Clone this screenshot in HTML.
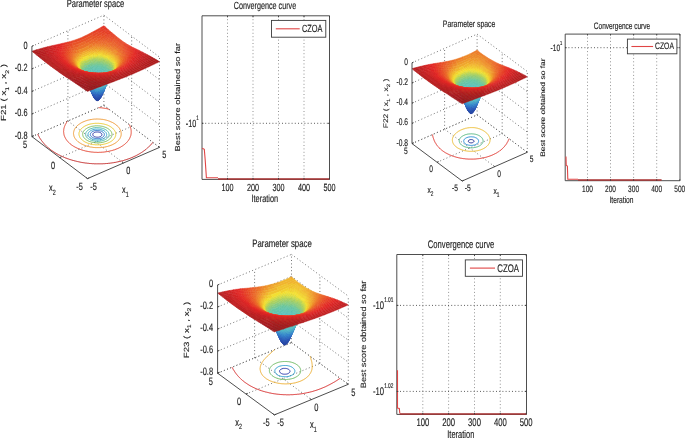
<!DOCTYPE html>
<html><head><meta charset="utf-8"><style>
html,body{margin:0;padding:0;background:#fff;width:685px;height:438px;overflow:hidden}
svg{display:block;filter:blur(0.35px)}
text{font-family:'Liberation Sans', Arial, Helvetica, sans-serif;fill:#222;stroke:#222;stroke-width:0.15px;text-rendering:geometricPrecision}
.g{stroke:#777;stroke-width:0.8;stroke-dasharray:1 2.4;fill:none}
.grid .g{stroke:#5a5a5a;stroke-width:0.85}
.g2{stroke:#333;stroke-width:0.8;stroke-dasharray:1 2.2;fill:none}
.a{stroke:#3a3a3a;stroke-width:0.9;fill:none}
rect.a{fill:#fff}
.cont path{fill:none;stroke-width:10}
.surf path{stroke-width:5;stroke-linejoin:round;fill:currentColor;stroke:currentColor}
.c0{color:#28429d}.c1{color:#2945a0}.c2{color:#2a47a3}.c3{color:#2a4aa6}.c4{color:#2b4ca9}.c5{color:#2b4fac}.c6{color:#2c51af}.c7{color:#2d54b2}.c8{color:#2e58b6}.c9{color:#2f5eb9}.c10{color:#3065bc}.c11{color:#316bbf}.c12{color:#3371c2}.c13{color:#3477c5}.c14{color:#357ec8}.c15{color:#3684cb}.c16{color:#398bcd}.c17{color:#3e92cc}.c18{color:#4299cb}.c19{color:#46a0ca}.c20{color:#4ba7c9}.c21{color:#4faec8}.c22{color:#53b5c7}.c23{color:#58bcc6}.c24{color:#5bc0c4}.c25{color:#5dc1bf}.c26{color:#5fc2ba}.c27{color:#61c3b5}.c28{color:#62c3b1}.c29{color:#64c4ac}.c30{color:#66c5a7}.c31{color:#68c6a2}.c32{color:#6fc79a}.c33{color:#7cc98d}.c34{color:#89cb80}.c35{color:#95cd74}.c36{color:#a2cf67}.c37{color:#b3d259}.c38{color:#c9d84b}.c39{color:#e0dd3c}.c40{color:#f2df30}.c41{color:#f1d12f}.c42{color:#f0c32e}.c43{color:#f0b52e}.c44{color:#efa72d}.c45{color:#ee992c}.c46{color:#ed8b2b}.c47{color:#ec7d2a}.c48{color:#eb712a}.c49{color:#ea6729}.c50{color:#e95d29}.c51{color:#e85328}.c52{color:#e64928}.c53{color:#e53f27}.c54{color:#e43527}.c55{color:#e32b26}.c56{color:#dd2525}.c57{color:#d42424}.c58{color:#ca2223}.c59{color:#c12022}.c60{color:#b71f20}.c61{color:#ae1d1f}.c62{color:#a41b1e}.c63{color:#9b1a1d}
.cv{stroke:#e04545;stroke-width:1.1;fill:none}
.cvb{stroke:#a83030;stroke-width:1.5;fill:none}
</style></head><body>
<svg width="685" height="438" viewBox="0 0 685 438">
<defs><filter id="bl" x="-5%" y="-5%" width="110%" height="110%"><feGaussianBlur stdDeviation="0.45"/></filter></defs>
<rect width="685" height="438" fill="#fff"/>
<g class="grid"><path class="g" d="M31.9 46.3L103.9 15.1"/>
<path class="g" d="M31.9 68.9L103.9 37.7"/>
<path class="g" d="M31.9 91.4L103.9 60.2"/>
<path class="g" d="M31.9 114L103.9 82.8"/>
<path class="g" d="M31.9 136.6L103.9 105.4"/>
<path class="g" d="M67.9 121L67.9 30.7"/>
<path class="g" d="M103.9 105.4L103.9 15.1"/>
<path class="g" d="M103.9 15.1L159.5 57.1"/>
<path class="g" d="M103.9 37.7L159.5 79.7"/>
<path class="g" d="M103.9 60.2L159.5 102.2"/>
<path class="g" d="M103.9 82.8L159.5 124.8"/>
<path class="g" d="M103.9 105.4L159.5 147.4"/>
<path class="g" d="M131.7 126.4L131.7 36.1"/>
<path class="g" d="M159.5 147.4L159.5 57.1"/>
<path class="g" d="M67.9 121L123.5 163"/>
<path class="g" d="M103.9 105.4L159.5 147.4"/>
<path class="g" d="M59.7 157.6L131.7 126.4"/>
<path class="g" d="M31.9 136.6L103.9 105.4"/></g>
<g class="cont" transform="scale(.1)"><path stroke="#c22525" d="M377 1341l1 3 2 4 2 4 2 3 2 5 2 3 3 5 1 3 3 5 2 2 3 6 2 2 3 5 2 3 4 5 3 4 2 4 4 5 2 2 4 5 3 5 3 2 4 5 4 5 2 2 4 5 5 5 3 3 4 4 4 4 5 5 5 4 3 3 4 4 6 4 5 5 5 4 5 4 6 5 5 4 6 4 6 4 6 4 6 4 6 4 3 2 6 4 7 4 6 4 7 3 3 2 7 4 6 4 4 1 7 4 7 3 4 2 7 4 7 3 4 2 8 3 3 2 8 3 4 2 8 3 4 1 8 3 4 2 9 3 4 1 7 3 6 2 4 1 9 3 5 1 5 2 8 2 5 1 5 2 8 2 6 1 5 2 6 1 8 2 5 1 6 1 5 2 8 1 7 2 6 1 5 1 5 1 7 1 7 1 7 1 7 1 6 1 6 1 6 0 6 1 6 1 6 0 6 1 7 1 6 0 6 1 7 0 7 1 6 0 7 0 7 1 7 0 7 0 6 0 5 0 6 0 6 0 7 0 7 0 8 0 6 0 5 0 6 0 8 0 8-1 5 0 5 0 8-1 8-1 5 0 6 0 9-1 5-1 6 0 9-2 5 0 7-1 7-1 5-1 9-1 5-1 9-2 5 0 9-2 5-1 8-2 5-1 9-2 4-1 9-2 7-1 5-2 9-2 5-1 7-2 8-3 8-2 5-2 8-2 7-3 8-2 5-2 7-3 7-2 8-3 7-3 7-3 8-3 7-4 7-3 7-3 7-3 7-4 4-2 6-3 6-4 7-3 6-4 3-2 7-4 6-3 5-4 4-2 6-4 5-3 4-3 6-5 3-2 6-4 3-3 5-3 5-4 3-3 5-4 3-3 5-4 3-3 4-3 4-4 2-2 5-5 3-2 4-5 3-3 2-2 5-5 2-3 3-3 4-5 2-2 2-3 4-5 0 0"/>
<path stroke="#e4412e" d="M675 1212l-2 2-2 3-3 4-3 4-1 3-2 3-2 4-3 4-2 4-2 3-1 3-2 4-1 3-2 4-1 4-2 4-1 4-1 4-1 3-1 4-1 4 0 3-1 4-1 3 0 4 0 3 0 4-1 3 0 4 0 4 1 5 0 3 0 4 1 3 0 4 1 5 1 3 1 3 1 4 1 5 1 2 2 5 2 4 1 3 3 5 1 3 3 5 2 3 3 5 2 3 3 5 2 2 4 5 4 5 2 2 4 5 5 5 5 4 2 2 5 5 5 4 6 5 5 4 6 4 6 4 6 4 3 2 7 4 7 3 6 4 4 2 7 3 5 3 6 2 8 3 4 2 7 3 5 2 6 2 7 2 4 2 9 2 5 2 4 1 9 2 6 2 4 1 6 1 8 2 7 1 5 1 6 1 5 1 7 1 7 1 6 1 7 0 7 1 6 1 6 0 7 1 6 0 6 0 6 0 6 1 7 0 8 0 7-1 6 0 5 0 6 0 9-1 6 0 5-1 8 0 7-1 5-1 9-1 5-1 8-1 6-1 7-1 7-2 8-1 5-2 8-2 4-1 9-2 8-3 8-2 4-1 7-3 8-3 7-3 8-3 7-3 7-3 7-4 6-3 4-2 6-4 6-4 7-4 3-2 5-4 4-2 5-4 5-4 3-3 5-4 3-3 3-3 4-4 3-2 4-5 3-3 2-3 4-4 2-4 2-2 2-4 3-4 2-4 2-3 2-3 2-4 2-4 1-4 2-4 1-3 1-4 2-3 1-4 0-3 1-4 1-4 1-3 0-4 1-4 0-4 0-3 0-4 0-3 0-3 0-4 0-5-1-4 0-3-1-3 0-4-1-5-1-4-1-2-1-5-2-4-1-3-1-5-2-4-1-2-2-6-2-3-2-4"/>
<path stroke="#e4412e" d="M1091 1093l-8-2-4-1-6-2-8-2-6-1-5-1-5-1-7-1-7-1-7-1-7-1-7-1-6 0-6-1-7 0-6 0-2-1"/>
<path stroke="#f09932" d="M1147 1238l-6-4-6-3-7-4-5-3-6-2-7-4-4-1-8-4-4-1-8-3-4-2-7-2-7-2-4-1-7-2-8-2-5-1-6-1-5-1-6-1-7-1-7 0-7-1-6-1-6 0-6 0-6-1-6 0-7 0-8 0-7 1-6 0-5 0-9 1-6 1-5 0-9 2-5 1-9 1-4 1-9 2-5 1-8 2-8 3-8 2-4 2-7 3-8 3-7 3-7 3-7 3-3 2-7 4-6 4-6 4-3 2-6 4-2 2-6 4-2 3-6 4-2 3-4 4-3 3-2 3-4 5-2 3-2 3-2 3-3 4-2 5-2 3-1 3-1 4-1 3-1 4-1 3-1 4-1 4 0 4-1 4 0 4 0 4 1 3 0 3 1 4 1 5 0 3 1 3 2 5 1 4 2 2 2 6 2 3 3 5 1 2 4 5 2 3 4 5 4 4 4 4 3 3 5 5 6 4 5 4 6 4 6 4 5 3 5 3 7 4 7 3 3 2 8 3 4 2 8 3 4 2 8 3 5 1 5 2 9 2 4 1 5 1 8 2 8 2 5 1 6 0 5 1 6 1 6 1 7 1 6 0 6 1 7 0 6 0 8 0 7 0 7 0 6 0 5 0 7 0 9-1 5-1 5 0 9-1 5-1 9-1 5-1 9-2 4-1 9-2 5-1 7-3 8-2 8-3 8-3 3-1 8-3 4-2 6-3 7-4 6-3 7-4 3-2 6-4 5-4 3-3 6-4 2-2 4-4 3-4 3-2 4-5 2-3 2-3 3-4 3-4 2-3 1-3 2-4 1-3 2-4 1-4 1-4 1-3 1-4 1-4 0-3 0-4 0-3 0-4 0-5-1-4 0-3-1-3-1-5-1-4-1-3-2-4-1-4-2-3-3-5-1-3-3-5-2-3-4-5-4-4-2-3-4-5-5-4-5-5-2-2-6-4-5-4-6-5-3-2"/>
<path stroke="#ebca2d" d="M1109 1269l-4-2-7-4-7-4-4-2-7-3-6-3-6-2-5-2-7-2-5-1-7-2-7-2-5-1-6-1-5-1-8-1-6-1-7-1-6 0-7-1-6 0-5 0-7 0-7 0-9 0-5 1-5 0-9 1-6 1-6 1-7 1-6 1-8 2-8 2-4 1-8 3-8 3-7 3-7 3-7 3-7 4-5 3-4 3-6 4-3 2-5 4-3 3-5 4-2 3-4 4-3 4-2 2-2 4-3 4-2 4-1 4-1 3-2 3-1 4 0 4-1 4 0 4 0 3 0 4 0 3 1 3 1 5 1 4 1 3 2 5 1 3 2 4 3 4 3 4 3 4 4 4 4 5 3 2 5 5 5 4 6 4 6 4 3 2 7 4 7 3 4 2 7 3 6 3 6 2 5 1 9 3 4 1 5 2 8 2 7 1 6 1 5 1 6 1 6 0 6 1 6 1 7 0 7 0 7 0 8 0 6 0 5 0 6 0 9-1 5-1 7-1 8-1 4-1 9-2 6-1 7-2 8-2 8-3 4-1 7-3 7-3 6-3 5-2 6-4 6-4 4-2 5-4 5-4 3-3 4-3 3-4 3-3 3-4 3-4 2-3 1-3 2-3 2-5 2-4 1-3 1-4 1-4 0-3 0-4 0-3 0-3 0-4-1-5 0-4-1-3-2-4-1-4-2-3-3-5-1-3-4-5-2-3-4-4-4-5-5-5-2-2-6-4-5-4-5-4"/>
<path stroke="#7dbd5a" d="M1078 1285l-3-2-7-4-7-3-4-2-8-3-4-1-7-2-7-2-5-2-5-1-7-1-7-1-7-1-7-1-6 0-6-1-6 0-6 0-5 0-8 0-8 1-5 1-7 1-7 1-6 1-8 1-8 3-4 1-8 3-7 2-8 4-6 3-7 4-3 2-6 4-4 3-4 3-3 3-4 5-2 2-3 4-3 4-2 4-1 3-2 3-1 4-1 3-1 4 0 4 0 4 0 4 1 3 0 3 2 5 1 4 1 3 3 5 2 3 4 5 3 3 3 4 5 5 5 4 6 4 6 4 7 4 3 1 7 4 5 2 7 3 5 1 8 3 5 1 5 1 7 2 7 1 8 1 6 1 6 1 6 0 7 0 6 0 5 0 6 0 7 0 9-1 5 0 6-1 8-1 5-1 8-2 8-2 4-2 8-2 8-3 7-3 7-4 5-3 4-3 6-4 3-2 5-4 3-3 4-5 2-2 2-3 3-4 2-5 2-3 1-4 1-3 1-4 1-4 0-4 0-3 0-3-1-4-1-4-1-4-1-3-2-5-2-3-3-5-2-3-5-5-4-4-3-3-5-4-6-4-6-4"/>
<path stroke="#48b9a9" d="M1050 1294l-3-2-8-3-4-2-9-3-4-1-5-1-7-2-8-1-6-1-7-1-6 0-7-1-5 0-6 0-5 1-9 0-6 1-6 1-8 1-6 2-7 2-8 2-7 3-7 3-7 4-6 4-3 2-5 4-3 3-4 4-3 4-2 2-2 4-2 4-1 4-1 4-1 3 0 4 0 3 0 3 1 5 1 4 1 3 3 5 2 3 3 5 2 2 5 5 5 4 6 4 6 4 4 2 7 4 7 3 4 2 6 1 8 3 5 1 5 1 7 1 7 1 7 1 6 0 6 1 6 0 6 0 8-1 7 0 5-1 9-2 5 0 8-2 6-2 6-2 8-3 7-3 6-4 4-2 6-4 4-3 4-4 2-2 5-5 1-3 2-3 2-3 2-4 1-4 1-4 0-3 0-4 0-4-1-4-1-4-1-3-3-5-1-3-4-5-2-2-4-5-5-5-6-4-6-4-7-3"/>
<path stroke="#33a5cf" d="M1027 1302l-6-2-5-2-8-2-5-2-6-1-5 0-6-1-7-1-7 0-8 1-7 0-5 0-9 2-4 1-9 2-8 3-3 1-5 2-6 3-6 4-5 4-3 3-4 3-3 4-2 3-1 3-2 4-1 3-1 4 0 4 1 5 1 3 1 3 2 5 2 3 4 5 3 3 4 4 6 4 3 2 7 4 7 3 4 2 8 2 6 2 5 1 5 1 7 1 7 1 6 0 6 0 8 0 8-1 4 0 9-2 5-1 9-2 6-2 5-2 7-3 3-2 7-4 5-4 3-3 3-3 3-5 2-2 2-4 1-3 1-3 1-4 0-5-1-4-1-3-1-3-3-6-1-2-4-5-5-5-5-4-6-4-7-4-6-2"/>
<path stroke="#2a73ca" d="M1013 1312l-8-2-4-1-6-2-8-1-6-1-6 0-6 0-7 0-8 1-5 1-8 2-8 3-7 3-6 4-5 4-3 3-3 2-3 5-1 4-1 4-1 3 0 3 1 3 2 6 1 3 4 5 3 2 5 4 6 4 3 2 8 4 4 1 8 2 7 2 6 0 6 1 7 0 6 0 5 0 7-1 7-1 9-3 4-1 7-3 4-2 6-4 5-4 2-3 3-2 2-5 2-4 1-4 0-3-1-3 0-4-2-5-2-2-4-5-5-5-6-4-6-4-5-2"/>
<path stroke="#2b38a7" d="M1001 1325l-4-2-6-1-8-2-6 0-6-1-5 1-10 1-4 1-7 3-7 4-3 2-4 4-2 4-1 3 0 4 0 4 1 3 4 5 5 4 6 4 8 3 5 1 5 1 6 1 8 0 8 0 4-1 9-2 7-3 6-4 4-3 3-5 2-3 0-4 0-3-1-3-2-5-3-3-5-4-7-4"/></g>
<g filter="url(#bl)"><g class="surf" transform="scale(.1)"><path class="c54" d="M999 280l20-12 20-11 16 14-21 12-20 12zM629 432l10-2 9-2 9-2 10-2 15 18-9 2-9 2-10 2-9 2z"/>
<path class="c53" d="M919 323l10-5 9-5 20-11 21-11 20-11 15 15-20 11-20 12-20 11-10 6-9 5zM667 424l9-3 9-2 10-3 9-2 10-3 15 20-9 2-10 3-9 2-9 2-10 2z"/>
<path class="c52" d="M714 411l9-3 9-3 10-3 9-3 9-3 10-4 9-3 9-4 10-3 9-4 10-4 9-5 9-4 10-4 9-5 9-4 10-5 9-4 9-5 10-5 9-5 9-5 16 17-9 5-10 5-9 5-9 5-10 5-9 5-9 5-10 5-9 4-10 5-9 4-9 4-10 4-9 4-9 4-10 3-9 4-9 3-10 3-9 3-10 3-9 3z"/>
<path class="c55" d="M592 441l9-2 10-3 9-2 9-2 16 18-9 2-10 2-9 1-10 2z"/>
<path class="c56" d="M542 452l22-5 9-2 10-2 9-2 15 16-9 2-9 2-10 2-22 4z"/>
<path class="c57" d="M519 457l23-5 15 15-22 5z"/>
<path class="c58" d="M475 468l22-6 22-5 16 15-22 4-23 6z"/>
<path class="c59" d="M430 479l23-6 22-5 15 14-22 5-22 6z"/>
<path class="c60" d="M364 498l22-6 22-7 22-6 16 14-22 6-23 6-22 6z"/>
<path class="c61" d="M319 512l22-7 23-7 15 13-22 7-22 7z"/>
<path class="c54" d="M1034 283l21-12 15 14-20 12zM617 455l9-1 10-2 9-2 15 19-9 1-9 2-10 1z"/>
<path class="c53" d="M974 318l20-12 20-11 20-12 16 14-20 12-20 12-21 13zM645 450l9-2 10-2 9-2 9-2 16 20-9 2-10 2-9 1-10 2z"/>
<path class="c52" d="M916 350l10-5 9-5 9-5 10-6 20-11 15 16-20 12-9 5-9 6-10 5-9 6zM682 442l10-2 9-2 9-2 10-3 15 21-9 3-9 2-10 2-9 1z"/>
<path class="c51" d="M720 433l9-2 9-3 10-3 9-3 10-3 9-3 9-4 10-3 9-4 9-4 10-4 9-4 9-4 10-5 9-4 10-5 9-5 9-5 10-5 9-5 9-5 16 18-9 5-10 6-9 5-10 5-9 5-9 5-10 5-9 5-9 4-10 5-9 4-9 4-10 4-9 4-10 3-9 4-9 3-10 3-9 2-9 3-10 2z"/>
<path class="c55" d="M589 461l9-2 9-2 10-2 15 18-9 1-9 2-10 1z"/>
<path class="c56" d="M557 467l22-4 10-2 15 16-9 2-22 4z"/>
<path class="c57" d="M513 476l22-4 22-5 16 16-23 4-22 4z"/>
<path class="c58" d="M468 487l22-5 23-6 15 15-22 5-22 5z"/>
<path class="c59" d="M424 499l22-6 22-6 16 14-23 5-22 6z"/>
<path class="c60" d="M379 511l22-6 23-6 15 13-22 6-22 6z"/>
<path class="c61" d="M335 525l22-7 22-7 16 13-23 6-22 7z"/>
<path class="c54" d="M1050 297l20-12 16 14-20 12zM614 476l9-2 9-1 10-1 15 18-9 1-9 1-10 1z"/>
<path class="c53" d="M1010 321l20-12 20-12 16 14-21 13-20 13zM642 472l9-2 9-1 10-2 15 20-9 1-9 1-10 1z"/>
<path class="c52" d="M960 351l9-5 20-12 21-13 15 16-20 12-20 13-9 6zM670 467l9-1 10-2 9-2 15 22-9 1-9 1-10 1z"/>
<path class="c51" d="M913 379l10-6 9-5 9-6 10-5 9-6 16 17-10 6-9 6-10 6-9 6-9 6zM698 462l9-1 10-2 9-2 16 22-10 2-9 1-10 2z"/>
<path class="c50" d="M848 413l9-4 9-5 10-5 9-5 9-5 10-5 9-5 16 19-10 5-9 6-9 6-10 5-9 5-9 6-10 5zM726 457l9-3 10-2 9-3 9-2 10-3 9-3 16 23-10 3-9 3-9 3-10 2-9 2-9 2z"/>
<path class="c49" d="M782 441l9-4 10-3 9-4 10-4 9-4 9-4 10-5 15 23-9 4-9 5-10 4-9 4-10 4-9 4-9 3z"/>
<path class="c55" d="M573 483l22-4 9-2 10-1 15 17-9 2-9 1-23 3z"/>
<path class="c56" d="M550 487l23-4 15 16-22 3z"/>
<path class="c57" d="M528 491l22-4 16 15-22 4z"/>
<path class="c58" d="M484 501l22-5 22-5 16 15-23 4-22 5z"/>
<path class="c59" d="M439 512l22-6 23-5 15 14-22 5-22 5z"/>
<path class="c60" d="M395 524l22-6 22-6 16 13-23 6-22 6z"/>
<path class="c61" d="M350 537l22-7 23-6 15 13-22 6-22 7z"/>
<path class="c53" d="M1045 324l21-13 20-12 15 13-20 13-20 13zM629 493l10-1 9-1 9-1 16 20-9 1-10 0-9 1z"/>
<path class="c52" d="M1005 349l20-12 20-13 16 14-20 14-20 13zM657 490l10-1 9-1 9-1 16 22-9 0-10 1-9 0z"/>
<path class="c51" d="M966 374l10-6 9-6 20-13 16 16-21 14-9 7-9 6zM685 487l10-1 9-1 16 23-10 0-9 1z"/>
<path class="c50" d="M929 398l9-6 9-6 10-6 9-6 16 18-10 6-9 7-9 6-10 7zM704 485l9-1 10-2 9-1 16 24-10 1-9 1-9 1z"/>
<path class="c49" d="M882 425l9-5 10-5 9-6 9-6 10-5 15 20-9 6-9 6-10 6-9 6-9 6zM732 481l10-2 9-2 9-2 10-2 15 26-9 2-10 1-9 2-9 1z"/>
<path class="c48" d="M770 473l9-3 9-3 10-3 9-3 9-4 10-4 9-4 10-4 9-5 9-4 10-5 9-6 16 23-10 6-9 6-10 5-9 5-9 5-10 4-9 4-9 4-10 3-9 3-9 3-10 3z"/>
<path class="c54" d="M611 496l9-1 9-2 16 19-10 0-9 1z"/>
<path class="c55" d="M588 499l23-3 15 17-22 2z"/>
<path class="c56" d="M566 502l22-3 16 16-22 3z"/>
<path class="c57" d="M521 510l23-4 22-4 16 16-23 3-22 3z"/>
<path class="c58" d="M477 520l22-5 22-5 16 14-22 4-22 5z"/>
<path class="c59" d="M455 525l22-5 16 13-23 5z"/>
<path class="c60" d="M388 543l22-6 22-6 23-6 15 13-22 6-22 5-22 7z"/>
<path class="c61" d="M366 550l22-7 16 13-23 6z"/>
<path class="c53" d="M1061 338l20-13 20-13 16 14-20 13-20 14zM635 512l10 0 9-1 16 19-10 0-9 0z"/>
<path class="c52" d="M1041 352l20-14 16 15-21 14zM654 511l10 0 9-1 15 21-9 0-9-1z"/>
<path class="c51" d="M1000 379l21-14 20-13 15 15-20 15-20 14zM673 510l9 0 10-1 15 22-9 0-10 0z"/>
<path class="c50" d="M972 398l10-6 9-6 9-7 16 17-9 7-10 7-9 7zM692 509l9 0 9-1 16 24-9 0-10-1z"/>
<path class="c49" d="M944 418l10-7 9-6 9-7 16 19-9 7-10 8-9 7zM710 508l10 0 9-1 16 25-10 0-9 0z"/>
<path class="c48" d="M916 436l10-6 9-6 9-6 16 21-9 7-10 7-9 7zM729 507l9-1 10-1 9-1 16 27-10 1-9 0-9 0z"/>
<path class="c47" d="M879 460l9-6 10-6 9-6 9-6 16 24-10 7-9 6-9 7-10 6zM757 504l9-2 10-1 9-2 16 28-10 2-9 1-9 1z"/>
<path class="c46" d="M785 499l10-3 9-3 9-3 10-3 9-4 9-4 10-4 9-5 9-5 10-5 15 26-9 6-9 6-10 5-9 5-9 4-10 4-9 4-10 3-9 2-9 2z"/>
<path class="c54" d="M604 515l22-2 9-1 16 18-9 1-23 1z"/>
<path class="c55" d="M582 518l22-3 15 17-22 1z"/>
<path class="c56" d="M559 521l23-3 15 15-22 3z"/>
<path class="c57" d="M537 524l22-3 16 15-22 3z"/>
<path class="c58" d="M493 533l22-5 22-4 16 15-23 3-22 5z"/>
<path class="c59" d="M448 544l22-6 23-5 15 14-22 4-22 6z"/>
<path class="c60" d="M404 556l22-7 22-5 16 13-23 5-22 6z"/>
<path class="c61" d="M381 562l23-6 15 12-22 7z"/>
<path class="c53" d="M1097 339l20-13 7 6-20 14zM642 531l9-1 7 9-9 0z"/>
<path class="c52" d="M1056 367l21-14 20-14 7 7-20 14-20 14zM651 530l9 0 10 0 7 10-9-1-10 0z"/>
<path class="c51" d="M1036 382l20-15 8 7-21 15zM670 530l9 1 9 0 8 10-10-1-9 0z"/>
<path class="c50" d="M1007 403l9-7 20-14 7 7-20 15-9 8zM688 531l10 0 9 0 7 11-9 0-9-1z"/>
<path class="c49" d="M979 424l9-7 9-7 10-7 7 9-9 7-10 7-9 8zM707 531l10 1 9 0 7 12-9-1-10-1z"/>
<path class="c48" d="M960 439l9-7 10-8 7 10-10 7-9 8zM726 532l9 0 10 0 7 13-10-1-9 0z"/>
<path class="c47" d="M932 460l9-7 10-7 9-7 7 10-9 7-10 8-9 7zM745 532l9 0 9 0 8 13-10 0-9 0z"/>
<path class="c46" d="M904 480l9-7 9-6 10-7 7 11-9 8-10 7-9 7zM763 532l10-1 9-1 7 15-9 0-9 0z"/>
<path class="c45" d="M866 503l10-5 9-6 9-6 10-6 7 13-9 7-10 6-9 6-9 6zM782 530l9-1 10-2 9-2 9-2 8 15-10 2-9 2-9 2-10 1z"/>
<path class="c44" d="M819 523l10-3 9-4 10-4 9-4 9-5 8 15-10 5-9 4-10 4-9 4-9 3z"/>
<path class="c54" d="M619 532l23-1 7 8-22 0z"/>
<path class="c55" d="M597 533l22-1 8 7-23 2z"/>
<path class="c56" d="M575 536l22-3 7 8-22 2z"/>
<path class="c57" d="M530 542l23-3 22-3 7 7-22 2-22 4z"/>
<path class="c58" d="M508 547l22-5 8 7-23 4z"/>
<path class="c59" d="M464 557l22-6 22-4 7 6-22 4-22 5z"/>
<path class="c60" d="M419 568l22-6 23-5 7 5-22 6-23 6z"/>
<path class="c61" d="M397 575l22-7 7 6-22 6z"/>
<path class="c53" d="M1104 346l20-14 7 6-20 14zM627 539l22 0 9 0 7 9-9 0-22-1z"/>
<path class="c52" d="M1064 374l20-14 20-14 7 6-20 15-20 14zM658 539l10 0 9 1 7 9-9 0-10-1z"/>
<path class="c51" d="M1043 389l21-15 7 7-20 16zM677 540l9 0 8 10-10-1z"/>
<path class="c50" d="M1023 404l20-15 8 8-21 16zM686 540l10 1 9 1 7 10-9-1-9-1z"/>
<path class="c49" d="M995 426l10-7 9-7 9-8 7 9-9 7-9 8-10 8zM705 542l9 0 10 1 7 12-9-2-10-1z"/>
<path class="c48" d="M976 441l10-7 9-8 7 10-9 8-9 7zM724 543l9 1 7 12-9-1z"/>
<path class="c47" d="M958 456l9-7 9-8 8 10-10 8-9 8zM733 544l9 0 10 1 7 13-9-1-10-1z"/>
<path class="c46" d="M939 471l9-7 10-8 7 11-9 8-10 8zM752 545l9 0 10 0 7 14-10 0-9-1z"/>
<path class="c45" d="M911 493l9-7 10-7 9-8 7 12-9 8-9 8-10 7zM771 545l9 0 9 0 7 15-9 0-9-1z"/>
<path class="c44" d="M883 512l9-6 10-6 9-7 7 13-9 8-10 7-9 6zM789 545l10-1 9-2 9-2 8 16-10 2-9 1-10 1z"/>
<path class="c43" d="M817 540l10-2 9-3 9-4 10-4 9-4 10-5 9-6 7 15-9 6-10 5-9 5-9 5-10 3-9 3-9 2z"/>
<path class="c55" d="M604 541l23-2 7 8-22 1z"/>
<path class="c56" d="M560 545l22-2 22-2 8 7-23 1-22 3z"/>
<path class="c57" d="M538 549l22-4 7 7-22 3z"/>
<path class="c58" d="M515 553l23-4 7 6-22 4z"/>
<path class="c59" d="M471 562l22-5 22-4 8 6-23 4-22 5z"/>
<path class="c60" d="M426 574l23-6 22-6 7 6-22 6-22 6z"/>
<path class="c61" d="M404 580l22-6 8 6-23 6z"/>
<path class="c53" d="M1111 352l20-14 8 6-21 14zM634 547l22 1 7 8-22-1z"/>
<path class="c52" d="M1091 367l20-15 7 6-20 15zM656 548l9 0 10 1 7 9-9-1-10-1z"/>
<path class="c51" d="M1051 397l20-16 20-14 7 6-20 16-20 15zM675 549l9 0 7 10-9-1z"/>
<path class="c50" d="M1030 413l21-16 7 7-20 17zM684 549l10 1 9 1 7 11-9-2-10-1z"/>
<path class="c49" d="M1012 428l9-8 9-7 8 8-10 8-9 8zM703 551l9 1 10 1 7 12-10-2-9-1z"/>
<path class="c48" d="M993 444l9-8 10-8 7 9-9 8-10 8zM722 553l9 2 7 12-9-2z"/>
<path class="c47" d="M974 459l10-8 9-7 7 9-9 9-9 8zM731 555l9 1 10 1 7 13-9-1-10-2z"/>
<path class="c46" d="M956 475l9-8 9-8 8 11-10 9-9 8zM750 557l9 1 7 14-9-2z"/>
<path class="c45" d="M937 491l9-8 10-8 7 12-10 9-9 8zM759 558l9 1 10 0 7 16-9-2-10-1z"/>
<path class="c44" d="M918 506l10-7 9-8 7 13-9 9-10 8zM778 559l9 1 7 15-9 0z"/>
<path class="c43" d="M899 521l10-7 9-8 7 15-9 8-9 7zM787 560l9 0 10-1 9-1 7 17-9 1-9 0-10-1z"/>
<path class="c42" d="M815 558l10-2 9-2 9-3 10-3 9-5 9-5 10-5 9-6 9-6 8 15-10 7-9 6-9 6-10 5-9 5-9 3-10 3-9 2-10 2z"/>
<path class="c54" d="M612 548l22-1 7 8-22 0z"/>
<path class="c55" d="M589 549l23-1 7 7-22 1z"/>
<path class="c56" d="M567 552l22-3 8 7-23 3z"/>
<path class="c57" d="M545 555l22-3 7 7-22 3z"/>
<path class="c58" d="M523 559l22-4 7 7-22 3z"/>
<path class="c59" d="M478 568l22-5 23-4 7 6-22 5-23 4z"/>
<path class="c60" d="M434 580l22-6 22-6 7 6-22 6-22 6z"/>
<path class="c61" d="M411 586l23-6 7 6-22 6z"/>
<path class="c53" d="M1118 358l21-14 7 6-20 15zM641 555l22 1 8 9-23-2z"/>
<path class="c52" d="M1098 373l20-15 8 7-21 15zM663 556l10 1 7 9-9-1z"/>
<path class="c51" d="M1078 389l20-16 7 7-20 16zM673 557l9 1 9 1 8 10-10-2-9-1z"/>
<path class="c50" d="M1058 404l20-15 7 7-20 16zM691 559l10 1 7 10-9-1z"/>
<path class="c49" d="M1028 429l10-8 20-17 7 8-20 17-9 8zM701 560l9 2 9 1 8 12-10-3-9-2z"/>
<path class="c48" d="M1010 445l9-8 9-8 8 8-10 9-9 8zM719 563l10 2 7 12-9-2z"/>
<path class="c47" d="M991 462l9-9 10-8 7 9-9 9-10 9zM729 565l9 2 7 12-9-2z"/>
<path class="c46" d="M982 470l9-8 7 10-9 9zM738 567l10 2 9 1 7 14-9-2-10-3z"/>
<path class="c45" d="M963 487l9-8 10-9 7 11-10 9-9 10zM757 570l9 2 8 14-10-2z"/>
<path class="c44" d="M944 504l9-8 10-9 7 13-9 9-10 9zM766 572l10 1 7 16-9-3z"/>
<path class="c43" d="M925 521l10-8 9-9 7 14-9 9-9 9zM776 573l9 2 9 0 8 17-10-2-9-1z"/>
<path class="c42" d="M907 536l9-7 9-8 8 15-10 8-9 8zM794 575l10 1 9 0 7 17-9 0-9-1z"/>
<path class="c41" d="M879 555l9-6 9-6 10-7 7 16-9 8-10 7-9 6zM813 576l9-1 10-2 7 19-9 1-10 0z"/>
<path class="c40" d="M832 573l9-2 10-3 9-3 9-5 10-5 7 18-10 6-9 4-9 4-10 3-9 2z"/>
<path class="c54" d="M619 555l22 0 7 8-22 0z"/>
<path class="c55" d="M597 556l22-1 7 8-22 0z"/>
<path class="c56" d="M574 559l23-3 7 7-22 2z"/>
<path class="c57" d="M552 562l22-3 8 6-23 3z"/>
<path class="c58" d="M508 570l22-5 22-3 7 6-22 3-22 5z"/>
<path class="c59" d="M485 574l23-4 7 6-22 4z"/>
<path class="c60" d="M441 586l22-6 22-6 8 6-23 6-22 5z"/>
<path class="c61" d="M419 592l22-6 7 5-22 6z"/>
<path class="c53" d="M1126 365l20-15 7 6-20 15z"/>
<path class="c52" d="M1105 380l21-15 7 6-20 16zM648 563l23 2 7 8-22-2z"/>
<path class="c51" d="M1085 396l20-16 8 7-21 16zM671 565l9 1 9 1 7 10-9-2-9-2z"/>
<path class="c50" d="M1065 412l20-16 7 7-20 17zM689 567l10 2 7 10-10-2z"/>
<path class="c49" d="M1045 429l20-17 7 8-20 18zM699 569l9 1 9 2 8 11-10-2-9-2z"/>
<path class="c48" d="M1026 446l10-9 9-8 7 9-9 8-10 9zM717 572l10 3 7 11-9-3z"/>
<path class="c47" d="M1008 463l9-9 9-8 7 9-9 9-9 9zM727 575l9 2 7 12-9-3z"/>
<path class="c46" d="M998 472l10-9 7 10-10 10zM736 577l9 2 8 13-10-3z"/>
<path class="c45" d="M979 490l10-9 9-9 7 11-9 10-9 9zM745 579l10 3 9 2 7 15-9-4-9-3z"/>
<path class="c44" d="M970 500l9-10 8 12-10 10zM764 584l10 2 7 16-10-3z"/>
<path class="c43" d="M951 518l10-9 9-9 7 12-9 10-9 10zM774 586l9 3 7 16-9-3z"/>
<path class="c42" d="M942 527l9-9 8 14-10 10zM783 589l9 1 7 17-9-2z"/>
<path class="c41" d="M923 544l10-8 9-9 7 15-9 10-10 9zM792 590l10 2 9 1 7 18-9-2-10-2z"/>
<path class="c40" d="M905 560l9-8 9-8 7 17-9 9-9 8zM811 593l9 0 10 0 7 19-9 0-10-1z"/>
<path class="c39" d="M830 593l9-1 9-2 10-3 9-4 9-4 10-6 9-6 10-7 7 18-10 8-9 7-9 5-10 5-9 4-9 3-10 2-9 0z"/>
<path class="c54" d="M626 563l22 0 8 8-23-1z"/>
<path class="c55" d="M604 563l22 0 7 7-22 0z"/>
<path class="c56" d="M582 565l22-2 7 7-22 2z"/>
<path class="c57" d="M559 568l23-3 7 7-22 2z"/>
<path class="c58" d="M515 576l22-5 22-3 8 6-23 4-22 4z"/>
<path class="c59" d="M493 580l22-4 7 6-22 4z"/>
<path class="c60" d="M448 591l22-5 23-6 7 6-23 5-22 6z"/>
<path class="c61" d="M426 597l22-6 7 6-22 6z"/>
<path class="c52" d="M1113 387l20-16 20-15 7 6-20 15-20 16zM656 571l22 2 7 9-22-3z"/>
<path class="c51" d="M1092 403l21-16 7 6-20 17zM678 573l9 2 7 9-9-2z"/>
<path class="c50" d="M1072 420l20-17 8 7-20 17zM687 575l9 2 10 2 7 10-9-3-10-2z"/>
<path class="c49" d="M1052 438l20-18 8 7-21 19zM706 579l9 2 7 10-9-2z"/>
<path class="c48" d="M1043 446l9-8 7 8-9 9zM715 581l10 2 7 12-10-4z"/>
<path class="c47" d="M1024 464l9-9 10-9 7 9-9 9-10 10zM725 583l9 3 7 12-9-3z"/>
<path class="c46" d="M1015 473l9-9 7 10-9 10zM734 586l9 3 8 13-10-4z"/>
<path class="c45" d="M996 493l9-10 10-10 7 11-9 10-10 10zM743 589l10 3 7 14-9-4z"/>
<path class="c44" d="M987 502l9-9 7 11-9 11zM753 592l9 3 7 15-9-4z"/>
<path class="c43" d="M977 512l10-10 7 13-9 10zM762 595l9 4 10 3 7 16-9-4-10-4z"/>
<path class="c42" d="M959 532l9-10 9-10 8 13-10 11-9 11zM781 602l9 3 7 17-9-4z"/>
<path class="c41" d="M949 542l10-10 7 15-10 11zM790 605l9 2 8 18-10-3z"/>
<path class="c40" d="M940 552l9-10 7 16-9 10zM799 607l10 2 7 19-9-3z"/>
<path class="c39" d="M921 570l9-9 10-9 7 16-9 11-10 9zM809 609l9 2 7 20-9-3z"/>
<path class="c38" d="M902 586l10-8 9-8 7 18-9 10-9 8zM818 611l10 1 9 0 7 21-9-1-10-1z"/>
<path class="c37" d="M837 612l9 0 10-2 9-3 9-4 10-5 9-5 9-7 8 20-10 7-9 7-9 5-10 4-9 3-10 1-9 0z"/>
<path class="c54" d="M633 570l23 1 7 8-23-2z"/>
<path class="c55" d="M611 570l22 0 7 7-22 0z"/>
<path class="c56" d="M589 572l22-2 7 7-22 1z"/>
<path class="c57" d="M567 574l22-2 7 6-22 3z"/>
<path class="c58" d="M522 582l22-4 23-4 7 7-23 3-22 4z"/>
<path class="c59" d="M500 586l22-4 7 6-22 4z"/>
<path class="c60" d="M455 597l22-6 23-5 7 6-22 5-23 6z"/>
<path class="c61" d="M433 603l22-6 7 6-22 6z"/>
<path class="c52" d="M1120 393l20-16 20-15 7 6-20 16-20 16zM663 579l22 3 7 9-22-4z"/>
<path class="c51" d="M1100 410l20-17 7 7-20 17zM685 582l9 2 8 9-10-2z"/>
<path class="c50" d="M1080 427l20-17 7 7-20 18zM694 584l10 2 7 10-9-3z"/>
<path class="c48" d="M1050 455l9-9 21-19 7 8-20 19-10 10zM713 589l9 2 8 11-10-3z"/>
<path class="c47" d="M1041 464l9-9 7 9-9 9zM722 591l10 4 7 11-9-4z"/>
<path class="c46" d="M1031 474l10-10 7 9-9 11zM732 595l9 3 7 12-9-4z"/>
<path class="c45" d="M1013 494l9-10 9-10 8 10-10 10-9 11zM741 598l10 4 7 13-10-5z"/>
<path class="c44" d="M1003 504l10-10 7 11-10 11zM751 602l9 4 7 13-9-4z"/>
<path class="c43" d="M994 515l9-11 7 12-9 11zM760 606l9 4 7 14-9-5z"/>
<path class="c42" d="M985 525l9-10 7 12-9 12zM769 610l10 4 7 15-10-5z"/>
<path class="c41" d="M966 547l9-11 10-11 7 14-10 12-9 12zM779 614l9 4 7 16-9-5z"/>
<path class="c40" d="M956 558l10-11 7 16-9 11zM788 618l9 4 8 17-10-5z"/>
<path class="c39" d="M947 568l9-10 8 16-10 12zM797 622l10 3 7 19-9-5z"/>
<path class="c38" d="M938 579l9-11 7 18-9 11zM807 625l9 3 7 20-9-4z"/>
<path class="c37" d="M928 588l10-9 7 18-9 11zM816 628l9 3 10 1 7 22-9-2-10-4z"/>
<path class="c36" d="M910 606l9-8 9-10 8 20-10 10-9 10zM835 632l9 1 7 23-9-2z"/>
<path class="c35" d="M844 633l9 0 10-1 9-3 10-4 9-5 9-7 10-7 7 22-9 8-10 7-9 5-10 4-9 3-9 1-10 0z"/>
<path class="c49" d="M704 586l9 3 7 10-9-3z"/>
<path class="c53" d="M640 577l23 2 7 8-22-2z"/>
<path class="c55" d="M618 577l22 0 8 8-23-1z"/>
<path class="c56" d="M596 578l22-1 7 7-22 1z"/>
<path class="c57" d="M574 581l22-3 7 7-22 2z"/>
<path class="c58" d="M529 588l22-4 23-3 7 6-22 3-23 3z"/>
<path class="c59" d="M507 592l22-4 7 5-22 5z"/>
<path class="c60" d="M462 603l23-6 22-5 7 6-22 5-22 5z"/>
<path class="c61" d="M440 609l22-6 8 5-23 6z"/>
<path class="c52" d="M1147 384l20-16 8 6-20 16z"/>
<path class="c51" d="M1107 417l20-17 20-16 8 6-21 16-20 18zM670 587l22 4 7 9-22-5z"/>
<path class="c49" d="M1087 435l20-18 7 7-20 18zM702 593l9 3 7 9-9-3z"/>
<path class="c48" d="M1067 454l20-19 7 7-20 20zM711 596l9 3 10 3 7 11-9-4-10-4z"/>
<path class="c47" d="M1057 464l10-10 7 8-9 10zM730 602l9 4 7 11-9-4z"/>
<path class="c46" d="M1039 484l9-11 9-9 8 8-10 11-9 10zM739 606l9 4 8 12-10-5z"/>
<path class="c45" d="M1029 494l10-10 7 9-10 11zM748 610l10 5 7 13-9-6z"/>
<path class="c44" d="M1020 505l9-11 7 10-9 12z"/>
<path class="c43" d="M1010 516l10-11 7 11-9 12zM758 615l9 4 7 14-9-5z"/>
<path class="c42" d="M1001 527l9-11 8 12-10 12zM767 619l9 5 8 15-10-6z"/>
<path class="c41" d="M992 539l9-12 7 13-9 13zM776 624l10 5 7 17-9-7z"/>
<path class="c40" d="M982 551l10-12 7 14-9 12zM786 629l9 5 7 18-9-6z"/>
<path class="c39" d="M973 563l9-12 8 14-10 13zM795 634l10 5 7 19-10-6z"/>
<path class="c38" d="M964 574l9-11 7 15-9 14zM805 639l9 5 7 20-9-6z"/>
<path class="c37" d="M954 586l10-12 7 18-9 12zM814 644l9 4 8 21-10-5z"/>
<path class="c36" d="M945 597l9-11 8 18-10 13zM823 648l10 4 7 22-9-5z"/>
<path class="c35" d="M926 618l10-10 9-11 7 20-9 12-10 11zM833 652l9 2 7 23-9-3z"/>
<path class="c34" d="M917 628l9-10 7 22-9 11zM842 654l9 2 8 24-10-3z"/>
<path class="c33" d="M898 643l10-7 9-8 7 23-9 9-10 7zM851 656l10 0 9-1 7 25-9 1-9-1z"/>
<path class="c32" d="M870 655l9-3 10-4 9-5 7 24-9 6-9 5-10 2z"/>
<path class="c50" d="M692 591l10 2 7 9-10-2z"/>
<path class="c53" d="M648 585l22 2 7 8-22-3z"/>
<path class="c54" d="M625 584l23 1 7 7-22-1z"/>
<path class="c56" d="M603 585l22-1 8 7-23 0z"/>
<path class="c57" d="M559 590l22-3 22-2 7 6-22 2-22 3z"/>
<path class="c58" d="M536 593l23-3 7 6-22 3z"/>
<path class="c59" d="M492 603l22-5 22-5 8 6-23 5-22 5z"/>
<path class="c60" d="M447 614l23-6 22-5 7 6-22 5-22 6z"/>
<path class="c52" d="M1155 390l20-16 7 6-20 16z"/>
<path class="c51" d="M1134 406l21-16 7 6-20 16zM677 595l22 5 8 8-23-5z"/>
<path class="c50" d="M1114 424l20-18 8 6-21 18zM699 600l10 2 7 9-9-3z"/>
<path class="c49" d="M1094 442l20-18 7 6-20 20zM709 602l9 3 7 10-9-4z"/>
<path class="c48" d="M1074 462l20-20 7 8-20 21zM718 605l10 4 7 10-10-4z"/>
<path class="c47" d="M1065 472l9-10 7 9-9 10zM728 609l9 4 7 11-9-5z"/>
<path class="c46" d="M1055 483l10-11 7 9-10 11zM737 613l9 4 7 12-9-5z"/>
<path class="c45" d="M1046 493l9-10 7 9-9 11zM746 617l10 5 7 13-10-6z"/>
<path class="c44" d="M1036 504l10-11 7 10-9 12zM756 622l9 6 7 13-9-6z"/>
<path class="c43" d="M1027 516l9-12 8 11-10 12z"/>
<path class="c42" d="M1018 528l9-12 7 11-9 13zM765 628l9 5 8 15-10-7z"/>
<path class="c41" d="M1008 540l10-12 7 12-9 13zM774 633l10 6 7 16-9-7z"/>
<path class="c40" d="M999 553l9-13 8 13-10 14zM784 639l9 7 7 16-9-7z"/>
<path class="c39" d="M990 565l9-12 7 14-9 14zM793 646l9 6 8 18-10-8z"/>
<path class="c38" d="M980 578l10-13 7 16-10 14z"/>
<path class="c37" d="M971 592l9-14 7 17-9 14zM802 652l10 6 7 19-9-7z"/>
<path class="c36" d="M962 604l9-12 7 17-9 15zM812 658l9 6 7 21-9-8z"/>
<path class="c35" d="M952 617l10-13 7 20-10 14zM821 664l10 5 7 22-10-6z"/>
<path class="c34" d="M943 629l9-12 7 21-9 13zM831 669l9 5 7 23-9-6z"/>
<path class="c33" d="M933 640l10-11 7 22-9 13z"/>
<path class="c32" d="M924 651l9-11 8 24-10 11zM840 674l9 3 10 3 7 26-10-4-9-5z"/>
<path class="c31" d="M915 660l9-9 7 24-9 11zM859 680l9 1 7 26-9-1z"/>
<path class="c30" d="M868 681l9-1 10-2 9-5 9-6 10-7 7 26-9 8-10 6-9 5-9 2-10 0z"/>
<path class="c53" d="M655 592l22 3 7 8-22-4z"/>
<path class="c54" d="M633 591l22 1 7 7-22-1z"/>
<path class="c55" d="M610 591l23 0 7 7-22 0z"/>
<path class="c56" d="M588 593l22-2 8 7-23 1z"/>
<path class="c57" d="M566 596l22-3 7 6-22 3z"/>
<path class="c58" d="M544 599l22-3 7 6-22 3z"/>
<path class="c59" d="M499 609l22-5 23-5 7 6-22 4-23 5z"/>
<path class="c60" d="M455 620l22-6 22-5 7 5-22 6-22 6z"/>
<path class="c52" d="M1162 396l20-16 7 5-20 17z"/>
<path class="c51" d="M1142 412l20-16 7 6-20 17zM684 603l23 5 7 9-22-7z"/>
<path class="c50" d="M1121 430l21-18 7 7-20 18z"/>
<path class="c49" d="M1101 450l20-20 8 7-21 20zM707 608l9 3 7 9-9-3z"/>
<path class="c48" d="M1081 471l20-21 7 7-20 22zM716 611l9 4 8 9-10-4z"/>
<path class="c46" d="M1062 492l10-11 9-10 7 8-9 11-9 11zM735 619l9 5 7 11-9-6z"/>
<path class="c45" d="M1053 503l9-11 8 9-10 12zM744 624l9 5 8 12-10-6z"/>
<path class="c44" d="M1044 515l9-12 7 10-9 12zM753 629l10 6 7 12-9-6z"/>
<path class="c43" d="M1034 527l10-12 7 10-9 13zM763 635l9 6 7 13-9-7z"/>
<path class="c42" d="M1025 540l9-13 8 11-10 14z"/>
<path class="c41" d="M1016 553l9-13 7 12-9 14zM772 641l10 7 7 14-10-8z"/>
<path class="c39" d="M1006 567l10-14 7 13-10 15zM791 655l9 7 8 17-10-8z"/>
<path class="c38" d="M997 581l9-14 7 14-9 15z"/>
<path class="c37" d="M987 595l10-14 7 15-9 16zM800 662l10 8 7 18-9-9z"/>
<path class="c36" d="M978 609l9-14 8 17-10 16zM810 670l9 7 7 20-9-9z"/>
<path class="c34" d="M969 624l9-15 7 19-9 16zM819 677l9 8 8 21-10-9z"/>
<path class="c33" d="M959 638l10-14 7 20-9 15zM828 685l10 6 7 24-9-9z"/>
<path class="c32" d="M950 651l9-13 8 21-10 15z"/>
<path class="c30" d="M941 664l9-13 7 23-9 15zM847 697l9 5 8 26-10-6z"/>
<path class="c29" d="M931 675l10-11 7 25-9 13zM856 702l10 4 7 27-9-5z"/>
<path class="c28" d="M913 694l9-8 9-11 8 27-10 11-9 9zM866 706l9 1 10 0 7 29-10 0-9-3z"/>
<path class="c27" d="M885 707l9-2 9-5 10-6 7 28-10 7-9 5-9 2z"/>
<path class="c31" d="M838 691l9 6 7 25-9-7z"/>
<path class="c40" d="M782 648l9 7 7 16-9-9z"/>
<path class="c47" d="M725 615l10 4 7 10-9-5z"/>
<path class="c53" d="M662 599l22 4 8 7-23-4z"/>
<path class="c54" d="M640 598l22 1 7 7-22-2z"/>
<path class="c55" d="M618 598l22 0 7 6-22 0z"/>
<path class="c56" d="M595 599l23-1 7 6-22 1z"/>
<path class="c57" d="M573 602l22-3 8 6-23 3z"/>
<path class="c58" d="M551 605l22-3 7 6-22 3z"/>
<path class="c59" d="M506 614l23-5 22-4 7 6-22 4-22 5z"/>
<path class="c60" d="M462 626l22-6 22-6 8 6-23 5-22 6z"/>
<path class="c52" d="M1169 402l20-17 7 6-20 16zM669 606l23 4 7 8-22-5z"/>
<path class="c51" d="M1149 419l20-17 7 5-20 18z"/>
<path class="c50" d="M1129 437l20-18 7 6-20 19zM692 610l22 7 7 8-22-7z"/>
<path class="c49" d="M1108 457l21-20 7 7-20 20zM714 617l9 3 8 9-10-4z"/>
<path class="c47" d="M1088 479l20-22 8 7-20 23zM733 624l9 5 7 10-9-5z"/>
<path class="c46" d="M1079 490l9-11 8 8-10 11zM742 629l9 6 8 10-10-6z"/>
<path class="c45" d="M1070 501l9-11 7 8-9 12zM751 635l10 6 7 11-9-7z"/>
<path class="c44" d="M1060 513l10-12 7 9-10 12z"/>
<path class="c43" d="M1051 525l9-12 7 9-9 14zM761 641l9 6 7 13-9-8z"/>
<path class="c42" d="M1042 538l9-13 7 11-9 13zM770 647l9 7 8 14-10-8z"/>
<path class="c41" d="M1032 552l10-14 7 11-10 15z"/>
<path class="c40" d="M1023 566l9-14 7 12-9 15zM779 654l10 8 7 15-9-9z"/>
<path class="c38" d="M1013 581l10-15 7 13-9 16z"/>
<path class="c37" d="M1004 596l9-15 8 14-10 17zM798 671l10 8 7 18-10-10z"/>
<path class="c36" d="M995 612l9-16 7 16-9 17zM808 679l9 9 7 19-9-10z"/>
<path class="c34" d="M985 628l10-16 7 17-9 17zM817 688l9 9 7 21-9-11z"/>
<path class="c33" d="M976 644l9-16 8 18-10 18z"/>
<path class="c31" d="M967 659l9-15 7 20-9 17zM836 706l9 9 7 24-9-10z"/>
<path class="c30" d="M957 674l10-15 7 22-9 17z"/>
<path class="c28" d="M948 689l9-15 8 24-10 16zM854 722l10 6 7 28-9-8z"/>
<path class="c27" d="M939 702l9-13 7 25-9 15z"/>
<path class="c26" d="M929 713l10-11 7 27-10 13zM864 728l9 5 7 29-9-6z"/>
<path class="c25" d="M920 722l9-9 7 29-9 10zM873 733l9 3 10 0 7 31-9-1-10-4z"/>
<path class="c24" d="M892 736l9-2 9-5 10-7 7 30-9 8-10 5-9 2z"/>
<path class="c29" d="M845 715l9 7 8 26-10-9z"/>
<path class="c32" d="M826 697l10 9 7 23-10-11z"/>
<path class="c39" d="M789 662l9 9 7 16-9-10z"/>
<path class="c48" d="M723 620l10 4 7 10-9-5z"/>
<path class="c54" d="M647 604l22 2 8 7-23-2z"/>
<path class="c55" d="M625 604l22 0 7 7-22-1z"/>
<path class="c56" d="M603 605l22-1 7 6-22 1z"/>
<path class="c57" d="M580 608l23-3 7 6-22 3z"/>
<path class="c58" d="M558 611l22-3 8 6-23 3z"/>
<path class="c59" d="M514 620l22-5 22-4 7 6-22 4-22 5z"/>
<path class="c60" d="M469 631l22-6 23-5 7 6-22 5-23 6z"/>
<path class="c52" d="M1176 407l20-16 8 6-21 16zM677 613l22 5 7 7-22-5z"/>
<path class="c51" d="M1156 425l20-18 7 6-20 18z"/>
<path class="c50" d="M1136 444l20-19 7 6-20 19zM699 618l22 7 7 8-22-8z"/>
<path class="c49" d="M1116 464l20-20 7 6-20 21zM721 625l10 4 7 9-10-5z"/>
<path class="c47" d="M1096 487l20-23 7 7-20 23z"/>
<path class="c46" d="M1086 498l10-11 7 7-10 12zM740 634l9 5 7 10-9-6z"/>
<path class="c45" d="M1077 510l9-12 7 8-9 13zM749 639l10 6 7 11-10-7z"/>
<path class="c44" d="M1067 522l10-12 7 9-9 13zM759 645l9 7 7 11-9-7z"/>
<path class="c43" d="M1058 536l9-14 8 10-10 14z"/>
<path class="c42" d="M1049 549l9-13 7 10-9 14zM768 652l9 8 8 12-10-9z"/>
<path class="c40" d="M1039 564l10-15 7 11-9 16z"/>
<path class="c39" d="M1030 579l9-15 8 12-10 16zM787 668l9 9 7 14-9-10z"/>
<path class="c37" d="M1021 595l9-16 7 13-9 17z"/>
<path class="c36" d="M1011 612l10-17 7 14-9 18zM805 687l10 10 7 17-9-12z"/>
<path class="c34" d="M1002 629l9-17 8 15-10 19zM815 697l9 10 7 19-9-12z"/>
<path class="c33" d="M993 646l9-17 7 17-9 19z"/>
<path class="c31" d="M983 664l10-18 7 19-10 20z"/>
<path class="c29" d="M974 681l9-17 7 21-9 19z"/>
<path class="c27" d="M965 698l9-17 7 23-9 19zM852 739l10 9 7 27-10-11z"/>
<path class="c26" d="M955 714l10-16 7 25-10 18z"/>
<path class="c24" d="M946 729l9-15 7 27-9 17zM871 756l9 6 7 30-9-7z"/>
<path class="c23" d="M936 742l10-13 7 29-9 14z"/>
<path class="c22" d="M927 752l9-10 8 30-10 12zM880 762l10 4 9 1 7 32-9-2-10-5z"/>
<path class="c21" d="M899 767l9-2 10-5 9-8 7 32-9 8-9 5-10 2z"/>
<path class="c25" d="M862 748l9 8 7 29-9-10z"/>
<path class="c28" d="M843 729l9 10 7 25-9-12z"/>
<path class="c30" d="M833 718l10 11 7 23-9-13z"/>
<path class="c32" d="M824 707l9 11 8 21-10-13z"/>
<path class="c38" d="M796 677l9 10 8 15-10-11z"/>
<path class="c41" d="M777 660l10 8 7 13-9-9z"/>
<path class="c48" d="M731 629l9 5 7 9-9-5z"/>
<path class="c54" d="M654 611l23 2 7 7-22-3z"/>
<path class="c55" d="M632 610l22 1 8 6-23 0z"/>
<path class="c56" d="M610 611l22-1 7 7-22 0z"/>
<path class="c57" d="M588 614l22-3 7 6-22 2z"/>
<path class="c58" d="M565 617l23-3 7 5-22 4z"/>
<path class="c59" d="M521 626l22-5 22-4 8 6-23 4-22 4z"/>
<path class="c60" d="M476 637l23-6 22-5 7 5-22 5-22 6z"/>
<path class="c52" d="M1183 413l21-16 7 5-20 17zM684 620l22 5 7 8-22-6z"/>
<path class="c51" d="M1163 431l20-18 8 6-21 18z"/>
<path class="c50" d="M1143 450l20-19 7 6-20 19zM706 625l22 8 8 8-23-8z"/>
<path class="c49" d="M1123 471l20-21 7 6-20 22z"/>
<path class="c47" d="M1103 494l20-23 7 7-20 24zM738 638l9 5 7 9-9-6z"/>
<path class="c45" d="M1084 519l9-13 10-12 7 8-9 12-10 13zM756 649l10 7 7 10-9-7z"/>
<path class="c43" d="M1075 532l9-13 7 8-9 14zM766 656l9 7 7 11-9-8z"/>
<path class="c42" d="M1065 546l10-14 7 9-9 14zM775 663l10 9 7 12-10-10z"/>
<path class="c41" d="M1056 560l9-14 8 9-10 16z"/>
<path class="c40" d="M1047 576l9-16 7 11-9 16zM785 672l9 9 7 13-9-10z"/>
<path class="c38" d="M1037 592l10-16 7 11-10 18zM794 681l9 10 7 15-9-12z"/>
<path class="c36" d="M1028 609l9-17 7 13-9 18z"/>
<path class="c35" d="M1019 627l9-18 7 14-9 20zM813 702l9 12 7 17-9-13z"/>
<path class="c33" d="M1009 646l10-19 7 16-10 20zM822 714l9 12 8 19-10-14z"/>
<path class="c31" d="M1000 665l9-19 7 17-9 21z"/>
<path class="c29" d="M990 685l10-20 7 19-9 21z"/>
<path class="c27" d="M981 704l9-19 8 20-10 22z"/>
<path class="c25" d="M972 723l9-19 7 23-9 21z"/>
<path class="c23" d="M962 741l10-18 7 25-9 20z"/>
<path class="c21" d="M953 758l9-17 8 27-10 19zM878 785l9 7 8 31-10-9z"/>
<path class="c20" d="M944 772l9-14 7 29-9 16z"/>
<path class="c19" d="M934 784l10-12 7 31-9 13zM887 792l10 5 7 33-9-7z"/>
<path class="c18" d="M897 797l9 2 10-2 9-5 9-8 8 32-10 10-9 5-10 1-9-2z"/>
<path class="c22" d="M869 775l9 10 7 29-9-12z"/>
<path class="c24" d="M859 764l10 11 7 27-9-13z"/>
<path class="c26" d="M850 752l9 12 8 25-10-14z"/>
<path class="c28" d="M841 739l9 13 7 23-9-15z"/>
<path class="c30" d="M831 726l10 13 7 21-9-15z"/>
<path class="c37" d="M803 691l10 11 7 16-10-12z"/>
<path class="c46" d="M747 643l9 6 8 10-10-7z"/>
<path class="c48" d="M728 633l10 5 7 8-9-5z"/>
<path class="c54" d="M662 617l22 3 7 7-22-3z"/>
<path class="c55" d="M639 617l23 0 7 7-22-1z"/>
<path class="c56" d="M617 617l22 0 8 6-23 0z"/>
<path class="c57" d="M595 619l22-2 7 6-22 2z"/>
<path class="c58" d="M573 623l22-4 7 6-22 3z"/>
<path class="c59" d="M528 631l22-4 23-4 7 5-22 4-23 5z"/>
<path class="c60" d="M484 642l22-6 22-5 7 6-22 5-22 6z"/>
<path class="c52" d="M1191 419l20-17 7 5-20 17zM691 627l22 6 8 7-23-7z"/>
<path class="c51" d="M1170 437l21-18 7 5-20 18z"/>
<path class="c50" d="M1150 456l20-19 8 5-20 20zM713 633l23 8 7 8-22-9z"/>
<path class="c48" d="M1130 478l20-22 8 6-21 22zM736 641l9 5 7 8-9-5z"/>
<path class="c47" d="M1110 502l20-24 7 6-20 25zM745 646l9 6 8 9-10-7z"/>
<path class="c45" d="M1101 514l9-12 7 7-9 13z"/>
<path class="c44" d="M1091 527l10-13 7 8-9 13zM764 659l9 7 7 10-9-8z"/>
<path class="c43" d="M1082 541l9-14 8 8-10 14zM773 666l9 8 8 11-10-9z"/>
<path class="c42" d="M1073 555l9-14 7 8-9 16z"/>
<path class="c40" d="M1063 571l10-16 7 10-10 16z"/>
<path class="c39" d="M1054 587l9-16 7 10-9 17zM792 684l9 10 7 13-9-12z"/>
<path class="c37" d="M1044 605l10-18 7 11-9 19zM801 694l9 12 8 13-10-12z"/>
<path class="c36" d="M1035 623l9-18 8 12-10 20z"/>
<path class="c34" d="M1026 643l9-20 7 14-9 20z"/>
<path class="c32" d="M1016 663l10-20 7 14-9 22z"/>
<path class="c30" d="M1007 684l9-21 8 16-10 23z"/>
<path class="c27" d="M998 705l9-21 7 18-9 24z"/>
<path class="c25" d="M988 727l10-22 7 21-9 23z"/>
<path class="c23" d="M979 748l9-21 8 22-10 24z"/>
<path class="c21" d="M970 768l9-20 7 25-9 22z"/>
<path class="c19" d="M960 787l10-19 7 27-10 21zM876 802l9 12 8 29-10-13z"/>
<path class="c17" d="M951 803l9-16 7 29-9 18z"/>
<path class="c16" d="M942 816l9-13 7 31-9 15zM895 823l9 7 7 32-9-7z"/>
<path class="c15" d="M932 826l10-10 7 33-10 10zM904 830l9 2 8 34-10-4z"/>
<path class="c14" d="M913 832l10-1 9-5 7 33-9 6-9 1z"/>
<path class="c18" d="M885 814l10 9 7 32-9-12z"/>
<path class="c22" d="M867 789l9 13 7 28-9-16z"/>
<path class="c24" d="M857 775l10 14 7 25-9-17z"/>
<path class="c26" d="M848 760l9 15 8 22-10-17z"/>
<path class="c29" d="M839 745l9 15 7 20-9-16z"/>
<path class="c31" d="M829 731l10 14 7 19-10-16z"/>
<path class="c33" d="M820 718l9 13 7 17-9-15z"/>
<path class="c35" d="M810 706l10 12 7 15-9-14z"/>
<path class="c41" d="M782 674l10 10 7 11-9-10z"/>
<path class="c46" d="M754 652l10 7 7 9-9-7z"/>
<path class="c53" d="M669 624l22 3 7 6-22-3z"/>
<path class="c55" d="M647 623l22 1 7 6-22-1z"/>
<path class="c56" d="M624 623l23 0 7 6-22 0z"/>
<path class="c57" d="M602 625l22-2 8 6-23 2z"/>
<path class="c58" d="M580 628l22-3 7 6-22 3z"/>
<path class="c59" d="M535 637l23-5 22-4 7 6-22 4-22 4z"/>
<path class="c60" d="M491 648l22-6 22-5 8 5-23 5-22 6z"/>
<path class="c52" d="M1198 424l20-17 7 6-20 17zM698 633l23 7 7 6-22-6z"/>
<path class="c51" d="M1178 442l20-18 7 6-20 18z"/>
<path class="c50" d="M1158 462l20-20 7 6-20 20z"/>
<path class="c48" d="M1137 484l21-22 7 6-20 23zM743 649l9 5 7 8-9-5z"/>
<path class="c47" d="M1117 509l20-25 8 7-21 25z"/>
<path class="c45" d="M1108 522l9-13 7 7-9 13zM762 661l9 7 7 8-9-7z"/>
<path class="c44" d="M1099 535l9-13 7 7-9 14zM771 668l9 8 8 9-10-9z"/>
<path class="c43" d="M1089 549l10-14 7 8-10 15z"/>
<path class="c41" d="M1080 565l9-16 7 9-9 16z"/>
<path class="c40" d="M1070 581l10-16 7 9-9 16zM790 685l9 10 7 11-9-11z"/>
<path class="c38" d="M1061 598l9-17 8 9-10 19z"/>
<path class="c37" d="M1052 617l9-19 7 11-9 19zM808 707l10 12 7 13-9-14z"/>
<path class="c35" d="M1042 637l10-20 7 11-9 21z"/>
<path class="c33" d="M1033 657l9-20 8 12-10 22z"/>
<path class="c31" d="M1024 679l9-22 7 14-9 24z"/>
<path class="c28" d="M1014 702l10-23 7 16-9 24z"/>
<path class="c26" d="M1005 726l9-24 8 17-10 26z"/>
<path class="c23" d="M996 749l9-23 7 19-9 26z"/>
<path class="c21" d="M986 773l10-24 7 22-10 26z"/>
<path class="c18" d="M977 795l9-22 7 24-9 24z"/>
<path class="c16" d="M967 816l10-21 7 26-9 23z"/>
<path class="c14" d="M958 834l9-18 8 28-10 20z"/>
<path class="c12" d="M949 849l9-15 7 30-9 17zM911 862l10 4 7 33-9-5z"/>
<path class="c11" d="M921 866l9-1 9-6 10-10 7 32-9 11-10 6-9 1z"/>
<path class="c13" d="M902 855l9 7 8 32-10-9z"/>
<path class="c15" d="M893 843l9 12 7 30-9-13z"/>
<path class="c17" d="M883 830l10 13 7 29-10-16z"/>
<path class="c19" d="M874 814l9 16 7 26-9-18z"/>
<path class="c22" d="M865 797l9 17 7 24-9-19z"/>
<path class="c24" d="M855 780l10 17 7 22-10-19z"/>
<path class="c27" d="M846 764l9 16 7 20-9-19z"/>
<path class="c30" d="M836 748l10 16 7 17-9-17z"/>
<path class="c32" d="M827 733l9 15 8 16-10-17z"/>
<path class="c34" d="M818 719l9 14 7 14-9-15z"/>
<path class="c39" d="M799 695l9 12 8 11-10-12z"/>
<path class="c42" d="M780 676l10 9 7 10-9-10z"/>
<path class="c46" d="M752 654l10 7 7 8-10-7z"/>
<path class="c49" d="M721 640l22 9 7 8-22-11z"/>
<path class="c53" d="M676 630l22 3 8 7-23-4z"/>
<path class="c55" d="M654 629l22 1 7 6-22-1z"/>
<path class="c56" d="M632 629l22 0 7 6-22 0z"/>
<path class="c57" d="M609 631l23-2 7 6-22 2z"/>
<path class="c58" d="M587 634l22-3 8 6-23 2z"/>
<path class="c59" d="M543 642l22-4 22-4 7 5-22 4-22 5z"/>
<path class="c60" d="M498 653l22-6 23-5 7 6-22 5-23 6z"/>
<path class="c52" d="M1205 430l20-17 7 5-20 17z"/>
<path class="c51" d="M1185 448l20-18 7 5-20 18zM706 640l22 6 7 7-22-7z"/>
<path class="c50" d="M1165 468l20-20 7 5-20 21z"/>
<path class="c48" d="M1145 491l20-23 7 6-20 23z"/>
<path class="c46" d="M1124 516l21-25 7 6-20 26zM759 662l10 7 7 8-9-7z"/>
<path class="c45" d="M1115 529l9-13 8 7-10 13zM769 669l9 7 7 9-9-8z"/>
<path class="c44" d="M1106 543l9-14 7 7-9 14z"/>
<path class="c42" d="M1096 558l10-15 7 7-9 15zM788 685l9 10 7 9-9-10z"/>
<path class="c41" d="M1087 574l9-16 8 7-10 17z"/>
<path class="c40" d="M1078 590l9-16 7 8-9 17zM797 695l9 11 7 10-9-12z"/>
<path class="c38" d="M1068 609l10-19 7 9-9 19zM806 706l10 12 7 11-10-13z"/>
<path class="c36" d="M1059 628l9-19 8 9-10 21zM816 718l9 14 7 12-9-15z"/>
<path class="c34" d="M1050 649l9-21 7 11-9 22z"/>
<path class="c32" d="M1040 671l10-22 7 12-10 23z"/>
<path class="c29" d="M1031 695l9-24 7 13-9 25z"/>
<path class="c27" d="M1022 719l9-24 7 14-9 26z"/>
<path class="c24" d="M1012 745l10-26 7 16-10 28z"/>
<path class="c22" d="M1003 771l9-26 7 18-9 28z"/>
<path class="c19" d="M993 797l10-26 7 20-9 28z"/>
<path class="c16" d="M984 821l9-24 8 22-10 27z"/>
<path class="c14" d="M975 844l9-23 7 25-9 25zM890 856l10 16 7 26-9-18z"/>
<path class="c11" d="M965 864l10-20 7 27-9 22z"/>
<path class="c9" d="M956 881l9-17 8 29-10 18z"/>
<path class="c8" d="M919 894l9 5 9-1 10-6 9-11 7 30-9 12-10 7-9 0-9-6z"/>
<path class="c10" d="M909 885l10 9 7 30-10-10z"/>
<path class="c12" d="M900 872l9 13 7 29-9-16z"/>
<path class="c17" d="M881 838l9 18 8 24-10-20z"/>
<path class="c20" d="M872 819l9 19 7 22-9-21z"/>
<path class="c23" d="M862 800l10 19 7 20-9-21z"/>
<path class="c26" d="M853 781l9 19 8 18-10-20z"/>
<path class="c28" d="M844 764l9 17 7 17-9-20z"/>
<path class="c31" d="M834 747l10 17 7 14-9-18z"/>
<path class="c33" d="M825 732l9 15 8 13-10-16z"/>
<path class="c43" d="M778 676l10 9 7 9-10-9z"/>
<path class="c47" d="M750 657l9 5 8 8-10-6z"/>
<path class="c49" d="M728 646l22 11 7 7-22-11z"/>
<path class="c53" d="M683 636l23 4 7 6-22-4z"/>
<path class="c55" d="M661 635l22 1 8 6-23-2z"/>
<path class="c56" d="M639 635l22 0 7 5-22 1z"/>
<path class="c57" d="M617 637l22-2 7 6-22 1z"/>
<path class="c58" d="M594 639l23-2 7 5-22 3z"/>
<path class="c59" d="M550 648l22-5 22-4 8 6-23 4-22 4z"/>
<path class="c60" d="M505 659l23-6 22-5 7 5-22 5-23 6z"/>
<path class="c52" d="M1212 435l20-17 8 5-20 17z"/>
<path class="c51" d="M1192 453l20-18 8 5-21 19zM713 646l22 7 7 6-22-7z"/>
<path class="c50" d="M1172 474l20-21 7 6-20 20z"/>
<path class="c48" d="M1152 497l20-23 7 5-20 24z"/>
<path class="c46" d="M1132 523l20-26 7 6-20 26zM767 670l9 7 7 7-9-7z"/>
<path class="c45" d="M1122 536l10-13 7 6-9 13zM776 677l9 8 8 7-10-8z"/>
<path class="c44" d="M1113 550l9-14 8 6-10 15z"/>
<path class="c42" d="M1104 565l9-15 7 7-9 15z"/>
<path class="c41" d="M1094 582l10-17 7 7-10 17zM795 694l9 10 7 9-9-11z"/>
<path class="c39" d="M1085 599l9-17 7 7-9 18zM804 704l9 12 8 9-10-12z"/>
<path class="c37" d="M1076 618l9-19 7 8-9 20zM813 716l10 13 7 10-9-14z"/>
<path class="c36" d="M1066 639l10-21 7 9-10 21z"/>
<path class="c33" d="M1057 661l9-22 7 9-9 23zM832 744l10 16 7 12-10-17z"/>
<path class="c31" d="M1047 684l10-23 7 10-9 24z"/>
<path class="c29" d="M1038 709l9-25 8 11-10 27z"/>
<path class="c26" d="M1029 735l9-26 7 13-9 27z"/>
<path class="c23" d="M1019 763l10-28 7 14-9 29z"/>
<path class="c20" d="M1010 791l9-28 8 15-10 30z"/>
<path class="c17" d="M1001 819l9-28 7 17-9 30z"/>
<path class="c14" d="M991 846l10-27 7 19-9 29z"/>
<path class="c11" d="M982 871l9-25 8 21-10 27z"/>
<path class="c9" d="M973 893l9-22 7 23-9 24zM907 898l9 16 8 25-10-17z"/>
<path class="c7" d="M963 911l10-18 7 25-10 19zM916 914l10 10 7 27-9-12z"/>
<path class="c5" d="M935 930l9 0 10-7 9-12 7 26-9 14-9 7-10 0z"/>
<path class="c6" d="M926 924l9 6 7 28-9-7z"/>
<path class="c12" d="M898 880l9 18 7 24-9-20z"/>
<path class="c15" d="M888 860l10 20 7 22-9-22z"/>
<path class="c18" d="M879 839l9 21 8 20-10-23z"/>
<path class="c21" d="M870 818l9 21 7 18-9-23z"/>
<path class="c24" d="M860 798l10 20 7 16-10-22z"/>
<path class="c27" d="M851 778l9 20 7 14-9-21z"/>
<path class="c30" d="M842 760l9 18 7 13-9-19z"/>
<path class="c35" d="M823 729l9 15 7 11-9-16z"/>
<path class="c43" d="M785 685l10 9 7 8-9-10z"/>
<path class="c47" d="M757 664l10 6 7 7-9-7z"/>
<path class="c49" d="M735 653l22 11 8 6-23-11z"/>
<path class="c53" d="M691 642l22 4 7 6-22-4z"/>
<path class="c55" d="M668 640l23 2 7 6-23-2z"/>
<path class="c56" d="M646 641l22-1 7 6-22 0z"/>
<path class="c57" d="M624 642l22-1 7 5-22 2z"/>
<path class="c58" d="M602 645l22-3 7 6-22 2z"/>
<path class="c59" d="M557 653l22-4 23-4 7 5-23 4-22 5z"/>
<path class="c60" d="M512 664l23-6 22-5 7 6-22 5-22 5z"/>
<path class="c52" d="M1220 440l20-17 7 4-20 18z"/>
<path class="c51" d="M1199 459l21-19 7 5-20 19zM720 652l22 7 7 6-22-7z"/>
<path class="c50" d="M1179 479l20-20 8 5-21 21z"/>
<path class="c48" d="M1159 503l20-24 7 6-20 23z"/>
<path class="c46" d="M1139 529l20-26 7 5-20 27zM774 677l9 7 7 6-9-7z"/>
<path class="c45" d="M1130 542l9-13 7 6-9 13z"/>
<path class="c43" d="M1120 557l10-15 7 6-10 15zM793 692l9 10 7 7-9-10z"/>
<path class="c42" d="M1111 572l9-15 7 6-9 16z"/>
<path class="c41" d="M1101 589l10-17 7 7-9 17zM802 702l9 11 8 7-10-11z"/>
<path class="c39" d="M1092 607l9-18 8 7-10 19zM811 713l10 12 7 8-9-13z"/>
<path class="c37" d="M1083 627l9-20 7 8-9 20zM821 725l9 14 7 9-9-15z"/>
<path class="c35" d="M1073 648l10-21 7 8-9 21zM830 739l9 16 8 9-10-16z"/>
<path class="c33" d="M1064 671l9-23 8 8-10 24z"/>
<path class="c31" d="M1055 695l9-24 7 9-9 25z"/>
<path class="c28" d="M1045 722l10-27 7 10-9 27z"/>
<path class="c25" d="M1036 749l9-27 8 10-10 29z"/>
<path class="c22" d="M1027 778l9-29 7 12-9 30z"/>
<path class="c19" d="M1017 808l10-30 7 13-10 31z"/>
<path class="c16" d="M1008 838l9-30 7 14-9 32z"/>
<path class="c12" d="M999 867l9-29 7 16-9 31z"/>
<path class="c9" d="M989 894l10-27 7 18-10 28z"/>
<path class="c7" d="M980 918l9-24 7 19-9 25zM914 922l10 17 7 20-9-18z"/>
<path class="c5" d="M970 937l10-19 7 20-9 21zM924 939l9 12 7 22-9-14z"/>
<path class="c3" d="M961 951l9-14 8 22-10 14zM933 951l9 7 8 22-10-7z"/>
<path class="c2" d="M942 958l10 0 9-7 7 22-9 7-9 0z"/>
<path class="c10" d="M905 902l9 20 8 19-10-22z"/>
<path class="c13" d="M896 880l9 22 7 17-9-23z"/>
<path class="c17" d="M886 857l10 23 7 16-10-25z"/>
<path class="c20" d="M877 834l9 23 7 14-9-24z"/>
<path class="c23" d="M867 812l10 22 7 13-9-23z"/>
<path class="c26" d="M858 791l9 21 8 12-10-22z"/>
<path class="c29" d="M849 772l9 19 7 11-9-20z"/>
<path class="c32" d="M839 755l10 17 7 10-9-18z"/>
<path class="c44" d="M783 684l10 8 7 7-10-9z"/>
<path class="c47" d="M765 670l9 7 7 6-9-6z"/>
<path class="c49" d="M742 659l23 11 7 7-23-12z"/>
<path class="c53" d="M698 648l22 4 7 6-22-5z"/>
<path class="c55" d="M675 646l23 2 7 5-22-1z"/>
<path class="c56" d="M653 646l22 0 8 6-23 0z"/>
<path class="c57" d="M631 648l22-2 7 6-22 1z"/>
<path class="c58" d="M609 650l22-2 7 5-22 3z"/>
<path class="c59" d="M564 659l22-5 23-4 7 6-22 4-23 4z"/>
<path class="c60" d="M520 669l22-5 22-5 7 5-22 5-22 6z"/>
<path class="c52" d="M1227 445l20-18 7 5-20 18z"/>
<path class="c51" d="M1207 464l20-19 7 5-20 19zM727 658l22 7 8 6-23-8z"/>
<path class="c50" d="M1186 485l21-21 7 5-20 20z"/>
<path class="c48" d="M1166 508l20-23 8 4-20 24z"/>
<path class="c46" d="M1146 535l20-27 8 5-21 27zM781 683l9 7 8 6-10-7z"/>
<path class="c45" d="M1137 548l9-13 7 5-9 14z"/>
<path class="c43" d="M1127 563l10-15 7 6-9 15zM800 699l9 10 7 6-9-10z"/>
<path class="c42" d="M1118 579l9-16 8 6-10 16z"/>
<path class="c41" d="M1109 596l9-17 7 6-9 17zM809 709l10 11 7 7-10-12z"/>
<path class="c39" d="M1099 615l10-19 7 6-9 19zM819 720l9 13 7 7-9-13z"/>
<path class="c37" d="M1090 635l9-20 8 6-10 20zM828 733l9 15 7 7-9-15z"/>
<path class="c35" d="M1081 656l9-21 7 6-9 22z"/>
<path class="c33" d="M1071 680l10-24 7 7-10 24z"/>
<path class="c30" d="M1062 705l9-25 7 7-9 26z"/>
<path class="c27" d="M1053 732l9-27 7 8-9 28z"/>
<path class="c25" d="M1043 761l10-29 7 9-10 29z"/>
<path class="c21" d="M1034 791l9-30 7 9-9 31z"/>
<path class="c18" d="M1024 822l10-31 7 10-9 32z"/>
<path class="c15" d="M1015 854l9-32 8 11-10 33z"/>
<path class="c11" d="M1006 885l9-31 7 12-9 31z"/>
<path class="c8" d="M996 913l10-28 7 12-9 30z"/>
<path class="c5" d="M987 938l9-25 8 14-10 26z"/>
<path class="c3" d="M978 959l9-21 7 15-9 21zM931 959l9 14 7 15-9-14z"/>
<path class="c1" d="M950 980l9 0 9-7 10-14 7 15-9 15-10 7-9 0z"/>
<path class="c2" d="M940 973l10 7 7 16-10-8z"/>
<path class="c6" d="M922 941l9 18 7 15-9-19z"/>
<path class="c9" d="M912 919l10 22 7 14-10-23z"/>
<path class="c12" d="M903 896l9 23 7 13-9-24z"/>
<path class="c16" d="M893 871l10 25 7 12-9-26z"/>
<path class="c19" d="M884 847l9 24 8 11-10-25z"/>
<path class="c23" d="M875 824l9 23 7 10-9-24z"/>
<path class="c26" d="M865 802l10 22 7 9-9-22z"/>
<path class="c29" d="M856 782l9 20 8 9-10-21z"/>
<path class="c32" d="M847 764l9 18 7 8-9-18z"/>
<path class="c34" d="M837 748l10 16 7 8-10-17z"/>
<path class="c44" d="M790 690l10 9 7 6-9-9z"/>
<path class="c47" d="M772 677l9 6 7 6-9-7z"/>
<path class="c49" d="M749 665l23 12 7 5-22-11z"/>
<path class="c53" d="M705 653l22 5 7 5-22-4z"/>
<path class="c55" d="M683 652l22 1 7 6-22-2z"/>
<path class="c56" d="M660 652l23 0 7 5-22 0z"/>
<path class="c57" d="M638 653l22-1 8 5-23 1z"/>
<path class="c58" d="M616 656l22-3 7 5-22 3z"/>
<path class="c59" d="M571 664l23-4 22-4 7 5-22 4-22 4z"/>
<path class="c60" d="M527 675l22-6 22-5 8 5-23 5-22 6z"/>
<path class="c52" d="M1234 450l20-18 7 5-20 17z"/>
<path class="c51" d="M1214 469l20-19 7 4-20 19zM734 663l23 8 7 5-22-8z"/>
<path class="c50" d="M1194 489l20-20 7 4-20 21z"/>
<path class="c48" d="M1174 513l20-24 7 5-20 24z"/>
<path class="c46" d="M1153 540l21-27 7 5-20 27zM788 689l10 7 7 6-9-8z"/>
<path class="c45" d="M1144 554l9-14 8 5-10 14z"/>
<path class="c43" d="M1135 569l9-15 7 5-9 14zM807 705l9 10 8 6-10-10z"/>
<path class="c42" d="M1125 585l10-16 7 4-9 17z"/>
<path class="c41" d="M1116 602l9-17 8 5-10 17zM816 715l10 12 7 5-9-11z"/>
<path class="c39" d="M1107 621l9-19 7 5-9 19zM826 727l9 13 7 6-9-14z"/>
<path class="c37" d="M1097 641l10-20 7 5-10 20zM835 740l9 15 8 6-10-15z"/>
<path class="c35" d="M1088 663l9-22 7 5-9 23z"/>
<path class="c33" d="M1078 687l10-24 7 6-9 24z"/>
<path class="c30" d="M1069 713l9-26 8 6-10 26z"/>
<path class="c27" d="M1060 741l9-28 7 6-9 28z"/>
<path class="c24" d="M1050 770l10-29 7 6-9 29z"/>
<path class="c21" d="M1041 801l9-31 8 6-10 32z"/>
<path class="c18" d="M1032 833l9-32 7 7-9 32z"/>
<path class="c14" d="M1022 866l10-33 7 7-9 33z"/>
<path class="c11" d="M1013 897l9-31 8 7-10 32z"/>
<path class="c8" d="M1004 927l9-30 7 8-9 30zM919 932l10 23 7 8-9-23z"/>
<path class="c5" d="M994 953l10-26 7 8-10 26zM929 955l9 19 7 8-9-19z"/>
<path class="c2" d="M985 974l9-21 7 8-9 22z"/>
<path class="c1" d="M976 989l9-15 7 9-9 15zM947 988l10 8 7 9-9-8z"/>
<path class="c0" d="M957 996l9 0 10-7 7 9-10 7-9 0z"/>
<path class="c3" d="M938 974l9 14 8 9-10-15z"/>
<path class="c12" d="M910 908l9 24 8 8-10-25z"/>
<path class="c15" d="M901 882l9 26 7 7-9-26z"/>
<path class="c19" d="M891 857l10 25 7 7-9-25z"/>
<path class="c22" d="M882 833l9 24 8 7-10-24z"/>
<path class="c26" d="M873 811l9 22 7 7-9-23z"/>
<path class="c29" d="M863 790l10 21 7 6-10-21z"/>
<path class="c32" d="M854 772l9 18 7 6-9-19z"/>
<path class="c34" d="M844 755l10 17 7 5-9-16z"/>
<path class="c44" d="M798 696l9 9 7 6-9-9z"/>
<path class="c47" d="M779 682l9 7 8 5-10-6z"/>
<path class="c49" d="M757 671l22 11 7 6-22-12z"/>
<path class="c53" d="M712 659l22 4 8 5-23-4z"/>
<path class="c55" d="M690 657l22 2 7 5-22-2z"/>
<path class="c56" d="M668 657l22 0 7 5-22 0z"/>
<path class="c57" d="M645 658l23-1 7 5-22 2z"/>
<path class="c58" d="M623 661l22-3 8 6-23 2z"/>
<path class="c59" d="M579 669l22-4 22-4 7 5-22 4-22 5z"/>
<path class="c60" d="M534 680l22-6 23-5 7 6-22 5-23 5z"/>
<path class="c53" d="M1241 454l20-17 8 4-21 18zM719 664l23 4 7 5-22-4z"/>
<path class="c51" d="M1221 473l20-19 7 5-20 19zM742 668l22 8 7 5-22-8z"/>
<path class="c50" d="M1201 494l20-21 7 5-20 21z"/>
<path class="c49" d="M1181 518l20-24 7 5-20 23zM764 676l22 12 7 5-22-12z"/>
<path class="c47" d="M1161 545l20-27 7 4-20 27zM786 688l10 6 7 5-10-6z"/>
<path class="c45" d="M1151 559l10-14 7 4-10 14z"/>
<path class="c44" d="M1142 573l9-14 7 4-9 15zM805 702l9 9 8 4-10-9z"/>
<path class="c42" d="M1133 590l9-17 7 5-9 16z"/>
<path class="c41" d="M1123 607l10-17 7 4-10 17zM824 721l9 11 7 5-9-12z"/>
<path class="c39" d="M1114 626l9-19 7 4-9 19zM833 732l9 14 8 4-10-13z"/>
<path class="c37" d="M1104 646l10-20 7 4-9 20zM842 746l10 15 7 4-9-15z"/>
<path class="c35" d="M1095 669l9-23 8 4-10 22z"/>
<path class="c33" d="M1086 693l9-24 7 3-9 24z"/>
<path class="c30" d="M1076 719l10-26 7 3-9 26z"/>
<path class="c27" d="M1067 747l9-28 8 3-10 28z"/>
<path class="c24" d="M1058 776l9-29 7 3-9 29z"/>
<path class="c21" d="M1048 808l10-32 7 3-9 31z"/>
<path class="c18" d="M1039 840l9-32 8 2-10 33z"/>
<path class="c14" d="M1030 873l9-33 7 3-9 32z"/>
<path class="c11" d="M1020 905l10-32 7 2-10 32z"/>
<path class="c8" d="M1011 935l9-30 7 2-9 29zM927 940l9 23 7 2-9-23z"/>
<path class="c5" d="M1001 961l10-26 7 1-9 27zM936 963l9 19 8 2-10-19z"/>
<path class="c2" d="M992 983l9-22 8 2-10 21z"/>
<path class="c1" d="M983 998l9-15 7 1-9 15zM955 997l9 8 7 1-9-8z"/>
<path class="c0" d="M964 1005l9 0 10-7 7 1-9 7-10 0z"/>
<path class="c3" d="M945 982l10 15 7 1-9-14z"/>
<path class="c12" d="M917 915l10 25 7 2-10-25z"/>
<path class="c15" d="M908 889l9 26 7 2-9-25z"/>
<path class="c19" d="M899 864l9 25 7 3-9-25z"/>
<path class="c22" d="M889 840l10 24 7 3-10-24z"/>
<path class="c26" d="M880 817l9 23 7 3-9-22z"/>
<path class="c29" d="M870 796l10 21 7 4-9-21z"/>
<path class="c32" d="M861 777l9 19 8 4-10-19z"/>
<path class="c34" d="M852 761l9 16 7 4-9-16z"/>
<path class="c43" d="M814 711l10 10 7 4-9-10z"/>
<path class="c46" d="M796 694l9 8 7 4-9-7z"/>
<path class="c55" d="M697 662l22 2 8 5-23-2z"/>
<path class="c56" d="M675 662l22 0 7 5-22 0z"/>
<path class="c57" d="M653 664l22-2 7 5-22 2z"/>
<path class="c58" d="M630 666l23-2 7 5-22 3z"/>
<path class="c59" d="M586 675l22-5 22-4 8 6-23 3-22 5z"/>
<path class="c60" d="M541 685l23-5 22-5 7 5-22 5-22 6z"/>
<path class="c53" d="M1248 459l21-18 7 5-20 17zM727 669l22 4 7 5-22-4z"/>
<path class="c52" d="M1228 478l20-19 8 4-20 19z"/>
<path class="c50" d="M1208 499l20-21 8 4-21 21z"/>
<path class="c49" d="M1188 522l20-23 7 4-20 23zM771 681l22 12 8 4-23-12z"/>
<path class="c47" d="M1168 549l20-27 7 4-20 27zM793 693l10 6 7 4-9-6z"/>
<path class="c45" d="M1158 563l10-14 7 4-9 14z"/>
<path class="c44" d="M1149 578l9-15 8 4-10 14zM812 706l10 9 7 4-10-8z"/>
<path class="c42" d="M1140 594l9-16 7 3-9 16z"/>
<path class="c41" d="M1130 611l10-17 7 3-9 17zM831 725l9 12 7 3-9-11z"/>
<path class="c39" d="M1121 630l9-19 8 3-10 19zM840 737l10 13 7 3-10-13z"/>
<path class="c37" d="M1112 650l9-20 7 3-9 20zM850 750l9 15 7 3-9-15z"/>
<path class="c35" d="M1102 672l10-22 7 3-9 22z"/>
<path class="c33" d="M1093 696l9-24 8 3-10 23z"/>
<path class="c30" d="M1084 722l9-26 7 2-9 26z"/>
<path class="c28" d="M1074 750l10-28 7 2-10 27z"/>
<path class="c25" d="M1065 779l9-29 7 1-9 29z"/>
<path class="c22" d="M1056 810l9-31 7 1-9 30z"/>
<path class="c18" d="M1046 843l10-33 7 0-10 31z"/>
<path class="c15" d="M1037 875l9-32 7-2-9 32z"/>
<path class="c12" d="M1027 907l10-32 7-2-9 30zM924 917l10 25 7-3-9-24z"/>
<path class="c8" d="M1018 936l9-29 8-4-10 29z"/>
<path class="c6" d="M1009 963l9-27 7-4-9 25zM943 965l10 19 7-5-10-19z"/>
<path class="c3" d="M999 984l10-21 7-6-9 21z"/>
<path class="c2" d="M990 999l9-15 8-6-10 14zM962 998l9 8 7-7-9-7z"/>
<path class="c1" d="M971 1006l10 0 9-7 7-7-9 7-10 0z"/>
<path class="c4" d="M953 984l9 14 7-6-9-13z"/>
<path class="c9" d="M934 942l9 23 7-5-9-21z"/>
<path class="c16" d="M915 892l9 25 8-2-10-24z"/>
<path class="c19" d="M906 867l9 25 7-1-9-24z"/>
<path class="c23" d="M896 843l10 24 7 0-9-23z"/>
<path class="c26" d="M887 821l9 22 8 1-10-22z"/>
<path class="c29" d="M878 800l9 21 7 1-9-20z"/>
<path class="c32" d="M868 781l10 19 7 2-9-18z"/>
<path class="c34" d="M859 765l9 16 8 3-10-16z"/>
<path class="c43" d="M822 715l9 10 7 4-9-10z"/>
<path class="c46" d="M803 699l9 7 7 5-9-8z"/>
<path class="c51" d="M749 673l22 8 7 4-22-7z"/>
<path class="c55" d="M704 667l23 2 7 5-22-2z"/>
<path class="c56" d="M682 667l22 0 8 5-23 0z"/>
<path class="c57" d="M660 669l22-2 7 5-22 2z"/>
<path class="c58" d="M638 672l22-3 7 5-22 3z"/>
<path class="c59" d="M593 680l22-5 23-3 7 5-22 3-23 5z"/>
<path class="c60" d="M571 685l22-5 7 5-22 5z"/>
<path class="c61" d="M549 691l22-6 7 5-22 6z"/>
<path class="c53" d="M1256 463l20-17 7 4-20 17zM734 674l22 4 7 5-22-4z"/>
<path class="c52" d="M1236 482l20-19 7 4-20 19zM756 678l22 7 8 5-23-7z"/>
<path class="c50" d="M1215 503l21-21 7 4-20 21z"/>
<path class="c49" d="M1195 526l20-23 8 4-21 23zM778 685l23 12 7 4-22-11z"/>
<path class="c47" d="M1175 553l20-27 7 4-20 26zM801 697l9 6 7 4-9-6z"/>
<path class="c45" d="M1166 567l9-14 7 3-9 14zM819 711l10 8 7 3-9-8z"/>
<path class="c44" d="M1156 581l10-14 7 3-9 14z"/>
<path class="c43" d="M1147 597l9-16 8 3-10 16zM829 719l9 10 7 3-9-10z"/>
<path class="c41" d="M1138 614l9-17 7 3-9 17zM838 729l9 11 8 3-10-11z"/>
<path class="c39" d="M1128 633l10-19 7 3-10 18zM847 740l10 13 7 2-9-12z"/>
<path class="c38" d="M1119 653l9-20 7 2-9 20z"/>
<path class="c36" d="M1110 675l9-22 7 2-9 21z"/>
<path class="c33" d="M1100 698l10-23 7 1-10 23z"/>
<path class="c31" d="M1091 724l9-26 7 1-9 24z"/>
<path class="c28" d="M1081 751l10-27 7-1-9 27z"/>
<path class="c26" d="M1072 780l9-29 8-1-10 27z"/>
<path class="c23" d="M1063 810l9-30 7-3-9 29z"/>
<path class="c19" d="M1053 841l10-31 7-4-9 30z"/>
<path class="c16" d="M1044 873l9-32 8-5-10 30z"/>
<path class="c13" d="M1035 903l9-30 7-7-9 29z"/>
<path class="c10" d="M1025 932l10-29 7-8-9 27zM941 939l9 21 8-9-10-20z"/>
<path class="c7" d="M1016 957l9-25 8-10-10 24z"/>
<path class="c5" d="M1007 978l9-21 7-11-9 20zM960 979l9 13 7-12-9-12z"/>
<path class="c3" d="M978 999l10 0 9-7 10-14 7-12-10 13-9 7-9 0z"/>
<path class="c4" d="M969 992l9 7 8-13-10-6z"/>
<path class="c8" d="M950 960l10 19 7-11-9-17z"/>
<path class="c14" d="M932 915l9 24 7-8-9-22z"/>
<path class="c17" d="M922 891l10 24 7-6-9-23z"/>
<path class="c20" d="M913 867l9 24 8-5-10-23z"/>
<path class="c24" d="M904 844l9 23 7-4-9-22z"/>
<path class="c27" d="M894 822l10 22 7-3-10-20z"/>
<path class="c30" d="M885 802l9 20 7-1-9-19z"/>
<path class="c32" d="M876 784l9 18 7 0-9-17z"/>
<path class="c35" d="M866 768l10 16 7 1-10-16z"/>
<path class="c37" d="M857 753l9 15 7 1-9-14z"/>
<path class="c46" d="M810 703l9 8 8 3-10-7z"/>
<path class="c55" d="M712 672l22 2 7 5-22-2z"/>
<path class="c56" d="M689 672l23 0 7 5-22 0z"/>
<path class="c57" d="M667 674l22-2 8 5-23 2z"/>
<path class="c58" d="M645 677l22-3 7 5-22 3z"/>
<path class="c59" d="M600 685l23-5 22-3 7 5-22 4-22 4z"/>
<path class="c60" d="M578 690l22-5 8 5-23 5z"/>
<path class="c61" d="M556 696l22-6 7 5-22 6z"/>
<path class="c53" d="M1263 467l20-17 7 4-20 17zM741 679l22 4 8 4-23-4z"/>
<path class="c52" d="M1243 486l20-19 7 4-20 19zM763 683l23 7 7 4-22-7z"/>
<path class="c51" d="M1223 507l20-21 7 4-20 20z"/>
<path class="c49" d="M1202 530l21-23 7 3-20 23zM786 690l22 11 7 3-22-10z"/>
<path class="c47" d="M1182 556l20-26 8 3-20 26z"/>
<path class="c45" d="M1173 570l9-14 8 3-10 13zM827 714l9 8 7 3-9-8z"/>
<path class="c44" d="M1164 584l9-14 7 2-9 15z"/>
<path class="c43" d="M1154 600l10-16 7 3-10 15zM836 722l9 10 8 2-10-9z"/>
<path class="c42" d="M1145 617l9-17 7 2-9 16zM845 732l10 11 7 1-9-10z"/>
<path class="c40" d="M1135 635l10-18 7 1-9 18zM855 743l9 12 7 1-9-12z"/>
<path class="c38" d="M1126 655l9-20 8 1-10 19zM864 755l9 14 8 0-10-13z"/>
<path class="c36" d="M1117 676l9-21 7 0-9 21zM873 769l10 16 7-1-9-15z"/>
<path class="c34" d="M1107 699l10-23 7 0-9 22z"/>
<path class="c32" d="M1098 723l9-24 8-1-10 23z"/>
<path class="c29" d="M1089 750l9-27 7-2-9 25z"/>
<path class="c27" d="M1079 777l10-27 7-4-9 27z"/>
<path class="c24" d="M1070 806l9-29 8-4-10 27z"/>
<path class="c21" d="M1061 836l9-30 7-6-9 28z"/>
<path class="c18" d="M1051 866l10-30 7-8-10 28zM930 886l9 23 7-10-9-21z"/>
<path class="c15" d="M1042 895l9-29 7-10-9 27zM939 909l9 22 8-12-10-20z"/>
<path class="c12" d="M1033 922l9-27 7-12-9 26zM948 931l10 20 7-14-9-18z"/>
<path class="c9" d="M1023 946l10-24 7-13-10 22z"/>
<path class="c7" d="M1014 966l9-20 7-15-9 18z"/>
<path class="c6" d="M1004 979l10-13 7-17-9 12zM976 980l10 6 7-17-9-6z"/>
<path class="c5" d="M986 986l9 0 9-7 8-18-10 7-9 1z"/>
<path class="c8" d="M967 968l9 12 8-17-10-11z"/>
<path class="c10" d="M958 951l9 17 7-16-9-15z"/>
<path class="c22" d="M920 863l10 23 7-8-10-21z"/>
<path class="c25" d="M911 841l9 22 7-6-9-20z"/>
<path class="c28" d="M901 821l10 20 7-4-9-19z"/>
<path class="c30" d="M892 802l9 19 8-3-10-18z"/>
<path class="c33" d="M883 785l9 17 7-2-9-16z"/>
<path class="c46" d="M817 707l10 7 7 3-10-7z"/>
<path class="c48" d="M808 701l9 6 7 3-9-6z"/>
<path class="c55" d="M719 677l22 2 7 4-22-1z"/>
<path class="c56" d="M697 677l22 0 7 5-22 0z"/>
<path class="c57" d="M674 679l23-2 7 5-22 2z"/>
<path class="c58" d="M652 682l22-3 8 5-23 3z"/>
<path class="c59" d="M630 686l22-4 7 5-22 4z"/>
<path class="c60" d="M585 695l23-5 22-4 7 5-22 4-22 5z"/>
<path class="c61" d="M563 701l22-6 8 5-23 6z"/>
<path class="c53" d="M1270 471l20-17 8 4-21 17z"/>
<path class="c52" d="M1250 490l20-19 7 4-20 19zM771 687l22 7 7 3-22-6z"/>
<path class="c51" d="M1230 510l20-20 7 4-20 20z"/>
<path class="c49" d="M1210 533l20-23 7 4-20 22z"/>
<path class="c47" d="M1190 559l20-26 7 3-20 26zM824 710l10 7 7 2-9-6z"/>
<path class="c46" d="M1180 572l10-13 7 3-10 13z"/>
<path class="c45" d="M1171 587l9-15 7 3-9 14zM834 717l9 8 7 2-9-8z"/>
<path class="c43" d="M1161 602l10-15 7 2-9 14z"/>
<path class="c42" d="M1152 618l9-16 8 1-10 16zM853 734l9 10 7 1-9-10z"/>
<path class="c40" d="M1143 636l9-18 7 1-9 17zM862 744l9 12 7 0-9-11z"/>
<path class="c39" d="M1133 655l10-19 7 0-9 19z"/>
<path class="c37" d="M1124 676l9-21 8 0-10 19z"/>
<path class="c35" d="M1115 698l9-22 7-2-9 21z"/>
<path class="c33" d="M1105 721l10-23 7-3-10 23z"/>
<path class="c30" d="M1096 746l9-25 7-3-9 23z"/>
<path class="c28" d="M1087 773l9-27 7-5-9 25z"/>
<path class="c25" d="M1077 800l10-27 7-7-10 26z"/>
<path class="c22" d="M1068 828l9-28 7-8-9 26z"/>
<path class="c20" d="M1058 856l10-28 7-10-9 26zM937 878l9 21 7-12-9-19z"/>
<path class="c17" d="M1049 883l9-27 8-12-10 25z"/>
<path class="c14" d="M1040 909l9-26 7-14-9 23z"/>
<path class="c12" d="M1030 931l10-22 7-17-9 20zM965 937l9 15 7-19-9-13z"/>
<path class="c10" d="M1021 949l9-18 8-19-10 16zM974 952l10 11 7-20-10-10z"/>
<path class="c9" d="M1012 961l9-12 7-21-9 12zM984 963l9 6 7-22-9-4z"/>
<path class="c8" d="M993 969l9-1 10-7 7-21-9 6-10 1z"/>
<path class="c15" d="M956 919l9 18 7-17-9-16z"/>
<path class="c18" d="M946 899l10 20 7-15-10-17z"/>
<path class="c23" d="M927 857l10 21 7-10-9-19z"/>
<path class="c26" d="M918 837l9 20 8-8-10-18z"/>
<path class="c29" d="M909 818l9 19 7-6-9-18z"/>
<path class="c32" d="M899 800l10 18 7-5-9-16z"/>
<path class="c34" d="M890 784l9 16 8-3-10-15z"/>
<path class="c36" d="M881 769l9 15 7-2-9-14z"/>
<path class="c38" d="M871 756l10 13 7-1-10-12z"/>
<path class="c44" d="M843 725l10 9 7 1-10-8z"/>
<path class="c48" d="M815 704l9 6 8 3-10-6z"/>
<path class="c50" d="M793 694l22 10 7 3-22-10z"/>
<path class="c54" d="M748 683l23 4 7 4-22-3z"/>
<path class="c55" d="M726 682l22 1 8 5-23-2z"/>
<path class="c56" d="M704 682l22 0 7 4-22 1z"/>
<path class="c57" d="M682 684l22-2 7 5-22 2z"/>
<path class="c58" d="M659 687l23-3 7 5-22 3z"/>
<path class="c59" d="M637 691l22-4 8 5-23 4z"/>
<path class="c60" d="M593 700l22-5 22-4 7 5-22 4-22 6z"/>
<path class="c61" d="M570 706l23-6 7 6-22 5z"/>
<path class="c53" d="M1277 475l21-17 7 4-20 17z"/>
<path class="c52" d="M1257 494l20-19 8 4-21 18zM778 691l22 6 7 4-22-6z"/>
<path class="c51" d="M1237 514l20-20 7 3-20 20z"/>
<path class="c50" d="M1217 536l20-22 7 3-20 22zM800 697l22 10 8 3-23-9z"/>
<path class="c48" d="M1197 562l20-26 7 3-20 25zM822 707l10 6 7 2-9-5z"/>
<path class="c46" d="M1187 575l10-13 7 2-9 13zM841 719l9 8 8 1-10-7z"/>
<path class="c45" d="M1178 589l9-14 8 2-10 13z"/>
<path class="c44" d="M1169 603l9-14 7 1-9 14zM850 727l10 8 7 1-9-8z"/>
<path class="c43" d="M1159 619l10-16 7 1-9 16zM860 735l9 10 7 0-9-9z"/>
<path class="c41" d="M1150 636l9-17 8 1-10 16zM869 745l9 11 8-1-10-10z"/>
<path class="c39" d="M1141 655l9-19 7 0-9 18zM878 756l10 12 7-2-9-11z"/>
<path class="c38" d="M1131 674l10-19 7-1-10 18z"/>
<path class="c36" d="M1122 695l9-21 7-2-9 20z"/>
<path class="c34" d="M1112 718l10-23 7-3-9 21z"/>
<path class="c32" d="M1103 741l9-23 8-5-10 22z"/>
<path class="c29" d="M1094 766l9-25 7-6-9 23z"/>
<path class="c27" d="M1084 792l10-26 7-8-9 24z"/>
<path class="c24" d="M1075 818l9-26 8-10-10 24z"/>
<path class="c22" d="M1066 844l9-26 7-12-9 23zM944 868l9 19 8-14-10-17z"/>
<path class="c19" d="M1056 869l10-25 7-15-9 23z"/>
<path class="c17" d="M1047 892l9-23 8-17-10 21z"/>
<path class="c15" d="M1038 912l9-20 7-19-9 18zM972 920l9 13 8-20-10-11z"/>
<path class="c13" d="M1028 928l10-16 7-21-10 15z"/>
<path class="c12" d="M991 943l9 4 10-1 9-6 9-12 7-22-9 11-9 6-10 1-9-4z"/>
<path class="c14" d="M981 933l10 10 7-23-9-7z"/>
<path class="c18" d="M963 904l9 16 7-18-9-14z"/>
<path class="c20" d="M953 887l10 17 7-16-9-15z"/>
<path class="c25" d="M935 849l9 19 7-12-9-17z"/>
<path class="c28" d="M925 831l10 18 7-10-9-16z"/>
<path class="c30" d="M916 813l9 18 8-8-10-16z"/>
<path class="c33" d="M907 797l9 16 7-6-9-14z"/>
<path class="c35" d="M897 782l10 15 7-4-10-14z"/>
<path class="c37" d="M888 768l9 14 7-3-9-13z"/>
<path class="c47" d="M832 713l9 6 7 2-9-6z"/>
<path class="c54" d="M756 688l22 3 7 4-22-3z"/>
<path class="c55" d="M733 686l23 2 7 4-22-1z"/>
<path class="c56" d="M711 687l22-1 8 5-23 0z"/>
<path class="c57" d="M689 689l22-2 7 4-22 2z"/>
<path class="c58" d="M667 692l22-3 7 4-22 4z"/>
<path class="c59" d="M644 696l23-4 7 5-22 4z"/>
<path class="c60" d="M600 706l22-6 22-4 8 5-23 4-22 6z"/>
<path class="c61" d="M578 711l22-5 7 5-22 6z"/>
<path class="c54" d="M1285 479l20-17 7 4-20 17zM763 692l22 3 7 4-22-3z"/>
<path class="c53" d="M1264 497l21-18 7 4-20 18z"/>
<path class="c51" d="M1244 517l20-20 8 4-20 19z"/>
<path class="c50" d="M1224 539l20-22 8 3-21 22zM807 701l23 9 7 2-22-8z"/>
<path class="c48" d="M1204 564l20-25 7 3-20 24z"/>
<path class="c47" d="M1195 577l9-13 7 2-9 12zM839 715l9 6 8 2-10-6z"/>
<path class="c46" d="M1185 590l10-13 7 1-10 13zM848 721l10 7 7 1-9-6z"/>
<path class="c44" d="M1176 604l9-14 7 1-9 14z"/>
<path class="c43" d="M1167 620l9-16 7 1-9 15zM867 736l9 9 8 0-10-9z"/>
<path class="c42" d="M1157 636l10-16 7 0-10 15zM876 745l10 10 7-1-9-9z"/>
<path class="c40" d="M1148 654l9-18 7-1-9 17zM886 755l9 11 7-2-9-10z"/>
<path class="c39" d="M1138 672l10-18 7-2-9 17z"/>
<path class="c37" d="M1129 692l9-20 8-3-10 19z"/>
<path class="c35" d="M1120 713l9-21 7-4-9 20z"/>
<path class="c33" d="M1110 735l10-22 7-5-9 20z"/>
<path class="c31" d="M1101 758l9-23 8-7-10 21z"/>
<path class="c29" d="M1092 782l9-24 7-9-9 22z"/>
<path class="c26" d="M1082 806l10-24 7-11-9 22z"/>
<path class="c24" d="M1073 829l9-23 8-13-10 21z"/>
<path class="c22" d="M1064 852l9-23 7-15-9 20z"/>
<path class="c20" d="M1054 873l10-21 7-18-10 19zM970 888l9 14 8-20-10-11z"/>
<path class="c18" d="M1045 891l9-18 7-20-9 17z"/>
<path class="c17" d="M1035 906l10-15 7-21-9 13zM989 913l9 7 7-23-9-6z"/>
<path class="c16" d="M1026 917l9-11 8-23-10 10zM998 920l9 4 8-24-10-3z"/>
<path class="c15" d="M1007 924l10-1 9-6 7-24-9 5-9 2z"/>
<path class="c19" d="M979 902l10 11 7-22-9-9z"/>
<path class="c23" d="M961 873l9 15 7-17-9-14z"/>
<path class="c25" d="M951 856l10 17 7-16-10-14z"/>
<path class="c27" d="M942 839l9 17 7-13-9-14z"/>
<path class="c30" d="M933 823l9 16 7-10-9-14z"/>
<path class="c32" d="M923 807l10 16 7-8-10-14z"/>
<path class="c34" d="M914 793l9 14 7-6-9-14z"/>
<path class="c36" d="M904 779l10 14 7-6-9-12z"/>
<path class="c38" d="M895 766l9 13 8-4-10-11z"/>
<path class="c45" d="M858 728l9 8 7 0-9-7z"/>
<path class="c49" d="M830 710l9 5 7 2-9-5z"/>
<path class="c52" d="M785 695l22 6 8 3-23-5z"/>
<path class="c55" d="M741 691l22 1 7 4-22-1z"/>
<path class="c56" d="M718 691l23 0 7 4-22 1z"/>
<path class="c57" d="M696 693l22-2 8 5-23 2z"/>
<path class="c58" d="M674 697l22-4 7 5-22 3z"/>
<path class="c59" d="M652 701l22-4 7 4-22 5z"/>
<path class="c60" d="M607 711l22-6 23-4 7 5-22 4-23 6z"/>
<path class="c61" d="M585 717l22-6 7 5-22 6z"/>
<path class="c54" d="M1292 483l20-17 7 4-20 16zM770 696l22 3 8 3-23-2z"/>
<path class="c53" d="M1272 501l20-18 7 3-20 18zM792 699l23 5 7 3-22-5z"/>
<path class="c52" d="M1252 520l20-19 7 3-20 19z"/>
<path class="c50" d="M1231 542l21-22 7 3-20 21z"/>
<path class="c49" d="M1211 566l20-24 8 2-21 24zM837 712l9 5 7 2-9-4z"/>
<path class="c47" d="M1202 578l9-12 7 2-9 11zM856 723l9 6 7 1-9-6z"/>
<path class="c46" d="M1192 591l10-13 7 1-9 13z"/>
<path class="c45" d="M1183 605l9-14 8 1-10 13zM865 729l9 7 7 0-9-6z"/>
<path class="c44" d="M1174 620l9-15 7 0-9 14zM874 736l10 9 7-1-10-8z"/>
<path class="c43" d="M1164 635l10-15 7-1-9 15zM884 745l9 9 7-2-9-8z"/>
<path class="c41" d="M1155 652l9-17 8-1-10 16zM893 754l9 10 8-3-10-9z"/>
<path class="c40" d="M1146 669l9-17 7-2-9 16z"/>
<path class="c38" d="M1136 688l10-19 7-3-9 18z"/>
<path class="c36" d="M1127 708l9-20 8-4-10 18z"/>
<path class="c34" d="M1118 728l9-20 7-6-9 19z"/>
<path class="c32" d="M1108 749l10-21 7-7-10 19z"/>
<path class="c30" d="M1099 771l9-22 7-9-9 20z"/>
<path class="c28" d="M1090 793l9-22 7-11-9 19z"/>
<path class="c26" d="M1080 814l10-21 7-14-10 20z"/>
<path class="c25" d="M1071 834l9-20 7-15-9 18zM968 857l9 14 7-18-9-11z"/>
<path class="c23" d="M1061 853l10-19 7-17-9 17zM977 871l10 11 7-19-10-10z"/>
<path class="c21" d="M1052 870l9-17 8-19-10 14z"/>
<path class="c20" d="M1043 883l9-13 7-22-9 12zM996 891l9 6 8-22-10-5z"/>
<path class="c19" d="M1005 897l10 3 9-2 9-5 10-10 7-23-9 9-10 5-9 2-9-1z"/>
<path class="c22" d="M987 882l9 9 7-21-9-7z"/>
<path class="c27" d="M958 843l10 14 7-15-9-12z"/>
<path class="c29" d="M949 829l9 14 8-13-10-12z"/>
<path class="c31" d="M940 815l9 14 7-11-9-13z"/>
<path class="c33" d="M930 801l10 14 7-10-9-12z"/>
<path class="c35" d="M921 787l9 14 8-8-10-11z"/>
<path class="c37" d="M912 775l9 12 7-5-9-11z"/>
<path class="c39" d="M902 764l10 11 7-4-9-10z"/>
<path class="c48" d="M846 717l10 6 7 1-10-5z"/>
<path class="c51" d="M815 704l22 8 7 3-22-8z"/>
<path class="c55" d="M748 695l22 1 7 4-22-1z"/>
<path class="c57" d="M726 696l22-1 7 4-22 1z"/>
<path class="c58" d="M681 701l22-3 23-2 7 4-23 3-22 3z"/>
<path class="c59" d="M659 706l22-5 7 5-22 4z"/>
<path class="c60" d="M614 716l23-6 22-4 7 4-22 5-23 6z"/>
<path class="c61" d="M592 722l22-6 7 5-22 6z"/>
<path class="c54" d="M1299 486l20-16 7 4-20 16zM777 700l23 2 7 4-23-2z"/>
<path class="c53" d="M1279 504l20-18 7 4-20 17zM800 702l22 5 7 3-22-4z"/>
<path class="c52" d="M1259 523l20-19 7 3-20 19z"/>
<path class="c51" d="M1239 544l20-21 7 3-20 20zM822 707l22 8 7 2-22-7z"/>
<path class="c49" d="M1218 568l21-24 7 2-20 23zM844 715l9 4 8 1-10-3z"/>
<path class="c48" d="M1209 579l9-11 8 1-10 11zM853 719l10 5 7 1-9-5z"/>
<path class="c47" d="M1200 592l9-13 7 1-9 12zM863 724l9 6 7 0-9-5z"/>
<path class="c46" d="M1190 605l10-13 7 0-9 13zM872 730l9 6 8 0-10-6z"/>
<path class="c45" d="M1181 619l9-14 8 0-10 13zM881 736l10 8 7-2-9-6z"/>
<path class="c43" d="M1172 634l9-15 7-1-9 14zM891 744l9 8 7-2-9-8z"/>
<path class="c42" d="M1162 650l10-16 7-2-10 15zM900 752l10 9 7-3-10-8z"/>
<path class="c41" d="M1153 666l9-16 7-3-9 16z"/>
<path class="c39" d="M1144 684l9-18 7-3-9 16zM919 771l9 11 7-6-9-10z"/>
<path class="c38" d="M1134 702l10-18 7-5-10 17z"/>
<path class="c36" d="M1125 721l9-19 7-6-9 17z"/>
<path class="c34" d="M1115 740l10-19 7-8-9 18z"/>
<path class="c32" d="M1106 760l9-20 8-9-10 17z"/>
<path class="c31" d="M1097 779l9-19 7-12-9 18zM956 818l10 12 7-13-9-10z"/>
<path class="c29" d="M1087 799l10-20 7-13-9 17z"/>
<path class="c27" d="M1078 817l9-18 8-16-10 17z"/>
<path class="c26" d="M1069 834l9-17 7-17-9 14zM984 853l10 10 7-19-9-8z"/>
<path class="c24" d="M1059 848l10-14 7-20-9 14zM1003 870l10 5 7-22-10-4z"/>
<path class="c23" d="M1041 869l9-9 9-12 8-20-10 10-9 8zM1013 875l9 1 7-22-9-1z"/>
<path class="c22" d="M1022 876l9-2 10-5 7-23-10 5-9 3z"/>
<path class="c25" d="M994 863l9 7 7-21-9-5z"/>
<path class="c28" d="M975 842l9 11 8-17-10-9z"/>
<path class="c30" d="M966 830l9 12 7-15-9-10z"/>
<path class="c33" d="M947 805l9 13 8-11-10-11z"/>
<path class="c35" d="M938 793l9 12 7-9-9-10z"/>
<path class="c37" d="M928 782l10 11 7-7-10-10z"/>
<path class="c40" d="M910 761l9 10 7-5-9-8z"/>
<path class="c56" d="M755 699l22 1 7 4-22 0z"/>
<path class="c57" d="M733 700l22-1 7 5-22 1z"/>
<path class="c58" d="M688 706l22-3 23-3 7 5-22 2-23 4z"/>
<path class="c59" d="M666 710l22-4 7 5-22 4z"/>
<path class="c60" d="M621 721l23-6 22-5 7 5-22 5-22 6z"/>
<path class="c61" d="M599 727l22-6 8 5-23 6z"/>
<path class="c54" d="M1306 490l20-16 8 3-20 16z"/>
<path class="c53" d="M1286 507l20-17 8 3-21 17zM807 706l22 4 7 2-22-3z"/>
<path class="c52" d="M1266 526l20-19 7 3-20 19z"/>
<path class="c51" d="M1246 546l20-20 7 3-20 19zM829 710l22 7 7 1-22-6z"/>
<path class="c49" d="M1226 569l20-23 7 2-20 22zM861 720l9 5 7 1-9-4z"/>
<path class="c48" d="M1216 580l10-11 7 1-9 11zM870 725l9 5 8 0-10-4z"/>
<path class="c47" d="M1207 592l9-12 8 1-10 12zM879 730l10 6 7-1-9-5z"/>
<path class="c46" d="M1198 605l9-13 7 1-9 12zM889 736l9 6 7-1-9-6z"/>
<path class="c45" d="M1188 618l10-13 7 0-10 12z"/>
<path class="c44" d="M1179 632l9-14 7-1-9 14zM898 742l9 8 8-3-10-6z"/>
<path class="c43" d="M1169 647l10-15 7-1-9 13zM907 750l10 8 7-4-9-7z"/>
<path class="c42" d="M1160 663l9-16 8-3-10 15z"/>
<path class="c40" d="M1151 679l9-16 7-4-9 15zM926 766l9 10 8-6-10-8z"/>
<path class="c39" d="M1141 696l10-17 7-5-9 15z"/>
<path class="c37" d="M1132 713l9-17 8-7-10 16zM945 786l9 10 7-9-9-9z"/>
<path class="c36" d="M1123 731l9-18 7-8-9 16z"/>
<path class="c34" d="M1113 748l10-17 7-10-9 16z"/>
<path class="c33" d="M1104 766l9-18 8-11-10 16zM964 807l9 10 7-12-9-9z"/>
<path class="c31" d="M1095 783l9-17 7-13-9 16z"/>
<path class="c30" d="M1085 800l10-17 7-14-10 14zM982 827l10 9 7-16-9-7z"/>
<path class="c29" d="M1076 814l9-14 7-17-9 14zM992 836l9 8 7-18-9-6z"/>
<path class="c27" d="M1057 838l10-10 9-14 7-17-9 11-10 10zM1010 849l10 4 7-21-9-2z"/>
<path class="c26" d="M1020 853l9 1 9-3 10-5 9-8 7-20-9 7-9 5-10 2-9 0z"/>
<path class="c28" d="M1001 844l9 5 8-19-10-4z"/>
<path class="c32" d="M973 817l9 10 8-14-10-8z"/>
<path class="c35" d="M954 796l10 11 7-11-10-9z"/>
<path class="c38" d="M935 776l10 10 7-8-9-8z"/>
<path class="c41" d="M917 758l9 8 7-4-9-8z"/>
<path class="c50" d="M851 717l10 3 7 2-10-4z"/>
<path class="c55" d="M784 704l23 2 7 3-22-2z"/>
<path class="c56" d="M762 704l22 0 8 3-23 1z"/>
<path class="c57" d="M740 705l22-1 7 4-22 1z"/>
<path class="c58" d="M718 707l22-2 7 4-22 3z"/>
<path class="c59" d="M673 715l22-4 23-4 7 5-22 4-23 4z"/>
<path class="c60" d="M629 726l22-6 22-5 7 5-22 5-22 6z"/>
<path class="c61" d="M606 732l23-6 7 5-22 6z"/>
<path class="c54" d="M1293 510l21-17 20-16 7 4-20 16-20 16z"/>
<path class="c52" d="M1273 529l20-19 8 3-21 18zM836 712l22 6 8 2-23-5z"/>
<path class="c51" d="M1253 548l20-19 7 2-20 19z"/>
<path class="c50" d="M1233 570l20-22 7 2-20 22zM858 718l10 4 7 1-9-3z"/>
<path class="c49" d="M1224 581l9-11 7 2-9 10zM868 722l9 4 7 0-9-3z"/>
<path class="c48" d="M1214 593l10-12 7 1-10 11zM877 726l10 4 7 0-10-4z"/>
<path class="c47" d="M1205 605l9-12 7 0-9 11zM887 730l9 5 7 0-9-5z"/>
<path class="c46" d="M1195 617l10-12 7-1-9 12zM896 735l9 6 8-1-10-5z"/>
<path class="c45" d="M1186 631l9-14 8-1-10 13zM905 741l10 6 7-2-9-5z"/>
<path class="c44" d="M1177 644l9-13 7-2-9 13zM915 747l9 7 7-3-9-6z"/>
<path class="c43" d="M1167 659l10-15 7-2-9 13zM924 754l9 8 8-5-10-6z"/>
<path class="c41" d="M1158 674l9-15 8-4-10 14zM933 762l10 8 7-6-9-7z"/>
<path class="c40" d="M1149 689l9-15 7-5-9 14zM943 770l9 8 7-7-9-7z"/>
<path class="c39" d="M1139 705l10-16 7-6-9 15z"/>
<path class="c38" d="M1130 721l9-16 8-7-10 14zM952 778l9 9 8-8-10-8z"/>
<path class="c36" d="M1121 737l9-16 7-9-9 15z"/>
<path class="c35" d="M1111 753l10-16 7-10-10 14zM971 796l9 9 7-12-9-7z"/>
<path class="c33" d="M1102 769l9-16 7-12-9 14zM990 813l9 7 7-15-9-6z"/>
<path class="c32" d="M1092 783l10-14 7-14-9 13zM999 820l9 6 7-17-9-4z"/>
<path class="c31" d="M1083 797l9-14 8-15-10 12zM1008 826l10 4 7-18-10-3z"/>
<path class="c30" d="M1074 808l9-11 7-17-9 10zM1018 830l9 2 7-18-9-2z"/>
<path class="c29" d="M1027 832l9 0 10-2 9-5 9-7 10-10 7-18-9 9-10 7-9 5-9 2-10 1z"/>
<path class="c34" d="M980 805l10 8 7-14-10-6z"/>
<path class="c37" d="M961 787l10 9 7-10-9-7z"/>
<path class="c53" d="M814 709l22 3 7 3-22-3z"/>
<path class="c55" d="M792 707l22 2 7 3-22-1z"/>
<path class="c56" d="M769 708l23-1 7 4-22 1z"/>
<path class="c57" d="M747 709l22-1 8 4-23 2z"/>
<path class="c58" d="M725 712l22-3 7 5-22 2z"/>
<path class="c59" d="M680 720l23-4 22-4 7 4-22 4-22 5z"/>
<path class="c60" d="M636 731l22-6 22-5 8 5-23 5-22 6z"/>
<path class="c61" d="M614 737l22-6 7 5-22 6z"/>
<path class="c55" d="M1321 497l20-16 7 4-20 15zM799 711l22 1 7 3-22 0z"/>
<path class="c54" d="M1301 513l20-16 7 3-20 16zM821 712l22 3 8 2-23-2z"/>
<path class="c53" d="M1280 531l21-18 7 3-20 18z"/>
<path class="c52" d="M1260 550l20-19 8 3-21 18zM843 715l23 5 7 2-22-5z"/>
<path class="c50" d="M1240 572l20-22 7 2-20 21zM875 723l9 3 8 1-10-3z"/>
<path class="c49" d="M1231 582l9-10 7 1-9 10zM884 726l10 4 7 0-9-3z"/>
<path class="c48" d="M1212 604l9-11 10-11 7 1-9 10-10 11zM894 730l9 5 7-1-9-4z"/>
<path class="c47" d="M1203 616l9-12 7 0-9 11zM903 735l10 5 7-2-10-4z"/>
<path class="c46" d="M1193 629l10-13 7-1-9 12zM913 740l9 5 7-2-9-5z"/>
<path class="c45" d="M1184 642l9-13 8-2-10 12zM922 745l9 6 7-3-9-5z"/>
<path class="c44" d="M1175 655l9-13 7-3-9 13zM931 751l10 6 7-4-10-5z"/>
<path class="c43" d="M1165 669l10-14 7-3-10 12zM941 757l9 7 7-5-9-6z"/>
<path class="c41" d="M1156 683l9-14 7-5-9 14zM950 764l9 7 8-6-10-6z"/>
<path class="c40" d="M1147 698l9-15 7-5-9 13zM959 771l10 8 7-9-9-5z"/>
<path class="c39" d="M1137 712l10-14 7-7-10 13zM969 779l9 7 7-10-9-6z"/>
<path class="c38" d="M1128 727l9-15 7-8-9 13z"/>
<path class="c37" d="M1118 741l10-14 7-10-9 13zM978 786l9 7 8-11-10-6z"/>
<path class="c36" d="M1109 755l9-14 8-11-10 13zM987 793l10 6 7-12-9-5z"/>
<path class="c35" d="M1100 768l9-13 7-12-9 11zM997 799l9 6 7-14-9-4z"/>
<path class="c34" d="M1090 780l10-12 7-14-9 11zM1006 805l9 4 8-15-10-3z"/>
<path class="c33" d="M1081 790l9-10 8-15-10 9zM1015 809l10 3 7-16-9-2z"/>
<path class="c32" d="M1025 812l9 2 10-1 9-2 9-5 10-7 9-9 7-16-9 8-10 7-9 4-9 3-10 1-9-1z"/>
<path class="c51" d="M866 720l9 3 7 1-9-2z"/>
<path class="c56" d="M777 712l22-1 7 4-22 1z"/>
<path class="c57" d="M754 714l23-2 7 4-22 2z"/>
<path class="c58" d="M732 716l22-2 8 4-23 3z"/>
<path class="c59" d="M688 725l22-5 22-4 7 5-22 4-22 5z"/>
<path class="c60" d="M665 730l23-5 7 5-22 5z"/>
<path class="c61" d="M621 742l22-6 22-6 8 5-23 6-22 6z"/>
<path class="c55" d="M1328 500l20-15 7 3-20 15zM806 715l22 0 8 3-23 0z"/>
<path class="c54" d="M1308 516l20-16 7 3-20 16zM828 715l23 2 7 3-22-2z"/>
<path class="c53" d="M1288 534l20-18 7 3-20 17zM851 717l22 5 7 1-22-3z"/>
<path class="c52" d="M1267 552l21-18 7 2-20 18z"/>
<path class="c51" d="M1247 573l20-21 8 2-20 20zM873 722l9 2 10 3 7 0-9-2-10-2z"/>
<path class="c50" d="M1238 583l9-10 8 1-10 9zM892 727l9 3 7 0-9-3z"/>
<path class="c49" d="M1229 593l9-10 7 0-9 10zM901 730l9 4 8-1-10-3z"/>
<path class="c48" d="M1219 604l10-11 7 0-10 11zM910 734l10 4 7-1-9-4z"/>
<path class="c47" d="M1201 627l9-12 9-11 7 0-9 10-9 11zM920 738l9 5 7-3-9-3z"/>
<path class="c46" d="M1191 639l10-12 7-2-10 12zM929 743l9 5 8-3-10-5z"/>
<path class="c45" d="M1182 652l9-13 7-2-9 11zM938 748l10 5 7-4-9-4z"/>
<path class="c44" d="M1172 664l10-12 7-4-9 12zM948 753l9 6 7-5-9-5z"/>
<path class="c43" d="M1163 678l9-14 8-4-10 12zM957 759l10 6 7-7-10-4z"/>
<path class="c42" d="M1154 691l9-13 7-6-9 12zM967 765l9 5 7-7-9-5z"/>
<path class="c41" d="M1144 704l10-13 7-7-9 12z"/>
<path class="c40" d="M1135 717l9-13 8-8-10 12zM976 770l9 6 7-8-9-5z"/>
<path class="c39" d="M1126 730l9-13 7-9-9 12zM985 776l10 6 7-10-10-4z"/>
<path class="c38" d="M1116 743l10-13 7-10-9 11zM995 782l9 5 7-11-9-4z"/>
<path class="c37" d="M1107 754l9-11 8-12-10 11zM1004 787l9 4 8-12-10-3z"/>
<path class="c36" d="M1098 765l9-11 7-12-9 9zM1013 791l10 3 9 2 7-14-9-1-9-2z"/>
<path class="c35" d="M1079 782l9-8 10-9 7-14-10 9-9 7zM1032 796l9 1 10-1 7-15-9 1-10 0z"/>
<path class="c34" d="M1051 796l9-3 9-4 10-7 7-15-9 6-10 5-9 3z"/>
<path class="c56" d="M784 716l22-1 7 3-22 1z"/>
<path class="c57" d="M762 718l22-2 7 3-22 3z"/>
<path class="c58" d="M739 721l23-3 7 4-22 3z"/>
<path class="c59" d="M717 725l22-4 8 4-23 4z"/>
<path class="c60" d="M673 735l22-5 22-5 7 4-22 5-22 6z"/>
<path class="c61" d="M628 747l22-6 23-6 7 5-22 6-23 6z"/>
<path class="c55" d="M1335 503l20-15 8 4-21 15z"/>
<path class="c54" d="M1315 519l20-16 7 4-20 15zM836 718l22 2 7 2-22-1z"/>
<path class="c53" d="M1295 536l20-17 7 3-20 17zM858 720l22 3 7 2-22-3z"/>
<path class="c52" d="M1275 554l20-18 7 3-20 17zM880 723l10 2 7 1-10-1z"/>
<path class="c51" d="M1255 574l20-20 7 2-20 19zM890 725l9 2 7 1-9-2z"/>
<path class="c50" d="M1236 593l9-10 10-9 7 1-10 9-9 10zM899 727l9 3 10 3 7 0-10-3-9-2z"/>
<path class="c49" d="M1226 604l10-11 7 1-9 9zM918 733l9 4 7-2-9-2z"/>
<path class="c48" d="M1217 614l9-10 8-1-10 10zM927 737l9 3 8-1-10-4z"/>
<path class="c47" d="M1198 637l10-12 9-11 7-1-9 11-9 10zM936 740l10 5 7-3-9-3z"/>
<path class="c46" d="M1189 648l9-11 8-3-10 11zM946 745l9 4 7-4-9-3z"/>
<path class="c45" d="M1180 660l9-12 7-3-9 11zM955 749l9 5 8-5-10-4z"/>
<path class="c44" d="M1170 672l10-12 7-4-9 11zM964 754l10 4 7-5-9-4z"/>
<path class="c43" d="M1161 684l9-12 8-5-10 11zM974 758l9 5 7-7-9-3z"/>
<path class="c42" d="M1152 696l9-12 7-6-9 12zM983 763l9 5 8-8-10-4z"/>
<path class="c41" d="M1142 708l10-12 7-6-10 10zM992 768l10 4 7-9-9-3z"/>
<path class="c40" d="M1124 731l9-11 9-12 7-8-9 11-9 10zM1002 772l9 4 7-10-9-3z"/>
<path class="c39" d="M1114 742l10-11 7-10-10 10zM1011 776l10 3 7-11-10-2z"/>
<path class="c38" d="M1095 760l10-9 9-9 7-11-9 9-9 7zM1021 779l9 2 9 1 8-12-10-1-9-1z"/>
<path class="c37" d="M1039 782l10 0 9-1 9-3 10-5 9-6 9-7 8-13-10 7-9 6-9 4-10 3-9 2-9 1z"/>
<path class="c56" d="M813 718l23 0 7 3-22 1z"/>
<path class="c57" d="M791 719l22-1 8 4-23 1z"/>
<path class="c58" d="M747 725l22-3 22-3 7 4-22 3-22 4z"/>
<path class="c59" d="M724 729l23-4 7 5-22 4z"/>
<path class="c60" d="M680 740l22-6 22-5 8 5-23 5-22 5z"/>
<path class="c61" d="M635 752l23-6 22-6 7 4-22 6-22 7z"/>
<path class="c55" d="M1322 522l20-15 21-15 7 3-20 15-20 15zM843 721l22 1 7 2-22 0z"/>
<path class="c54" d="M1302 539l20-17 8 3-21 16z"/>
<path class="c53" d="M1282 556l20-17 7 2-20 17zM865 722l22 3 8 1-23-2z"/>
<path class="c52" d="M1262 575l20-19 7 2-20 18zM887 725l10 1 9 2 7 1-9-2-9-1z"/>
<path class="c51" d="M1252 584l10-9 7 1-9 9zM906 728l9 2 8 0-10-1z"/>
<path class="c50" d="M1234 603l9-9 9-10 8 1-10 9-9 9zM915 730l10 3 7-1-9-2z"/>
<path class="c49" d="M1224 613l10-10 7 0-9 10zM925 733l9 2 10 4 7-2-10-3-9-2z"/>
<path class="c48" d="M1215 624l9-11 8 0-10 9zM944 739l9 3 7-3-9-2z"/>
<path class="c47" d="M1196 645l10-11 9-10 7-2-9 10-9 10zM953 742l9 3 7-3-9-3z"/>
<path class="c46" d="M1187 656l9-11 8-3-10 11zM962 745l10 4 7-4-10-3z"/>
<path class="c45" d="M1178 667l9-11 7-3-9 10zM972 749l9 4 7-5-9-3z"/>
<path class="c44" d="M1159 690l9-12 10-11 7-4-10 10-9 10zM981 753l9 3 8-6-10-2z"/>
<path class="c43" d="M1149 700l10-10 7-7-9 10zM990 756l10 4 9 3 7-8-9-2-9-3z"/>
<path class="c42" d="M1140 711l9-11 8-7-10 10zM1009 763l9 3 8-9-10-2z"/>
<path class="c41" d="M1121 731l10-10 9-10 7-8-9 9-9 9zM1018 766l10 2 7-10-9-1z"/>
<path class="c40" d="M1103 747l9-7 9-9 8-10-10 8-9 7zM1028 768l9 1 10 1 7-11-10 0-9-1z"/>
<path class="c39" d="M1047 770l9-1 9-2 10-3 9-4 9-6 10-7 7-11-9 7-10 5-9 4-10 3-9 2-9 2z"/>
<path class="c56" d="M821 722l22-1 7 3-22 1z"/>
<path class="c57" d="M798 723l23-1 7 3-22 2z"/>
<path class="c58" d="M754 730l22-4 22-3 8 4-23 3-22 4z"/>
<path class="c59" d="M732 734l22-4 7 4-22 5z"/>
<path class="c60" d="M687 744l22-5 23-5 7 5-22 5-23 5z"/>
<path class="c61" d="M643 757l22-7 22-6 7 5-22 6-22 7z"/>
<path class="c56" d="M1350 510l20-15 7 4-20 14zM828 725l22-1 7 3-22 2z"/>
<path class="c55" d="M1330 525l20-15 7 3-20 15zM850 724l22 0 8 3-23 0z"/>
<path class="c54" d="M1309 541l21-16 7 3-20 15zM872 724l23 2 7 2-22-1z"/>
<path class="c53" d="M1289 558l20-17 8 2-21 17zM895 726l9 1 7 1-9 0z"/>
<path class="c52" d="M1269 576l20-18 7 2-20 17zM904 727l9 2 10 1 7 1-9-2-10-1z"/>
<path class="c51" d="M1250 594l10-9 9-9 7 1-9 9-9 8zM923 730l9 2 7 0-9-1z"/>
<path class="c50" d="M1232 613l9-10 9-9 8 0-10 9-9 9zM932 732l9 2 8 0-10-2z"/>
<path class="c49" d="M1222 622l10-9 7-1-10 9zM941 734l10 3 9 2 7-2-9-2-9-1z"/>
<path class="c48" d="M1204 642l9-10 9-10 7-1-9 10-9 9zM960 739l9 3 8-3-10-2z"/>
<path class="c47" d="M1194 653l10-11 7-2-10 9zM969 742l10 3 7-4-9-2z"/>
<path class="c46" d="M1175 673l10-10 9-10 7-4-9 10-9 10zM979 745l9 3 10 2 7-5-10-2-9-2z"/>
<path class="c45" d="M1166 683l9-10 8-4-10 9zM998 750l9 3 7-6-9-2z"/>
<path class="c44" d="M1147 703l10-10 9-10 7-5-9 9-9 9zM1007 753l9 2 8-7-10-1z"/>
<path class="c43" d="M1138 712l9-9 8-7-10 9zM1016 755l10 2 9 1 7-8-9-1-9-1z"/>
<path class="c42" d="M1119 729l10-8 9-9 7-7-9 8-10 7zM1035 758l9 1 10 0 7-10-9 1-10 0z"/>
<path class="c41" d="M1054 759l9-2 9-2 10-3 9-4 10-5 9-7 9-7 7-9-9 7-9 6-10 5-9 4-9 3-10 2-9 2z"/>
<path class="c57" d="M806 727l22-2 7 4-22 2z"/>
<path class="c58" d="M783 730l23-3 7 4-22 3z"/>
<path class="c59" d="M739 739l22-5 22-4 8 4-23 4-22 5z"/>
<path class="c60" d="M694 749l23-5 22-5 7 4-22 5-22 6z"/>
<path class="c61" d="M650 762l22-7 22-6 8 5-23 6-22 7z"/>
<path class="c56" d="M1357 513l20-14 7 3-20 14zM835 729l22-2 8 3-23 2z"/>
<path class="c55" d="M1337 528l20-15 7 3-20 15zM857 727l23 0 7 2-22 1z"/>
<path class="c54" d="M1296 560l21-17 20-15 7 3-20 15-20 16zM880 727l22 1 7 1-22 0z"/>
<path class="c53" d="M1276 577l20-17 8 2-21 17zM902 728l9 0 10 1 7 1-10 0-9-1z"/>
<path class="c52" d="M1267 586l9-9 7 2-9 8zM921 729l9 2 9 1 8 0-10-1-9-1z"/>
<path class="c51" d="M1248 603l10-9 9-8 7 1-9 8-10 8zM939 732l10 2 7-1-9-1z"/>
<path class="c50" d="M1229 621l10-9 9-9 7 0-9 9-9 8zM949 734l9 1 9 2 8-2-10-1-9-1z"/>
<path class="c49" d="M1211 640l9-9 9-10 8-1-10 9-9 9zM967 737l10 2 7-2-9-2z"/>
<path class="c48" d="M1201 649l10-9 7-2-9 9zM977 739l9 2 7-3-9-1z"/>
<path class="c47" d="M1183 669l9-10 9-10 8-2-10 9-9 9zM986 741l9 2 10 2 7-4-9-2-10-1z"/>
<path class="c46" d="M1173 678l10-9 7-4-9 8zM1005 745l9 2 7-5-9-1z"/>
<path class="c45" d="M1155 696l9-9 9-9 8-5-10 9-9 8zM1014 747l10 1 9 1 7-6-9-1-10 0z"/>
<path class="c44" d="M1126 720l10-7 9-8 10-9 7-6-10 8-9 7-9 7zM1033 749l9 1 10 0 7-8-10 1-9 0z"/>
<path class="c43" d="M1052 750l9-1 9-2 10-2 9-3 9-4 10-5 9-6 9-7 8-8-10 6-9 6-9 5-10 4-9 3-9 3-10 2-9 1z"/>
<path class="c57" d="M813 731l22-2 7 3-22 3z"/>
<path class="c58" d="M791 734l22-3 7 4-22 3z"/>
<path class="c59" d="M746 743l22-5 23-4 7 4-22 5-23 5z"/>
<path class="c60" d="M702 754l22-6 22-5 7 5-22 5-22 6z"/>
<path class="c61" d="M657 767l22-7 23-6 7 5-22 6-23 7z"/>
<path class="c56" d="M1344 531l20-15 20-14 8 4-21 13-20 15zM865 730l22-1 7 3-22 1z"/>
<path class="c55" d="M1324 546l20-15 7 3-20 14zM887 729l22 0 7 2-22 1z"/>
<path class="c54" d="M1304 562l20-16 7 2-20 16zM909 729l9 1 8 1-10 0z"/>
<path class="c53" d="M1283 579l21-17 7 2-20 16zM918 730l10 0 9 1 7 1-9-1-9 0z"/>
<path class="c52" d="M1265 595l9-8 9-8 8 1-10 8-9 7zM937 731l10 1 9 1 7 0-9-1-10 0z"/>
<path class="c51" d="M1246 612l9-9 10-8 7 0-9 8-10 9zM956 733l9 1 7-1-9 0z"/>
<path class="c50" d="M1227 629l10-9 9-8 7 0-9 8-9 8zM965 734l10 1 9 2 7-2-9-1-10-1z"/>
<path class="c49" d="M1209 647l9-9 9-9 8-1-10 8-9 9zM984 737l9 1 10 1 7-3-9 0-10-1z"/>
<path class="c48" d="M1190 665l9-9 10-9 7-2-10 8-9 8zM1003 739l9 2 7-4-9-1z"/>
<path class="c47" d="M1171 682l10-9 9-8 7-4-9 8-10 8zM1012 741l9 1 10 0 7-5-9 0-10 0z"/>
<path class="c46" d="M1152 698l10-8 9-8 7-5-9 8-9 7zM1031 742l9 1 9 0 8-6-10 0-9 0z"/>
<path class="c45" d="M1115 724l9-6 10-6 9-7 9-7 8-6-10 7-9 7-9 6-10 5zM1049 743l10-1 9-1 10-2 9-3 7-7-9 3-10 2-9 2-9 1z"/>
<path class="c44" d="M1087 736l9-3 10-4 9-5 7-7-9 5-9 4-10 3z"/>
<path class="c57" d="M842 732l23-2 7 3-22 2z"/>
<path class="c58" d="M798 738l22-3 22-3 8 3-23 4-22 3z"/>
<path class="c59" d="M776 743l22-5 7 4-22 5z"/>
<path class="c60" d="M731 753l22-5 23-5 7 4-22 5-23 6z"/>
<path class="c61" d="M664 772l23-7 22-6 22-6 7 5-22 5-22 7-22 6z"/>
<path class="c56" d="M1351 534l20-15 21-13 7 3-20 14-21 13zM872 733l22-1 7 2-22 2z"/>
<path class="c55" d="M1331 548l20-14 7 2-20 15zM894 732l22-1 8 2-23 1z"/>
<path class="c54" d="M1291 580l20-16 20-16 7 3-20 15-20 15zM916 731l10 0 9 0 7 1-9 1-9 0z"/>
<path class="c53" d="M1272 595l9-7 10-8 7 1-9 8-10 7zM935 731l9 1 10 0 7 0-9 0-10 0z"/>
<path class="c52" d="M1253 612l10-9 9-8 7 1-9 8-10 8zM954 732l9 1 9 0 8 0-10 0-9-1z"/>
<path class="c51" d="M1235 628l9-8 9-8 7 0-9 7-9 8zM972 733l10 1 9 1 7-2-9 0-9 0z"/>
<path class="c50" d="M1216 645l9-9 10-8 7-1-10 8-9 8zM991 735l10 1 7-2-10-1z"/>
<path class="c49" d="M1197 661l9-8 10-8 7-2-9 8-10 7zM1001 736l9 0 9 1 7-3-9 0-9 0z"/>
<path class="c48" d="M1178 677l10-8 9-8 7-3-9 8-9 7zM1019 737l10 0 9 0 7-4-9 1-10 0z"/>
<path class="c47" d="M1150 699l10-7 9-7 9-8 8-4-10 8-9 6-9 7zM1038 737l9 0 10 0 9-1 7-6-9 2-9 1-10 0z"/>
<path class="c46" d="M1066 736l9-2 10-2 9-3 10-3 9-4 9-5 10-5 9-6 9-7 8-5-10 6-9 6-10 5-9 4-9 4-10 4-9 3-9 2-10 2z"/>
<path class="c57" d="M850 735l22-2 7 3-22 3z"/>
<path class="c58" d="M805 742l22-3 23-4 7 4-22 3-23 4z"/>
<path class="c59" d="M783 747l22-5 7 4-22 5z"/>
<path class="c60" d="M738 758l23-6 22-5 7 4-22 5-23 6z"/>
<path class="c61" d="M672 776l22-6 22-7 22-5 7 4-22 6-22 7-22 6z"/>
<path class="c57" d="M1379 523l20-14 7 4-20 13zM857 739l22-3 7 3-22 3z"/>
<path class="c56" d="M1358 536l21-13 7 3-20 13zM879 736l22-2 8 3-23 2z"/>
<path class="c55" d="M1318 566l20-15 20-15 8 3-21 14-20 15zM901 734l23-1 9 0 7 1-9 1-22 2z"/>
<path class="c54" d="M1298 581l20-15 7 2-20 15zM933 733l9-1 10 0 7 1-10 1-9 0z"/>
<path class="c53" d="M1270 604l9-8 10-7 9-8 7 2-9 7-10 7-9 8zM952 732l9 0 9 1 8 0-10 0-9 0z"/>
<path class="c52" d="M1251 619l9-7 10-8 7 1-9 7-10 7zM970 733l10 0 9 0 7-1-9 1-9 0z"/>
<path class="c51" d="M1223 643l9-8 10-8 9-8 7 0-9 8-9 7-10 8zM989 733l9 0 10 1 7-2-9 0-10 0z"/>
<path class="c50" d="M1204 658l10-7 9-8 7-1-9 7-9 7zM1008 734l9 0 9 0 8-3-10 1-9 0z"/>
<path class="c49" d="M1176 681l10-8 9-7 9-8 8-2-10 7-9 7-10 7zM1026 734l10 0 9-1 10 0 7-4-10 1-9 1-9 0z"/>
<path class="c48" d="M1148 700l10-6 9-7 9-6 7-4-9 7-9 6-10 5zM1055 733l9-1 9-2 10-2 7-5-9 3-10 1-9 2z"/>
<path class="c47" d="M1083 728l9-2 9-3 10-4 9-4 9-4 10-5 9-6 7-5-9 6-9 5-10 4-9 4-9 4-10 3-9 2z"/>
<path class="c58" d="M835 742l22-3 7 3-22 4z"/>
<path class="c59" d="M790 751l22-5 23-4 7 4-23 5-22 4z"/>
<path class="c60" d="M745 762l23-6 22-5 7 4-22 6-22 6z"/>
<path class="c61" d="M701 775l22-7 22-6 8 5-23 6-22 6z"/>
<path class="c62" d="M679 781l22-6 7 4-22 7z"/>
<path class="c57" d="M1366 539l20-13 20-13 17 8-20 13-20 13zM886 739l23-2 17 6-23 4z"/>
<path class="c56" d="M1345 553l21-14 17 8-20 13zM909 737l22-2 17 5-22 3z"/>
<path class="c55" d="M1305 583l20-15 20-15 18 7-20 13-21 14zM931 735l9-1 9 0 10-1 17 3-9 2-10 1-9 1z"/>
<path class="c54" d="M1277 605l9-8 10-7 9-7 17 4-9 7-9 6-10 7zM959 733l9 0 10 0 17 1-10 1-9 1z"/>
<path class="c53" d="M1258 619l10-7 9-7 17 2-9 7-9 6zM978 733l9 0 9-1 10 0 17-1-10 1-9 1-9 1z"/>
<path class="c52" d="M1230 642l10-8 9-7 9-8 18 1-10 7-9 7-10 6zM1006 732l9 0 9 0 18-3-10 1-9 1z"/>
<path class="c51" d="M1202 663l10-7 9-7 9-7 17-2-9 7-9 6-10 6zM1024 732l10-1 9 0 9-1 18-5-10 1-9 2-9 1z"/>
<path class="c50" d="M1165 690l9-6 9-7 10-7 9-7 17-4-9 7-9 5-10 6-9 6zM1052 730l10-1 9-2 10-1 9-3 17-7-9 2-10 3-9 2-9 2z"/>
<path class="c49" d="M1090 723l9-2 10-3 9-4 9-4 10-4 9-5 9-6 10-5 17-7-9 5-10 5-9 5-9 4-10 4-9 3-10 4-9 3z"/>
<path class="c58" d="M842 746l22-4 22-3 17 8-22 4-22 4z"/>
<path class="c59" d="M819 751l23-5 17 9-22 5z"/>
<path class="c60" d="M753 767l22-6 22-6 22-4 18 9-23 6-22 5-22 7z"/>
<path class="c61" d="M708 779l22-6 23-6 17 11-22 6-23 7z"/>
<path class="c62" d="M686 786l22-7 17 12-22 7z"/>
<path class="c58" d="M1403 534l20-13 17 9-20 12zM881 751l22-4 23-4 17 7-22 4-23 5z"/>
<path class="c57" d="M1363 560l20-13 20-13 17 8-20 12-20 13zM926 743l22-3 17 6-22 4z"/>
<path class="c56" d="M1322 587l21-14 20-13 17 7-20 12-20 13zM948 740l9-1 10-1 9-2 17 5-9 1-10 2-9 2z"/>
<path class="c55" d="M1294 607l10-7 9-6 9-7 18 5-10 6-9 6-10 6zM976 736l9-1 10-1 9-1 17 3-9 1-9 2-10 2z"/>
<path class="c54" d="M1257 634l9-7 10-7 9-6 9-7 17 3-9 7-9 6-10 6-9 6zM1004 733l9-1 10-1 9-1 17 1-9 1-9 2-10 2z"/>
<path class="c53" d="M1219 659l10-6 9-6 9-7 10-6 17 1-9 6-10 6-9 5-9 6zM1032 730l10-1 9-1 9-2 10-1 17-2-10 2-9 2-9 2-10 2z"/>
<path class="c52" d="M1154 698l9-5 10-5 9-5 9-6 10-6 9-5 9-7 18-1-10 6-9 5-10 5-9 5-9 5-10 5-9 4zM1070 725l9-2 9-2 10-3 9-2 9-3 10-4 9-3 17-4-9 3-9 4-10 3-9 3-9 3-10 2-9 3z"/>
<path class="c51" d="M1135 706l10-4 9-4 17-5-9 5-10 4z"/>
<path class="c59" d="M837 760l22-5 22-4 17 8-22 5-22 6z"/>
<path class="c60" d="M792 771l22-5 23-6 17 10-22 6-23 6z"/>
<path class="c61" d="M725 791l23-7 22-6 22-7 17 11-22 7-22 6-22 7z"/>
<path class="c62" d="M703 798l22-7 18 11-23 7z"/>
<path class="c58" d="M1400 554l20-12 20-12 18 9-21 11-20 12zM921 754l22-4 22-4 17 6-22 5-22 5z"/>
<path class="c57" d="M1340 592l20-13 20-12 20-13 17 8-20 12-20 12-20 12zM965 746l9-2 10-2 9-1 17 5-9 2-9 2-10 2z"/>
<path class="c56" d="M1302 617l9-7 10-6 9-6 10-6 17 6-10 6-9 5-9 6-10 6zM993 741l10-2 9-2 9-1 10-2 17 3-10 2-9 3-9 2-10 2z"/>
<path class="c55" d="M1255 647l10-6 9-6 9-6 10-6 9-6 17 4-9 5-9 6-10 6-9 5-10 5zM1031 734l9-2 9-1 10-2 9-2 17 1-9 3-9 2-10 2-9 2z"/>
<path class="c54" d="M1199 679l9-5 10-5 9-5 10-6 9-6 9-5 17 1-9 6-9 5-10 5-9 5-9 5-10 5zM1068 727l9-2 10-2 9-3 10-2 9-3 9-3 10-3 17-1-10 3-9 3-9 3-10 3-9 3-9 3-10 2z"/>
<path class="c53" d="M1134 709l9-4 9-3 10-4 9-5 9-4 10-5 9-5 17 0-9 5-9 4-10 4-9 5-9 3-10 4-9 4z"/>
<path class="c59" d="M876 764l22-5 23-5 17 8-22 6-23 6z"/>
<path class="c60" d="M832 776l22-6 22-6 17 10-22 6-22 6z"/>
<path class="c61" d="M765 795l22-6 22-7 23-6 17 10-22 7-23 6-22 7z"/>
<path class="c62" d="M720 809l23-7 22-7 17 11-22 8-22 7z"/>
<path class="c59" d="M1437 550l21-11 17 9-20 11zM916 768l22-6 22-5 17 8-22 6-22 6z"/>
<path class="c58" d="M1377 586l20-12 20-12 20-12 18 9-21 11-20 11-20 12zM960 757l22-5 10-2 9-2 9-2 18 6-10 2-9 3-9 2-23 6z"/>
<path class="c57" d="M1319 621l10-6 9-6 9-5 10-6 20-12 17 7-20 12-9 5-10 5-9 6-10 5zM1010 746l10-2 9-2 9-3 10-2 9-2 17 4-9 3-9 2-10 3-9 2-9 3z"/>
<path class="c56" d="M1263 654l9-6 10-5 9-5 10-6 9-6 9-5 17 5-9 5-9 5-10 6-9 5-9 5-10 5zM1057 735l10-2 9-2 9-3 10-2 9-3 17 3-9 2-10 3-9 3-9 3-10 2z"/>
<path class="c55" d="M1104 723l9-3 10-3 9-3 9-3 10-3 9-4 10-4 9-3 9-5 10-4 9-4 9-5 10-5 9-5 9-5 10-5 9-5 17 3-9 5-9 5-10 5-9 4-9 5-10 4-9 5-10 4-9 4-9 4-10 4-9 3-9 4-10 3-9 3-9 4-10 3z"/>
<path class="c60" d="M871 780l22-6 23-6 17 9-23 6-22 7z"/>
<path class="c61" d="M804 799l23-6 22-7 22-6 17 10-22 6-22 7-23 7z"/>
<path class="c62" d="M738 821l22-7 22-8 22-7 17 11-22 8-22 7-22 8z"/>
<path class="c59" d="M1414 581l20-11 21-11 20-11 17 9-20 11-20 11-21 11zM955 771l22-6 23-6 9-2 9-3 17 7-9 3-9 3-23 6-22 7z"/>
<path class="c58" d="M1346 621l9-6 10-5 9-5 20-12 20-12 17 9-20 11-20 11-9 5-10 5-9 5zM1018 754l10-2 9-3 9-2 10-3 9-2 17 6-9 2-10 3-9 3-9 3-10 2z"/>
<path class="c57" d="M1271 662l9-5 10-5 9-5 9-5 10-6 9-5 9-5 10-5 17 6-9 5-10 5-9 5-9 5-10 5-9 5-10 5-9 4zM1065 742l9-3 10-2 9-3 9-3 10-3 9-2 10-3 9-4 17 4-9 4-10 3-9 3-9 3-10 3-9 3-9 3-10 3z"/>
<path class="c56" d="M1140 719l9-3 10-3 9-4 9-3 10-4 9-4 9-4 10-4 9-5 10-4 9-5 9-4 10-5 9-5 17 4-9 5-10 5-9 4-9 5-10 4-9 4-9 4-10 4-9 4-9 4-10 4-9 3-10 4-9 3z"/>
<path class="c60" d="M910 783l23-6 22-6 17 9-22 6-22 7z"/>
<path class="c61" d="M844 803l22-7 22-6 22-7 18 10-23 7-22 7-22 7z"/>
<path class="c62" d="M755 833l22-8 22-7 22-8 23-7 17 11-22 7-23 8-22 7-22 8z"/>
<path class="c60" d="M1472 568l20-11 17 9-20 11zM950 786l22-6 22-7 23-6 17 8-22 7-23 7-22 7z"/>
<path class="c59" d="M1382 617l9-5 20-11 20-11 21-11 20-11 17 9-20 10-20 11-21 11-20 10-9 5zM1017 767l9-3 9-3 10-2 9-3 9-3 10-3 17 7-9 3-10 3-9 3-9 3-10 3-9 3z"/>
<path class="c58" d="M1288 666l9-4 10-5 9-5 10-5 9-5 9-5 10-5 9-5 9-5 10-5 17 7-9 5-10 5-9 5-10 5-9 5-9 4-10 5-9 5-9 4-10 5zM1073 750l9-2 10-3 9-3 9-3 10-3 9-3 9-3 10-3 9-4 17 5-9 4-9 3-10 4-9 3-10 3-9 3-9 3-10 3-9 3z"/>
<path class="c57" d="M1157 723l9-3 10-4 9-3 10-4 9-4 9-4 10-4 9-4 9-4 10-4 9-5 9-4 10-5 9-5 17 6-9 4-9 5-10 4-9 5-9 4-10 4-9 4-10 4-9 4-9 4-10 4-9 3-9 4-10 3z"/>
<path class="c61" d="M883 807l22-7 23-7 22-7 17 10-22 7-22 7-23 7z"/>
<path class="c62" d="M794 836l22-7 23-8 22-7 22-7 17 10-22 8-22 7-22 8-23 8z"/>
<path class="c63" d="M772 844l22-8 17 12-22 8z"/>
<path class="c60" d="M1449 598l20-11 20-10 20-11 17 10-20 10-20 11-20 10zM989 789l23-7 22-7 9-3 10-3 9-3 17 8-9 4-10 3-9 3-22 7-22 7z"/>
<path class="c59" d="M1333 658l10-5 9-4 9-5 10-5 9-5 10-5 9-5 9-5 20-10 21-11 17 9-20 10-21 11-9 4-9 5-10 5-9 4-9 5-10 5-9 4-9 5zM1062 766l9-3 10-3 9-3 9-3 10-3 9-3 9-3 10-3 9-3 10-4 17 7-10 3-9 4-9 3-10 3-9 4-9 3-10 3-9 3-10 3-9 3z"/>
<path class="c58" d="M1156 735l9-3 9-4 10-3 9-4 9-3 10-4 9-4 9-4 10-4 9-4 10-4 9-4 9-5 10-4 9-5 9-4 10-5 9-4 9-5 18 7-10 5-9 4-10 5-9 4-9 4-10 5-9 4-9 4-10 4-9 4-9 4-10 4-9 4-9 4-10 4-9 3-10 4-9 3-9 4z"/>
<path class="c61" d="M923 810l22-7 22-7 22-7 18 9-23 8-22 7-22 8z"/>
<path class="c62" d="M834 840l22-8 22-7 22-8 23-7 17 11-22 7-23 8-22 8-22 7z"/>
<path class="c63" d="M789 856l22-8 23-8 17 11-22 8-23 8z"/>
<path class="c61" d="M1506 586l20-10 17 10-20 10zM962 813l22-7 23-8 22-7 22-7 17 9-22 7-22 8-23 8-22 7z"/>
<path class="c60" d="M1397 642l10-5 9-5 9-4 21-11 20-10 20-10 20-11 17 10-20 10-20 10-20 10-20 10-10 5-9 4-9 5zM1051 784l9-3 10-3 9-4 9-3 10-3 9-3 10-3 9-3 9-4 17 8-9 4-9 3-10 3-9 4-9 3-10 3-9 3-9 4-10 3z"/>
<path class="c59" d="M1135 755l10-3 9-3 9-4 10-3 9-4 9-3 10-4 9-3 10-4 9-4 9-4 10-4 9-4 9-4 10-4 9-4 9-4 10-5 9-4 9-4 10-5 9-4 10-5 9-5 9-4 10-5 9-5 9-4 18 8-10 5-9 4-10 5-9 4-9 5-10 4-9 5-9 4-10 4-9 5-9 4-10 4-9 4-9 4-10 4-9 4-10 4-9 4-9 4-10 4-9 3-9 4-10 4-9 3-9 4-10 3-9 4-10 3z"/>
<path class="c62" d="M851 851l22-7 22-8 23-8 22-7 22-8 17 10-22 8-22 8-23 8-22 8-22 8z"/>
<path class="c63" d="M806 867l23-8 22-8 17 12-22 8-23 8z"/>
<path class="c61" d="M1483 616l20-10 20-10 20-10 18 10-21 10-20 10-20 10zM1001 816l23-8 22-8 22-7 10-3 9-4 9-3 10-3 17 9-9 3-10 4-9 3-10 3-22 8-22 8-22 8z"/>
<path class="c60" d="M1106 780l9-3 9-4 10-3 9-3 9-4 10-3 9-4 10-3 9-4 9-3 10-4 9-4 9-3 10-4 9-4 9-4 10-4 9-4 10-4 9-4 9-4 10-4 9-4 9-5 10-4 9-4 9-5 10-4 9-5 9-4 10-5 9-4 10-5 9-5 9-4 10-5 20-10 20-10 17 10-20 9-20 10-10 5-9 4-9 5-10 4-9 5-9 4-10 5-9 4-9 4-10 5-9 4-9 4-10 5-9 4-10 4-9 4-9 4-10 4-9 4-9 4-10 4-9 4-9 4-10 3-9 4-10 4-9 3-9 4-10 4-9 3-9 4-10 3-9 4-9 3-10 3-9 4z"/>
<path class="c62" d="M890 855l22-8 23-8 22-8 22-8 22-7 18 10-23 8-22 8-22 8-22 8-23 8z"/>
<path class="c63" d="M823 879l23-8 22-8 22-8 17 11-22 8-22 8-22 9z"/>
<path class="c61" d="M1432 659l9-5 9-4 10-5 20-10 20-9 20-10 20-10 21-10 17 10-20 10-21 10-20 9-20 10-20 10-9 4-10 5-9 4zM1063 810l22-8 10-3 9-3 10-4 9-3 9-4 10-3 9-3 9-4 10-3 9-4 9-3 18 8-10 4-9 4-10 3-9 4-9 3-10 4-9 3-9 4-10 3-9 4-9 3-23 8z"/>
<path class="c60" d="M1188 765l10-4 9-4 9-3 10-4 9-4 10-3 9-4 9-4 10-4 9-4 9-4 10-4 9-4 9-4 10-4 9-4 10-5 9-4 9-4 10-5 9-4 9-4 10-5 9-4 9-5 10-4 17 9-9 5-10 4-9 4-10 5-9 4-9 4-10 4-9 5-9 4-10 4-9 4-9 4-10 4-9 5-9 4-10 4-9 3-10 4-9 4-9 4-10 4-9 4-9 3-10 4-9 4-9 3z"/>
<path class="c62" d="M952 850l22-8 22-8 23-8 22-8 22-8 17 10-22 8-22 9-22 8-23 8-22 8z"/>
<path class="c63" d="M841 891l22-9 22-8 22-8 23-8 22-8 17 11-22 8-22 8-23 9-22 8-22 8z"/>
<path class="c62" d="M1558 616l20-10 17 11-20 9zM991 853l23-8 22-8 22-9 22-8 23-8 9-3 9-4 18 10-10 4-9 3-22 9-23 8-22 8-22 9-22 8z"/>
<path class="c61" d="M1121 805l10-3 9-4 9-3 10-4 9-3 9-4 10-3 9-4 10-4 9-3 9-4 10-4 9-3 9-4 10-4 9-4 9-4 10-4 9-3 10-4 9-4 9-5 10-4 9-4 9-4 10-4 9-4 9-5 10-4 9-4 9-4 10-5 9-4 10-4 9-5 9-4 10-5 9-4 20-10 20-10 20-9 21-10 17 10-20 10-20 10-21 9-20 10-9 4-10 4-9 5-9 4-10 4-9 5-9 4-10 4-9 4-9 5-10 4-9 4-9 4-10 4-9 4-10 5-9 4-9 4-10 4-9 3-9 4-10 4-9 4-9 4-10 4-9 4-10 3-9 4-9 4-10 3-9 4-9 4-10 3-9 4-9 4-10 3-9 4-9 3z"/>
<path class="c63" d="M858 902l22-8 22-8 23-9 22-8 22-8 22-8 18 11-23 8-22 9-22 8-22 8-23 9-22 8z"/></g></g>
<g class="axes"><path class="a" d="M31.9 136.6L31.9 46.3"/>
<path class="a" d="M31.9 136.6L87.5 178.6"/>
<path class="a" d="M87.5 178.6L159.5 147.4"/>
<path class="a" d="M31.9 46.3L33.7 45.5"/>
<path class="a" d="M31.9 68.9L33.7 68.1"/>
<path class="a" d="M31.9 91.4L33.7 90.7"/>
<path class="a" d="M31.9 114L33.7 113.2"/>
<path class="a" d="M31.9 136.6L33.7 135.8"/>
<path class="a" d="M31.9 136.6L33.7 135.8"/>
<path class="a" d="M59.7 157.6L61.5 156.8"/>
<path class="a" d="M87.5 178.6L89.3 177.8"/>
<path class="a" d="M87.5 178.6L86.1 177.5"/>
<path class="a" d="M123.5 163L122.1 161.9"/>
<path class="a" d="M159.5 147.4L158.1 146.3"/></g>
<text font-size="10.5" text-anchor="end" transform="matrix(0.7 0 0 1 27.5 48.5)">0</text>
<text font-size="10.5" text-anchor="end" transform="matrix(0.7 0 0 1 27.5 71.1)">-0.2</text>
<text font-size="10.5" text-anchor="end" transform="matrix(0.7 0 0 1 27.5 93.6)">-0.4</text>
<text font-size="10.5" text-anchor="end" transform="matrix(0.7 0 0 1 27.5 116.2)">-0.6</text>
<text font-size="10.5" text-anchor="end" transform="matrix(0.7 0 0 1 27.5 138.8)">-0.8</text>
<text font-size="10.5" text-anchor="end" transform="matrix(0.7 0 0 1 27.2 147.7)">5</text>
<text font-size="10.5" text-anchor="end" transform="matrix(0.7 0 0 1 55 168.7)">0</text>
<text font-size="10.5" text-anchor="end" transform="matrix(0.7 0 0 1 82.8 189.7)">-5</text>
<text font-size="10.5" transform="matrix(0.7 0 0 1 90.3 189.6)">-5</text>
<text font-size="10.5" transform="matrix(0.7 0 0 1 126.3 174)">0</text>
<text font-size="10.5" transform="matrix(0.7 0 0 1 162.3 158.4)">5</text>
<text font-size="10.5" text-anchor="middle" transform="matrix(0.7 0 0 1 52.4 191.4)">x<tspan font-size="7.6" dy="3.4">2</tspan></text>
<text font-size="10.5" text-anchor="middle" transform="matrix(0.7 0 0 1 125.4 193.4)">x<tspan font-size="7.6" dy="3.4">1</tspan></text>
<text font-size="10.5" text-anchor="middle" textLength="57" lengthAdjust="spacingAndGlyphs" transform="matrix(0 -1 0.7 0 6.2 92.5)">F21 ( x<tspan font-size="7.6" dy="3.4">1</tspan><tspan dy="-3.4"> , </tspan>x<tspan font-size="7.6" dy="3.4">2</tspan><tspan dy="-3.4"> )</tspan></text>
<text x="95.5" y="7.2" font-size="10.5" text-anchor="middle" textLength="57.5" lengthAdjust="spacingAndGlyphs">Parameter space</text>
<g class="grid"><path class="g" d="M412 62.8L477.1 34.1"/>
<path class="g" d="M412 83L477.1 54.3"/>
<path class="g" d="M412 103.2L477.1 74.5"/>
<path class="g" d="M412 123.4L477.1 94.7"/>
<path class="g" d="M412 143.6L477.1 114.9"/>
<path class="g" d="M444.6 129.2L444.6 48.5"/>
<path class="g" d="M477.1 114.9L477.1 34.1"/>
<path class="g" d="M477.1 34.1L527.3 71.5"/>
<path class="g" d="M477.1 54.3L527.3 91.7"/>
<path class="g" d="M477.1 74.5L527.3 111.9"/>
<path class="g" d="M477.1 94.7L527.3 132.1"/>
<path class="g" d="M477.1 114.9L527.3 152.3"/>
<path class="g" d="M502.2 133.6L502.2 52.8"/>
<path class="g" d="M527.3 152.3L527.3 71.5"/>
<path class="g" d="M444.6 129.2L494.8 166.7"/>
<path class="g" d="M477.1 114.9L527.3 152.3"/>
<path class="g" d="M437.1 162.3L502.2 133.6"/>
<path class="g" d="M412 143.6L477.1 114.9"/></g>
<g class="cont" transform="scale(.1)"><path stroke="#e2342d" d="M4325 1346l1 4 0 4 1 3 1 2 1 5 0 3 1 3 1 3 1 5 1 3 1 2 2 5 1 3 1 3 2 5 1 2 1 4 2 4 1 2 2 5 2 3 2 4 1 3 2 3 3 4 2 3 2 4 2 4 3 3 3 4 1 3 4 4 2 3 3 4 4 4 3 3 3 3 4 4 4 5 3 2 4 4 4 4 5 4 4 3 5 4 5 4 5 4 6 3 5 4 5 3 6 4 3 2 6 3 6 3 6 3 3 2 7 3 5 3 4 2 7 3 4 1 7 3 3 1 8 3 3 2 8 2 4 1 6 2 5 2 5 1 7 2 5 2 4 1 7 1 6 2 5 1 4 1 7 1 7 2 5 1 5 0 5 1 5 1 6 1 6 1 7 0 6 1 6 1 5 0 6 1 6 0 6 0 5 1 6 0 5 0 5 0 6 0 6 0 7 0 7 0 5 0 5 0 5 0 7-1 7 0 5-1 5 0 8-1 5-1 5 0 9-1 4-1 6-1 7-1 4-1 8-1 4-1 8-2 5-1 7-1 8-2 4-1 8-2 6-2 5-2 7-2 7-2 7-3 4-1 7-3 6-2 7-3 7-3 6-3 6-3 6-3 7-3 3-2 6-3 5-3 6-4 3-2 5-3 6-4 3-2 5-3 4-4 4-2 5-4 2-2 5-4 2-3 5-3 2-3 3-3 4-3 2-3 4-4 2-3 3-2 4-5 2-2 2-3 3-4 2-3 2-2 3-4 2-4 2-2 2-3 2-4 2-4 2-3 2-3 1-2 2-3 2-4 2-4 1-3 1-3 2-3 1-3 1-3 1-3 1-3"/>
<path stroke="#edbc2f" d="M4828 1303l-4-2-6-3-6-2-4-2-7-3-4-2-6-2-6-1-4-2-7-2-5-1-5-1-5-1-6-1-7-1-6 0-6-1-5 0-6 0-5 0-5 0-7 0-7 0-5 1-5 0-8 2-5 0-8 2-4 1-8 1-4 1-7 3-7 2-8 2-3 2-7 2-6 3-7 3-6 3-3 2-6 3-6 3-5 4-3 2-5 4-5 3-3 2-4 4-3 3-3 3-4 3-2 3-4 4-2 3-2 2-2 4-3 4-2 3-1 2-2 3-1 3-2 4-1 4-1 3-1 3 0 4-1 3 0 3 0 3 0 3 0 4 0 4 1 3 0 3 1 3 1 5 1 3 1 2 2 5 2 3 2 4 2 3 3 4 2 2 4 5 3 4 4 3 3 3 5 4 5 4 5 3 5 4 3 2 6 3 6 3 5 2 5 3 7 2 4 2 6 2 5 2 4 1 8 2 5 2 4 1 6 1 7 1 6 1 5 1 5 1 6 0 5 1 6 0 6 1 6 0 6 0 7 0 6 0 4 0 5-1 8 0 6-1 5 0 7-1 6-1 4-1 8-1 5-1 7-2 8-2 4-1 7-2 7-3 7-3 6-2 7-3 6-4 6-3 6-3 2-2 6-4 3-3 4-3 4-3 3-3 3-3 4-4 2-2 2-3 3-5 2-2 2-3 1-3 2-4 2-3 1-4 1-3 1-3 1-4 1-3 0-3 0-4 1-3 0-3-1-2 0-4-1-4 0-4-1-2-1-4-1-4-1-3-2-4-2-3-1-3-3-4-1-3-3-4-3-4-2-3-4-4-3-4-3-3-4-4-5-4-5-3-5-4-5-4-5-3-6-4-5-3"/>
<path stroke="#58b983" d="M4788 1355l-5-3-7-3-4-1-6-2-6-2-4-1-5-1-7-1-7-1-6-1-6 0-5 0-6-1-5 0-5 1-6 0-8 1-4 0-6 1-7 1-6 2-6 1-7 2-7 3-7 3-6 3-6 3-6 3-3 3-5 3-3 3-3 4-3 2-3 4-2 3-2 3-1 3-2 3-1 4-1 3 0 3-1 3 0 4 1 4 0 4 1 2 1 3 2 5 1 3 3 4 2 2 4 5 4 4 4 4 5 4 6 3 6 3 6 4 4 1 7 3 3 1 8 2 5 2 4 1 6 1 6 1 7 1 6 1 6 0 5 0 5 0 6 0 5 0 7 0 7-1 4-1 8-1 5-1 8-2 3-1 8-2 7-2 6-3 7-3 6-3 5-4 3-2 5-4 2-2 5-4 2-3 2-3 3-4 2-3 1-3 1-3 1-3 1-3 1-4 0-3 0-4-1-3 0-3-1-3-2-5-1-2-2-5-2-3-3-4-2-2-4-4-5-4-5-4-5-4-6-3-4-2"/>
<path stroke="#298fd6" d="M4754 1376l-6-3-4-1-7-2-7-1-5 0-6-1-6 0-6 0-4 0-5 1-9 1-4 1-7 2-8 2-6 3-6 3-6 4-2 2-5 4-2 3-2 3-2 3-1 4-1 3 0 3 0 3 1 3 1 5 2 3 3 4 1 3 4 4 5 4 6 3 5 3 5 2 6 2 5 1 5 1 5 1 7 1 5 1 6 0 5 0 7 0 7-1 5-1 8-1 4-1 7-3 6-2 6-4 4-2 5-3 3-3 3-4 2-2 2-3 1-4 1-3 1-4 0-3 0-3-2-5-1-2-2-4-2-3-4-5-5-3-5-4-6-3-5-2"/>
<path stroke="#273196" d="M4727 1398l-5-1-5-1-5-1-8 1-4 1-7 3-6 3-2 2-1 3-1 3 1 5 1 3 5 4 6 3 4 1 5 1 6 1 8-1 5-1 7-3 5-4 2-2 2-3 0-3-1-5-2-2-4-4-6-3"/></g>
<g filter="url(#bl)"><g class="surf" transform="scale(.1)"><path class="c47" d="M4698 539l18-9 19-10 18-9 18-11 14 12-18 11-18 10-19 10-18 9zM4544 597l9-3 8-3 9-2 8-3 9-3 8-3 9-3 8-3 9-3 8-3 14 15-8 4-9 3-8 3-9 4-8 3-9 3-8 3-9 3-8 2-8 3z"/>
<path class="c46" d="M4629 568l9-3 8-4 8-3 9-4 8-3 9-4 18-8 14 13-18 9-9 4-8 4-8 3-9 4-8 4-9 3z"/>
<path class="c48" d="M4502 607l9-2 8-2 9-2 8-2 8-2 15 17-9 2-8 3-9 2-8 2-9 2z"/>
<path class="c49" d="M4468 615l9-2 8-2 9-2 8-2 14 18-8 2-9 2-8 1-9 2z"/>
<path class="c50" d="M4443 619l8-1 9-2 8-1 14 17-8 1-9 2-8 1z"/>
<path class="c51" d="M4409 625l9-1 8-2 8-1 9-2 14 17-9 1-8 2-8 1-9 1z"/>
<path class="c52" d="M4384 629l8-1 9-2 8-1 14 16-8 1-9 1-8 1z"/>
<path class="c53" d="M4358 633l9-1 8-2 9-1 14 15-9 1-8 1-9 2z"/>
<path class="c54" d="M4341 636l9-2 8-1 14 15-8 1-9 1z"/>
<path class="c55" d="M4301 643l20-4 20-3 14 14-20 3-20 3z"/>
<path class="c56" d="M4281 647l20-4 14 13-20 4z"/>
<path class="c57" d="M4241 656l20-5 20-4 14 13-20 3-20 5z"/>
<path class="c58" d="M4200 665l21-5 20-4 14 12-20 4-20 5z"/>
<path class="c59" d="M4160 676l20-6 20-5 15 12-21 5-20 5z"/>
<path class="c60" d="M4120 687l20-6 20-5 14 11-20 6-20 5z"/>
<path class="c47" d="M4749 533l18-10 18-11 14 12-18 11-18 10zM4516 625l9-2 8-2 9-2 8-3 9-2 14 18-9 3-8 2-9 3-8 2-9 2z"/>
<path class="c46" d="M4559 614l8-3 8-2 9-3 8-3 9-3 8-3 9-4 8-3 9-3 8-4 9-3 8-4 9-4 8-3 8-4 9-4 18-9 18-9 19-10 14 12-19 10-18 10-18 9-8 5-9 4-8 4-9 4-8 4-9 4-8 4-9 3-8 4-9 4-8 3-9 3-8 3-9 4-8 2-8 3z"/>
<path class="c48" d="M4482 632l9-2 8-1 9-2 8-2 14 19-8 2-9 1-8 2-9 1z"/>
<path class="c49" d="M4457 636l8-1 9-2 8-1 14 18-8 2-9 1-8 1z"/>
<path class="c50" d="M4432 640l8-1 8-2 9-1 14 18-8 1-9 1-8 1z"/>
<path class="c51" d="M4406 643l9-1 8-1 9-1 14 17-9 1-8 0-9 1z"/>
<path class="c52" d="M4389 645l9-1 8-1 14 16-8 1-9 1z"/>
<path class="c53" d="M4364 649l8-1 9-2 8-1 14 16-8 1-9 0-8 1z"/>
<path class="c54" d="M4335 653l20-3 9-1 14 14-9 1-20 3z"/>
<path class="c55" d="M4315 656l20-3 14 14-20 2z"/>
<path class="c56" d="M4275 663l20-3 20-4 14 13-20 3-20 4z"/>
<path class="c57" d="M4255 668l20-5 14 13-20 4z"/>
<path class="c58" d="M4215 677l20-5 20-4 14 12-20 4-20 4z"/>
<path class="c59" d="M4174 687l20-5 21-5 14 11-21 5-20 5z"/>
<path class="c60" d="M4134 698l20-5 20-6 14 11-20 6-20 5z"/>
<path class="c47" d="M4763 545l18-10 18-11 14 11-18 11-18 11zM4496 650l9-1 8-2 9-1 14 20-9 2-8 1-9 1z"/>
<path class="c46" d="M4700 579l8-5 18-9 18-10 19-10 14 12-19 11-18 10-18 10-8 5zM4522 646l8-2 9-2 8-2 9-3 8-2 14 20-8 3-9 2-8 2-9 2-8 2z"/>
<path class="c45" d="M4564 635l9-3 8-3 8-2 9-4 8-3 9-3 8-3 9-4 8-4 9-3 8-4 9-4 8-4 9-4 8-4 9-4 14 14-9 4-8 5-9 4-8 5-9 4-8 4-9 4-8 4-9 4-8 4-9 4-8 3-8 4-9 3-8 3-9 3z"/>
<path class="c48" d="M4471 654l8-1 9-1 8-2 14 20-8 1-8 1-9 1z"/>
<path class="c49" d="M4446 657l8-1 9-1 8-1 14 19-8 1-9 0-8 1z"/>
<path class="c50" d="M4429 658l8 0 9-1 14 18-9 0-8 0z"/>
<path class="c51" d="M4403 661l9-1 8-1 9-1 14 17-9 1-8 0-9 1z"/>
<path class="c52" d="M4386 662l9 0 8-1 14 16-8 0-9 1z"/>
<path class="c53" d="M4369 664l9-1 8-1 14 16-8 0-8 1z"/>
<path class="c54" d="M4349 667l20-3 15 15-21 2z"/>
<path class="c55" d="M4309 672l20-3 20-2 14 14-20 2-20 2z"/>
<path class="c56" d="M4289 676l20-4 14 13-20 3z"/>
<path class="c57" d="M4249 684l20-4 20-4 14 12-20 4-20 4z"/>
<path class="c58" d="M4229 688l20-4 14 12-20 4z"/>
<path class="c59" d="M4188 698l20-5 21-5 14 12-20 5-21 5z"/>
<path class="c60" d="M4148 709l20-5 20-6 14 12-20 5-20 5z"/>
<path class="c47" d="M4795 546l18-11 14 10-18 12zM4477 674l8-1 9-1 8-1 14 22-8 0-9 1-8 0z"/>
<path class="c46" d="M4740 578l18-10 19-11 18-11 14 11-18 11-18 12-19 11zM4502 671l8-1 9-1 8-1 14 22-8 1-8 1-9 1z"/>
<path class="c45" d="M4680 611l8-5 9-4 8-5 9-4 8-5 18-10 14 13-18 11-8 5-9 5-8 5-9 5-8 5zM4527 668l9-2 8-2 9-2 8-2 14 23-8 2-9 2-8 2-9 1z"/>
<path class="c44" d="M4561 660l9-2 8-3 9-3 8-3 9-3 8-4 8-3 9-4 8-4 9-4 8-4 9-4 8-4 9-4 14 16-9 5-8 4-9 5-8 5-9 4-8 5-8 4-9 4-8 4-9 4-8 3-9 3-8 3-9 3z"/>
<path class="c48" d="M4460 675l8-1 9 0 14 20-9 0-8 0z"/>
<path class="c49" d="M4443 675l8 0 9 0 14 19-9 0-8 0z"/>
<path class="c50" d="M4426 676l8 0 9-1 14 19-9 0-8 0z"/>
<path class="c51" d="M4409 677l8 0 9-1 14 18-9-1-8 0z"/>
<path class="c52" d="M4384 679l8-1 8 0 9-1 14 16-9 1-8 0-8 0z"/>
<path class="c53" d="M4363 681l21-2 14 15-21 1z"/>
<path class="c54" d="M4343 683l20-2 14 14-20 1z"/>
<path class="c55" d="M4323 685l20-2 14 13-20 2z"/>
<path class="c56" d="M4303 688l20-3 14 13-20 3z"/>
<path class="c57" d="M4263 696l20-4 20-4 14 13-20 3-20 4z"/>
<path class="c58" d="M4223 705l20-5 20-4 14 12-20 4-20 4z"/>
<path class="c59" d="M4202 710l21-5 14 11-21 5z"/>
<path class="c60" d="M4162 720l20-5 20-5 14 11-20 5-20 5z"/>
<path class="c47" d="M4809 557l18-12 14 10-18 12zM4474 694l8 0 9 0 14 22-9-1-8 0z"/>
<path class="c46" d="M4773 580l18-12 18-11 14 10-18 12-18 12zM4491 694l8 0 9-1 14 24-9-1-8 0z"/>
<path class="c45" d="M4728 607l8-5 18-11 19-11 14 11-19 12-18 12-8 6zM4508 693l8 0 9-1 14 25-9 0-8 0z"/>
<path class="c44" d="M4685 632l9-5 8-5 9-5 8-5 9-5 14 14-9 6-8 5-9 6-8 5-9 6zM4525 692l8-1 8-1 9-1 14 25-9 1-8 1-8 1z"/>
<path class="c43" d="M4626 663l9-4 8-4 8-5 9-4 8-5 9-5 8-4 14 17-8 6-9 5-8 6-8 5-9 5-8 5-9 5zM4550 689l8-2 9-2 8-2 9-3 8-3 14 25-8 3-9 3-8 3-9 2-8 1z"/>
<path class="c42" d="M4592 677l9-3 8-3 9-4 8-4 14 23-8 4-9 5-8 4-9 3z"/>
<path class="c48" d="M4457 694l8 0 9 0 14 21-9-1-8-1z"/>
<path class="c49" d="M4440 694l8 0 9 0 14 19-9-1-8 0z"/>
<path class="c50" d="M4423 693l8 0 9 1 14 18-9-1-8-1z"/>
<path class="c51" d="M4406 694l8 0 9-1 14 17-8 0-9 0z"/>
<path class="c52" d="M4398 694l8 0 14 16-8-1z"/>
<path class="c53" d="M4377 695l21-1 14 15-21 0z"/>
<path class="c54" d="M4357 696l20-1 14 14-20 1z"/>
<path class="c55" d="M4337 698l20-2 14 14-20 1z"/>
<path class="c56" d="M4297 704l20-3 20-3 14 13-20 2-20 3z"/>
<path class="c57" d="M4277 708l20-4 14 12-20 3z"/>
<path class="c58" d="M4237 716l20-4 20-4 14 11-20 4-20 4z"/>
<path class="c59" d="M4196 726l20-5 21-5 14 11-20 5-21 5z"/>
<path class="c60" d="M4176 731l20-5 14 11-20 5z"/>
<path class="c47" d="M4823 567l18-12 7 5-18 12zM4471 713l8 1 9 1 6 10-8-1-9-2z"/>
<path class="c46" d="M4787 591l18-12 18-12 7 5-19 12-18 13zM4488 715l8 0 7 11-9-1z"/>
<path class="c45" d="M4750 615l18-12 19-12 6 6-18 12-18 13zM4496 715l9 1 8 0 7 12-9-1-8-1z"/>
<path class="c44" d="M4716 638l9-6 8-5 9-6 8-6 7 7-9 6-8 6-9 6-8 5zM4513 716l9 1 8 0 7 12-9-1-8 0z"/>
<path class="c43" d="M4691 655l8-6 9-6 8-5 7 7-9 6-8 6-9 6zM4530 717l9 0 8-1 7 13-9 0-8 0z"/>
<path class="c42" d="M4649 681l8-5 9-5 8-5 8-6 9-5 6 8-8 6-9 6-8 6-8 6-9 5zM4547 716l8-1 9-1 8-1 7 13-9 1-8 1-8 1z"/>
<path class="c41" d="M4572 713l9-2 8-3 9-3 8-3 9-3 8-4 9-5 8-4 9-5 6 11-8 5-9 5-8 5-9 4-8 4-9 3-8 3-9 3-8 2z"/>
<path class="c48" d="M4454 712l8 0 9 1 6 9-8-1-9-1z"/>
<path class="c49" d="M4445 711l9 1 6 8-8-1z"/>
<path class="c50" d="M4429 710l8 0 8 1 7 8-8 0-9-1z"/>
<path class="c51" d="M4412 709l8 1 9 0 6 8-8-1-9 0z"/>
<path class="c52" d="M4391 709l21 0 6 8-20-1z"/>
<path class="c53" d="M4371 710l20-1 7 7-20 0z"/>
<path class="c54" d="M4351 711l20-1 7 6-20 1z"/>
<path class="c55" d="M4331 713l20-2 7 6-20 2z"/>
<path class="c56" d="M4311 716l20-3 7 6-20 3z"/>
<path class="c57" d="M4291 719l20-3 7 6-21 3z"/>
<path class="c58" d="M4251 727l20-4 20-4 6 6-20 3-20 4z"/>
<path class="c59" d="M4210 737l21-5 20-5 6 5-20 5-20 5z"/>
<path class="c60" d="M4190 742l20-5 7 5-20 5z"/>
<path class="c47" d="M4830 572l18-12 6 4-18 13zM4469 721l8 1 9 2 6 10-8-2-9-1z"/>
<path class="c46" d="M4793 597l18-13 19-12 6 5-18 12-18 13zM4486 724l8 1 7 10-9-1z"/>
<path class="c45" d="M4757 622l18-13 18-12 7 5-19 13-18 13zM4494 725l9 1 8 1 7 11-9-1-8-2z"/>
<path class="c44" d="M4740 634l8-6 9-6 6 6-8 6-9 7zM4511 727l9 1 6 12-8-2z"/>
<path class="c43" d="M4706 657l8-6 9-6 8-5 9-6 6 7-8 6-9 6-8 7-9 6zM4520 728l8 0 9 1 6 13-8-1-9-1z"/>
<path class="c42" d="M4680 675l9-6 8-6 9-6 6 9-8 6-9 7-8 6zM4537 729l8 0 9 0 6 13-8 0-9 0z"/>
<path class="c41" d="M4655 692l9-5 8-6 8-6 7 10-8 6-9 7-8 6zM4554 729l8-1 8-1 9-1 6 14-8 1-8 1-9 0z"/>
<path class="c40" d="M4579 726l8-2 9-3 8-3 9-3 8-4 9-4 8-5 9-5 8-5 7 12-9 5-8 6-9 5-8 4-9 4-8 4-9 3-8 3-9 2z"/>
<path class="c48" d="M4460 720l9 1 6 10-8-2z"/>
<path class="c49" d="M4444 719l8 0 8 1 7 9-8-1-9-1z"/>
<path class="c50" d="M4427 717l8 1 9 1 6 8-8-1-9-1z"/>
<path class="c51" d="M4418 717l9 0 6 8-8-1z"/>
<path class="c52" d="M4398 716l20 1 7 7-20-1z"/>
<path class="c53" d="M4378 716l20 0 7 7-21 0z"/>
<path class="c54" d="M4358 717l20-1 6 7-20 0z"/>
<path class="c55" d="M4338 719l20-2 6 6-20 2z"/>
<path class="c56" d="M4318 722l20-3 6 6-20 2z"/>
<path class="c57" d="M4297 725l21-3 6 5-20 3z"/>
<path class="c58" d="M4257 732l20-4 20-3 7 5-20 4-20 4z"/>
<path class="c59" d="M4217 742l20-5 20-5 7 6-20 4-21 5z"/>
<path class="c60" d="M4197 747l20-5 6 5-20 5z"/>
<path class="c47" d="M4836 577l18-13 7 4-18 13zM4467 729l8 2 9 1 6 10-8-2-8-2z"/>
<path class="c46" d="M4800 602l18-13 18-12 7 4-19 13-18 14zM4484 732l8 2 7 10-9-2z"/>
<path class="c45" d="M4781 615l19-13 6 6-18 13zM4492 734l9 1 6 11-8-2z"/>
<path class="c44" d="M4746 641l9-7 8-6 18-13 7 6-18 14-9 6-8 7zM4501 735l8 2 9 1 6 12-8-2-9-2z"/>
<path class="c43" d="M4729 653l9-6 8-6 7 7-9 6-8 7zM4518 738l8 2 7 12-9-2z"/>
<path class="c42" d="M4704 672l8-6 9-6 8-7 7 8-9 7-8 7-9 7zM4526 740l9 1 8 1 7 13-9-1-8-2z"/>
<path class="c41" d="M4679 691l8-6 8-6 9-7 6 10-8 7-8 7-9 7zM4543 742l9 0 8 0 7 15-9-1-8-1z"/>
<path class="c40" d="M4653 709l9-5 8-6 9-7 6 12-8 6-9 7-8 6zM4560 742l9 0 8-1 7 15-9 0-8 1z"/>
<path class="c39" d="M4577 741l8-1 9-2 8-3 9-3 8-4 9-4 8-4 9-5 8-6 7 13-9 6-8 5-9 5-8 5-9 4-8 3-9 3-8 2-8 1z"/>
<path class="c48" d="M4459 728l8 1 7 9-9-1z"/>
<path class="c49" d="M4442 726l8 1 9 1 6 9-8-2-9-1z"/>
<path class="c50" d="M4433 725l9 1 6 8-8-1z"/>
<path class="c51" d="M4425 724l8 1 7 8-9-2z"/>
<path class="c52" d="M4405 723l20 1 6 7-20-1z"/>
<path class="c53" d="M4384 723l21 0 6 7-20-1z"/>
<path class="c54" d="M4364 723l20 0 7 6-20 1z"/>
<path class="c55" d="M4344 725l20-2 7 7-20 1z"/>
<path class="c56" d="M4324 727l20-2 7 6-20 2z"/>
<path class="c57" d="M4304 730l20-3 7 6-21 3z"/>
<path class="c58" d="M4264 738l20-4 20-4 6 6-20 3-20 4z"/>
<path class="c59" d="M4223 747l21-5 20-4 6 5-20 4-20 5z"/>
<path class="c60" d="M4203 752l20-5 7 5-20 5z"/>
<path class="c47" d="M4843 581l18-13 6 5-18 13zM4465 737l9 1 8 2 7 10-9-2-8-2z"/>
<path class="c46" d="M4806 608l18-14 19-13 6 5-18 13-18 14zM4482 740l8 2 7 11-8-3z"/>
<path class="c45" d="M4788 621l18-13 7 5-19 14zM4490 742l9 2 6 11-8-2z"/>
<path class="c44" d="M4761 641l9-6 18-14 6 6-18 14-8 7zM4499 744l8 2 9 2 6 13-8-3-9-3z"/>
<path class="c43" d="M4744 654l9-6 8-7 7 7-9 7-8 7zM4516 748l8 2 7 13-9-2z"/>
<path class="c42" d="M4719 675l8-7 9-7 8-7 7 8-9 7-8 8-9 7zM4524 750l9 2 6 14-8-3z"/>
<path class="c41" d="M4702 689l8-7 9-7 6 9-8 7-8 8zM4533 752l8 2 9 1 6 15-8-2-9-2z"/>
<path class="c40" d="M4685 703l9-7 8-7 7 10-9 8-8 7zM4550 755l8 1 7 15-9-1z"/>
<path class="c39" d="M4660 722l8-6 9-7 8-6 7 11-9 7-8 8-9 6zM4558 756l9 1 8-1 7 16-9 0-8-1z"/>
<path class="c38" d="M4634 738l9-5 8-5 9-6 6 13-8 7-9 6-8 6zM4575 756l9 0 8-1 8-2 9-3 6 16-8 3-8 2-9 1-8 0z"/>
<path class="c37" d="M4609 750l8-3 9-4 8-5 7 16-9 4-8 5-9 3z"/>
<path class="c48" d="M4457 735l8 2 7 9-9-2z"/>
<path class="c49" d="M4448 734l9 1 6 9-8-2z"/>
<path class="c50" d="M4431 731l9 2 8 1 7 8-9-2-8-1z"/>
<path class="c51" d="M4411 730l20 1 7 8-20-2z"/>
<path class="c53" d="M4391 729l20 1 7 7-21-1z"/>
<path class="c54" d="M4371 730l20-1 6 7-20 0z"/>
<path class="c55" d="M4351 731l20-1 6 6-20 1z"/>
<path class="c56" d="M4331 733l20-2 6 6-20 1z"/>
<path class="c57" d="M4290 739l20-3 21-3 6 5-20 3-20 3z"/>
<path class="c58" d="M4270 743l20-4 7 5-20 4z"/>
<path class="c59" d="M4230 752l20-5 20-4 7 5-20 4-20 5z"/>
<path class="c60" d="M4210 757l20-5 7 5-21 5z"/>
<path class="c47" d="M4849 586l18-13 7 4-18 13zM4472 746l8 2 7 9-9-2z"/>
<path class="c46" d="M4813 613l18-14 18-13 7 4-19 14-18 14zM4480 748l9 2 6 10-8-3z"/>
<path class="c45" d="M4794 627l19-14 6 5-18 14zM4489 750l8 3 6 10-8-3z"/>
<path class="c44" d="M4776 641l18-14 7 5-18 15zM4497 753l8 2 9 3 6 12-8-3-9-4z"/>
<path class="c43" d="M4751 662l8-7 9-7 8-7 7 6-9 8-8 7-9 8zM4514 758l8 3 7 12-9-3z"/>
<path class="c42" d="M4734 677l8-8 9-7 6 8-8 7-9 8zM4522 761l9 2 6 13-8-3z"/>
<path class="c41" d="M4717 691l8-7 9-7 6 8-8 8-8 8zM4531 763l8 3 7 14-9-4z"/>
<path class="c40" d="M4709 699l8-8 7 10-9 9zM4539 766l9 2 6 14-8-2z"/>
<path class="c39" d="M4692 714l8-7 9-8 6 11-8 8-9 8zM4548 768l8 2 9 1 6 16-8-2-9-3z"/>
<path class="c38" d="M4675 729l8-8 9-7 6 12-8 8-9 8zM4565 771l8 1 7 16-9-1z"/>
<path class="c37" d="M4649 748l9-6 8-7 9-6 6 13-8 8-9 7-8 7zM4573 772l9 0 8 0 7 17-9 0-8-1z"/>
<path class="c36" d="M4590 772l9-1 8-2 8-3 9-3 8-5 9-4 8-6 7 16-9 6-8 5-9 5-8 4-8 2-9 2-8 1z"/>
<path class="c48" d="M4455 742l8 2 9 2 6 9-8-3-9-2z"/>
<path class="c49" d="M4446 740l9 2 6 8-8-2z"/>
<path class="c50" d="M4438 739l8 1 7 8-9-1z"/>
<path class="c51" d="M4418 737l20 2 6 8-20-3z"/>
<path class="c52" d="M4397 736l21 1 6 7-20-2z"/>
<path class="c54" d="M4377 736l20 0 7 6-20 0z"/>
<path class="c55" d="M4357 737l20-1 7 6-20 0z"/>
<path class="c56" d="M4337 738l20-1 7 5-20 2z"/>
<path class="c57" d="M4297 744l20-3 20-3 7 6-20 2-21 3z"/>
<path class="c58" d="M4277 748l20-4 6 5-20 4z"/>
<path class="c59" d="M4237 757l20-5 20-4 6 5-20 4-20 5z"/>
<path class="c60" d="M4216 762l21-5 6 5-20 5z"/>
<path class="c47" d="M4856 590l18-13 6 4-18 14zM4470 752l8 3 7 9-9-3z"/>
<path class="c46" d="M4819 618l18-14 19-14 6 5-18 14-18 14zM4478 755l9 2 6 10-8-3z"/>
<path class="c45" d="M4801 632l18-14 7 5-18 15zM4487 757l8 3 8 3 7 11-8-3-9-4z"/>
<path class="c44" d="M4783 647l18-15 7 6-19 16zM4503 763l9 4 6 11-8-4z"/>
<path class="c43" d="M4766 662l8-7 9-8 6 7-8 7-9 8zM4512 767l8 3 7 12-9-4z"/>
<path class="c42" d="M4749 677l8-7 9-8 6 7-8 8-9 9zM4520 770l9 3 6 13-8-4z"/>
<path class="c41" d="M4732 693l8-8 9-8 6 9-8 8-8 9zM4529 773l8 3 7 14-9-4z"/>
<path class="c40" d="M4724 701l8-8 7 10-9 9zM4537 776l9 4 6 14-8-4z"/>
<path class="c39" d="M4707 718l8-8 9-9 6 11-8 8-9 10zM4546 780l8 2 7 16-9-4z"/>
<path class="c38" d="M4698 726l9-8 6 12-8 9zM4554 782l9 3 6 16-8-3z"/>
<path class="c37" d="M4681 742l9-8 8-8 7 13-9 9-8 8zM4563 785l8 2 7 17-9-3z"/>
<path class="c36" d="M4664 757l9-7 8-8 7 14-9 9-8 8zM4571 787l9 1 8 1 7 18-9-1-8-2z"/>
<path class="c35" d="M4647 770l9-6 8-7 7 16-9 7-8 7zM4588 789l9 0 8-1 7 19-9 1-8-1z"/>
<path class="c34" d="M4605 788l9-2 8-2 8-4 9-5 8-5 7 17-9 6-8 5-9 4-8 3-8 2z"/>
<path class="c48" d="M4461 750l9 2 6 9-8-3z"/>
<path class="c49" d="M4453 748l8 2 7 8-9-2z"/>
<path class="c50" d="M4444 747l9 1 6 8-8-2z"/>
<path class="c51" d="M4424 744l20 3 7 7-20-4z"/>
<path class="c52" d="M4404 742l20 2 7 6-20-2z"/>
<path class="c53" d="M4384 742l20 0 7 6-21 0z"/>
<path class="c55" d="M4364 742l20 0 6 6-20 0z"/>
<path class="c56" d="M4344 744l20-2 6 6-20 1z"/>
<path class="c57" d="M4303 749l21-3 20-2 6 5-20 3-20 3z"/>
<path class="c58" d="M4283 753l20-4 7 6-20 3z"/>
<path class="c59" d="M4243 762l20-5 20-4 7 5-20 4-20 5z"/>
<path class="c60" d="M4223 767l20-5 7 5-21 5z"/>
<path class="c47" d="M4862 595l18-14 7 4-18 14zM4476 761l9 3 6 9-8-3z"/>
<path class="c46" d="M4826 623l18-14 18-14 7 4-18 14-19 15zM4485 764l8 3 7 10-9-4z"/>
<path class="c45" d="M4808 638l18-15 6 5-18 16zM4493 767l9 4 6 10-8-4z"/>
<path class="c44" d="M4789 654l19-16 6 6-18 16zM4502 771l8 3 7 11-9-4z"/>
<path class="c43" d="M4781 661l8-7 7 6-9 8zM4510 774l8 4 7 12-8-5z"/>
<path class="c42" d="M4764 677l8-8 9-8 6 7-8 9-9 8zM4518 778l9 4 6 13-8-5z"/>
<path class="c41" d="M4747 694l8-8 9-9 6 8-8 9-8 9zM4527 782l8 4 7 14-9-5z"/>
<path class="c40" d="M4739 703l8-9 7 9-9 9zM4535 786l9 4 6 15-8-5z"/>
<path class="c39" d="M4722 720l8-8 9-9 6 9-8 10-9 10zM4544 790l8 4 7 16-9-5z"/>
<path class="c38" d="M4713 730l9-10 6 12-8 10z"/>
<path class="c37" d="M4705 739l8-9 7 12-9 10zM4552 794l9 4 6 16-8-4z"/>
<path class="c36" d="M4688 756l8-8 9-9 6 13-8 10-9 9zM4561 798l8 3 9 3 6 18-8-3-9-5z"/>
<path class="c35" d="M4679 765l9-9 6 15-8 10zM4578 804l8 2 7 19-9-3z"/>
<path class="c34" d="M4662 780l9-7 8-8 7 16-9 9-8 8zM4586 806l9 1 6 20-8-2z"/>
<path class="c33" d="M4645 793l9-6 8-7 7 18-9 8-8 7zM4595 807l8 1 9-1 6 20-8 1-9-1z"/>
<path class="c32" d="M4612 807l8-2 8-3 9-4 8-5 7 20-9 5-8 5-8 3-9 1z"/>
<path class="c48" d="M4459 756l9 2 8 3 7 9-9-3-8-3z"/>
<path class="c49" d="M4451 754l8 2 7 8-9-2z"/>
<path class="c50" d="M4431 750l20 4 6 8-20-5z"/>
<path class="c52" d="M4411 748l20 2 6 7-20-2z"/>
<path class="c53" d="M4390 748l21 0 6 7-20-1z"/>
<path class="c54" d="M4370 748l20 0 7 6-20 0z"/>
<path class="c56" d="M4330 752l20-3 20-1 7 6-20 1-20 2z"/>
<path class="c57" d="M4310 755l20-3 7 5-21 3z"/>
<path class="c58" d="M4290 758l20-3 6 5-20 3z"/>
<path class="c59" d="M4250 767l20-5 20-4 6 5-20 4-20 5z"/>
<path class="c60" d="M4229 772l21-5 6 5-20 5z"/>
<path class="c47" d="M4851 613l18-14 18-14 6 4-18 14-18 15zM4474 767l9 3 6 9-8-4z"/>
<path class="c46" d="M4832 628l19-15 6 5-18 15zM4483 770l8 3 7 10-9-4z"/>
<path class="c45" d="M4814 644l18-16 7 5-18 16zM4491 773l9 4 6 10-8-4z"/>
<path class="c44" d="M4796 660l18-16 7 5-19 18zM4500 777l8 4 7 11-9-5z"/>
<path class="c43" d="M4787 668l9-8 6 7-8 8zM4508 781l9 4 6 12-8-5z"/>
<path class="c42" d="M4770 685l9-8 8-9 7 7-9 9-8 9zM4517 785l8 5 7 12-9-5z"/>
<path class="c41" d="M4762 694l8-9 7 8-9 9zM4525 790l8 5 7 13-8-6z"/>
<path class="c40" d="M4754 703l8-9 6 8-8 10zM4533 795l9 5 6 14-8-6z"/>
<path class="c39" d="M4737 722l8-10 9-9 6 9-8 10-9 11z"/>
<path class="c38" d="M4728 732l9-10 6 11-8 10zM4542 800l8 5 7 15-9-6z"/>
<path class="c37" d="M4720 742l8-10 7 11-9 11zM4550 805l9 5 6 16-8-6z"/>
<path class="c36" d="M4711 752l9-10 6 12-8 11zM4559 810l8 4 7 18-9-6z"/>
<path class="c35" d="M4703 762l8-10 7 13-9 11zM4567 814l9 5 6 18-8-5z"/>
<path class="c34" d="M4694 771l9-9 6 14-8 11zM4576 819l8 3 7 20-9-5z"/>
<path class="c33" d="M4677 790l9-9 8-10 7 16-9 11-8 10zM4584 822l9 3 6 21-8-4z"/>
<path class="c32" d="M4669 798l8-8 7 18-9 10zM4593 825l8 2 7 21-9-2z"/>
<path class="c31" d="M4652 813l8-7 9-8 6 20-8 8-9 8zM4601 827l9 1 8-1 7 22-9 1-8-2z"/>
<path class="c30" d="M4618 827l9-1 8-3 8-5 9-5 6 21-8 6-8 5-9 3-8 1z"/>
<path class="c48" d="M4466 764l8 3 7 8-9-3z"/>
<path class="c49" d="M4457 762l9 2 6 8-8-3z"/>
<path class="c50" d="M4437 757l20 5 7 7-20-5z"/>
<path class="c52" d="M4417 755l20 2 7 7-20-3z"/>
<path class="c53" d="M4397 754l20 1 7 6-21-2z"/>
<path class="c54" d="M4377 754l20 0 6 5-20 0z"/>
<path class="c55" d="M4357 755l20-1 6 5-20 1z"/>
<path class="c56" d="M4337 757l20-2 6 5-20 2z"/>
<path class="c57" d="M4316 760l21-3 6 5-20 3z"/>
<path class="c58" d="M4296 763l20-3 7 5-20 3z"/>
<path class="c59" d="M4256 772l20-5 20-4 7 5-20 4-20 5z"/>
<path class="c60" d="M4236 777l20-5 7 5-21 5z"/>
<path class="c47" d="M4857 618l18-15 18-14 7 4-18 15-18 14zM4481 775l8 4 7 8-9-4z"/>
<path class="c46" d="M4839 633l18-15 7 4-19 16zM4489 779l9 4 6 9-8-5z"/>
<path class="c45" d="M4821 649l18-16 6 5-18 17z"/>
<path class="c43" d="M4794 675l8-8 19-18 6 6-18 18-9 9zM4506 787l9 5 6 11-8-6z"/>
<path class="c42" d="M4785 684l9-9 6 7-8 9zM4515 792l8 5 7 12-9-6z"/>
<path class="c41" d="M4777 693l8-9 7 7-9 10zM4523 797l9 5 6 13-8-6z"/>
<path class="c40" d="M4760 712l8-10 9-9 6 8-8 10-8 10zM4532 802l8 6 7 14-9-7z"/>
<path class="c39" d="M4752 722l8-10 7 9-9 11z"/>
<path class="c38" d="M4743 733l9-11 6 10-8 11zM4540 808l8 6 7 15-8-7z"/>
<path class="c37" d="M4735 743l8-10 7 10-9 12zM4548 814l9 6 6 16-8-7z"/>
<path class="c36" d="M4726 754l9-11 6 12-8 12zM4557 820l8 6 7 17-9-7z"/>
<path class="c35" d="M4718 765l8-11 7 13-9 12z"/>
<path class="c34" d="M4709 776l9-11 6 14-8 12zM4565 826l9 6 6 18-8-7z"/>
<path class="c33" d="M4701 787l8-11 7 15-9 13zM4574 832l8 5 7 20-9-7z"/>
<path class="c32" d="M4692 798l9-11 6 17-8 12zM4582 837l9 5 6 20-8-5z"/>
<path class="c31" d="M4684 808l8-10 7 18-9 11zM4591 842l8 4 7 21-9-5z"/>
<path class="c30" d="M4675 818l9-10 6 19-8 11zM4599 846l9 2 6 23-8-4z"/>
<path class="c29" d="M4658 834l9-8 8-8 7 20-9 10-8 8zM4608 848l8 2 7 23-9-2z"/>
<path class="c28" d="M4616 850l9-1 8-1 9-3 8-5 8-6 7 22-8 7-9 5-8 4-9 1-8 0z"/>
<path class="c44" d="M4498 783l8 4 7 10-9-5z"/>
<path class="c48" d="M4464 769l8 3 9 3 6 8-8-3-9-3z"/>
<path class="c50" d="M4444 764l20 5 6 8-20-6z"/>
<path class="c52" d="M4424 761l20 3 6 7-20-4z"/>
<path class="c53" d="M4403 759l21 2 6 6-20-2z"/>
<path class="c54" d="M4383 759l20 0 7 6-20 0z"/>
<path class="c55" d="M4363 760l20-1 7 6-20 1z"/>
<path class="c56" d="M4343 762l20-2 7 6-20 1z"/>
<path class="c57" d="M4323 765l20-3 7 5-20 3z"/>
<path class="c58" d="M4303 768l20-3 7 5-21 3z"/>
<path class="c59" d="M4263 777l20-5 20-4 6 5-20 4-20 5z"/>
<path class="c60" d="M4242 782l21-5 6 5-20 5z"/>
<path class="c48" d="M4882 608l18-15 7 4-19 15zM4470 777l9 3 6 8-8-4z"/>
<path class="c47" d="M4864 622l18-14 6 4-18 15zM4479 780l8 3 7 9-9-4z"/>
<path class="c46" d="M4845 638l19-16 6 5-18 16zM4487 783l9 4 6 9-8-4z"/>
<path class="c45" d="M4827 655l18-17 7 5-18 17zM4496 787l8 5 7 9-9-5z"/>
<path class="c43" d="M4809 673l18-18 7 5-19 19zM4513 797l8 6 7 10-9-6z"/>
<path class="c42" d="M4792 691l8-9 9-9 6 6-8 9-9 10z"/>
<path class="c41" d="M4783 701l9-10 6 7-8 10zM4521 803l9 6 6 11-8-7z"/>
<path class="c40" d="M4775 711l8-10 7 7-8 11zM4530 809l8 6 7 13-9-8z"/>
<path class="c39" d="M4767 721l8-10 7 8-9 11zM4538 815l9 7 6 13-8-7z"/>
<path class="c38" d="M4758 732l9-11 6 9-8 12z"/>
<path class="c37" d="M4750 743l8-11 7 10-9 12zM4547 822l8 7 7 15-9-9z"/>
<path class="c36" d="M4741 755l9-12 6 11-8 13zM4555 829l8 7 7 16-8-8z"/>
<path class="c35" d="M4733 767l8-12 7 12-9 13z"/>
<path class="c34" d="M4724 779l9-12 6 13-8 13zM4563 836l9 7 6 18-8-9z"/>
<path class="c33" d="M4716 791l8-12 7 14-9 14zM4572 843l8 7 7 19-9-8z"/>
<path class="c31" d="M4707 804l9-13 6 16-8 14zM4580 850l9 7 6 20-8-8z"/>
<path class="c30" d="M4699 816l8-12 7 17-9 13zM4589 857l8 5 7 22-9-7z"/>
<path class="c29" d="M4690 827l9-11 6 18-8 13zM4597 862l9 5 6 23-8-6z"/>
<path class="c28" d="M4682 838l8-11 7 20-9 12z"/>
<path class="c27" d="M4673 848l9-10 6 21-8 11zM4606 867l8 4 9 2 6 25-8-3-9-5z"/>
<path class="c26" d="M4657 863l8-7 8-8 7 22-8 10-9 8zM4623 873l8 0 7 26-9-1z"/>
<path class="c25" d="M4631 873l9-1 8-4 9-5 6 25-8 6-9 3-8 2z"/>
<path class="c44" d="M4504 792l9 5 6 10-8-6z"/>
<path class="c49" d="M4450 771l20 6 7 7-20-6z"/>
<path class="c51" d="M4430 767l20 4 7 7-20-5z"/>
<path class="c53" d="M4410 765l20 2 7 6-20-2z"/>
<path class="c54" d="M4390 765l20 0 7 6-21-1z"/>
<path class="c55" d="M4370 766l20-1 6 5-20 1z"/>
<path class="c56" d="M4350 767l20-1 6 5-20 2z"/>
<path class="c57" d="M4330 770l20-3 6 6-20 2z"/>
<path class="c58" d="M4309 773l21-3 6 5-20 3z"/>
<path class="c59" d="M4269 782l20-5 20-4 7 5-20 4-20 5z"/>
<path class="c60" d="M4249 787l20-5 7 5-20 5z"/>
<path class="c48" d="M4888 612l19-15 6 4-18 15zM4477 784l8 4 7 7-9-4z"/>
<path class="c47" d="M4870 627l18-15 7 4-18 15zM4485 788l9 4 6 8-8-5z"/>
<path class="c46" d="M4852 643l18-16 7 4-19 17zM4494 792l8 4 7 9-9-5z"/>
<path class="c45" d="M4834 660l18-17 6 5-18 18z"/>
<path class="c43" d="M4815 679l19-19 6 6-18 19zM4511 801l8 6 7 10-9-6z"/>
<path class="c42" d="M4807 688l8-9 7 6-9 10zM4519 807l9 6 6 11-8-7z"/>
<path class="c41" d="M4790 708l8-10 9-10 6 7-8 10-8 11zM4528 813l8 7 7 12-9-8z"/>
<path class="c40" d="M4782 719l8-11 7 8-9 11z"/>
<path class="c39" d="M4773 730l9-11 6 8-8 12zM4536 820l9 8 6 12-8-8z"/>
<path class="c38" d="M4765 742l8-12 7 9-9 13zM4545 828l8 7 7 14-9-9z"/>
<path class="c36" d="M4756 754l9-12 6 10-8 13zM4553 835l9 9 6 15-8-10z"/>
<path class="c35" d="M4748 767l8-13 7 11-9 14z"/>
<path class="c34" d="M4739 780l9-13 6 12-8 14zM4562 844l8 8 6 17-8-10z"/>
<path class="c33" d="M4731 793l8-13 7 13-9 15zM4570 852l8 9 7 18-9-10z"/>
<path class="c31" d="M4722 807l9-14 6 15-8 15zM4578 861l9 8 6 20-8-10z"/>
<path class="c30" d="M4714 821l8-14 7 16-9 15z"/>
<path class="c29" d="M4705 834l9-13 6 17-8 15zM4587 869l8 8 7 21-9-9z"/>
<path class="c27" d="M4697 847l8-13 7 19-9 15z"/>
<path class="c26" d="M4688 859l9-12 6 21-8 14zM4604 884l8 6 7 25-9-8z"/>
<path class="c25" d="M4680 870l8-11 7 23-8 12zM4612 890l9 5 6 25-8-5z"/>
<path class="c24" d="M4672 880l8-10 7 24-9 11zM4621 895l8 3 7 26-9-4z"/>
<path class="c23" d="M4629 898l9 1 8-2 9-3 8-6 9-8 6 25-8 9-9 7-8 3-9 2-8-2z"/>
<path class="c28" d="M4595 877l9 7 6 23-8-9z"/>
<path class="c44" d="M4502 796l9 5 6 10-8-6z"/>
<path class="c49" d="M4457 778l20 6 6 7-20-7z"/>
<path class="c51" d="M4437 773l20 5 6 6-20-5z"/>
<path class="c53" d="M4417 771l20 2 6 6-20-2z"/>
<path class="c54" d="M4396 770l21 1 6 6-20-1z"/>
<path class="c55" d="M4376 771l20-1 7 6-20 0z"/>
<path class="c56" d="M4356 773l20-2 7 5-20 2z"/>
<path class="c57" d="M4336 775l20-2 7 5-20 2z"/>
<path class="c58" d="M4316 778l20-3 7 5-21 3z"/>
<path class="c59" d="M4276 787l20-5 20-4 6 5-20 4-20 5z"/>
<path class="c60" d="M4256 792l20-5 6 5-20 4z"/>
<path class="c48" d="M4895 616l18-15 7 4-19 15z"/>
<path class="c47" d="M4877 631l18-15 6 4-18 15zM4483 791l9 4 6 8-8-5z"/>
<path class="c46" d="M4858 648l19-17 6 4-18 17zM4492 795l8 5 7 8-9-5z"/>
<path class="c45" d="M4840 666l18-18 7 4-18 19zM4500 800l9 5 6 8-8-5z"/>
<path class="c43" d="M4822 685l18-19 7 5-19 20zM4517 811l9 6 6 10-8-7z"/>
<path class="c42" d="M4813 695l9-10 6 6-8 10z"/>
<path class="c41" d="M4805 705l8-10 7 6-8 11zM4526 817l8 7 7 11-9-8z"/>
<path class="c40" d="M4797 716l8-11 7 7-9 11zM4534 824l9 8 6 11-8-8z"/>
<path class="c39" d="M4788 727l9-11 6 7-8 12z"/>
<path class="c38" d="M4780 739l8-12 7 8-9 13zM4543 832l8 8 7 13-9-10z"/>
<path class="c37" d="M4771 752l9-13 6 9-8 13z"/>
<path class="c36" d="M4763 765l8-13 7 9-9 15zM4551 840l9 9 6 14-8-10z"/>
<path class="c34" d="M4754 779l9-14 6 11-8 15z"/>
<path class="c33" d="M4746 793l8-14 7 12-9 15zM4568 859l8 10 7 17-8-12z"/>
<path class="c31" d="M4737 808l9-15 6 13-8 16zM4576 869l9 10 6 18-8-11z"/>
<path class="c30" d="M4729 823l8-15 7 14-9 17z"/>
<path class="c28" d="M4720 838l9-15 6 16-8 17z"/>
<path class="c27" d="M4712 853l8-15 7 18-9 17zM4593 889l9 9 6 22-8-11z"/>
<path class="c25" d="M4703 868l9-15 6 20-8 16zM4602 898l8 9 7 24-9-11z"/>
<path class="c24" d="M4695 882l8-14 7 21-8 16zM4610 907l9 8 6 25-8-9z"/>
<path class="c22" d="M4687 894l8-12 7 23-9 14zM4619 915l8 5 7 27-9-7z"/>
<path class="c21" d="M4678 905l9-11 6 25-8 13zM4627 920l9 4 6 28-8-5z"/>
<path class="c20" d="M4636 924l8 2 9-2 8-3 9-7 8-9 7 27-9 10-8 7-9 4-8 1-9-2z"/>
<path class="c29" d="M4585 879l8 10 7 20-9-12z"/>
<path class="c35" d="M4560 849l8 10 7 15-9-11z"/>
<path class="c44" d="M4509 805l8 6 7 9-9-7z"/>
<path class="c49" d="M4463 784l20 7 7 7-20-7z"/>
<path class="c51" d="M4443 779l20 5 7 7-20-6z"/>
<path class="c53" d="M4423 777l20 2 7 6-20-3z"/>
<path class="c54" d="M4403 776l20 1 7 5-21-1z"/>
<path class="c55" d="M4383 776l20 0 6 5-20 0z"/>
<path class="c56" d="M4363 778l20-2 6 5-20 2z"/>
<path class="c57" d="M4343 780l20-2 6 5-20 2z"/>
<path class="c58" d="M4322 783l21-3 6 5-20 3z"/>
<path class="c59" d="M4282 792l20-5 20-4 7 5-20 4-20 4z"/>
<path class="c60" d="M4262 796l20-4 7 4-20 5z"/>
<path class="c48" d="M4901 620l19-15 6 3-18 15z"/>
<path class="c47" d="M4883 635l18-15 7 3-18 17zM4490 798l8 5 7 7-9-5z"/>
<path class="c46" d="M4865 652l18-17 7 5-19 17zM4498 803l9 5 6 7-8-5z"/>
<path class="c45" d="M4847 671l18-19 6 5-18 19zM4507 808l8 5 7 9-9-7z"/>
<path class="c43" d="M4828 691l19-20 6 5-18 21zM4515 813l9 7 6 8-8-6z"/>
<path class="c42" d="M4820 701l8-10 7 6-8 10zM4524 820l8 7 7 9-9-8z"/>
<path class="c41" d="M4812 712l8-11 7 6-9 12zM4532 827l9 8 6 10-8-9z"/>
<path class="c40" d="M4803 723l9-11 6 7-8 11z"/>
<path class="c39" d="M4795 735l8-12 7 7-9 13zM4541 835l8 8 7 12-9-10z"/>
<path class="c38" d="M4786 748l9-13 6 8-8 14z"/>
<path class="c36" d="M4778 761l8-13 7 9-9 14z"/>
<path class="c35" d="M4769 776l9-15 6 10-8 15zM4558 853l8 10 7 14-9-12z"/>
<path class="c34" d="M4761 791l8-15 7 10-9 16z"/>
<path class="c32" d="M4752 806l9-15 6 11-8 17z"/>
<path class="c30" d="M4744 822l8-16 7 13-9 18z"/>
<path class="c29" d="M4735 839l9-17 6 15-8 18zM4583 886l8 11 7 19-8-14z"/>
<path class="c27" d="M4727 856l8-17 7 16-9 19zM4591 897l9 12 6 20-8-13z"/>
<path class="c25" d="M4718 873l9-17 6 18-8 19zM4600 909l8 11 7 22-9-13z"/>
<path class="c23" d="M4710 889l8-16 7 20-9 18zM4608 920l9 11 6 24-8-13z"/>
<path class="c21" d="M4702 905l8-16 6 22-8 18zM4617 931l8 9 7 26-9-11z"/>
<path class="c20" d="M4693 919l9-14 6 24-8 16z"/>
<path class="c18" d="M4685 932l8-13 7 26-9 14zM4634 947l8 5 7 28-9-6z"/>
<path class="c17" d="M4668 949l8-7 9-10 6 27-8 11-9 8zM4642 952l9 2 8-1 7 30-9 0-8-3z"/>
<path class="c16" d="M4659 953l9-4 6 29-8 5z"/>
<path class="c19" d="M4625 940l9 7 6 27-8-8z"/>
<path class="c31" d="M4575 874l8 12 7 16-9-13z"/>
<path class="c33" d="M4566 863l9 11 6 15-8-12z"/>
<path class="c37" d="M4549 843l9 10 6 12-8-10z"/>
<path class="c49" d="M4470 791l20 7 6 7-20-8z"/>
<path class="c51" d="M4450 785l20 6 6 6-20-6z"/>
<path class="c52" d="M4430 782l20 3 6 6-20-3z"/>
<path class="c54" d="M4409 781l21 1 6 6-20-2z"/>
<path class="c55" d="M4389 781l20 0 7 5-20 0z"/>
<path class="c56" d="M4369 783l20-2 7 5-20 2z"/>
<path class="c57" d="M4349 785l20-2 7 5-20 2z"/>
<path class="c58" d="M4329 788l20-3 7 5-21 3z"/>
<path class="c59" d="M4289 796l20-4 20-4 6 5-20 4-20 4z"/>
<path class="c60" d="M4269 801l20-5 6 5-20 5z"/>
<path class="c48" d="M4908 623l18-15 7 4-19 15z"/>
<path class="c47" d="M4890 640l18-17 6 4-18 17zM4496 805l9 5 6 7-8-5z"/>
<path class="c46" d="M4871 657l19-17 6 4-18 17zM4505 810l8 5 7 8-9-6z"/>
<path class="c45" d="M4853 676l18-19 7 4-18 20z"/>
<path class="c43" d="M4835 697l18-21 7 5-18 21zM4522 822l8 6 7 9-9-8z"/>
<path class="c42" d="M4827 707l8-10 7 5-9 11zM4530 828l9 8 6 9-8-8z"/>
<path class="c41" d="M4818 719l9-12 6 6-8 12z"/>
<path class="c40" d="M4810 730l8-11 7 6-9 12zM4539 836l8 9 7 10-9-10z"/>
<path class="c39" d="M4801 743l9-13 6 7-8 14z"/>
<path class="c37" d="M4793 757l8-14 7 8-9 14z"/>
<path class="c36" d="M4784 771l9-14 6 8-8 15zM4556 855l8 10 7 12-9-12z"/>
<path class="c34" d="M4776 786l8-15 7 9-9 16zM4564 865l9 12 6 13-8-13z"/>
<path class="c33" d="M4767 802l9-16 6 10-8 17z"/>
<path class="c31" d="M4759 819l8-17 7 11-9 18z"/>
<path class="c29" d="M4750 837l9-18 6 12-8 20z"/>
<path class="c27" d="M4742 855l8-18 7 14-9 20z"/>
<path class="c25" d="M4733 874l9-19 6 16-8 20zM4598 916l8 13 7 20-8-16z"/>
<path class="c23" d="M4725 893l8-19 7 17-9 21zM4606 929l9 13 6 22-8-15z"/>
<path class="c21" d="M4716 911l9-18 6 19-8 21zM4615 942l8 13 7 23-9-14z"/>
<path class="c19" d="M4708 929l8-18 7 22-8 19zM4623 955l9 11 6 25-8-13z"/>
<path class="c17" d="M4700 945l8-16 7 23-9 18zM4632 966l8 8 7 28-9-11z"/>
<path class="c16" d="M4691 959l9-14 6 25-8 16z"/>
<path class="c14" d="M4674 978l9-8 8-11 7 27-9 13-8 9zM4649 980l8 3 7 30-9-4z"/>
<path class="c13" d="M4657 983l9 0 8-5 7 30-9 4-8 1z"/>
<path class="c15" d="M4640 974l9 6 6 29-8-7z"/>
<path class="c28" d="M4590 902l8 14 7 17-9-15z"/>
<path class="c30" d="M4581 889l9 13 6 16-8-14z"/>
<path class="c32" d="M4573 877l8 12 7 15-9-14z"/>
<path class="c38" d="M4547 845l9 10 6 10-8-10z"/>
<path class="c44" d="M4513 815l9 7 6 7-8-6z"/>
<path class="c49" d="M4476 797l20 8 7 7-20-9z"/>
<path class="c51" d="M4456 791l20 6 7 6-20-6z"/>
<path class="c52" d="M4436 788l20 3 7 6-20-4z"/>
<path class="c54" d="M4416 786l20 2 7 5-21-2z"/>
<path class="c55" d="M4396 786l20 0 6 5-20 0z"/>
<path class="c56" d="M4376 788l20-2 6 5-20 2z"/>
<path class="c57" d="M4356 790l20-2 6 5-20 2z"/>
<path class="c58" d="M4335 793l21-3 6 5-20 3z"/>
<path class="c59" d="M4295 801l20-4 20-4 7 5-20 4-20 4z"/>
<path class="c60" d="M4275 806l20-5 7 5-20 5z"/>
<path class="c48" d="M4914 627l19-15 6 3-18 16zM4483 803l20 9 7 6-21-9z"/>
<path class="c47" d="M4896 644l18-17 7 4-18 16zM4503 812l8 5 7 7-8-6z"/>
<path class="c46" d="M4878 661l18-17 7 3-19 18z"/>
<path class="c45" d="M4860 681l18-20 6 4-18 20zM4511 817l9 6 6 7-8-6z"/>
<path class="c43" d="M4842 702l18-21 6 4-18 22zM4528 829l9 8 6 8-8-8z"/>
<path class="c42" d="M4833 713l9-11 6 5-8 12z"/>
<path class="c41" d="M4825 725l8-12 7 6-9 12zM4537 837l8 8 7 9-9-9z"/>
<path class="c39" d="M4816 737l9-12 6 6-8 13zM4545 845l9 10 6 9-8-10z"/>
<path class="c38" d="M4808 751l8-14 7 7-9 14zM4554 855l8 10 7 11-9-12z"/>
<path class="c37" d="M4799 765l9-14 6 7-8 14z"/>
<path class="c35" d="M4791 780l8-15 7 7-9 16z"/>
<path class="c34" d="M4782 796l9-16 6 8-8 17z"/>
<path class="c32" d="M4774 813l8-17 7 9-9 19z"/>
<path class="c30" d="M4765 831l9-18 6 11-8 19z"/>
<path class="c28" d="M4757 851l8-20 7 12-9 21z"/>
<path class="c26" d="M4748 871l9-20 6 13-8 21zM4596 918l9 15 6 17-8-16z"/>
<path class="c24" d="M4740 891l8-20 7 14-9 23zM4605 933l8 16 7 19-9-18z"/>
<path class="c21" d="M4731 912l9-21 6 17-8 23zM4613 949l8 15 7 21-8-17z"/>
<path class="c19" d="M4723 933l8-21 7 19-8 22z"/>
<path class="c17" d="M4715 952l8-19 7 20-9 22z"/>
<path class="c15" d="M4706 970l9-18 6 23-8 20z"/>
<path class="c13" d="M4698 986l8-16 7 25-9 18z"/>
<path class="c11" d="M4689 999l9-13 6 27-8 14zM4655 1009l9 4 6 29-8-5z"/>
<path class="c10" d="M4664 1013l8-1 9-4 8-9 7 28-9 10-8 5-9 0z"/>
<path class="c12" d="M4647 1002l8 7 7 28-9-8z"/>
<path class="c14" d="M4638 991l9 11 6 27-8-13z"/>
<path class="c16" d="M4630 978l8 13 7 25-9-15z"/>
<path class="c18" d="M4621 964l9 14 6 23-8-16z"/>
<path class="c29" d="M4588 904l8 14 7 16-9-17z"/>
<path class="c31" d="M4579 890l9 14 6 13-8-15z"/>
<path class="c33" d="M4571 877l8 13 7 12-9-14z"/>
<path class="c36" d="M4562 865l9 12 6 11-8-12z"/>
<path class="c44" d="M4520 823l8 6 7 8-9-7z"/>
<path class="c51" d="M4463 797l20 6 6 6-20-7z"/>
<path class="c52" d="M4443 793l20 4 6 5-20-4z"/>
<path class="c54" d="M4422 791l21 2 6 5-20-1z"/>
<path class="c55" d="M4402 791l20 0 7 6-20-1z"/>
<path class="c56" d="M4382 793l20-2 7 5-20 2z"/>
<path class="c57" d="M4362 795l20-2 7 5-20 2z"/>
<path class="c58" d="M4342 798l20-3 7 5-20 3z"/>
<path class="c59" d="M4302 806l20-4 20-4 7 5-21 3-20 5z"/>
<path class="c60" d="M4282 811l20-5 6 5-20 5z"/>
<path class="c48" d="M4921 631l18-16 7 4-19 15zM4489 809l21 9 6 6-20-10z"/>
<path class="c47" d="M4903 647l18-16 6 3-18 17z"/>
<path class="c46" d="M4884 665l19-18 6 4-18 18zM4510 818l8 6 6 6-8-6z"/>
<path class="c45" d="M4866 685l18-20 7 4-18 21zM4518 824l8 6 7 7-9-7z"/>
<path class="c43" d="M4848 707l18-22 7 5-18 22z"/>
<path class="c42" d="M4840 719l8-12 7 5-9 12zM4535 837l8 8 7 7-9-8z"/>
<path class="c41" d="M4831 731l9-12 6 5-8 12zM4543 845l9 9 6 8-8-10z"/>
<path class="c39" d="M4823 744l8-13 7 5-9 14zM4552 854l8 10 7 9-9-11z"/>
<path class="c38" d="M4814 758l9-14 6 6-8 14z"/>
<path class="c37" d="M4806 772l8-14 7 6-9 15zM4560 864l9 12 6 9-8-12z"/>
<path class="c35" d="M4797 788l9-16 6 7-8 17zM4569 876l8 12 7 11-9-14z"/>
<path class="c33" d="M4789 805l8-17 7 8-9 18zM4577 888l9 14 6 12-8-15z"/>
<path class="c32" d="M4780 824l9-19 6 9-8 19z"/>
<path class="c29" d="M4772 843l8-19 7 9-9 21z"/>
<path class="c27" d="M4763 864l9-21 6 11-8 22zM4594 917l9 17 6 14-8-18z"/>
<path class="c25" d="M4755 885l8-21 7 12-9 23zM4603 934l8 16 7 16-9-18z"/>
<path class="c22" d="M4746 908l9-23 6 14-8 24zM4611 950l9 18 6 17-8-19z"/>
<path class="c20" d="M4738 931l8-23 7 15-8 25z"/>
<path class="c17" d="M4730 953l8-22 7 17-9 24z"/>
<path class="c15" d="M4721 975l9-22 6 19-8 24z"/>
<path class="c12" d="M4713 995l8-20 7 21-9 22z"/>
<path class="c10" d="M4704 1013l9-18 6 23-8 19z"/>
<path class="c9" d="M4696 1027l8-14 7 24-9 16zM4653 1029l9 8 6 27-8-11z"/>
<path class="c7" d="M4670 1042l9 0 8-5 9-10 6 26-8 11-9 5-8 0z"/>
<path class="c8" d="M4662 1037l8 5 7 27-9-5z"/>
<path class="c11" d="M4645 1016l8 13 7 24-9-13z"/>
<path class="c14" d="M4636 1001l9 15 6 24-8-17z"/>
<path class="c16" d="M4628 985l8 16 7 22-8-19z"/>
<path class="c19" d="M4620 968l8 17 7 19-9-19z"/>
<path class="c30" d="M4586 902l8 15 7 13-9-16z"/>
<path class="c44" d="M4526 830l9 7 6 7-8-7z"/>
<path class="c50" d="M4469 802l20 7 7 5-20-7z"/>
<path class="c52" d="M4449 798l20 4 7 5-20-4z"/>
<path class="c54" d="M4429 797l20 1 7 5-20-1z"/>
<path class="c55" d="M4409 796l20 1 7 5-21-1z"/>
<path class="c56" d="M4389 798l20-2 6 5-20 1z"/>
<path class="c57" d="M4369 800l20-2 6 4-20 2z"/>
<path class="c58" d="M4349 803l20-3 6 4-20 3z"/>
<path class="c59" d="M4308 811l20-5 21-3 6 4-20 4-20 4z"/>
<path class="c60" d="M4288 816l20-5 7 4-20 5z"/>
<path class="c49" d="M4927 634l19-15 6 3-18 16z"/>
<path class="c48" d="M4909 651l18-17 7 4-18 17zM4496 814l20 10 7 6-21-10z"/>
<path class="c46" d="M4891 669l18-18 7 4-18 18zM4516 824l8 6 7 6-8-6z"/>
<path class="c45" d="M4873 690l18-21 7 4-19 21zM4524 830l9 7 6 6-8-7z"/>
<path class="c43" d="M4855 712l18-22 6 4-18 23z"/>
<path class="c42" d="M4846 724l9-12 6 5-8 12zM4541 844l9 8 6 7-8-9z"/>
<path class="c40" d="M4838 736l8-12 7 5-9 12zM4550 852l8 10 7 7-9-10z"/>
<path class="c39" d="M4829 750l9-14 6 5-8 14z"/>
<path class="c38" d="M4821 764l8-14 7 5-9 15zM4558 862l9 11 6 8-8-12z"/>
<path class="c36" d="M4812 779l9-15 6 6-8 16zM4567 873l8 12 7 9-9-13z"/>
<path class="c35" d="M4804 796l8-17 7 7-9 17z"/>
<path class="c33" d="M4795 814l9-18 6 7-8 19z"/>
<path class="c31" d="M4787 833l8-19 7 8-9 20z"/>
<path class="c29" d="M4778 854l9-21 6 9-8 21zM4592 914l9 16 6 11-8-17z"/>
<path class="c27" d="M4770 876l8-22 7 9-9 23z"/>
<path class="c24" d="M4761 899l9-23 6 10-8 25zM4609 948l9 18 6 14-8-20z"/>
<path class="c21" d="M4753 923l8-24 7 12-8 25zM4618 966l8 19 7 16-9-21z"/>
<path class="c19" d="M4745 948l8-25 7 13-9 26z"/>
<path class="c16" d="M4736 972l9-24 6 14-8 27z"/>
<path class="c13" d="M4728 996l8-24 7 17-9 25z"/>
<path class="c10" d="M4719 1018l9-22 6 18-8 24z"/>
<path class="c8" d="M4711 1037l8-19 7 20-9 21z"/>
<path class="c6" d="M4702 1053l9-16 6 22-8 17z"/>
<path class="c5" d="M4694 1064l8-11 7 23-9 12zM4668 1064l9 5 6 24-8-6z"/>
<path class="c4" d="M4677 1069l8 0 9-5 6 24-8 5-9 0z"/>
<path class="c7" d="M4660 1053l8 11 7 23-9-11z"/>
<path class="c9" d="M4651 1040l9 13 6 23-8-16z"/>
<path class="c11" d="M4643 1023l8 17 7 20-8-18z"/>
<path class="c14" d="M4635 1004l8 19 7 19-9-20z"/>
<path class="c17" d="M4626 985l9 19 6 18-8-21z"/>
<path class="c26" d="M4601 930l8 18 7 12-9-19z"/>
<path class="c32" d="M4584 899l8 15 7 10-9-16z"/>
<path class="c34" d="M4575 885l9 14 6 9-8-14z"/>
<path class="c44" d="M4533 837l8 7 7 6-9-7z"/>
<path class="c50" d="M4476 807l20 7 6 6-20-7z"/>
<path class="c52" d="M4456 803l20 4 6 6-20-5z"/>
<path class="c54" d="M4436 802l20 1 6 5-20-2z"/>
<path class="c55" d="M4415 801l21 1 6 4-20 0z"/>
<path class="c56" d="M4395 802l20-1 7 5-20 1z"/>
<path class="c57" d="M4375 804l20-2 7 5-20 2z"/>
<path class="c58" d="M4355 807l20-3 7 5-20 3z"/>
<path class="c59" d="M4315 815l20-4 20-4 7 5-21 4-20 4z"/>
<path class="c60" d="M4295 820l20-5 6 5-20 5z"/>
<path class="c49" d="M4934 638l18-16 7 4-18 15z"/>
<path class="c48" d="M4916 655l18-17 7 3-19 17zM4502 820l21 10 6 5-20-10z"/>
<path class="c46" d="M4898 673l18-18 6 3-18 19zM4523 830l8 6 7 5-9-6z"/>
<path class="c45" d="M4879 694l19-21 6 4-18 20zM4531 836l8 7 7 5-8-7z"/>
<path class="c43" d="M4861 717l18-23 7 3-18 24zM4539 843l9 7 6 6-8-8z"/>
<path class="c42" d="M4853 729l8-12 7 4-9 12zM4548 850l8 9 7 6-9-9z"/>
<path class="c40" d="M4844 741l9-12 6 4-8 13zM4556 859l9 10 6 7-8-11z"/>
<path class="c39" d="M4836 755l8-14 7 5-9 14z"/>
<path class="c38" d="M4827 770l9-15 6 5-8 15zM4565 869l8 12 7 7-9-12z"/>
<path class="c36" d="M4819 786l8-16 7 5-9 16zM4573 881l9 13 6 7-8-13z"/>
<path class="c35" d="M4810 803l9-17 6 5-8 18z"/>
<path class="c33" d="M4802 822l8-19 7 6-9 19z"/>
<path class="c31" d="M4793 842l9-20 6 6-8 21zM4590 908l9 16 6 8-8-16z"/>
<path class="c28" d="M4785 863l8-21 7 7-9 22z"/>
<path class="c26" d="M4776 886l9-23 6 8-8 24zM4607 941l9 19 6 10-8-19z"/>
<path class="c23" d="M4768 911l8-25 7 9-8 25zM4616 960l8 20 7 11-9-21z"/>
<path class="c20" d="M4760 936l8-25 7 9-9 27z"/>
<path class="c18" d="M4751 962l9-26 6 11-8 28z"/>
<path class="c14" d="M4743 989l8-27 7 13-9 27z"/>
<path class="c11" d="M4734 1014l9-25 6 13-8 27z"/>
<path class="c9" d="M4726 1038l8-24 7 15-9 26z"/>
<path class="c6" d="M4717 1059l9-21 6 17-8 22z"/>
<path class="c4" d="M4709 1076l8-17 7 18-9 18z"/>
<path class="c3" d="M4700 1088l9-12 6 19-8 12zM4675 1087l8 6 7 20-9-7z"/>
<path class="c2" d="M4683 1093l9 0 8-5 7 19-9 6-8 0z"/>
<path class="c5" d="M4666 1076l9 11 6 19-8-13z"/>
<path class="c7" d="M4658 1060l8 16 7 17-9-16z"/>
<path class="c10" d="M4650 1042l8 18 6 17-8-20z"/>
<path class="c13" d="M4641 1022l9 20 6 15-8-22z"/>
<path class="c16" d="M4633 1001l8 21 7 13-9-22z"/>
<path class="c19" d="M4624 980l9 21 6 12-8-22z"/>
<path class="c29" d="M4599 924l8 17 7 10-9-19z"/>
<path class="c34" d="M4582 894l8 14 7 8-9-15z"/>
<path class="c50" d="M4482 813l20 7 7 5-20-8z"/>
<path class="c52" d="M4462 808l20 5 7 4-20-4z"/>
<path class="c54" d="M4442 806l20 2 7 5-20-2z"/>
<path class="c55" d="M4422 806l20 0 7 5-21 0z"/>
<path class="c56" d="M4402 807l20-1 6 5-20 1z"/>
<path class="c57" d="M4382 809l20-2 6 5-20 2z"/>
<path class="c58" d="M4362 812l20-3 6 5-20 3z"/>
<path class="c59" d="M4321 820l20-4 21-4 6 5-20 3-20 5z"/>
<path class="c60" d="M4301 825l20-5 7 5-20 5z"/>
<path class="c49" d="M4941 641l18-15 6 3-18 16z"/>
<path class="c48" d="M4922 658l19-17 6 4-18 17zM4509 825l20 10 7 5-21-11z"/>
<path class="c47" d="M4904 677l18-19 7 4-18 18z"/>
<path class="c45" d="M4886 697l18-20 7 3-19 21zM4538 841l8 7 7 5-9-7z"/>
<path class="c43" d="M4868 721l18-24 6 4-18 24zM4546 848l8 8 7 5-8-8z"/>
<path class="c42" d="M4859 733l9-12 6 4-8 12zM4554 856l9 9 6 6-8-10z"/>
<path class="c41" d="M4851 746l8-13 7 4-9 13z"/>
<path class="c39" d="M4842 760l9-14 6 4-8 14z"/>
<path class="c38" d="M4834 775l8-15 7 4-9 15zM4571 876l9 12 6 5-8-12z"/>
<path class="c36" d="M4825 791l9-16 6 4-8 17zM4580 888l8 13 7 6-9-14z"/>
<path class="c35" d="M4817 809l8-18 7 5-9 18z"/>
<path class="c33" d="M4808 828l9-19 6 5-8 19z"/>
<path class="c31" d="M4800 849l8-21 7 5-9 21zM4597 916l8 16 7 7-9-17z"/>
<path class="c28" d="M4791 871l9-22 6 5-8 23zM4605 932l9 19 6 7-8-19z"/>
<path class="c26" d="M4783 895l8-24 7 6-8 25z"/>
<path class="c23" d="M4775 920l8-25 7 7-9 26z"/>
<path class="c20" d="M4766 947l9-27 6 8-8 27z"/>
<path class="c17" d="M4758 975l8-28 7 8-9 29z"/>
<path class="c14" d="M4749 1002l9-27 6 9-8 28z"/>
<path class="c11" d="M4741 1029l8-27 7 10-9 28z"/>
<path class="c8" d="M4732 1055l9-26 6 11-8 26z"/>
<path class="c5" d="M4724 1077l8-22 7 11-9 24z"/>
<path class="c3" d="M4715 1095l9-18 6 13-8 18zM4673 1093l8 13 7 13-9-13z"/>
<path class="c1" d="M4707 1107l8-12 7 13-9 13zM4681 1106l9 7 6 13-8-7z"/>
<path class="c0" d="M4690 1113l8 0 9-6 6 14-8 6-9-1z"/>
<path class="c6" d="M4664 1077l9 16 6 13-8-17z"/>
<path class="c9" d="M4656 1057l8 20 7 12-8-21z"/>
<path class="c12" d="M4648 1035l8 22 7 11-9-22z"/>
<path class="c15" d="M4639 1013l9 22 6 11-8-23z"/>
<path class="c19" d="M4631 991l8 22 7 10-9-23z"/>
<path class="c22" d="M4622 970l9 21 6 9-8-22z"/>
<path class="c25" d="M4614 951l8 19 7 8-9-20z"/>
<path class="c34" d="M4588 901l9 15 6 6-8-15z"/>
<path class="c40" d="M4563 865l8 11 7 5-9-10z"/>
<path class="c46" d="M4529 835l9 6 6 5-8-6z"/>
<path class="c50" d="M4489 817l20 8 6 4-20-7z"/>
<path class="c52" d="M4469 813l20 4 6 5-20-4z"/>
<path class="c54" d="M4449 811l20 2 6 5-20-2z"/>
<path class="c55" d="M4428 811l21 0 6 5-20-1z"/>
<path class="c56" d="M4408 812l20-1 7 4-20 1z"/>
<path class="c57" d="M4388 814l20-2 7 4-20 2z"/>
<path class="c58" d="M4368 817l20-3 7 4-20 3z"/>
<path class="c59" d="M4328 825l20-5 20-3 7 4-20 4-21 4z"/>
<path class="c60" d="M4308 830l20-5 6 4-20 5z"/>
<path class="c49" d="M4947 645l18-16 7 3-18 16z"/>
<path class="c48" d="M4929 662l18-17 7 3-19 17zM4515 829l21 11 6 5-20-11z"/>
<path class="c47" d="M4911 680l18-18 6 3-18 18z"/>
<path class="c45" d="M4892 701l19-21 6 3-18 21zM4544 846l9 7 6 5-8-7z"/>
<path class="c44" d="M4874 725l18-24 7 3-18 24z"/>
<path class="c42" d="M4866 737l8-12 7 3-9 12zM4561 861l8 10 7 4-8-9z"/>
<path class="c41" d="M4857 750l9-13 6 3-8 14z"/>
<path class="c39" d="M4849 764l8-14 7 4-9 14z"/>
<path class="c38" d="M4840 779l9-15 6 4-8 15zM4578 881l8 12 7 5-9-12z"/>
<path class="c36" d="M4832 796l8-17 7 4-9 17zM4586 893l9 14 6 5-8-14z"/>
<path class="c35" d="M4823 814l9-18 6 4-8 18z"/>
<path class="c33" d="M4815 833l8-19 7 4-9 19zM4595 907l8 15 7 5-9-15z"/>
<path class="c31" d="M4806 854l9-21 6 4-8 22zM4603 922l9 17 6 5-8-17z"/>
<path class="c28" d="M4798 877l8-23 7 5-9 23zM4612 939l8 19 7 5-9-19z"/>
<path class="c26" d="M4790 902l8-25 6 5-8 24z"/>
<path class="c23" d="M4781 928l9-26 6 4-8 27z"/>
<path class="c20" d="M4773 955l8-27 7 5-9 27z"/>
<path class="c17" d="M4764 984l9-29 6 5-8 29z"/>
<path class="c13" d="M4756 1012l8-28 7 5-9 29z"/>
<path class="c10" d="M4747 1040l9-28 6 6-8 28z"/>
<path class="c7" d="M4739 1066l8-26 7 6-9 27z"/>
<path class="c4" d="M4730 1090l9-24 6 7-8 23z"/>
<path class="c2" d="M4722 1108l8-18 7 6-9 19z"/>
<path class="c0" d="M4696 1126l9 1 8-6 9-13 6 7-8 13-9 6-8 0z"/>
<path class="c1" d="M4688 1119l8 7 7 8-9-8z"/>
<path class="c3" d="M4679 1106l9 13 6 7-8-13z"/>
<path class="c5" d="M4671 1089l8 17 7 7-8-18z"/>
<path class="c8" d="M4663 1068l8 21 7 6-9-21z"/>
<path class="c11" d="M4654 1046l9 22 6 6-8-22z"/>
<path class="c15" d="M4646 1023l8 23 7 6-9-23z"/>
<path class="c18" d="M4637 1000l9 23 6 6-8-23z"/>
<path class="c22" d="M4629 978l8 22 7 6-9-22z"/>
<path class="c25" d="M4620 958l9 20 6 6-8-21z"/>
<path class="c40" d="M4569 871l9 10 6 5-8-11z"/>
<path class="c43" d="M4553 853l8 8 7 5-9-8z"/>
<path class="c46" d="M4536 840l8 6 7 5-9-6z"/>
<path class="c50" d="M4495 822l20 7 7 5-20-7z"/>
<path class="c52" d="M4475 818l20 4 7 5-20-5z"/>
<path class="c54" d="M4455 816l20 2 7 4-20-2z"/>
<path class="c55" d="M4435 815l20 1 7 4-20 0z"/>
<path class="c56" d="M4415 816l20-1 7 5-21 1z"/>
<path class="c57" d="M4395 818l20-2 6 5-20 2z"/>
<path class="c58" d="M4375 821l20-3 6 5-20 3z"/>
<path class="c59" d="M4334 829l21-4 20-4 6 5-20 4-20 4z"/>
<path class="c60" d="M4314 834l20-5 7 5-20 5z"/>
<path class="c49" d="M4954 648l18-16 6 3-18 16z"/>
<path class="c48" d="M4935 665l19-17 6 3-18 17zM4522 834l20 11 7 4-20-11z"/>
<path class="c47" d="M4917 683l18-18 7 3-18 18z"/>
<path class="c46" d="M4899 704l18-21 7 3-19 21zM4542 845l9 6 6 4-8-6z"/>
<path class="c44" d="M4881 728l18-24 6 3-18 24z"/>
<path class="c42" d="M4872 740l9-12 6 3-8 12zM4568 866l8 9 7 4-9-9z"/>
<path class="c41" d="M4864 754l8-14 7 3-9 13z"/>
<path class="c40" d="M4855 768l9-14 6 2-8 15zM4576 875l8 11 7 4-8-11z"/>
<path class="c38" d="M4847 783l8-15 7 3-9 15zM4584 886l9 12 6 4-8-12z"/>
<path class="c37" d="M4838 800l9-17 6 3-8 17z"/>
<path class="c35" d="M4830 818l8-18 7 3-9 18z"/>
<path class="c33" d="M4821 837l9-19 6 3-8 19z"/>
<path class="c31" d="M4813 859l8-22 7 3-9 21zM4610 927l8 17 7 3-9-17z"/>
<path class="c28" d="M4804 882l9-23 6 2-8 23zM4618 944l9 19 6 3-8-19z"/>
<path class="c26" d="M4796 906l8-24 7 2-8 25z"/>
<path class="c23" d="M4788 933l8-27 7 3-9 26z"/>
<path class="c20" d="M4779 960l9-27 6 2-8 27z"/>
<path class="c17" d="M4771 989l8-29 7 2-9 29z"/>
<path class="c13" d="M4762 1018l9-29 6 2-8 28z"/>
<path class="c10" d="M4754 1046l8-28 7 1-9 28z"/>
<path class="c7" d="M4745 1073l9-27 6 1-8 27z"/>
<path class="c4" d="M4737 1096l8-23 7 1-9 23z"/>
<path class="c2" d="M4728 1115l9-19 6 1-8 18z"/>
<path class="c1" d="M4720 1128l8-13 7 0-9 13zM4694 1126l9 8 6 0-8-7z"/>
<path class="c0" d="M4703 1134l8 0 9-6 6 0-8 7-9-1z"/>
<path class="c3" d="M4686 1113l8 13 7 1-8-13z"/>
<path class="c5" d="M4678 1095l8 18 7 1-9-18z"/>
<path class="c8" d="M4669 1074l9 21 6 1-8-20z"/>
<path class="c12" d="M4661 1052l8 22 7 2-9-22z"/>
<path class="c15" d="M4652 1029l9 23 6 2-8-23z"/>
<path class="c18" d="M4644 1006l8 23 7 2-9-23z"/>
<path class="c22" d="M4635 984l9 22 6 2-8-22z"/>
<path class="c25" d="M4627 963l8 21 7 2-9-20z"/>
<path class="c34" d="M4601 912l9 15 6 3-8-15z"/>
<path class="c36" d="M4593 898l8 14 7 3-9-13z"/>
<path class="c43" d="M4559 858l9 8 6 4-8-8z"/>
<path class="c45" d="M4551 851l8 7 7 4-9-7z"/>
<path class="c50" d="M4502 827l20 7 7 4-21-7z"/>
<path class="c52" d="M4482 822l20 5 6 4-20-4z"/>
<path class="c54" d="M4462 820l20 2 6 5-20-3z"/>
<path class="c55" d="M4442 820l20 0 6 4-20 0z"/>
<path class="c56" d="M4421 821l21-1 6 4-20 1z"/>
<path class="c57" d="M4401 823l20-2 7 4-20 2z"/>
<path class="c58" d="M4381 826l20-3 7 4-20 3z"/>
<path class="c59" d="M4341 834l20-4 20-4 7 4-20 4-21 5z"/>
<path class="c60" d="M4321 839l20-5 6 5-20 4z"/>
<path class="c50" d="M4960 651l18-16 7 3-18 16z"/>
<path class="c49" d="M4942 668l18-17 7 3-19 17z"/>
<path class="c47" d="M4924 686l18-18 6 3-18 18z"/>
<path class="c46" d="M4905 707l19-21 6 3-18 21zM4549 849l8 6 7 3-9-5z"/>
<path class="c44" d="M4887 731l18-24 7 3-18 24zM4566 862l8 8 7 3-9-8z"/>
<path class="c42" d="M4879 743l8-12 7 3-9 12zM4574 870l9 9 6 3-8-9z"/>
<path class="c41" d="M4870 756l9-13 6 3-8 13z"/>
<path class="c40" d="M4862 771l8-15 7 3-9 14zM4583 879l8 11 7 2-9-10z"/>
<path class="c39" d="M4853 786l9-15 6 2-8 15z"/>
<path class="c37" d="M4845 803l8-17 7 2-9 16z"/>
<path class="c35" d="M4836 821l9-18 6 1-8 18z"/>
<path class="c33" d="M4828 840l8-19 7 1-9 19z"/>
<path class="c31" d="M4819 861l9-21 6 1-8 21zM4616 930l9 17 6 2-8-17z"/>
<path class="c29" d="M4811 884l8-23 7 1-8 23zM4625 947l8 19 7 1-9-18z"/>
<path class="c26" d="M4803 909l8-25 7 1-9 24zM4633 966l9 20 6 0-8-19z"/>
<path class="c23" d="M4794 935l9-26 6 0-8 25z"/>
<path class="c20" d="M4786 962l8-27 7-1-9 27z"/>
<path class="c17" d="M4777 991l9-29 6-1-8 28z"/>
<path class="c14" d="M4769 1019l8-28 7-2-9 28z"/>
<path class="c11" d="M4760 1047l9-28 6-2-8 27z"/>
<path class="c8" d="M4752 1074l8-27 7-3-9 25z"/>
<path class="c5" d="M4743 1097l9-23 6-5-8 23z"/>
<path class="c3" d="M4735 1115l8-18 7-5-9 18z"/>
<path class="c2" d="M4726 1128l9-13 6-5-8 12zM4701 1127l8 7 7-6-8-7z"/>
<path class="c1" d="M4709 1134l9 1 8-7 7-6-9 6-8 0z"/>
<path class="c4" d="M4693 1114l8 13 7-6-9-12z"/>
<path class="c6" d="M4684 1096l9 18 6-5-8-17z"/>
<path class="c9" d="M4676 1076l8 20 7-4-9-19z"/>
<path class="c12" d="M4667 1054l9 22 6-3-8-22z"/>
<path class="c16" d="M4659 1031l8 23 7-3-9-22z"/>
<path class="c19" d="M4650 1008l9 23 6-2-8-22z"/>
<path class="c22" d="M4642 986l8 22 7-1-9-21z"/>
<path class="c34" d="M4608 915l8 15 7 2-9-15z"/>
<path class="c36" d="M4599 902l9 13 6 2-8-13z"/>
<path class="c38" d="M4591 890l8 12 7 2-8-12z"/>
<path class="c45" d="M4557 855l9 7 6 3-8-7z"/>
<path class="c48" d="M4529 838l20 11 6 4-20-11z"/>
<path class="c51" d="M4508 831l21 7 6 4-20-7z"/>
<path class="c52" d="M4488 827l20 4 7 4-20-4z"/>
<path class="c54" d="M4468 824l20 3 7 4-20-2z"/>
<path class="c55" d="M4448 824l20 0 7 5-20-1z"/>
<path class="c56" d="M4428 825l20-1 7 4-21 2z"/>
<path class="c57" d="M4408 827l20-2 6 5-20 2z"/>
<path class="c58" d="M4388 830l20-3 6 5-20 3z"/>
<path class="c59" d="M4347 839l21-5 20-4 6 5-20 4-20 4z"/>
<path class="c60" d="M4327 843l20-4 7 4-20 5z"/>
<path class="c50" d="M4967 654l18-16 6 3-18 15z"/>
<path class="c49" d="M4948 671l19-17 6 2-18 17z"/>
<path class="c48" d="M4930 689l18-18 7 2-18 19zM4535 842l20 11 7 3-20-11z"/>
<path class="c46" d="M4912 710l18-21 7 3-19 20z"/>
<path class="c44" d="M4894 734l18-24 6 2-18 24zM4572 865l9 8 6 3-8-8z"/>
<path class="c43" d="M4885 746l9-12 6 2-8 12z"/>
<path class="c42" d="M4877 759l8-13 7 2-9 13zM4581 873l8 9 7 2-9-8z"/>
<path class="c40" d="M4868 773l9-14 6 2-8 13z"/>
<path class="c39" d="M4860 788l8-15 7 1-9 15zM4598 892l8 12 6 2-8-12z"/>
<path class="c37" d="M4851 804l9-16 6 1-8 16zM4606 904l8 13 7 1-9-12z"/>
<path class="c36" d="M4843 822l8-18 7 1-9 18z"/>
<path class="c34" d="M4834 841l9-19 6 1-8 19zM4614 917l9 15 6 0-8-14z"/>
<path class="c32" d="M4826 862l8-21 7 1-8 20zM4623 932l8 17 7-1-9-16z"/>
<path class="c29" d="M4818 885l8-23 7 0-9 22zM4631 949l9 18 6-2-8-17z"/>
<path class="c27" d="M4809 909l9-24 6-1-8 23z"/>
<path class="c24" d="M4801 934l8-25 7-2-9 24z"/>
<path class="c21" d="M4792 961l9-27 6-3-8 26z"/>
<path class="c18" d="M4784 989l8-28 7-4-9 27z"/>
<path class="c15" d="M4775 1017l9-28 6-5-8 26z"/>
<path class="c12" d="M4767 1044l8-27 7-7-9 26z"/>
<path class="c9" d="M4758 1069l9-25 6-8-8 24z"/>
<path class="c7" d="M4750 1092l8-23 7-9-9 21z"/>
<path class="c5" d="M4741 1110l9-18 6-11-8 17zM4699 1109l9 12 6-11-8-11z"/>
<path class="c3" d="M4716 1128l8 0 9-6 8-12 7-12-9 12-8 6-8 0z"/>
<path class="c4" d="M4708 1121l8 7 7-12-9-6z"/>
<path class="c8" d="M4691 1092l8 17 7-10-9-16z"/>
<path class="c10" d="M4682 1073l9 19 6-9-8-18z"/>
<path class="c14" d="M4674 1051l8 22 7-8-9-20z"/>
<path class="c17" d="M4665 1029l9 22 6-6-8-21z"/>
<path class="c20" d="M4657 1007l8 22 7-5-9-20z"/>
<path class="c23" d="M4648 986l9 21 6-3-8-20z"/>
<path class="c26" d="M4640 967l8 19 7-2-9-19z"/>
<path class="c41" d="M4589 882l9 10 6 2-8-10z"/>
<path class="c45" d="M4564 858l8 7 7 3-9-7z"/>
<path class="c47" d="M4555 853l9 5 6 3-8-5z"/>
<path class="c51" d="M4515 835l20 7 7 3-21-6z"/>
<path class="c53" d="M4495 831l20 4 6 4-20-4z"/>
<path class="c54" d="M4475 829l20 2 6 4-20-2z"/>
<path class="c55" d="M4455 828l20 1 6 4-20 0z"/>
<path class="c56" d="M4434 830l21-2 6 5-20 1z"/>
<path class="c57" d="M4414 832l20-2 7 4-20 2z"/>
<path class="c58" d="M4394 835l20-3 7 4-20 3z"/>
<path class="c59" d="M4354 843l20-4 20-4 7 4-20 4-21 5z"/>
<path class="c60" d="M4334 848l20-5 6 5-20 4z"/>
<path class="c50" d="M4973 656l18-15 7 3-18 15z"/>
<path class="c49" d="M4955 673l18-17 7 3-19 17zM4542 845l20 11 6 3-20-10z"/>
<path class="c48" d="M4937 692l18-19 6 3-18 18z"/>
<path class="c46" d="M4918 712l19-20 6 2-18 21z"/>
<path class="c45" d="M4900 736l18-24 7 3-18 23zM4570 861l9 7 6 2-8-6z"/>
<path class="c43" d="M4892 748l8-12 7 2-9 11zM4587 876l9 8 6 2-8-8z"/>
<path class="c42" d="M4883 761l9-13 6 1-8 13z"/>
<path class="c41" d="M4875 774l8-13 7 1-9 14zM4596 884l8 10 7 1-9-9z"/>
<path class="c39" d="M4866 789l9-15 6 2-8 14zM4604 894l8 12 7 0-8-11z"/>
<path class="c38" d="M4858 805l8-16 7 1-9 16z"/>
<path class="c36" d="M4849 823l9-18 6 1-8 17z"/>
<path class="c34" d="M4841 842l8-19 7 0-8 18z"/>
<path class="c32" d="M4833 862l8-20 7-1-9 19z"/>
<path class="c30" d="M4824 884l9-22 6-2-8 21zM4638 948l8 17 7-3-9-16z"/>
<path class="c28" d="M4816 907l8-23 7-3-9 22z"/>
<path class="c25" d="M4807 931l9-24 6-4-8 24z"/>
<path class="c23" d="M4799 957l8-26 7-4-9 24z"/>
<path class="c20" d="M4790 984l9-27 6-6-8 25z"/>
<path class="c17" d="M4782 1010l8-26 7-8-9 25z"/>
<path class="c14" d="M4773 1036l9-26 6-9-8 24z"/>
<path class="c11" d="M4765 1060l8-24 7-11-9 22z"/>
<path class="c9" d="M4756 1081l9-21 6-13-8 20z"/>
<path class="c7" d="M4748 1098l8-17 7-14-9 15z"/>
<path class="c6" d="M4739 1110l9-12 6-16-8 12zM4714 1110l9 6 6-17-8-5z"/>
<path class="c5" d="M4723 1116l8 0 8-6 7-16-8 5-9 0z"/>
<path class="c8" d="M4706 1099l8 11 7-16-9-10z"/>
<path class="c10" d="M4697 1083l9 16 6-15-8-13z"/>
<path class="c12" d="M4689 1065l8 18 7-12-9-17z"/>
<path class="c15" d="M4680 1045l9 20 6-11-8-18z"/>
<path class="c18" d="M4672 1024l8 21 7-9-9-19z"/>
<path class="c21" d="M4663 1004l9 20 6-7-8-19z"/>
<path class="c24" d="M4655 984l8 20 7-6-9-18z"/>
<path class="c27" d="M4646 965l9 19 6-4-8-18z"/>
<path class="c33" d="M4629 932l9 16 6-2-8-15z"/>
<path class="c35" d="M4621 918l8 14 7-1-9-13z"/>
<path class="c37" d="M4612 906l9 12 6 0-8-12z"/>
<path class="c44" d="M4579 868l8 8 7 2-9-8z"/>
<path class="c47" d="M4562 856l8 5 7 3-9-5z"/>
<path class="c51" d="M4521 839l21 6 6 4-20-7z"/>
<path class="c53" d="M4501 835l20 4 7 3-20-3z"/>
<path class="c54" d="M4481 833l20 2 7 4-20-2z"/>
<path class="c55" d="M4461 833l20 0 7 4-20 0z"/>
<path class="c57" d="M4421 836l20-2 20-1 7 4-20 1-21 2z"/>
<path class="c58" d="M4401 839l20-3 6 4-20 4z"/>
<path class="c59" d="M4381 843l20-4 6 5-20 4z"/>
<path class="c60" d="M4340 852l20-4 21-5 6 5-20 4-20 5z"/>
<path class="c50" d="M4980 659l18-15 6 2-18 16z"/>
<path class="c49" d="M4961 676l19-17 6 3-18 16zM4548 849l20 10 7 2-20-9z"/>
<path class="c48" d="M4943 694l18-18 7 2-18 18z"/>
<path class="c47" d="M4925 715l18-21 7 2-18 20zM4568 859l9 5 6 2-8-5z"/>
<path class="c45" d="M4907 738l18-23 7 1-19 23zM4585 870l9 8 6 1-8-7z"/>
<path class="c44" d="M4898 749l9-11 6 1-8 12z"/>
<path class="c42" d="M4890 762l8-13 7 2-9 12z"/>
<path class="c41" d="M4881 776l9-14 6 1-8 13zM4602 886l9 9 6 1-8-9z"/>
<path class="c40" d="M4873 790l8-14 7 0-9 14zM4611 895l8 11 7 0-9-10z"/>
<path class="c39" d="M4864 806l9-16 6 0-8 15z"/>
<path class="c37" d="M4856 823l8-17 7-1-8 17z"/>
<path class="c35" d="M4848 841l8-18 7-1-9 17z"/>
<path class="c33" d="M4839 860l9-19 6-2-8 18zM4636 931l8 15 7-3-9-14z"/>
<path class="c31" d="M4831 881l8-21 7-3-9 20zM4644 946l9 16 6-4-8-15z"/>
<path class="c29" d="M4822 903l9-22 6-4-8 21z"/>
<path class="c27" d="M4814 927l8-24 7-5-9 22z"/>
<path class="c24" d="M4805 951l9-24 6-7-8 23z"/>
<path class="c21" d="M4797 976l8-25 7-8-9 23z"/>
<path class="c19" d="M4788 1001l9-25 6-10-8 23z"/>
<path class="c16" d="M4780 1025l8-24 7-12-9 22z"/>
<path class="c14" d="M4771 1047l9-22 6-14-8 20z"/>
<path class="c12" d="M4763 1067l8-20 7-16-9 18zM4704 1071l8 13 7-17-9-12z"/>
<path class="c10" d="M4754 1082l9-15 6-18-8 15zM4712 1084l9 10 6-18-8-9z"/>
<path class="c9" d="M4746 1094l8-12 7-18-9 10zM4721 1094l8 5 7-19-9-4z"/>
<path class="c8" d="M4729 1099l9 0 8-5 6-20-8 5-8 1z"/>
<path class="c15" d="M4695 1054l9 17 6-16-8-14z"/>
<path class="c17" d="M4687 1036l8 18 7-13-9-17z"/>
<path class="c20" d="M4678 1017l9 19 6-12-8-17z"/>
<path class="c23" d="M4670 998l8 19 7-10-9-17z"/>
<path class="c26" d="M4661 980l9 18 6-8-8-16z"/>
<path class="c28" d="M4653 962l8 18 7-6-9-16z"/>
<path class="c36" d="M4627 918l9 13 6-2-8-12z"/>
<path class="c38" d="M4619 906l8 12 7-1-8-11z"/>
<path class="c43" d="M4594 878l8 8 7 1-9-8z"/>
<path class="c46" d="M4577 864l8 6 7 2-9-6z"/>
<path class="c51" d="M4528 842l20 7 7 3-20-6z"/>
<path class="c53" d="M4508 839l20 3 7 4-21-4z"/>
<path class="c54" d="M4488 837l20 2 6 3-20-1z"/>
<path class="c56" d="M4468 837l20 0 6 4-20 0z"/>
<path class="c57" d="M4448 838l20-1 6 4-20 1z"/>
<path class="c58" d="M4407 844l20-4 21-2 6 4-20 3-20 3z"/>
<path class="c59" d="M4387 848l20-4 7 4-20 4z"/>
<path class="c60" d="M4347 857l20-5 20-4 7 4-20 4-21 5z"/>
<path class="c51" d="M4986 662l18-16 7 3-18 15zM4535 846l20 6 6 3-20-6z"/>
<path class="c50" d="M4968 678l18-16 7 2-19 17z"/>
<path class="c49" d="M4950 696l18-18 6 3-18 18zM4555 852l20 9 6 2-20-8z"/>
<path class="c47" d="M4932 716l18-20 6 3-18 19zM4575 861l8 5 7 2-9-5z"/>
<path class="c45" d="M4913 739l19-23 6 2-18 22zM4592 872l8 7 7 1-9-6z"/>
<path class="c44" d="M4905 751l8-12 7 1-9 12zM4600 879l9 8 6 0-8-7z"/>
<path class="c43" d="M4896 763l9-12 6 1-8 11z"/>
<path class="c42" d="M4888 776l8-13 7 0-9 13zM4609 887l8 9 7-1-9-8z"/>
<path class="c41" d="M4879 790l9-14 6 0-8 14z"/>
<path class="c39" d="M4871 805l8-15 7 0-8 14zM4626 906l8 11 7-2-9-10z"/>
<path class="c38" d="M4863 822l8-17 7-1-9 16z"/>
<path class="c36" d="M4854 839l9-17 6-2-8 16z"/>
<path class="c34" d="M4846 857l8-18 7-3-9 18zM4642 929l9 14 6-4-8-13z"/>
<path class="c32" d="M4837 877l9-20 6-3-8 18zM4651 943l8 15 7-6-9-13z"/>
<path class="c30" d="M4829 898l8-21 7-5-9 20zM4659 958l9 16 6-8-8-14z"/>
<path class="c28" d="M4820 920l9-22 6-6-8 20z"/>
<path class="c26" d="M4812 943l8-23 7-8-9 21z"/>
<path class="c23" d="M4803 966l9-23 6-10-8 22z"/>
<path class="c21" d="M4795 989l8-23 7-11-9 20z"/>
<path class="c19" d="M4786 1011l9-22 6-14-8 20z"/>
<path class="c16" d="M4778 1031l8-20 7-16-9 19z"/>
<path class="c15" d="M4769 1049l9-18 6-17-8 16zM4710 1055l9 12 6-19-8-10z"/>
<path class="c13" d="M4761 1064l8-15 7-19-9 13z"/>
<path class="c12" d="M4727 1076l9 4 8-1 8-5 9-10 6-21-8 9-8 6-9 0-8-3z"/>
<path class="c14" d="M4719 1067l8 9 7-21-9-7z"/>
<path class="c17" d="M4702 1041l8 14 7-17-9-13z"/>
<path class="c20" d="M4693 1024l9 17 6-16-8-14z"/>
<path class="c22" d="M4685 1007l8 17 7-13-9-14z"/>
<path class="c25" d="M4676 990l9 17 6-10-8-16z"/>
<path class="c27" d="M4668 974l8 16 7-9-9-15z"/>
<path class="c37" d="M4634 917l8 12 7-3-8-11z"/>
<path class="c40" d="M4617 896l9 10 6-1-8-10z"/>
<path class="c46" d="M4583 866l9 6 6 2-8-6z"/>
<path class="c53" d="M4514 842l21 4 6 3-20-3z"/>
<path class="c54" d="M4494 841l20 1 7 4-20-1z"/>
<path class="c56" d="M4474 841l20 0 7 4-20 0z"/>
<path class="c57" d="M4454 842l20-1 7 4-20 1z"/>
<path class="c58" d="M4414 848l20-3 20-3 7 4-21 3-20 3z"/>
<path class="c59" d="M4394 852l20-4 6 4-20 4z"/>
<path class="c60" d="M4353 861l21-5 20-4 6 4-20 5-20 5z"/>
<path class="c51" d="M4993 664l18-15 6 3-18 15z"/>
<path class="c50" d="M4974 681l19-17 6 3-18 16zM4561 855l20 8 7 2-20-8z"/>
<path class="c49" d="M4956 699l18-18 7 2-18 17z"/>
<path class="c48" d="M4938 718l18-19 7 1-18 20zM4581 863l9 5 6 2-8-5z"/>
<path class="c46" d="M4920 740l18-22 7 2-19 21z"/>
<path class="c45" d="M4911 752l9-12 6 1-8 11zM4598 874l9 6 6 0-8-5z"/>
<path class="c44" d="M4903 763l8-11 7 0-9 12zM4607 880l8 7 7 0-9-7z"/>
<path class="c42" d="M4894 776l9-13 6 1-8 12z"/>
<path class="c41" d="M4886 790l8-14 7 0-9 13zM4624 895l8 10 7-2-9-8z"/>
<path class="c40" d="M4878 804l8-14 6-1-8 14z"/>
<path class="c39" d="M4869 820l9-16 6-1-8 14zM4632 905l9 10 6-3-8-9z"/>
<path class="c37" d="M4861 836l8-16 7-3-9 16z"/>
<path class="c35" d="M4852 854l9-18 6-3-8 17z"/>
<path class="c34" d="M4844 872l8-18 7-4-9 17zM4657 939l9 13 6-6-8-12z"/>
<path class="c32" d="M4835 892l9-20 6-5-8 18z"/>
<path class="c30" d="M4827 912l8-20 7-7-9 19z"/>
<path class="c28" d="M4818 933l9-21 6-8-8 19z"/>
<path class="c25" d="M4810 955l8-22 7-10-9 19z"/>
<path class="c23" d="M4801 975l9-20 6-13-8 19z"/>
<path class="c21" d="M4793 995l8-20 7-14-9 18z"/>
<path class="c19" d="M4784 1014l9-19 6-16-8 17z"/>
<path class="c18" d="M4776 1030l8-16 7-18-9 14zM4717 1038l8 10 7-20-9-8z"/>
<path class="c16" d="M4767 1043l9-13 6-20-8 12zM4734 1055l8 3 7-22-9-2z"/>
<path class="c15" d="M4742 1058l9 0 8-6 8-9 7-21-8 8-9 5-8 1z"/>
<path class="c17" d="M4725 1048l9 7 6-21-8-6z"/>
<path class="c20" d="M4708 1025l9 13 6-18-8-11z"/>
<path class="c22" d="M4700 1011l8 14 7-16-9-12z"/>
<path class="c24" d="M4691 997l9 14 6-14-8-12z"/>
<path class="c27" d="M4683 981l8 16 7-12-9-14z"/>
<path class="c29" d="M4674 966l9 15 6-10-8-13z"/>
<path class="c31" d="M4666 952l8 14 7-8-9-12z"/>
<path class="c36" d="M4649 926l8 13 7-5-8-11z"/>
<path class="c38" d="M4641 915l8 11 7-3-9-11z"/>
<path class="c43" d="M4615 887l9 8 6 0-8-8z"/>
<path class="c47" d="M4590 868l8 6 7 1-9-5z"/>
<path class="c52" d="M4541 849l20 6 7 2-20-5z"/>
<path class="c53" d="M4521 846l20 3 7 3-21-3z"/>
<path class="c55" d="M4501 845l20 1 6 3-20-1z"/>
<path class="c56" d="M4481 845l20 0 6 3-20 1z"/>
<path class="c57" d="M4461 846l20-1 6 4-20 1z"/>
<path class="c58" d="M4420 852l20-3 21-3 6 4-20 3-20 4z"/>
<path class="c59" d="M4400 856l20-4 7 5-20 4z"/>
<path class="c60" d="M4360 866l20-5 20-5 7 5-20 4-21 5z"/>
<path class="c51" d="M4999 667l18-15 7 2-18 15z"/>
<path class="c50" d="M4981 683l18-16 7 2-18 16zM4568 857l20 8 6 2-20-8z"/>
<path class="c49" d="M4963 700l18-17 7 2-19 17z"/>
<path class="c48" d="M4945 720l18-20 6 2-18 19zM4588 865l8 5 7 1-9-4z"/>
<path class="c46" d="M4926 741l19-21 6 1-18 21zM4605 875l8 5 7 1-9-6z"/>
<path class="c45" d="M4918 752l8-11 7 1-9 11zM4613 880l9 7 6 0-8-6z"/>
<path class="c44" d="M4909 764l9-12 6 1-8 11z"/>
<path class="c43" d="M4901 776l8-12 7 0-9 11zM4622 887l8 8 7-2-9-6z"/>
<path class="c42" d="M4892 789l9-13 6-1-8 13zM4630 895l9 8 6-2-8-8z"/>
<path class="c41" d="M4884 803l8-14 7-1-8 13z"/>
<path class="c39" d="M4876 817l8-14 7-2-9 14zM4647 912l9 11 6-4-8-10z"/>
<path class="c38" d="M4867 833l9-16 6-2-8 14z"/>
<path class="c36" d="M4859 850l8-17 7-4-9 16z"/>
<path class="c35" d="M4850 867l9-17 6-5-8 16zM4664 934l8 12 7-7-8-11z"/>
<path class="c33" d="M4842 885l8-18 7-6-9 17zM4672 946l9 12 6-8-8-11z"/>
<path class="c31" d="M4833 904l9-19 6-7-8 17zM4681 958l8 13 7-10-9-11z"/>
<path class="c29" d="M4825 923l8-19 7-9-9 17zM4689 971l9 14 6-13-8-11z"/>
<path class="c28" d="M4816 942l9-19 6-11-8 18z"/>
<path class="c26" d="M4808 961l8-19 7-12-9 17z"/>
<path class="c24" d="M4799 979l9-18 6-14-8 16z"/>
<path class="c22" d="M4791 996l8-17 7-16-9 15z"/>
<path class="c21" d="M4782 1010l9-14 6-18-8 13zM4723 1020l9 8 6-19-8-7z"/>
<path class="c20" d="M4774 1022l8-12 7-19-8 10zM4732 1028l8 6 7-21-9-4z"/>
<path class="c19" d="M4740 1034l9 2 8-1 9-5 8-8 7-21-9 8-8 4-9 2-8-2z"/>
<path class="c23" d="M4715 1009l8 11 7-18-9-9z"/>
<path class="c25" d="M4706 997l9 12 6-16-8-10z"/>
<path class="c27" d="M4698 985l8 12 7-14-9-11z"/>
<path class="c37" d="M4656 923l8 11 7-6-9-9z"/>
<path class="c40" d="M4639 903l8 9 7-3-9-8z"/>
<path class="c47" d="M4596 870l9 5 6 0-8-4z"/>
<path class="c52" d="M4548 852l20 5 6 2-20-4z"/>
<path class="c53" d="M4527 849l21 3 6 3-20-3z"/>
<path class="c55" d="M4507 848l20 1 7 3-20 0z"/>
<path class="c56" d="M4487 849l20-1 7 4-20 1z"/>
<path class="c57" d="M4467 850l20-1 7 4-20 1z"/>
<path class="c58" d="M4447 853l20-3 7 4-21 3z"/>
<path class="c59" d="M4407 861l20-4 20-4 6 4-20 4-20 4z"/>
<path class="c60" d="M4366 870l21-5 20-4 6 4-20 5-20 5z"/>
<path class="c52" d="M5006 669l18-15 7 3-19 15zM4554 855l20 4 7 3-20-4z"/>
<path class="c51" d="M4988 685l18-16 6 3-18 15z"/>
<path class="c50" d="M4969 702l19-17 6 2-18 17zM4574 859l20 8 7 1-20-6z"/>
<path class="c48" d="M4951 721l18-19 7 2-18 18zM4603 871l8 4 7 1-9-4z"/>
<path class="c47" d="M4933 742l18-21 7 1-19 21zM4611 875l9 6 6 0-8-5z"/>
<path class="c46" d="M4924 753l9-11 6 1-8 10z"/>
<path class="c45" d="M4916 764l8-11 7 0-9 10zM4620 881l8 6 7-1-9-5z"/>
<path class="c44" d="M4907 775l9-11 6-1-8 12zM4628 887l9 6 6-1-8-6z"/>
<path class="c43" d="M4899 788l8-13 7 0-8 11zM4637 893l8 8 7-2-9-7z"/>
<path class="c42" d="M4891 801l8-13 7-2-9 13z"/>
<path class="c40" d="M4882 815l9-14 6-2-8 13zM4654 909l8 10 7-5-9-8z"/>
<path class="c39" d="M4874 829l8-14 7-3-9 14z"/>
<path class="c38" d="M4865 845l9-16 6-3-8 14zM4662 919l9 9 6-5-8-9z"/>
<path class="c36" d="M4857 861l8-16 7-5-9 15zM4671 928l8 11 7-7-9-9z"/>
<path class="c35" d="M4848 878l9-17 6-6-8 15zM4679 939l8 11 7-9-8-9z"/>
<path class="c33" d="M4840 895l8-17 7-8-9 16zM4687 950l9 11 6-10-8-10z"/>
<path class="c31" d="M4831 912l9-17 6-9-8 16zM4696 961l8 11 7-12-9-9z"/>
<path class="c30" d="M4823 930l8-18 7-10-9 15z"/>
<path class="c28" d="M4814 947l9-17 6-13-8 16z"/>
<path class="c26" d="M4806 963l8-16 7-14-9 14zM4721 993l9 9 6-17-8-7z"/>
<path class="c25" d="M4797 978l9-15 6-16-8 13z"/>
<path class="c24" d="M4789 991l8-13 7-18-8 12zM4730 1002l8 7 7-19-9-5z"/>
<path class="c23" d="M4781 1001l8-10 7-19-9 9zM4738 1009l9 4 8 2 7-21-9-1-8-3z"/>
<path class="c22" d="M4755 1015l9-2 8-4 9-8 6-20-8 7-9 4-8 2z"/>
<path class="c27" d="M4713 983l8 10 7-15-9-9z"/>
<path class="c29" d="M4704 972l9 11 6-14-8-9z"/>
<path class="c41" d="M4645 901l9 8 6-3-8-7z"/>
<path class="c49" d="M4594 867l9 4 6 1-8-4z"/>
<path class="c54" d="M4534 852l20 3 7 3-20-2z"/>
<path class="c55" d="M4514 852l20 0 7 4-21-1z"/>
<path class="c56" d="M4494 853l20-1 6 3-20 1z"/>
<path class="c57" d="M4474 854l20-1 6 3-20 2z"/>
<path class="c58" d="M4453 857l21-3 6 4-20 3z"/>
<path class="c59" d="M4413 865l20-4 20-4 7 4-20 4-20 4z"/>
<path class="c60" d="M4373 875l20-5 20-5 7 4-20 5-20 5z"/>
<path class="c52" d="M5012 672l19-15 6 2-18 15zM4561 858l20 4 6 2-20-4z"/>
<path class="c51" d="M4994 687l18-15 7 2-18 15zM4581 862l20 6 6 2-20-6z"/>
<path class="c50" d="M4976 704l18-17 7 2-19 17z"/>
<path class="c49" d="M4958 722l18-18 6 2-18 18zM4601 868l8 4 7 1-9-3z"/>
<path class="c47" d="M4939 743l19-21 6 2-18 19zM4618 876l8 5 7 0-9-5z"/>
<path class="c46" d="M4931 753l8-10 7 0-9 10zM4626 881l9 5 6-1-8-4z"/>
<path class="c45" d="M4922 763l9-10 6 0-8 10zM4635 886l8 6 7-1-9-6z"/>
<path class="c44" d="M4906 786l8-11 8-12 7 0-8 11-9 11zM4643 892l9 7 6-3-8-5z"/>
<path class="c42" d="M4897 799l9-13 6-1-8 12zM4652 899l8 7 7-3-9-7z"/>
<path class="c41" d="M4889 812l8-13 7-2-9 12zM4660 906l9 8 6-4-8-7z"/>
<path class="c40" d="M4880 826l9-14 6-3-8 13z"/>
<path class="c39" d="M4872 840l8-14 7-4-9 13zM4669 914l8 9 7-6-9-7z"/>
<path class="c38" d="M4863 855l9-15 6-5-8 14zM4677 923l9 9 6-7-8-8z"/>
<path class="c36" d="M4855 870l8-15 7-6-9 14zM4686 932l8 9 6-8-8-8z"/>
<path class="c35" d="M4846 886l9-16 6-7-8 14zM4694 941l8 10 7-10-9-8z"/>
<path class="c33" d="M4838 902l8-16 7-9-9 14zM4702 951l9 9 6-11-8-8z"/>
<path class="c32" d="M4829 917l9-15 6-11-8 14z"/>
<path class="c30" d="M4821 933l8-16 7-12-9 14zM4719 969l9 9 6-15-8-7z"/>
<path class="c29" d="M4812 947l9-14 6-14-8 13zM4728 978l8 7 7-17-9-5z"/>
<path class="c28" d="M4804 960l8-13 7-15-8 12z"/>
<path class="c27" d="M4796 972l8-12 7-16-9 10zM4736 985l9 5 6-18-8-4z"/>
<path class="c26" d="M4787 981l9-9 6-18-8 8zM4745 990l8 3 9 1 6-19-8 0-9-3z"/>
<path class="c25" d="M4762 994l8-2 9-4 8-7 7-19-9 7-8 4-9 2z"/>
<path class="c31" d="M4711 960l8 9 7-13-9-7z"/>
<path class="c48" d="M4609 872l9 4 6 0-8-3z"/>
<path class="c54" d="M4541 856l20 2 6 2-20-1z"/>
<path class="c55" d="M4520 855l21 1 6 3-20 0z"/>
<path class="c56" d="M4500 856l20-1 7 4-20 1z"/>
<path class="c57" d="M4480 858l20-2 7 4-20 2z"/>
<path class="c58" d="M4460 861l20-3 7 4-20 3z"/>
<path class="c59" d="M4420 869l20-4 20-4 7 4-21 4-20 4z"/>
<path class="c60" d="M4380 879l20-5 20-5 6 4-20 5-20 6z"/>
<path class="c52" d="M5019 674l18-15 7 3-19 14z"/>
<path class="c51" d="M5001 689l18-15 6 2-18 15zM4587 864l20 6 7 1-20-5z"/>
<path class="c50" d="M4982 706l19-17 6 2-18 16zM4607 870l9 3 6 0-8-2z"/>
<path class="c49" d="M4964 724l18-18 7 1-18 18zM4616 873l8 3 7 1-9-4z"/>
<path class="c48" d="M4946 743l18-19 7 1-19 18zM4624 876l9 5 6-1-8-3z"/>
<path class="c47" d="M4937 753l9-10 6 0-8 10zM4633 881l8 4 7-1-9-4z"/>
<path class="c46" d="M4929 763l8-10 7 0-8 10zM4641 885l9 6 6-2-8-5z"/>
<path class="c45" d="M4921 774l8-11 7 0-9 10zM4650 891l8 5 7-2-9-5z"/>
<path class="c44" d="M4912 785l9-11 6-1-8 10z"/>
<path class="c43" d="M4904 797l8-12 7-2-9 11zM4658 896l9 7 6-4-8-5z"/>
<path class="c42" d="M4895 809l9-12 6-3-8 12zM4667 903l8 7 7-5-9-6z"/>
<path class="c41" d="M4887 822l8-13 7-3-9 12zM4675 910l9 7 6-5-8-7z"/>
<path class="c40" d="M4878 835l9-13 6-4-8 12z"/>
<path class="c39" d="M4870 849l8-14 7-5-9 13zM4684 917l8 8 7-7-9-6z"/>
<path class="c38" d="M4861 863l9-14 6-6-8 13zM4692 925l8 8 7-8-8-7z"/>
<path class="c36" d="M4853 877l8-14 7-7-9 12zM4700 933l9 8 6-10-8-6z"/>
<path class="c35" d="M4844 891l9-14 6-9-8 13zM4709 941l8 8 7-11-9-7z"/>
<path class="c34" d="M4836 905l8-14 7-10-9 13zM4717 949l9 7 6-12-8-6z"/>
<path class="c33" d="M4827 919l9-14 6-11-8 12z"/>
<path class="c31" d="M4819 932l8-13 7-13-8 12zM4734 963l9 5 6-15-8-4z"/>
<path class="c30" d="M4802 954l9-10 8-12 7-14-9 10-8 9zM4743 968l8 4 7-16-9-3z"/>
<path class="c29" d="M4794 962l8-8 7-17-9 8zM4751 972l9 3 8 0 7-18-9 0-8-1z"/>
<path class="c28" d="M4768 975l9-2 8-4 9-7 6-17-8 6-9 4-8 2z"/>
<path class="c32" d="M4726 956l8 7 7-14-9-5z"/>
<path class="c53" d="M4567 860l20 4 7 2-20-3z"/>
<path class="c54" d="M4547 859l20 1 7 3-20-1z"/>
<path class="c55" d="M4527 859l20 0 7 3-21 0z"/>
<path class="c56" d="M4507 860l20-1 6 3-20 2z"/>
<path class="c57" d="M4487 862l20-2 6 4-20 2z"/>
<path class="c58" d="M4467 865l20-3 6 4-20 3z"/>
<path class="c59" d="M4426 873l20-4 21-4 6 4-20 4-20 5z"/>
<path class="c60" d="M4406 878l20-5 7 5-20 5z"/>
<path class="c61" d="M4386 884l20-6 7 5-20 5z"/>
<path class="c53" d="M5025 676l19-14 6 3-18 13zM4574 863l20 3 6 2-20-2z"/>
<path class="c52" d="M5007 691l18-15 7 2-18 15z"/>
<path class="c51" d="M4989 707l18-16 7 2-19 16zM4594 866l20 5 6 1-20-4z"/>
<path class="c50" d="M4971 725l18-18 6 2-18 17zM4614 871l8 2 7 1-9-2z"/>
<path class="c48" d="M4952 743l19-18 6 1-18 18zM4631 877l8 3 7 0-9-3z"/>
<path class="c47" d="M4936 763l8-10 8-10 7 1-8 9-9 9zM4639 880l9 4 6-1-8-3z"/>
<path class="c46" d="M4927 773l9-10 6-1-8 10zM4648 884l8 5 7-2-9-4z"/>
<path class="c45" d="M4919 783l8-10 7-1-9 10zM4656 889l9 5 6-2-8-5z"/>
<path class="c44" d="M4910 794l9-11 6-1-8 10zM4665 894l8 5 7-3-9-4z"/>
<path class="c43" d="M4902 806l8-12 7-2-9 11zM4673 899l9 6 6-4-8-5z"/>
<path class="c42" d="M4893 818l9-12 6-3-8 11zM4682 905l8 7 7-6-9-5z"/>
<path class="c41" d="M4885 830l8-12 7-4-9 11zM4690 912l9 6 6-6-8-6z"/>
<path class="c40" d="M4876 843l9-13 6-5-8 12z"/>
<path class="c39" d="M4868 856l8-13 7-6-9 12zM4699 918l8 7 7-8-9-5z"/>
<path class="c38" d="M4859 868l9-12 6-7-8 11zM4707 925l8 6 7-8-8-6z"/>
<path class="c37" d="M4851 881l8-13 7-8-9 12zM4715 931l9 7 6-10-8-5z"/>
<path class="c36" d="M4842 894l9-13 6-9-8 12zM4724 938l8 6 7-12-9-4z"/>
<path class="c35" d="M4834 906l8-12 7-10-9 11zM4732 944l9 5 6-13-8-4z"/>
<path class="c34" d="M4826 918l8-12 6-11-8 10zM4741 949l8 4 7-14-9-3z"/>
<path class="c33" d="M4817 928l9-10 6-13-8 9zM4749 953l9 3 6-15-8-2z"/>
<path class="c32" d="M4800 945l9-8 8-9 7-14-9 8-8 7zM4758 956l8 1 7-15-9-1z"/>
<path class="c31" d="M4766 957l9 0 8-2 9-4 8-6 7-16-9 6-8 4-9 2-8 1z"/>
<path class="c49" d="M4622 873l9 4 6 0-8-3z"/>
<path class="c54" d="M4554 862l20 1 6 3-20-1z"/>
<path class="c56" d="M4533 862l21 0 6 3-20 0z"/>
<path class="c57" d="M4513 864l20-2 7 3-20 2z"/>
<path class="c58" d="M4473 869l20-3 20-2 7 3-20 3-20 3z"/>
<path class="c59" d="M4453 873l20-4 7 4-21 4z"/>
<path class="c60" d="M4413 883l20-5 20-5 6 4-20 5-20 5z"/>
<path class="c61" d="M4393 888l20-5 6 4-20 5z"/>
<path class="c53" d="M5032 678l18-13 7 2-19 14zM4580 866l20 2 7 2-20-2z"/>
<path class="c52" d="M5014 693l18-15 6 3-18 14zM4600 868l20 4 7 1-20-3z"/>
<path class="c51" d="M4995 709l19-16 6 2-18 15zM4620 872l9 2 6 1-8-2z"/>
<path class="c50" d="M4977 726l18-17 7 1-18 17zM4629 874l8 3 7 0-9-2z"/>
<path class="c49" d="M4959 744l18-18 7 1-19 17zM4637 877l9 3 6 0-8-3z"/>
<path class="c48" d="M4951 753l8-9 6 0-8 9zM4646 880l8 3 7 0-9-3z"/>
<path class="c47" d="M4934 772l8-10 9-9 6 0-8 9-9 9zM4654 883l9 4 6-1-8-3z"/>
<path class="c46" d="M4925 782l9-10 6-1-8 9zM4663 887l8 5 7-3-9-3z"/>
<path class="c45" d="M4917 792l8-10 7-2-9 10zM4671 892l9 4 6-3-8-4z"/>
<path class="c44" d="M4908 803l9-11 6-2-8 10zM4680 896l8 5 7-4-9-4z"/>
<path class="c43" d="M4900 814l8-11 7-3-9 10zM4688 901l9 5 6-5-8-4z"/>
<path class="c42" d="M4891 825l9-11 6-4-8 11zM4697 906l8 6 7-6-9-5z"/>
<path class="c41" d="M4874 849l9-12 8-12 7-4-9 11-8 10zM4705 912l9 5 6-7-8-4z"/>
<path class="c40" d="M4866 860l8-11 7-7-9 11zM4714 917l8 6 7-9-9-4z"/>
<path class="c39" d="M4857 872l9-12 6-7-8 11zM4722 923l8 5 7-10-8-4z"/>
<path class="c38" d="M4849 884l8-12 7-8-9 10zM4730 928l9 4 6-10-8-4z"/>
<path class="c37" d="M4840 895l9-11 6-10-8 10zM4739 932l8 4 7-11-9-3z"/>
<path class="c36" d="M4832 905l8-10 7-11-8 9zM4747 936l9 3 6-12-8-2z"/>
<path class="c35" d="M4815 922l9-8 8-9 7-12-9 9-8 7zM4756 939l8 2 7-13-9-1z"/>
<path class="c34" d="M4764 941l9 1 8-1 9-2 8-4 9-6 8-7 7-13-9 7-8 5-9 4-8 2-9 1-8 0z"/>
<path class="c55" d="M4560 865l20 1 7 2-20 0z"/>
<path class="c56" d="M4540 865l20 0 7 3-21 1z"/>
<path class="c57" d="M4520 867l20-2 6 4-20 2z"/>
<path class="c58" d="M4480 873l20-3 20-3 6 4-20 3-20 3z"/>
<path class="c59" d="M4459 877l21-4 6 4-20 4z"/>
<path class="c60" d="M4419 887l20-5 20-5 7 4-20 5-20 5z"/>
<path class="c61" d="M4399 892l20-5 7 4-20 6z"/>
<path class="c53" d="M5038 681l19-14 6 2-18 14z"/>
<path class="c52" d="M5002 710l18-15 18-14 7 2-18 14-19 15zM4607 870l20 3 7 1-21-2z"/>
<path class="c51" d="M4984 727l18-17 6 2-18 16zM4627 873l8 2 7 1-8-2z"/>
<path class="c50" d="M4965 744l19-17 6 1-18 16zM4635 875l9 2 8 3 7-1-9-2-8-1z"/>
<path class="c49" d="M4957 753l8-9 7 0-8 9zM4652 880l9 3 6-1-8-3z"/>
<path class="c48" d="M4949 762l8-9 7 0-9 8zM4661 883l8 3 7-2-9-2z"/>
<path class="c47" d="M4932 780l8-9 9-9 6-1-8 9-9 9zM4669 886l9 3 6-2-8-3z"/>
<path class="c46" d="M4923 790l9-10 6-1-8 9zM4678 889l8 4 7-3-9-3z"/>
<path class="c45" d="M4915 800l8-10 7-2-9 9zM4686 893l9 4 6-3-8-4z"/>
<path class="c44" d="M4898 821l8-11 9-10 6-3-8 10-9 10zM4695 897l8 4 7-4-9-3z"/>
<path class="c43" d="M4889 832l9-11 6-4-8 10zM4703 901l9 5 6-6-8-3z"/>
<path class="c42" d="M4881 842l8-10 7-5-9 10zM4712 906l8 4 7-6-9-4z"/>
<path class="c41" d="M4872 853l9-11 6-5-8 9zM4720 910l9 4 6-7-8-3z"/>
<path class="c40" d="M4864 864l8-11 7-7-9 10zM4729 914l8 4 8 4 7-9-8-3-9-3z"/>
<path class="c39" d="M4847 884l8-10 9-10 6-8-8 9-8 9zM4745 922l9 3 6-10-8-2z"/>
<path class="c38" d="M4839 893l8-9 7-10-9 9zM4754 925l8 2 7-11-9-1z"/>
<path class="c37" d="M4822 909l8-7 9-9 6-10-8 8-9 6zM4762 927l9 1 8 0 7-12-9 0-8 0z"/>
<path class="c36" d="M4779 928l9-1 8-2 9-4 8-5 9-7 6-12-8 6-9 5-8 4-9 2-8 2z"/>
<path class="c54" d="M4587 868l20 2 6 2-20-1z"/>
<path class="c55" d="M4567 868l20 0 6 3-20 0z"/>
<path class="c56" d="M4546 869l21-1 6 3-20 1z"/>
<path class="c57" d="M4526 871l20-2 7 3-20 2z"/>
<path class="c58" d="M4506 874l20-3 7 3-20 3z"/>
<path class="c59" d="M4466 881l20-4 20-3 7 3-20 4-20 4z"/>
<path class="c60" d="M4426 891l20-5 20-5 7 4-21 5-20 5z"/>
<path class="c61" d="M4406 897l20-6 6 4-20 6z"/>
<path class="c54" d="M5045 683l18-14 7 3-19 13zM4593 871l20 1 7 1-20 0z"/>
<path class="c53" d="M5027 697l18-14 6 2-18 14zM4613 872l21 2 6 1-20-2z"/>
<path class="c52" d="M5008 712l19-15 6 2-18 14zM4634 874l8 2 6 0-8-1z"/>
<path class="c51" d="M4990 728l18-16 7 1-18 16zM4642 876l8 1 7 1-9-2z"/>
<path class="c50" d="M4972 744l18-16 7 1-18 16zM4650 877l9 2 8 3 7-1-9-2-8-1z"/>
<path class="c49" d="M4955 761l9-8 8-9 7 1-9 8-8 8zM4667 882l9 2 6-1-8-2z"/>
<path class="c48" d="M4947 770l8-9 7 0-9 8zM4676 884l8 3 7-2-9-2z"/>
<path class="c47" d="M4930 788l8-9 9-9 6-1-8 8-9 9zM4684 887l9 3 6-2-8-3z"/>
<path class="c46" d="M4921 797l9-9 6-2-8 9zM4693 890l8 4 7-4-9-2z"/>
<path class="c45" d="M4904 817l9-10 8-10 7-2-9 9-8 9zM4701 894l9 3 8 3 7-4-9-3-8-3z"/>
<path class="c44" d="M4896 827l8-10 7-4-9 9zM4718 900l9 4 6-6-8-2z"/>
<path class="c43" d="M4887 837l9-10 6-5-8 9zM4727 904l8 3 7-6-9-3z"/>
<path class="c42" d="M4870 856l9-10 8-9 7-6-9 9-8 9zM4735 907l9 3 6-7-8-2z"/>
<path class="c41" d="M4862 865l8-9 7-7-8 9zM4744 910l8 3 8 2 7-9-8-2-9-1z"/>
<path class="c40" d="M4845 883l9-9 8-9 7-7-9 8-8 8zM4760 915l9 1 6-10-8 0z"/>
<path class="c39" d="M4828 897l9-6 8-8 7-9-9 7-8 6zM4769 916l8 0 9 0 8-2 7-10-9 1-8 1-9 0z"/>
<path class="c38" d="M4794 914l9-2 8-4 9-5 8-6 7-10-9 6-8 4-9 4-8 3z"/>
<path class="c55" d="M4573 871l20 0 7 2-20 1z"/>
<path class="c56" d="M4553 872l20-1 7 3-20 1z"/>
<path class="c57" d="M4533 874l20-2 7 3-21 3z"/>
<path class="c58" d="M4513 877l20-3 6 4-20 3z"/>
<path class="c59" d="M4473 885l20-4 20-4 6 4-20 4-20 4z"/>
<path class="c60" d="M4432 895l20-5 21-5 6 4-20 5-20 5z"/>
<path class="c61" d="M4412 901l20-6 7 4-20 6z"/>
<path class="c54" d="M5051 685l19-13 6 2-18 13zM4600 873l20 0 6 2-20 0z"/>
<path class="c53" d="M5033 699l18-14 7 2-18 14zM4620 873l20 2 7 1-21-1z"/>
<path class="c52" d="M4997 729l18-16 18-14 7 2-18 14-19 15zM4640 875l8 1 9 2 6 0-8-1-8-1z"/>
<path class="c51" d="M4979 745l18-16 6 1-18 15zM4657 878l8 1 7 0-9-1z"/>
<path class="c50" d="M4970 753l9-8 6 0-8 8zM4665 879l9 2 8 2 7-1-9-1-8-2z"/>
<path class="c49" d="M4953 769l9-8 8-8 7 0-9 8-8 7zM4682 883l9 2 6-1-8-2z"/>
<path class="c48" d="M4936 786l9-9 8-8 7-1-9 8-8 9zM4691 885l8 3 7-2-9-2z"/>
<path class="c47" d="M4928 795l8-9 7-1-9 8zM4699 888l9 2 8 3 7-4-9-1-8-2z"/>
<path class="c46" d="M4911 813l8-9 9-9 6-2-8 8-9 9zM4716 893l9 3 6-5-8-2z"/>
<path class="c45" d="M4902 822l9-9 6-3-8 8zM4725 896l8 2 7-5-9-2z"/>
<path class="c44" d="M4885 840l9-9 8-9 7-4-9 9-8 8zM4733 898l9 3 8 2 7-7-9-1-8-2z"/>
<path class="c43" d="M4869 858l8-9 8-9 7-5-8 8-9 8zM4750 903l9 1 6-7-8-1z"/>
<path class="c42" d="M4860 866l9-8 6-7-8 8zM4759 904l8 2 8 0 7-8-8 0-9-1z"/>
<path class="c41" d="M4835 887l8-6 9-7 8-8 7-7-9 7-8 6-9 6zM4775 906l9 0 8-1 7-9-9 1-8 1z"/>
<path class="c40" d="M4792 905l9-1 8-3 9-4 8-4 9-6 6-9-8 5-9 5-8 3-9 3-8 2z"/>
<path class="c56" d="M4580 874l20-1 6 2-20 1z"/>
<path class="c57" d="M4539 878l21-3 20-1 6 2-20 2-20 3z"/>
<path class="c58" d="M4519 881l20-3 7 3-20 4z"/>
<path class="c59" d="M4479 889l20-4 20-4 7 4-20 4-20 4z"/>
<path class="c60" d="M4439 899l20-5 20-5 7 4-21 5-20 6z"/>
<path class="c61" d="M4419 905l20-6 6 5-20 5z"/>
<path class="c54" d="M5040 701l18-14 18-13 7 3-18 13-19 13zM4626 875l21 1 6 2-20-1z"/>
<path class="c53" d="M5022 715l18-14 6 2-18 14zM4647 876l8 1 7 1-9 0z"/>
<path class="c52" d="M5003 730l19-15 6 2-18 14zM4655 877l8 1 9 1 6 0-8 0-8-1z"/>
<path class="c51" d="M4985 745l18-15 7 1-18 15zM4672 879l8 2 7-1-9-1z"/>
<path class="c50" d="M4968 761l9-8 8-8 7 1-9 7-8 7zM4680 881l9 1 8 2 7-2-9-1-8-1z"/>
<path class="c49" d="M4951 776l9-8 8-7 7-1-9 8-8 8zM4697 884l9 2 6-2-8-2z"/>
<path class="c48" d="M4934 793l9-8 8-9 7 0-9 7-8 8zM4706 886l8 2 9 1 6-3-8-1-9-1z"/>
<path class="c47" d="M4917 810l9-9 8-8 7-2-9 8-8 8zM4723 889l8 2 7-3-9-2z"/>
<path class="c46" d="M4900 827l9-9 8-8 7-3-9 8-8 8zM4731 891l9 2 8 2 7-5-9-1-8-1z"/>
<path class="c45" d="M4892 835l8-8 7-4-8 7zM4748 895l9 1 6-5-8-1z"/>
<path class="c44" d="M4875 851l9-8 8-8 7-5-9 8-8 7zM4757 896l8 1 9 1 6-7-8 0-9 0z"/>
<path class="c43" d="M4850 872l8-6 9-7 8-8 7-6-9 7-8 7-9 6zM4774 898l8 0 8-1 7-7-9 1-8 0z"/>
<path class="c42" d="M4790 897l9-1 8-2 9-3 8-3 9-5 8-5 9-6 6-7-8 5-9 5-8 4-9 4-8 3-9 2-8 2z"/>
<path class="c55" d="M4606 875l20 0 7 2-20 1z"/>
<path class="c56" d="M4586 876l20-1 7 3-20 1z"/>
<path class="c57" d="M4566 878l20-2 7 3-20 3z"/>
<path class="c58" d="M4526 885l20-4 20-3 7 4-21 3-20 3z"/>
<path class="c59" d="M4506 889l20-4 6 3-20 5z"/>
<path class="c60" d="M4465 898l21-5 20-4 6 4-20 4-20 5z"/>
<path class="c61" d="M4425 909l20-5 20-6 7 4-20 6-20 6z"/>
<path class="c55" d="M5065 690l18-13 6 3-18 12zM4613 878l20-1 6 2-20 1z"/>
<path class="c54" d="M5046 703l19-13 6 2-18 13zM4633 877l20 1 7 1-21 0z"/>
<path class="c53" d="M5028 717l18-14 7 2-18 13zM4653 878l9 0 8 1 7 0-9 0-8 0z"/>
<path class="c52" d="M4992 746l18-15 18-14 7 1-19 14-18 15zM4670 879l8 0 9 1 6 0-8 0-8-1z"/>
<path class="c51" d="M4975 760l8-7 9-7 6 1-8 6-9 8zM4687 880l8 1 7 0-9-1z"/>
<path class="c50" d="M4958 776l8-8 9-8 6 1-8 7-9 7zM4695 881l9 1 8 2 7-2-9-1-8 0z"/>
<path class="c49" d="M4941 791l8-8 9-7 6-1-8 7-9 8zM4712 884l9 1 8 1 7-2-9-1-8-1z"/>
<path class="c48" d="M4924 807l8-8 9-8 6-1-8 7-9 7zM4729 886l9 2 6-3-8-1z"/>
<path class="c47" d="M4907 823l8-8 9-8 6-3-8 8-9 7zM4738 888l8 1 9 1 6-4-8-1-9 0z"/>
<path class="c46" d="M4890 838l9-8 8-7 6-4-8 7-8 7zM4755 890l8 1 9 0 6-5-8 0-9 0z"/>
<path class="c45" d="M4873 852l9-7 8-7 7-5-9 7-8 7zM4772 891l8 0 8 0 7-7-8 1-9 1z"/>
<path class="c44" d="M4788 891l9-1 8-2 9-2 8-3 9-4 8-4 9-5 8-5 9-6 8-7 7-5-9 6-8 5-9 6-8 4-9 4-8 4-9 3-8 2-9 2-8 1z"/>
<path class="c56" d="M4593 879l20-1 6 2-20 2z"/>
<path class="c57" d="M4573 882l20-3 6 3-20 3z"/>
<path class="c58" d="M4532 888l20-3 21-3 6 3-20 3-20 4z"/>
<path class="c59" d="M4512 893l20-5 7 4-20 4z"/>
<path class="c60" d="M4472 902l20-5 20-4 7 3-20 5-20 5z"/>
<path class="c61" d="M4432 914l20-6 20-6 7 4-21 6-20 6z"/>
<path class="c55" d="M5071 692l18-12 7 2-18 12zM4619 880l20-1 7 2-20 2z"/>
<path class="c54" d="M5035 718l18-13 18-13 7 2-19 13-18 13zM4639 879l21 0 8 0 7 1-9 0-20 1z"/>
<path class="c53" d="M5016 732l19-14 6 2-18 13zM4668 879l9 0 8 1 7 0-9 0-8 0z"/>
<path class="c52" d="M4990 753l8-6 18-15 7 1-18 14-9 7zM4685 880l8 0 9 1 6-1-8 0-8 0z"/>
<path class="c51" d="M4973 768l8-7 9-8 6 1-8 7-9 7zM4702 881l8 0 9 1 6-1-8 0-9-1z"/>
<path class="c50" d="M4956 782l8-7 9-7 6 0-8 6-9 7zM4719 882l8 1 7-2-9 0z"/>
<path class="c49" d="M4930 804l9-7 8-7 9-8 6-1-8 7-9 7-8 7zM4727 883l9 1 8 1 7-3-9 0-8-1z"/>
<path class="c48" d="M4913 819l9-7 8-8 7-2-9 7-8 7zM4744 885l9 0 8 1 7-4-9 0-8 0z"/>
<path class="c47" d="M4897 833l8-7 8-7 7-3-8 7-9 6zM4761 886l9 0 8 0 7-5-9 1-8 0z"/>
<path class="c46" d="M4863 858l8-5 9-6 8-7 9-7 6-4-8 7-9 6-8 6-9 5zM4778 886l9-1 8-1 8-1 7-5-8 1-9 1-8 1z"/>
<path class="c45" d="M4803 883l9-2 8-2 9-3 8-4 9-4 8-4 9-6 6-5-8 5-9 4-8 4-9 4-8 3-9 3-8 2z"/>
<path class="c56" d="M4599 882l20-2 7 3-20 2z"/>
<path class="c57" d="M4579 885l20-3 7 3-20 3z"/>
<path class="c58" d="M4559 888l20-3 7 3-20 4z"/>
<path class="c59" d="M4519 896l20-4 20-4 7 4-21 4-20 4z"/>
<path class="c60" d="M4479 906l20-5 20-5 6 4-20 5-20 6z"/>
<path class="c61" d="M4438 918l20-6 21-6 6 5-20 5-20 6z"/>
<path class="c55" d="M5059 707l19-13 18-12 6 3-18 12-18 12zM4646 881l20-1 7 2-20 1z"/>
<path class="c54" d="M5041 720l18-13 7 2-18 13zM4666 880l9 0 8 0 7 1-9 0-8 1z"/>
<path class="c53" d="M5005 747l18-14 18-13 7 2-19 13-18 13zM4683 880l9 0 8 0 7 0-9 1-8 0z"/>
<path class="c52" d="M4988 761l8-7 9-7 6 1-8 7-9 6zM4700 880l8 0 9 1 6-1-8 0-8 0z"/>
<path class="c51" d="M4962 781l9-7 8-6 9-7 6 0-8 7-9 6-8 7zM4717 881l8 0 9 0 6-1-8 0-9 0z"/>
<path class="c50" d="M4945 795l9-7 8-7 7 0-9 6-8 7zM4734 881l8 1 9 0 6-2-8 0-9 0z"/>
<path class="c49" d="M4920 816l8-7 9-7 8-7 7-1-9 7-8 6-8 7zM4751 882l8 0 9 0 6-3-8 0-9 1z"/>
<path class="c48" d="M4895 836l8-7 9-6 8-7 7-2-9 6-8 6-9 6zM4768 882l8 0 9-1 8-1 7-4-9 1-8 1-9 1z"/>
<path class="c47" d="M4861 858l8-5 9-5 8-6 9-6 6-4-8 6-9 5-8 5-9 5zM4793 880l9-1 8-1 8-2 9-3 6-5-8 3-8 2-9 2-8 1z"/>
<path class="c46" d="M4827 873l8-3 9-4 8-4 9-4 6-5-8 5-9 4-8 3-9 3z"/>
<path class="c56" d="M4626 883l20-2 7 2-21 2z"/>
<path class="c57" d="M4586 888l20-3 20-2 6 2-20 3-20 3z"/>
<path class="c58" d="M4566 892l20-4 6 3-20 4z"/>
<path class="c59" d="M4525 900l20-4 21-4 6 3-20 4-20 5z"/>
<path class="c60" d="M4485 911l20-6 20-5 7 4-20 5-20 6z"/>
<path class="c61" d="M4445 922l20-6 20-5 7 4-21 5-20 6z"/>
<path class="c56" d="M5084 697l18-12 16 6-18 11zM4632 885l21-2 20-1 15 4-20 2-20 3z"/>
<path class="c55" d="M5048 722l18-13 18-12 16 5-19 12-18 12zM4673 882l8-1 16 4-9 1z"/>
<path class="c54" d="M5029 735l19-13 15 4-18 12zM4681 881l9 0 8 0 9-1 15 2-8 1-9 1-8 1z"/>
<path class="c53" d="M4994 761l9-6 8-7 18-13 16 3-18 13-9 6-8 6zM4707 880l8 0 8 0 16 0-9 1-8 1z"/>
<path class="c52" d="M4969 781l8-7 9-6 8-7 16 2-9 6-8 6-9 6zM4723 880l9 0 8 0 9 0 15-2-8 1-9 0-8 1z"/>
<path class="c51" d="M4943 801l9-7 8-7 9-6 15 0-8 5-9 6-8 6zM4749 880l8 0 9-1 15-3-8 1-9 1z"/>
<path class="c50" d="M4918 820l9-6 8-7 8-6 16-3-8 6-9 6-8 5zM4766 879l8 0 9-1 8-1 16-6-9 2-8 1-9 2z"/>
<path class="c49" d="M4867 853l9-5 8-5 9-5 8-6 9-6 8-6 16-5-9 6-8 5-9 5-8 5-9 5-8 4zM4791 877l9-1 8-1 9-2 8-2 8-3 16-8-8 3-9 2-8 2-9 3-8 1z"/>
<path class="c48" d="M4833 868l9-3 8-3 9-4 8-5 16-8-9 4-8 4-9 4-8 3z"/>
<path class="c57" d="M4612 888l20-3 16 6-20 4z"/>
<path class="c58" d="M4592 891l20-3 16 7-20 4z"/>
<path class="c59" d="M4552 899l20-4 20-4 16 8-20 4-21 5z"/>
<path class="c60" d="M4512 909l20-5 20-5 15 9-20 5-20 6z"/>
<path class="c61" d="M4451 926l20-6 21-5 20-6 15 10-20 5-20 6-20 6z"/>
<path class="c56" d="M5081 714l19-12 18-11 15 7-18 11-18 11zM4668 888l20-2 9-1 8-1 16 3-9 2-8 1-20 4z"/>
<path class="c55" d="M5045 738l18-12 18-12 16 6-18 11-19 12zM4705 884l9-1 8-1 8-1 16 2-8 2-9 1-8 1z"/>
<path class="c54" d="M5001 769l9-6 8-6 9-6 18-13 15 5-18 11-8 6-9 5-8 6zM4730 881l9-1 8-1 9 0 15 0-8 1-9 2-8 1z"/>
<path class="c53" d="M4967 792l9-6 8-5 9-6 8-6 16 2-9 5-8 6-9 5-8 5zM4756 879l8-1 9-1 8-1 16-2-9 2-8 1-9 2z"/>
<path class="c52" d="M4934 815l8-5 9-6 8-6 8-6 16 0-8 6-9 5-8 5-9 5zM4781 876l9-2 8-1 9-2 8-1 16-4-9 2-8 2-9 2-8 2z"/>
<path class="c51" d="M4815 870l9-3 8-2 9-2 8-3 8-3 9-4 8-4 9-4 8-4 9-5 8-5 9-5 8-5 9-6 15-2-8 5-9 5-8 5-9 4-8 5-9 4-8 4-9 3-8 4-9 3-8 3-8 3-9 3-8 2z"/>
<path class="c57" d="M4648 891l20-3 16 6-21 4z"/>
<path class="c58" d="M4608 899l20-4 20-4 15 7-20 4-20 5z"/>
<path class="c59" d="M4588 903l20-4 15 8-20 5z"/>
<path class="c60" d="M4527 919l20-6 20-5 21-5 15 9-20 5-20 5-20 6z"/>
<path class="c61" d="M4487 930l20-6 20-5 16 9-20 6-21 6z"/>
<path class="c62" d="M4467 936l20-6 15 10-20 6z"/>
<path class="c57" d="M5097 720l18-11 18-11 16 6-18 11-19 11zM4684 894l20-4 8-1 16 5-9 1-20 5z"/>
<path class="c56" d="M5060 743l19-12 18-11 15 6-18 11-18 10zM4712 889l9-2 8-1 9-1 8-2 16 3-9 2-8 2-9 2-8 2z"/>
<path class="c55" d="M5008 776l9-5 8-6 9-5 8-6 18-11 16 4-18 11-9 6-8 5-9 5-8 5zM4746 883l8-1 9-2 8-1 9-2 15 2-8 2-9 2-8 1-8 2z"/>
<path class="c54" d="M4966 803l9-5 8-6 8-5 9-5 8-6 16 3-9 5-8 5-9 5-8 5-8 5zM4780 877l8-1 9-2 8-2 9-2 15 0-8 2-9 3-8 2-9 2z"/>
<path class="c53" d="M4814 870l8-2 9-2 8-2 9-3 8-3 8-3 9-3 8-4 9-3 8-4 9-4 8-5 9-4 8-5 9-5 8-5 9-5 8-5 16 1-9 5-8 4-9 5-8 4-9 5-8 4-9 4-8 4-9 4-8 4-9 3-8 3-8 4-9 3-8 2-9 3-8 3-9 2z"/>
<path class="c58" d="M4643 902l20-4 21-4 15 6-20 5-20 4z"/>
<path class="c59" d="M4603 912l20-5 20-5 16 7-20 6-20 5z"/>
<path class="c60" d="M4563 922l20-5 20-5 16 8-21 6-20 5z"/>
<path class="c61" d="M4502 940l21-6 20-6 20-6 15 9-20 6-20 7-20 6z"/>
<path class="c62" d="M4482 946l20-6 16 10-20 7z"/>
<path class="c58" d="M5131 715l18-11 15 7-18 11zM4679 905l20-5 20-5 9-1 15 5-8 2-20 5-21 6z"/>
<path class="c57" d="M5076 747l18-10 18-11 19-11 15 7-18 10-18 10-19 11zM4728 894l8-2 9-2 8-2 9-2 15 5-8 2-9 2-8 2-9 2z"/>
<path class="c56" d="M5024 779l8-5 9-5 8-5 9-6 18-11 15 6-18 10-8 5-9 5-8 5-9 5zM4762 886l8-2 8-1 9-2 8-2 9-2 15 2-8 3-9 2-8 2-8 2-9 3z"/>
<path class="c55" d="M4956 818l9-5 8-4 9-5 8-5 8-5 9-5 8-5 9-5 15 4-8 4-9 5-8 5-8 4-9 5-8 5-9 4-8 4zM4804 877l8-2 9-3 8-2 9-2 8-3 9-3 8-2 16 0-9 3-8 3-9 3-8 3-9 2-8 3-9 2z"/>
<path class="c54" d="M4863 860l9-3 8-4 8-3 9-3 8-4 9-4 8-4 9-4 8-4 9-5 8-4 16 1-9 5-8 4-9 4-8 4-9 4-8 4-9 3-8 4-8 3-9 3-8 3z"/>
<path class="c59" d="M4639 915l20-6 20-4 15 7-20 5-20 6z"/>
<path class="c60" d="M4598 926l21-6 20-5 15 8-20 5-20 6z"/>
<path class="c61" d="M4538 944l20-7 20-6 20-5 16 8-20 6-20 7-20 6z"/>
<path class="c62" d="M4498 957l20-7 20-6 16 9-20 7-21 7z"/>
<path class="c58" d="M5110 742l18-10 18-10 18-11 16 8-18 10-19 10-18 10zM4735 901l8-2 9-2 8-2 9-2 8-2 16 5-9 2-8 2-9 3-8 2-9 3z"/>
<path class="c57" d="M5039 783l9-5 8-5 9-5 8-5 18-10 19-11 15 7-18 10-18 10-9 4-8 5-9 5-8 4zM4777 891l9-3 8-2 8-2 9-2 8-3 9-2 15 3-8 3-9 3-8 2-9 3-8 2-8 3z"/>
<path class="c56" d="M4828 877l8-3 9-2 8-3 9-3 8-3 9-3 8-3 9-3 8-3 8-4 9-3 8-4 9-4 8-4 9-4 8-4 9-5 8-4 9-4 8-5 9-5 8-4 8-5 9-5 8-4 16 4-9 5-8 4-8 5-9 4-8 5-9 4-8 4-9 4-8 4-9 4-8 4-9 4-8 4-9 4-8 3-8 4-9 3-8 4-9 3-8 3-9 3-8 3-9 3-8 3-9 2z"/>
<path class="c59" d="M4674 917l20-5 21-6 20-5 15 7-20 5-20 6-20 6z"/>
<path class="c60" d="M4634 928l20-5 20-6 16 8-20 6-20 6z"/>
<path class="c61" d="M4574 947l20-7 20-6 20-6 16 9-20 6-21 7-20 6z"/>
<path class="c62" d="M4513 967l21-7 20-7 20-6 15 9-20 7-20 7-20 7z"/>
<path class="c59" d="M5143 739l19-10 18-10 15 7-18 10-18 10zM4730 913l20-5 9-3 8-2 9-3 15 7-8 2-9 3-8 3-20 6z"/>
<path class="c58" d="M5072 778l8-5 9-4 18-10 18-10 18-10 16 7-18 9-18 10-19 10-8 4-9 5zM4776 900l8-2 9-2 8-3 8-2 9-3 8-2 9-3 15 5-8 3-9 2-8 3-8 3-9 2-8 3-9 3z"/>
<path class="c57" d="M4835 883l8-3 9-2 8-3 9-3 8-3 9-3 8-3 9-3 8-4 9-3 8-4 8-3 9-4 8-4 9-4 8-4 9-4 8-4 9-4 8-4 9-4 8-5 9-4 8-5 8-4 9-5 8-4 9-5 15 6-8 4-9 5-8 4-8 4-9 5-8 4-9 4-8 4-9 4-8 4-9 4-8 4-9 4-8 4-9 4-8 3-9 4-8 4-8 3-9 3-8 4-9 3-8 3-9 3-8 3-9 3-8 3-9 3z"/>
<path class="c60" d="M4670 931l20-6 20-6 20-6 16 8-20 6-21 6-20 6z"/>
<path class="c61" d="M4609 950l21-7 20-6 20-6 15 8-20 7-20 6-20 7z"/>
<path class="c62" d="M4529 977l20-7 20-7 20-7 20-6 16 9-20 7-20 7-20 7-21 7z"/>
<path class="c59" d="M5104 775l19-10 18-10 18-9 18-10 18-10 16 8-18 10-19 9-18 10-18 9-18 9zM4774 912l9-3 8-2 9-3 8-3 9-2 8-3 8-3 9-2 15 5-8 3-8 3-9 3-8 3-9 3-8 3-9 2-8 3z"/>
<path class="c58" d="M4842 891l8-3 9-3 8-3 9-3 8-3 9-3 8-3 9-3 8-4 9-3 8-3 8-4 9-4 8-3 9-4 8-4 9-4 8-4 9-4 8-4 9-4 8-4 9-4 8-4 9-5 8-4 8-4 9-5 8-4 9-5 8-4 16 6-9 5-8 4-9 4-8 5-9 4-8 4-8 4-9 4-8 4-9 4-8 5-9 3-8 4-9 4-8 4-9 4-8 4-9 3-8 4-8 3-9 4-8 3-9 4-8 3-9 3-8 3-9 3-8 3-9 3-8 3-9 3z"/>
<path class="c60" d="M4705 933l21-6 20-6 20-6 8-3 16 7-9 3-20 6-20 7-20 7z"/>
<path class="c61" d="M4645 952l20-6 20-7 20-6 16 9-20 6-20 7-20 7z"/>
<path class="c62" d="M4565 980l20-7 20-7 20-7 20-7 16 10-21 7-20 6-20 7-20 8z"/>
<path class="c63" d="M4544 987l21-7 15 10-20 7z"/>
<path class="c60" d="M5174 753l19-9 18-10 15 8-18 10-18 9zM4761 928l20-6 9-3 8-3 9-2 8-3 9-3 15 7-8 3-9 3-8 3-9 3-8 3-20 6z"/>
<path class="c59" d="M5044 819l8-4 9-4 8-4 8-4 9-4 8-5 9-4 8-4 9-5 18-9 18-9 18-10 16 8-18 9-18 9-19 9-8 5-9 4-8 4-9 4-8 4-8 4-9 4-8 5-9 4zM4824 908l8-3 9-3 8-3 8-3 9-3 8-3 9-3 8-3 9-3 8-3 9-3 8-3 9-4 15 6-8 3-9 4-8 3-9 3-8 3-9 4-8 3-9 3-8 3-9 3-8 3-8 3-9 3z"/>
<path class="c58" d="M4934 868l8-3 9-4 8-3 8-4 9-3 8-4 9-4 8-4 9-4 8-4 9-3 8-5 9-4 15 7-8 4-9 3-8 4-9 4-8 4-9 4-8 4-9 3-8 4-8 3-9 4-8 4-9 3z"/>
<path class="c61" d="M4681 955l20-7 20-6 20-7 20-7 16 8-20 7-21 7-20 7-20 7z"/>
<path class="c62" d="M4600 982l20-7 20-6 21-7 20-7 15 9-20 7-20 7-20 7-20 7z"/>
<path class="c63" d="M4560 997l20-7 20-8 16 10-20 8-21 7z"/>
<path class="c60" d="M5118 797l9-4 8-5 19-9 18-9 18-9 18-9 18-10 16 9-18 9-18 9-19 9-18 9-18 9-9 4-8 4zM4805 927l9-3 8-3 9-3 8-3 9-3 8-3 8-3 9-3 8-3 9-3 8-3 16 6-9 4-8 3-9 3-8 3-8 3-9 3-8 3-9 4-8 3-9 3-8 3z"/>
<path class="c59" d="M4898 894l9-4 8-3 9-3 8-3 9-4 8-3 9-3 8-4 9-4 8-3 8-4 9-3 8-4 9-4 8-4 9-4 8-4 9-3 8-4 9-4 8-5 9-4 8-4 8-4 9-4 8-4 16 7-9 4-8 4-8 4-9 4-8 4-9 4-8 4-9 4-8 4-9 4-8 4-9 4-8 3-9 4-8 4-9 3-8 4-8 3-9 4-8 3-9 4-8 3-9 4-8 3-9 3-8 3z"/>
<path class="c61" d="M4716 957l20-7 21-7 20-7 20-6 8-3 16 8-9 3-20 7-20 7-20 7-20 7z"/>
<path class="c62" d="M4636 985l20-7 20-7 20-7 20-7 16 9-20 7-20 7-21 8-20 7z"/>
<path class="c63" d="M4575 1007l21-7 20-8 20-7 15 10-20 7-20 8-20 7z"/>
<path class="c61" d="M5206 769l18-9 18-9 15 8-18 9-18 9zM4772 952l20-7 20-7 9-3 8-3 9-3 8-3 9-4 8-3 16 8-9 3-8 4-9 3-8 3-9 3-8 3-20 7-20 8z"/>
<path class="c60" d="M4863 919l9-3 8-3 8-3 9-3 8-3 9-4 8-3 9-3 8-3 9-4 8-3 9-4 8-3 9-4 8-3 8-4 9-3 8-4 9-4 8-3 9-4 8-4 9-4 8-4 9-4 8-4 9-4 8-4 9-4 8-4 8-4 9-4 8-4 9-4 18-9 18-9 19-9 15 8-18 9-18 9-19 9-8 4-9 4-8 4-9 4-8 4-8 4-9 4-8 4-9 4-8 3-9 4-8 4-9 4-8 4-9 3-8 4-9 4-8 3-8 4-9 3-8 4-9 4-8 3-9 3-8 4-9 3-8 4-9 3-8 3-9 3-8 4-8 3-9 3-8 3z"/>
<path class="c62" d="M4671 988l21-8 20-7 20-7 20-7 20-7 16 9-21 7-20 7-20 8-20 7-20 7z"/>
<path class="c63" d="M4591 1017l20-7 20-8 20-7 20-7 16 9-20 8-20 7-20 8-21 7z"/>
<path class="c61" d="M5149 812l9-4 8-4 19-9 18-9 18-9 18-9 18-9 16 9-18 9-18 9-19 8-18 9-18 9-9 4-8 4zM4828 946l8-3 9-3 8-3 9-3 8-4 9-3 8-3 9-3 8-3 8-4 9-3 8-3 9-3 8-4 9-3 15 8-8 3-9 3-8 4-9 3-8 3-8 4-9 3-8 3-9 3-8 4-9 3-8 3-9 3-8 4-9 3z"/>
<path class="c60" d="M4955 898l8-4 9-3 8-3 9-4 8-4 9-3 8-4 8-3 9-4 8-4 9-3 8-4 9-4 8-4 9-4 8-3 9-4 8-4 9-4 8-4 8-4 9-4 8-4 16 8-9 4-8 4-8 4-9 4-8 3-9 4-8 4-9 4-8 4-9 4-8 3-9 4-8 4-9 4-8 3-8 4-9 3-8 4-9 4-8 3-9 4-8 3-9 4z"/>
<path class="c62" d="M4707 990l20-7 20-8 20-7 21-7 20-8 20-7 15 9-20 7-20 8-20 7-20 8-20 7-20 8z"/>
<path class="c63" d="M4606 1027l21-7 20-8 20-7 20-8 20-7 16 10-21 7-20 8-20 7-20 8-20 8z"/></g></g>
<g class="axes"><path class="a" d="M412 143.6L412 62.8"/>
<path class="a" d="M412 143.6L462.2 181"/>
<path class="a" d="M462.2 181L527.3 152.3"/>
<path class="a" d="M412 62.8L413.6 62.1"/>
<path class="a" d="M412 83L413.6 82.3"/>
<path class="a" d="M412 103.2L413.6 102.5"/>
<path class="a" d="M412 123.4L413.6 122.7"/>
<path class="a" d="M412 143.6L413.6 142.9"/>
<path class="a" d="M412 143.6L413.6 142.9"/>
<path class="a" d="M437.1 162.3L438.7 161.6"/>
<path class="a" d="M462.2 181L463.8 180.3"/>
<path class="a" d="M462.2 181L460.9 180.1"/>
<path class="a" d="M494.8 166.7L493.5 165.7"/>
<path class="a" d="M527.3 152.3L526 151.4"/></g>
<text font-size="9.5" text-anchor="end" transform="matrix(0.7 0 0 1 408 64.8)">0</text>
<text font-size="9.5" text-anchor="end" transform="matrix(0.7 0 0 1 408 85)">-0.2</text>
<text font-size="9.5" text-anchor="end" transform="matrix(0.7 0 0 1 408 105.2)">-0.4</text>
<text font-size="9.5" text-anchor="end" transform="matrix(0.7 0 0 1 408 125.4)">-0.6</text>
<text font-size="9.5" text-anchor="end" transform="matrix(0.7 0 0 1 408 145.6)">-0.8</text>
<text font-size="9.5" text-anchor="end" transform="matrix(0.7 0 0 1 407.8 153.6)">5</text>
<text font-size="9.5" text-anchor="end" transform="matrix(0.7 0 0 1 432.9 172.3)">0</text>
<text font-size="9.5" text-anchor="end" transform="matrix(0.7 0 0 1 458 191)">-5</text>
<text font-size="9.5" transform="matrix(0.7 0 0 1 464.7 190.9)">-5</text>
<text font-size="9.5" transform="matrix(0.7 0 0 1 497.3 176.6)">0</text>
<text font-size="9.5" transform="matrix(0.7 0 0 1 529.8 162.2)">5</text>
<text font-size="9.5" text-anchor="middle" transform="matrix(0.7 0 0 1 430.5 192.7)">x<tspan font-size="6.8" dy="3">2</tspan></text>
<text font-size="9.5" text-anchor="middle" transform="matrix(0.7 0 0 1 496.5 194)">x<tspan font-size="6.8" dy="3">1</tspan></text>
<text font-size="9.5" text-anchor="middle" textLength="49.5" lengthAdjust="spacingAndGlyphs" transform="matrix(0 -1 0.7 0 388 103.5)">F22 ( x<tspan font-size="6.8" dy="3">1</tspan><tspan dy="-3"> , </tspan>x<tspan font-size="6.8" dy="3">2</tspan><tspan dy="-3"> )</tspan></text>
<text x="469.1" y="26.9" font-size="9.5" text-anchor="middle" textLength="52.5" lengthAdjust="spacingAndGlyphs">Parameter space</text>
<g class="grid"><path class="g" d="M217.6 285L291.5 254.4"/>
<path class="g" d="M217.6 307L291.5 276.4"/>
<path class="g" d="M217.6 329.1L291.5 298.5"/>
<path class="g" d="M217.6 351.1L291.5 320.5"/>
<path class="g" d="M217.6 373.2L291.5 342.6"/>
<path class="g" d="M254.6 357.9L254.6 269.7"/>
<path class="g" d="M291.5 342.6L291.5 254.4"/>
<path class="g" d="M291.5 254.4L348.3 296.1"/>
<path class="g" d="M291.5 276.4L348.3 318.1"/>
<path class="g" d="M291.5 298.5L348.3 340.2"/>
<path class="g" d="M291.5 320.5L348.3 362.2"/>
<path class="g" d="M291.5 342.6L348.3 384.3"/>
<path class="g" d="M319.9 363.4L319.9 275.2"/>
<path class="g" d="M348.3 384.3L348.3 296.1"/>
<path class="g" d="M254.6 357.9L311.4 399.6"/>
<path class="g" d="M291.5 342.6L348.3 384.3"/>
<path class="g" d="M246 394.1L319.9 363.4"/>
<path class="g" d="M217.6 373.2L291.5 342.6"/></g>
<g class="cont" transform="scale(.1)"><path stroke="#d72a2a" d="M2321 3672l1 3 3 5 1 3 3 4 2 4 2 4 2 4 3 3 2 4 3 4 2 4 3 4 2 4 4 5 2 2 3 5 2 3 4 5 3 4 3 3 4 5 2 3 4 4 4 5 3 3 4 4 5 5 4 4 3 3 4 4 5 5 5 4 5 4 5 5 3 2 5 4 6 5 5 4 6 4 6 4 6 4 6 4 4 3 5 3 6 4 6 4 7 4 7 4 3 2 7 3 7 4 4 2 6 3 8 4 3 1 8 4 7 3 4 2 8 3 4 2 8 3 5 1 8 4 4 1 8 3 5 2 5 1 8 3 5 1 7 3 7 1 4 2 8 2 7 1 4 2 7 1 8 2 6 1 5 2 6 1 8 1 7 2 5 1 6 1 5 1 7 1 7 1 8 1 7 1 6 1 6 1 7 0 6 1 6 1 7 0 6 1 7 0 7 1 6 0 7 1 7 0 7 0 6 0 6 0 6 1 5 0 8 0 8 0 8 0 5 0 6-1 5 0 9 0 8 0 5-1 6 0 8-1 7 0 6-1 7 0 8-1 5-1 8 0 7-1 5-1 10-1 5-1 8-1 6-1 7-1 7-1 7-2 7-1 8-2 5-1 9-2 5-1 9-2 6-1 7-2 8-2 5-1 8-2 8-3 8-2 5-2 8-2 8-3 8-2 8-3 4-1 7-3 8-3 8-3 7-3 8-3 7-3 7-3 8-3 7-3 7-3 7-4 7-3 4-2 7-3 6-4 7-3 7-4 6-3 4-2 7-4 6-3 6-4 4-2 6-4 7-3 3-2 6-4 6-4 4-2 6-4 6-4 3-2 6-4 4-3 5-3 6-4"/>
<path stroke="#eeae30" d="M2745 3496l-3 3-3 3-4 4-3 2-5 5-2 2-6 5-2 2-4 4-4 3-3 3-5 4-2 3-5 5-3 2-4 4-4 3-2 3-5 4-3 3-4 4-3 3-3 3-4 4-3 3-4 4-3 3-2 3-4 4-3 4-2 2-3 4-3 4-2 3-2 3-3 4-3 4-2 3-1 3-2 3-2 4-2 4-2 4-2 4-1 3-1 4-1 3-1 4-1 3-1 4 0 4-1 4 0 4-1 3 0 3 0 4 0 3 1 4 0 4 1 4 1 3 0 3 2 6 1 3 1 3 2 5 2 3 2 4 2 4 2 4 3 4 3 5 3 2 4 5 4 4 2 3 5 5 5 4 6 4 5 4 6 5 6 4 7 3 6 4 4 2 7 4 7 3 4 2 8 3 4 1 8 4 5 1 7 2 6 2 5 2 7 1 8 2 5 1 5 1 7 2 8 1 7 1 6 1 6 1 7 1 6 0 7 1 6 0 8 0 6 1 6 0 6 0 5 0 8-1 9 0 5 0 6-1 8 0 7-1 5-1 10-1 4-1 10-2 4 0 9-2 5-1 8-3 9-2 4-1 8-3 8-2 7-3 8-3 7-3 7-4 7-3 5-3 5-2 6-4 6-4 3-2 6-4 3-3 6-4 2-2 6-5 2-2 5-5 3-3 2-2 4-5 2-3 2-3 3-4 3-4 2-3 2-3 2-3 1-4 2-4 2-4 2-4 1-3 1-4 1-3 1-4 1-3 1-4 0-4 1-4 0-3 1-4 0-3 0-3 0-4 0-3 0-4 0-5 0-4 0-3-1-3 0-3-1-5 0-5-1-3 0-3-1-3-1-5-1-4-1-3-1-4-1-4-1-3-1-3-1-6-1-3-1-3-1-5-2-4-1-2-1-5-1-4-1-1"/>
<path stroke="#6cba61" d="M2957 3639l-6-3-7-3-4-2-8-3-5-2-9-2-4-2-5-1-8-2-8-1-6-1-6-1-6 0-7-1-7 0-7 0-6 0-5 0-6 0-10 1-5 0-6 1-9 1-4 1-9 2-9 2-4 2-8 2-8 3-7 3-7 3-7 4-5 2-5 3-6 4-3 3-5 4-3 2-4 5-3 3-2 2-3 5-3 4-2 3-1 3-2 3-1 4-1 3 0 4-1 4 0 4 0 4 0 4 1 3 1 3 1 5 2 4 1 3 3 5 2 2 3 5 5 5 2 2 5 5 5 4 6 4 6 4 5 3 5 3 8 3 4 2 7 3 5 1 9 3 4 2 6 1 8 2 7 1 6 1 5 1 6 1 7 0 7 1 7 0 7 0 7 0 6 0 5 0 8-1 8-1 5 0 9-2 5-1 9-1 4-2 9-2 8-2 7-3 8-3 7-4 6-3 6-4 4-2 6-4 2-2 6-5 2-3 3-3 4-4 2-3 2-3 2-4 2-4 2-4 1-4 1-3 0-4 1-3 0-4 0-3 0-3-1-5-1-4-1-3-1-3-2-5-2-3-3-5-2-3-4-5-4-4-2-3-5-4-6-4-6-4-6-4-4-3"/>
<path stroke="#31a0d0" d="M2906 3665l-5-2-6-2-8-2-5-1-5-1-7-1-7-1-6 0-6 0-8 0-8 0-6 0-5 1-10 2-4 1-9 2-8 2-7 3-7 4-6 4-3 2-6 4-3 2-4 5-2 3-2 3-2 3-1 4-1 3-1 4 0 4 1 4 1 5 1 2 2 5 2 3 4 5 2 3 5 4 5 4 7 4 4 3 6 3 8 2 5 2 5 2 8 2 7 1 6 1 6 0 7 1 7 0 7 0 5 0 6 0 10-1 5-1 9-2 4-1 8-3 8-2 7-4 6-3 3-2 6-5 3-2 5-5 2-3 2-2 2-4 2-4 1-4 0-4 0-3 0-3 0-5-2-4-1-3-3-5-2-3-4-4-5-5-5-4-6-4-7-4-7-3"/>
<path stroke="#2c3bac" d="M2888 3694l-6-3-8-3-5-2-6-1-7-1-6 0-6 0-10 0-5 1-9 3-7 3-6 3-5 4-3 3-2 3-1 4-1 3 1 5 1 4 1 2 4 5 6 4 6 4 4 2 9 3 5 1 6 1 7 0 8 0 6-1 5 0 9-2 8-3 6-4 5-3 3-4 2-2 2-3 1-4 0-4-1-5-2-3-4-5-3-3-2-2"/></g>
<g filter="url(#bl)"><g class="surf" transform="scale(.1)"><path class="c44" d="M2894 2778l21-10 16 14-21 11zM2706 2846l9-3 10-2 10-3 9-3 10-3 10-3 9-3 10-3 9-3 16 17-9 3-10 4-10 3-9 3-10 3-9 3-10 3-10 3-9 3z"/>
<path class="c43" d="M2792 2820l10-3 10-4 20-8 21-8 21-9 20-10 16 15-20 10-21 9-21 9-21 8-9 4-10 4z"/>
<path class="c45" d="M2658 2857l9-2 10-2 10-3 9-2 10-2 16 19-10 2-9 3-10 2-10 2-9 3z"/>
<path class="c46" d="M2619 2864l10-2 10-1 9-2 10-2 16 20-10 2-9 2-10 1-10 2z"/>
<path class="c47" d="M2591 2868l9-1 10-1 9-2 16 20-9 1-10 2-10 1z"/>
<path class="c48" d="M2552 2873l10-1 9-1 10-1 10-2 15 20-9 1-10 1-9 1-10 1z"/>
<path class="c49" d="M2533 2875l10-1 9-1 16 19-10 1-9 1z"/>
<path class="c50" d="M2504 2878l10-1 9-1 10-1 16 19-10 1-9 0-10 1z"/>
<path class="c51" d="M2475 2881l10-1 10-1 9-1 16 18-10 1-9 0-10 1z"/>
<path class="c52" d="M2446 2884l10-1 10-1 9-1 16 17-9 1-10 0-10 1z"/>
<path class="c53" d="M2427 2886l10-1 9-1 16 16-9 1-10 0z"/>
<path class="c54" d="M2404 2888l23-2 16 15-23 3z"/>
<path class="c55" d="M2359 2894l23-3 22-3 16 16-23 2-22 3z"/>
<path class="c56" d="M2336 2898l23-4 16 15-23 3z"/>
<path class="c57" d="M2290 2906l23-4 23-4 16 14-23 3-23 4z"/>
<path class="c58" d="M2245 2915l22-5 23-4 16 13-23 4-23 5z"/>
<path class="c59" d="M2222 2920l23-5 15 13-22 5z"/>
<path class="c60" d="M2176 2931l23-6 23-5 16 13-23 5-23 5z"/>
<path class="c43" d="M2731 2862l10-3 10-3 9-3 10-3 9-3 10-3 10-4 9-3 10-4 9-4 21-8 21-9 21-9 20-10 21-11 16 14-21 11-21 11-20 9-21 10-21 9-9 4-10 3-9 4-10 4-10 4-9 3-10 4-10 3-9 3-10 3z"/>
<path class="c44" d="M2674 2877l9-3 10-2 10-2 9-3 10-2 9-3 16 19-9 3-10 3-10 3-9 3-10 2-9 3z"/>
<path class="c45" d="M2635 2884l10-2 10-1 9-2 10-2 16 21-10 2-10 2-9 2-10 1z"/>
<path class="c46" d="M2606 2888l10-1 10-2 9-1 16 21-9 2-10 1-10 1z"/>
<path class="c47" d="M2578 2891l9-1 10-1 9-1 16 21-9 1-10 1-9 1z"/>
<path class="c48" d="M2549 2894l9-1 10-1 10-1 16 21-10 1-10 0-9 1z"/>
<path class="c49" d="M2520 2896l10-1 9 0 10-1 16 20-10 0-9 0-10 1z"/>
<path class="c50" d="M2501 2897l9 0 10-1 16 19-10 0-9 0z"/>
<path class="c51" d="M2472 2899l10 0 9-1 10-1 16 18-10 1-10 0-9 0z"/>
<path class="c52" d="M2453 2901l9-1 10-1 16 17-10 1-9 0z"/>
<path class="c53" d="M2420 2904l23-3 10 0 16 16-10 1-23 1z"/>
<path class="c54" d="M2397 2906l23-2 16 15-23 2z"/>
<path class="c55" d="M2375 2909l22-3 16 15-22 2z"/>
<path class="c56" d="M2329 2915l23-3 23-3 16 14-23 3-23 3z"/>
<path class="c57" d="M2306 2919l23-4 16 14-23 3z"/>
<path class="c58" d="M2260 2928l23-5 23-4 16 13-23 4-23 5z"/>
<path class="c59" d="M2215 2938l23-5 22-5 16 13-23 4-22 5z"/>
<path class="c60" d="M2192 2943l23-5 16 12-23 6z"/>
<path class="c43" d="M2864 2837l21-10 20-9 21-11 21-11 16 13-21 12-21 11-20 10-21 10zM2680 2900l10-2 9-3 10-2 9-3 10-3 10-3 9-3 10-3 9-3 16 19-9 4-10 4-9 3-10 3-10 4-9 3-10 2-9 3-10 2z"/>
<path class="c42" d="M2766 2875l10-3 10-4 9-3 10-4 10-4 9-4 10-3 9-4 21-9 16 15-21 10-9 4-10 4-10 4-9 5-10 4-9 4-10 3-10 4z"/>
<path class="c44" d="M2642 2907l9-2 10-1 9-2 10-2 16 22-10 3-9 2-10 1-9 2z"/>
<path class="c45" d="M2613 2910l9-1 10-1 10-1 16 23-10 1-10 1-9 1z"/>
<path class="c46" d="M2584 2913l10-1 9-1 10-1 16 23-10 1-10 0-9 0z"/>
<path class="c47" d="M2565 2914l9-1 10 0 16 21-10 1-9 0z"/>
<path class="c48" d="M2546 2914l9 0 10 0 16 21-10 0-10 0z"/>
<path class="c49" d="M2517 2915l9 0 10 0 10-1 15 21-9-1-10 0-9 0z"/>
<path class="c50" d="M2497 2916l10 0 10-1 16 19-10 0-10 0z"/>
<path class="c51" d="M2478 2917l10-1 9 0 16 18-9 0-10 0z"/>
<path class="c52" d="M2459 2918l10-1 9 0 16 17-9 0-10 0z"/>
<path class="c53" d="M2436 2919l23-1 16 16-23 1z"/>
<path class="c54" d="M2413 2921l23-2 16 16-23 1z"/>
<path class="c55" d="M2368 2926l23-3 22-2 16 15-23 2-22 2z"/>
<path class="c56" d="M2345 2929l23-3 16 14-23 2z"/>
<path class="c57" d="M2322 2932l23-3 16 13-23 4z"/>
<path class="c58" d="M2276 2941l23-5 23-4 16 14-23 3-23 4z"/>
<path class="c59" d="M2231 2950l22-5 23-4 16 12-23 5-22 5z"/>
<path class="c60" d="M2208 2956l23-6 16 13-23 5z"/>
<path class="c43" d="M2921 2832l21-11 21-12 16 13-21 12-21 11zM2648 2931l10-1 9-2 10-1 16 25-10 2-10 1-9 1z"/>
<path class="c42" d="M2677 2927l9-2 10-3 10-2 9-3 10-2 9-3 10-4 10-3 9-3 10-4 9-4 10-4 10-3 9-4 10-4 9-5 10-4 10-4 9-4 21-10 21-10 20-10 16 13-20 11-21 11-21 10-9 5-10 5-10 5-9 4-10 5-9 5-10 4-10 5-9 4-10 4-10 4-9 4-10 4-9 3-10 4-10 3-9 2-10 3-9 2z"/>
<path class="c44" d="M2619 2934l10-1 9-1 10-1 16 25-10 1-9 1-10 0z"/>
<path class="c45" d="M2600 2934l9 0 10 0 16 24-10 0-9 0z"/>
<path class="c46" d="M2581 2935l9 0 10-1 16 24-10 0-9-1z"/>
<path class="c47" d="M2561 2935l10 0 10 0 16 22-10 0-10-1z"/>
<path class="c48" d="M2542 2934l10 0 9 1 16 21-9-1-10 0z"/>
<path class="c49" d="M2523 2934l10 0 9 0 16 21-9-1-10-1z"/>
<path class="c50" d="M2504 2934l9 0 10 0 16 19-10 0-9-1z"/>
<path class="c51" d="M2475 2934l10 0 9 0 10 0 16 18-10 0-10-1-9 0z"/>
<path class="c52" d="M2452 2935l23-1 16 17-23 0z"/>
<path class="c53" d="M2429 2936l23-1 16 16-23 0z"/>
<path class="c54" d="M2406 2938l23-2 16 15-23 1z"/>
<path class="c55" d="M2384 2940l22-2 16 14-22 2z"/>
<path class="c56" d="M2361 2942l23-2 16 14-23 2z"/>
<path class="c57" d="M2315 2949l23-3 23-4 16 14-23 3-23 3z"/>
<path class="c58" d="M2292 2953l23-4 16 13-23 4z"/>
<path class="c59" d="M2247 2963l22-5 23-5 16 13-23 4-23 5z"/>
<path class="c60" d="M2224 2968l23-5 15 12-22 5z"/>
<path class="c43" d="M2958 2834l21-12 16 12-21 12zM2625 2958l10 0 10 0 15 27-9 0-10 0z"/>
<path class="c42" d="M2875 2877l21-10 21-11 20-11 21-11 16 12-21 12-21 12-20 12-21 11zM2645 2958l9-1 10-1 9-1 16 29-9 1-10 0-10 0z"/>
<path class="c41" d="M2798 2915l10-5 10-4 9-5 10-5 9-4 10-5 10-5 9-5 16 16-10 6-9 5-10 5-9 6-10 5-10 6-9 5-10 5zM2673 2955l10-1 10-2 9-2 10-3 16 28-10 3-9 2-10 2-10 2z"/>
<path class="c40" d="M2712 2947l9-2 10-3 10-4 9-3 10-4 9-4 10-4 10-4 9-4 16 21-9 5-10 5-10 5-9 5-10 4-9 5-10 3-10 4-9 3z"/>
<path class="c44" d="M2606 2958l10 0 9 0 16 27-9-1-10-1z"/>
<path class="c45" d="M2587 2957l10 0 9 1 16 25-10-1-9-1z"/>
<path class="c46" d="M2568 2955l9 1 10 1 16 24-10-2-9-1z"/>
<path class="c47" d="M2558 2955l10 0 16 23-10-2z"/>
<path class="c48" d="M2539 2953l10 1 9 1 16 21-10-1-9-1z"/>
<path class="c49" d="M2520 2952l9 1 10 0 16 21-10-2-9-1z"/>
<path class="c50" d="M2500 2951l10 1 10 0 16 19-10-1-10-1z"/>
<path class="c51" d="M2491 2951l9 0 16 18-9-1z"/>
<path class="c52" d="M2468 2951l23 0 16 17-23-1z"/>
<path class="c53" d="M2445 2951l23 0 16 16-23-1z"/>
<path class="c54" d="M2422 2952l23-1 16 15-23 1z"/>
<path class="c55" d="M2400 2954l22-2 16 15-23 1z"/>
<path class="c56" d="M2377 2956l23-2 15 14-22 2z"/>
<path class="c57" d="M2331 2962l23-3 23-3 16 14-23 2-23 3z"/>
<path class="c58" d="M2308 2966l23-4 16 13-23 4z"/>
<path class="c59" d="M2262 2975l23-5 23-4 16 13-23 4-23 4z"/>
<path class="c60" d="M2240 2980l22-5 16 12-22 5z"/>
<path class="c43" d="M2974 2846l21-12 7 5-21 13zM2622 2983l10 1 7 13-10-1z"/>
<path class="c42" d="M2912 2882l20-12 21-12 21-12 7 6-20 12-21 12-21 12zM2632 2984l9 1 10 0 7 14-9-1-10-1z"/>
<path class="c41" d="M2862 2909l10-5 9-5 10-6 21-11 7 6-21 13-9 5-10 6-9 6zM2651 2985l9 0 10 0 7 14-9 0-10 0z"/>
<path class="c40" d="M2805 2941l9-5 10-5 9-5 10-6 10-5 9-6 8 9-10 6-10 5-9 6-10 6-9 5-10 6zM2670 2985l10 0 9-1 10-2 10-2 7 15-10 2-9 1-10 1-10 0z"/>
<path class="c39" d="M2709 2980l9-2 10-3 9-3 10-4 10-3 9-5 10-4 9-5 10-5 10-5 7 11-10 6-9 5-10 5-9 5-10 5-10 4-9 4-10 3-9 3-10 3z"/>
<path class="c44" d="M2603 2981l9 1 10 1 7 13-9-2-10-2z"/>
<path class="c45" d="M2584 2978l9 1 10 2 7 11-9-2-10-1z"/>
<path class="c46" d="M2574 2976l10 2 7 11-10-2z"/>
<path class="c47" d="M2555 2974l9 1 10 1 7 11-9-2-10-2z"/>
<path class="c48" d="M2545 2972l10 2 7 9-9-1z"/>
<path class="c49" d="M2526 2970l10 1 9 1 8 10-10-2-10-1z"/>
<path class="c50" d="M2507 2968l9 1 10 1 7 9-9-2-10-1z"/>
<path class="c51" d="M2484 2967l23 1 7 8-23-2z"/>
<path class="c52" d="M2461 2966l23 1 7 7-23 0z"/>
<path class="c54" d="M2438 2967l23-1 7 8-22 0z"/>
<path class="c55" d="M2415 2968l23-1 8 7-23 0z"/>
<path class="c56" d="M2370 2972l23-2 22-2 8 6-23 2-23 2z"/>
<path class="c57" d="M2347 2975l23-3 7 6-23 3z"/>
<path class="c58" d="M2301 2983l23-4 23-4 7 6-23 4-22 4z"/>
<path class="c59" d="M2278 2987l23-4 8 6-23 4z"/>
<path class="c60" d="M2256 2992l22-5 8 6-23 5z"/>
<path class="c43" d="M2981 2852l21-13 7 6-20 12zM2610 2992l10 2 9 2 8 13-10-2-9-2z"/>
<path class="c42" d="M2919 2888l21-12 21-12 20-12 8 5-21 13-21 13-20 12zM2629 2996l10 1 7 14-9-2z"/>
<path class="c41" d="M2879 2912l10-6 9-5 21-13 8 7-21 13-10 6-9 6zM2639 2997l10 1 9 1 8 15-10-2-10-1z"/>
<path class="c40" d="M2841 2935l9-6 10-5 10-6 9-6 8 8-10 6-10 6-9 7-10 6zM2658 2999l10 0 9 0 8 16-10-1-9 0z"/>
<path class="c39" d="M2793 2963l9-5 10-6 10-6 9-5 10-6 7 10-9 6-10 6-10 6-9 6-10 6zM2677 2999l10 0 10-1 9-1 8 15-10 2-10 0-9 1z"/>
<path class="c38" d="M2706 2997l10-2 10-3 9-3 10-3 9-4 10-4 10-5 9-5 10-5 7 12-9 6-10 5-10 6-9 4-10 5-9 3-10 4-10 2-9 2z"/>
<path class="c44" d="M2601 2990l9 2 8 13-10-3z"/>
<path class="c45" d="M2581 2987l10 2 10 1 7 12-10-2-9-2z"/>
<path class="c46" d="M2572 2985l9 2 8 11-10-3z"/>
<path class="c47" d="M2553 2982l9 1 10 2 7 10-9-2-10-2z"/>
<path class="c48" d="M2543 2980l10 2 7 9-10-2z"/>
<path class="c49" d="M2524 2977l9 2 10 1 7 9-9-1-10-2z"/>
<path class="c50" d="M2514 2976l10 1 7 9-9-1z"/>
<path class="c51" d="M2491 2974l23 2 8 9-23-3z"/>
<path class="c52" d="M2468 2974l23 0 8 8-23-1z"/>
<path class="c53" d="M2446 2974l22 0 8 7-23-1z"/>
<path class="c54" d="M2423 2974l23 0 7 6-23 1z"/>
<path class="c55" d="M2400 2976l23-2 7 7-23 1z"/>
<path class="c56" d="M2377 2978l23-2 7 6-23 2z"/>
<path class="c57" d="M2354 2981l23-3 7 6-22 3z"/>
<path class="c58" d="M2309 2989l22-4 23-4 8 6-23 4-23 3z"/>
<path class="c59" d="M2286 2993l23-4 7 5-23 5z"/>
<path class="c60" d="M2263 2998l23-5 7 6-23 5z"/>
<path class="c43" d="M2989 2857l20-12 8 5-21 13zM2608 3002l10 3 9 2 8 13-10-3-10-2z"/>
<path class="c42" d="M2947 2883l21-13 21-13 7 6-21 13-20 13zM2627 3007l10 2 7 14-9-3z"/>
<path class="c41" d="M2896 2914l10-6 21-13 20-12 8 6-21 13-21 13-9 7zM2637 3009l9 2 8 14-10-2z"/>
<path class="c40" d="M2867 2932l10-6 10-6 9-6 8 8-10 6-10 7-9 6zM2646 3011l10 1 10 2 7 15-10-2-9-2z"/>
<path class="c39" d="M2829 2957l10-6 9-6 10-6 9-7 8 9-10 7-9 7-10 6-10 7zM2666 3014l9 0 10 1 7 16-9-1-10-1z"/>
<path class="c38" d="M2791 2981l9-6 10-6 9-6 10-6 7 11-9 7-10 7-9 6-10 7zM2685 3015l9-1 10 0 7 16-9 1-10 0z"/>
<path class="c37" d="M2704 3014l10-2 9-2 10-2 10-4 9-3 10-5 9-4 10-6 10-5 7 14-10 6-9 5-10 6-9 4-10 4-10 4-9 3-10 2-10 1z"/>
<path class="c44" d="M2598 3000l10 2 7 13-9-3z"/>
<path class="c45" d="M2589 2998l9 2 8 12-10-3z"/>
<path class="c46" d="M2570 2993l9 2 10 3 7 11-9-3-10-3z"/>
<path class="c47" d="M2560 2991l10 2 7 10-10-2z"/>
<path class="c48" d="M2541 2988l9 1 10 2 7 10-9-2-10-3z"/>
<path class="c49" d="M2531 2986l10 2 7 8-9-1z"/>
<path class="c50" d="M2522 2985l9 1 8 9-10-2z"/>
<path class="c51" d="M2499 2982l23 3 7 8-23-3z"/>
<path class="c52" d="M2476 2981l23 1 7 8-23-2z"/>
<path class="c53" d="M2453 2980l23 1 7 7-23-1z"/>
<path class="c54" d="M2430 2981l23-1 7 7-22 0z"/>
<path class="c55" d="M2407 2982l23-1 8 6-23 1z"/>
<path class="c56" d="M2384 2984l23-2 8 6-23 2z"/>
<path class="c57" d="M2362 2987l22-3 8 6-23 3z"/>
<path class="c58" d="M2316 2994l23-3 23-4 7 6-23 3-23 4z"/>
<path class="c59" d="M2293 2999l23-5 7 6-22 4z"/>
<path class="c60" d="M2270 3004l23-5 8 5-23 5z"/>
<path class="c43" d="M2996 2863l21-13 7 5-21 13zM2606 3012l9 3 8 12-10-3z"/>
<path class="c42" d="M2955 2889l20-13 21-13 7 5-20 13-21 14zM2615 3015l10 2 10 3 7 14-10-3-9-4z"/>
<path class="c41" d="M2913 2915l21-13 21-13 7 6-21 13-20 15zM2635 3020l9 3 8 15-10-4z"/>
<path class="c40" d="M2884 2935l10-7 10-6 9-7 8 8-10 6-10 7-9 7zM2644 3023l10 2 7 16-9-3z"/>
<path class="c39" d="M2856 2955l9-7 10-7 9-6 8 8-10 7-9 8-10 7zM2654 3025l9 2 10 2 7 17-9-3-10-2z"/>
<path class="c38" d="M2827 2975l9-7 10-7 10-6 7 10-10 7-9 8-10 7zM2673 3029l10 1 7 17-10-1z"/>
<path class="c37" d="M2798 2995l10-7 9-6 10-7 7 12-9 8-10 7-10 7zM2683 3030l9 1 10 0 7 18-9-1-10-1z"/>
<path class="c36" d="M2702 3031l9-1 10-1 10-2 9-3 10-4 10-4 9-4 10-6 9-5 10-6 7 14-9 7-10 6-10 6-9 5-10 5-9 4-10 3-10 2-9 1-10 1z"/>
<path class="c44" d="M2596 3009l10 3 7 12-9-4z"/>
<path class="c45" d="M2587 3006l9 3 8 11-10-3z"/>
<path class="c46" d="M2567 3001l10 2 10 3 7 11-10-3-9-3z"/>
<path class="c47" d="M2558 2999l9 2 8 10-10-3z"/>
<path class="c48" d="M2548 2996l10 3 7 9-9-2z"/>
<path class="c49" d="M2529 2993l10 2 9 1 8 10-10-3-10-2z"/>
<path class="c50" d="M2506 2990l23 3 7 8-23-4z"/>
<path class="c52" d="M2483 2988l23 2 7 7-22-2z"/>
<path class="c53" d="M2460 2987l23 1 8 7-23-1z"/>
<path class="c54" d="M2438 2987l22 0 8 7-23 0z"/>
<path class="c55" d="M2415 2988l23-1 7 7-23 1z"/>
<path class="c56" d="M2392 2990l23-2 7 7-23 1z"/>
<path class="c57" d="M2369 2993l23-3 7 6-23 3z"/>
<path class="c58" d="M2323 3000l23-4 23-3 7 6-22 3-23 4z"/>
<path class="c59" d="M2301 3004l22-4 8 6-23 4z"/>
<path class="c60" d="M2278 3009l23-5 7 6-23 5z"/>
<path class="c43" d="M3003 2868l21-13 7 5-20 13zM2604 3020l9 4 8 12-10-4z"/>
<path class="c42" d="M2962 2895l21-14 20-13 8 5-21 14-21 14zM2613 3024l10 3 9 4 8 14-10-5-9-4z"/>
<path class="c41" d="M2921 2923l20-15 21-13 7 6-20 14-21 15zM2632 3031l10 3 7 15-9-4z"/>
<path class="c40" d="M2901 2936l10-7 10-6 7 7-10 7-9 7zM2642 3034l10 4 7 15-10-4z"/>
<path class="c39" d="M2873 2958l9-8 10-7 9-7 8 8-10 8-9 7-10 8zM2652 3038l9 3 8 16-10-4z"/>
<path class="c38" d="M2853 2972l10-7 10-7 7 9-10 8-9 8zM2661 3041l10 2 7 17-9-3z"/>
<path class="c37" d="M2834 2987l10-7 9-8 8 11-10 9-9 8zM2671 3043l9 3 10 1 7 18-9-2-10-3z"/>
<path class="c36" d="M2805 3009l10-7 10-7 9-8 8 13-10 8-10 8-9 8zM2690 3047l10 1 7 19-10-2z"/>
<path class="c35" d="M2776 3028l10-6 10-6 9-7 8 15-10 7-10 8-9 6zM2700 3048l9 1 10-1 9-1 8 19-10 1-9 1-10-1z"/>
<path class="c34" d="M2728 3047l10-2 10-3 9-4 10-5 9-5 8 17-10 6-9 5-10 4-10 4-9 2z"/>
<path class="c44" d="M2594 3017l10 3 7 12-10-4z"/>
<path class="c45" d="M2584 3014l10 3 7 11-9-4z"/>
<path class="c46" d="M2575 3011l9 3 8 10-10-3z"/>
<path class="c47" d="M2565 3008l10 3 7 10-9-3z"/>
<path class="c48" d="M2546 3003l10 3 9 2 8 10-10-3-10-3z"/>
<path class="c49" d="M2536 3001l10 2 7 9-9-2z"/>
<path class="c50" d="M2513 2997l23 4 8 9-23-5z"/>
<path class="c52" d="M2491 2995l22 2 8 8-23-3z"/>
<path class="c53" d="M2468 2994l23 1 7 7-23-1z"/>
<path class="c54" d="M2445 2994l23 0 7 7-23-1z"/>
<path class="c55" d="M2422 2995l23-1 7 6-23 1z"/>
<path class="c56" d="M2399 2996l23-1 7 6-22 1z"/>
<path class="c57" d="M2376 2999l23-3 8 6-23 3z"/>
<path class="c58" d="M2331 3006l23-4 22-3 8 6-23 3-23 4z"/>
<path class="c59" d="M2308 3010l23-4 7 6-23 4z"/>
<path class="c60" d="M2285 3015l23-5 7 6-23 4z"/>
<path class="c43" d="M3011 2873l20-13 8 5-21 13zM2611 3032l10 4 7 13-10-5z"/>
<path class="c42" d="M2969 2901l21-14 21-14 7 5-21 14-20 15zM2621 3036l9 4 8 14-10-5z"/>
<path class="c41" d="M2949 2915l20-14 8 6-21 15zM2630 3040l10 5 7 14-9-5z"/>
<path class="c40" d="M2918 2937l10-7 21-15 7 7-21 15-9 8zM2640 3045l9 4 8 15-10-5z"/>
<path class="c39" d="M2890 2959l9-7 10-8 9-7 8 8-10 8-9 8-10 8zM2649 3049l10 4 7 16-9-5z"/>
<path class="c38" d="M2870 2975l10-8 10-8 7 10-10 8-9 9zM2659 3053l10 4 7 17-10-5z"/>
<path class="c37" d="M2851 2992l10-9 9-8 8 11-10 9-9 9zM2669 3057l9 3 8 18-10-4z"/>
<path class="c36" d="M2832 3008l10-8 9-8 8 12-10 9-10 9zM2678 3060l10 3 7 19-9-4z"/>
<path class="c35" d="M2813 3024l9-8 10-8 7 14-9 9-10 9zM2688 3063l9 2 8 20-10-3z"/>
<path class="c34" d="M2793 3039l10-8 10-7 7 16-10 8-9 8zM2697 3065l10 2 10 1 7 20-10-1-9-2z"/>
<path class="c33" d="M2717 3068l9-1 10-1 9-2 10-4 10-4 9-5 10-6 9-6 8 17-10 8-9 6-10 6-10 5-9 3-10 3-9 1-10 0z"/>
<path class="c44" d="M2592 3024l9 4 10 4 7 12-9-4-10-5z"/>
<path class="c45" d="M2582 3021l10 3 7 11-9-4z"/>
<path class="c46" d="M2573 3018l9 3 8 10-10-4z"/>
<path class="c47" d="M2563 3015l10 3 7 9-10-3z"/>
<path class="c48" d="M2553 3012l10 3 7 9-9-3z"/>
<path class="c49" d="M2544 3010l9 2 8 9-10-3z"/>
<path class="c50" d="M2521 3005l23 5 7 8-23-5z"/>
<path class="c51" d="M2498 3002l23 3 7 8-23-4z"/>
<path class="c53" d="M2475 3001l23 1 7 7-22-2z"/>
<path class="c54" d="M2452 3000l23 1 8 6-23-1z"/>
<path class="c55" d="M2429 3001l23-1 8 6-23 1z"/>
<path class="c56" d="M2407 3002l22-1 8 6-23 1z"/>
<path class="c57" d="M2384 3005l23-3 7 6-23 3z"/>
<path class="c58" d="M2338 3012l23-4 23-3 7 6-23 3-22 3z"/>
<path class="c59" d="M2315 3016l23-4 8 5-23 4z"/>
<path class="c60" d="M2292 3020l23-4 8 5-23 5z"/>
<path class="c43" d="M3018 2878l21-13 7 4-20 14zM2609 3040l9 4 8 13-10-6z"/>
<path class="c42" d="M2977 2907l20-15 21-14 8 5-21 15-21 14zM2618 3044l10 5 7 13-9-5z"/>
<path class="c41" d="M2956 2922l21-15 7 5-21 16zM2628 3049l10 5 7 14-10-6z"/>
<path class="c40" d="M2926 2945l9-8 21-15 7 6-20 16-10 8zM2638 3054l9 5 8 15-10-6z"/>
<path class="c39" d="M2907 2961l9-8 10-8 7 7-9 9-10 8z"/>
<path class="c38" d="M2887 2977l10-8 10-8 7 8-10 9-9 9zM2647 3059l10 5 7 16-9-6z"/>
<path class="c37" d="M2878 2986l9-9 8 10-10 10zM2657 3064l9 5 8 17-10-6z"/>
<path class="c36" d="M2859 3004l9-9 10-9 7 11-10 9-9 10zM2666 3069l10 5 7 18-9-6z"/>
<path class="c35" d="M2839 3022l10-9 10-9 7 12-10 10-9 10zM2676 3074l10 4 7 19-10-5z"/>
<path class="c34" d="M2830 3031l9-9 8 14-10 10zM2686 3078l9 4 8 20-10-5z"/>
<path class="c33" d="M2810 3048l10-8 10-9 7 15-10 10-9 10zM2695 3082l10 3 9 2 8 22-10-3-9-4z"/>
<path class="c32" d="M2791 3064l10-8 9-8 8 18-10 9-9 8zM2714 3087l10 1 7 22-9-1z"/>
<path class="c31" d="M2724 3088l10 0 9-1 10-3 9-3 10-5 10-6 9-6 8 19-10 8-10 7-9 5-10 4-9 2-10 2-10-1z"/>
<path class="c44" d="M2599 3035l10 5 7 11-9-5z"/>
<path class="c45" d="M2590 3031l9 4 8 11-10-5z"/>
<path class="c46" d="M2580 3027l10 4 7 10-10-4z"/>
<path class="c47" d="M2561 3021l9 3 10 3 7 10-9-4-10-3z"/>
<path class="c48" d="M2551 3018l10 3 7 9-10-4z"/>
<path class="c50" d="M2528 3013l23 5 7 8-22-6z"/>
<path class="c51" d="M2505 3009l23 4 8 7-23-4z"/>
<path class="c53" d="M2483 3007l22 2 8 7-23-2z"/>
<path class="c54" d="M2460 3006l23 1 7 7-23-1z"/>
<path class="c55" d="M2437 3007l23-1 7 7-23 0z"/>
<path class="c56" d="M2414 3008l23-1 7 6-23 1z"/>
<path class="c57" d="M2391 3011l23-3 7 6-22 2z"/>
<path class="c58" d="M2346 3017l22-3 23-3 8 5-23 3-23 4z"/>
<path class="c59" d="M2300 3026l23-5 23-4 7 6-23 4-23 4z"/>
<path class="c43" d="M3026 2883l20-14 8 5-21 14zM2607 3046l9 5 7 12-9-6z"/>
<path class="c42" d="M2984 2912l21-14 21-15 7 5-21 15-20 15zM2616 3051l10 6 7 12-10-6z"/>
<path class="c41" d="M2963 2928l21-16 8 6-21 16zM2626 3057l9 5 8 14-10-7z"/>
<path class="c40" d="M2943 2944l20-16 8 6-21 18zM2635 3062l10 6 7 15-9-7z"/>
<path class="c39" d="M2924 2961l9-9 10-8 7 8-9 8-10 9zM2645 3068l10 6 7 16-10-7z"/>
<path class="c38" d="M2904 2978l10-9 10-8 7 8-10 9-9 9z"/>
<path class="c37" d="M2895 2987l9-9 8 9-10 10zM2655 3074l9 6 8 17-10-7z"/>
<path class="c36" d="M2875 3006l10-9 10-10 7 10-10 10-9 11zM2664 3080l10 6 7 18-9-7z"/>
<path class="c35" d="M2866 3016l9-10 8 12-10 11zM2674 3086l9 6 8 19-10-7z"/>
<path class="c34" d="M2847 3036l9-10 10-10 7 13-9 11-10 11zM2683 3092l10 5 7 21-9-7z"/>
<path class="c33" d="M2837 3046l10-10 7 15-10 11zM2693 3097l10 5 7 21-10-5z"/>
<path class="c32" d="M2827 3056l10-10 7 16-9 12zM2703 3102l9 4 8 22-10-5z"/>
<path class="c31" d="M2808 3075l10-9 9-10 8 18-10 11-9 10zM2712 3106l10 3 7 23-9-4z"/>
<path class="c30" d="M2789 3091l10-8 9-8 8 20-10 9-10 9zM2722 3109l9 1 8 24-10-2z"/>
<path class="c29" d="M2731 3110l10 1 10-2 9-2 10-4 9-5 10-7 7 22-9 8-10 6-9 4-10 3-10 1-9-1z"/>
<path class="c44" d="M2597 3041l10 5 7 11-10-5z"/>
<path class="c45" d="M2587 3037l10 4 7 11-9-5z"/>
<path class="c46" d="M2578 3033l9 4 8 10-10-5z"/>
<path class="c47" d="M2568 3030l10 3 7 9-10-4z"/>
<path class="c48" d="M2558 3026l10 4 7 8-9-3z"/>
<path class="c49" d="M2536 3020l22 6 8 9-23-7z"/>
<path class="c51" d="M2513 3016l23 4 7 8-23-5z"/>
<path class="c52" d="M2490 3014l23 2 7 7-23-3z"/>
<path class="c54" d="M2467 3013l23 1 7 6-23-1z"/>
<path class="c55" d="M2444 3013l23 0 7 6-22 0z"/>
<path class="c56" d="M2421 3014l23-1 8 6-23 1z"/>
<path class="c57" d="M2399 3016l22-2 8 6-23 2z"/>
<path class="c58" d="M2353 3023l23-4 23-3 7 6-23 3-23 3z"/>
<path class="c59" d="M2307 3031l23-4 23-4 7 5-23 4-22 5z"/>
<path class="c43" d="M3033 2888l21-14 7 5-21 14z"/>
<path class="c42" d="M2992 2918l20-15 21-15 7 5-20 15-21 16zM2614 3057l9 6 8 12-10-7z"/>
<path class="c41" d="M2971 2934l21-16 7 6-21 16zM2623 3063l10 6 7 13-9-7z"/>
<path class="c40" d="M2950 2952l21-18 7 6-20 19zM2633 3069l10 7 7 14-10-8z"/>
<path class="c39" d="M2931 2969l10-9 9-8 8 7-10 8-10 10zM2643 3076l9 7 8 15-10-8z"/>
<path class="c38" d="M2921 2978l10-9 7 8-9 10z"/>
<path class="c37" d="M2902 2997l10-10 9-9 8 9-10 10-10 10zM2652 3083l10 7 7 16-9-8z"/>
<path class="c36" d="M2892 3007l10-10 7 10-9 11zM2662 3090l10 7 7 18-10-9z"/>
<path class="c35" d="M2883 3018l9-11 8 11-10 12zM2672 3097l9 7 8 19-10-8z"/>
<path class="c34" d="M2873 3029l10-11 7 12-9 12z"/>
<path class="c33" d="M2854 3051l10-11 9-11 8 13-10 12-10 13zM2681 3104l10 7 7 20-9-8z"/>
<path class="c32" d="M2844 3062l10-11 7 16-9 12zM2691 3111l9 7 8 21-10-8z"/>
<path class="c31" d="M2835 3074l9-12 8 17-10 13zM2700 3118l10 5 7 23-9-7z"/>
<path class="c30" d="M2825 3085l10-11 7 18-9 12zM2710 3123l10 5 7 24-10-6z"/>
<path class="c29" d="M2816 3095l9-10 8 19-10 12zM2720 3128l9 4 8 25-10-5z"/>
<path class="c28" d="M2796 3113l10-9 10-9 7 21-10 11-9 10zM2729 3132l10 2 7 26-9-3z"/>
<path class="c27" d="M2739 3134l9 1 10-1 10-3 9-4 10-6 9-8 8 24-10 8-9 7-10 5-10 3-9 1-10-1z"/>
<path class="c44" d="M2604 3052l10 5 7 11-9-6z"/>
<path class="c45" d="M2595 3047l9 5 8 10-10-5z"/>
<path class="c46" d="M2585 3042l10 5 7 10-10-5z"/>
<path class="c47" d="M2575 3038l10 4 7 10-9-5z"/>
<path class="c48" d="M2566 3035l9 3 8 9-10-4z"/>
<path class="c49" d="M2543 3028l23 7 7 8-23-8z"/>
<path class="c51" d="M2520 3023l23 5 7 7-22-5z"/>
<path class="c52" d="M2497 3020l23 3 8 7-23-3z"/>
<path class="c54" d="M2474 3019l23 1 8 7-23-2z"/>
<path class="c55" d="M2452 3019l22 0 8 6-23 0z"/>
<path class="c56" d="M2429 3020l23-1 7 6-23 1z"/>
<path class="c57" d="M2406 3022l23-2 7 6-23 2z"/>
<path class="c58" d="M2360 3028l23-3 23-3 7 6-22 2-23 4z"/>
<path class="c59" d="M2315 3037l22-5 23-4 8 6-23 4-23 4z"/>
<path class="c43" d="M3020 2908l20-15 21-14 7 4-20 15-21 15zM2612 3062l9 6 8 11-10-7z"/>
<path class="c42" d="M2999 2924l21-16 7 5-21 16zM2621 3068l10 7 7 12-9-8z"/>
<path class="c41" d="M2978 2940l21-16 7 5-20 18z"/>
<path class="c40" d="M2958 2959l20-19 8 7-21 18zM2631 3075l9 7 8 13-10-8z"/>
<path class="c39" d="M2948 2967l10-8 7 6-10 10zM2640 3082l10 8 7 14-9-9z"/>
<path class="c38" d="M2929 2987l9-10 10-10 7 8-9 10-10 10zM2650 3090l10 8 7 15-10-9z"/>
<path class="c37" d="M2919 2997l10-10 7 8-10 11z"/>
<path class="c36" d="M2909 3007l10-10 7 9-9 11zM2660 3098l9 8 8 16-10-9z"/>
<path class="c35" d="M2900 3018l9-11 8 10-10 12zM2669 3106l10 9 7 17-9-10z"/>
<path class="c34" d="M2881 3042l9-12 10-12 7 11-9 13-10 13z"/>
<path class="c33" d="M2871 3054l10-12 7 13-10 14zM2679 3115l10 8 7 19-10-10z"/>
<path class="c31" d="M2861 3067l10-13 7 15-9 13z"/>
<path class="c30" d="M2852 3079l9-12 8 15-10 14zM2698 3131l10 8 7 23-9-10z"/>
<path class="c29" d="M2842 3092l10-13 7 17-9 15zM2708 3139l9 7 8 24-10-8z"/>
<path class="c28" d="M2833 3104l9-12 8 19-10 13zM2717 3146l10 6 7 25-9-7z"/>
<path class="c27" d="M2823 3116l10-12 7 20-10 14z"/>
<path class="c26" d="M2804 3137l9-10 10-11 7 22-9 12-10 12zM2727 3152l10 5 9 3 8 27-10-4-10-6z"/>
<path class="c25" d="M2794 3145l10-8 7 25-9 9zM2746 3160l10 1 7 28-9-2z"/>
<path class="c24" d="M2756 3161l9-1 10-3 10-5 9-7 8 26-10 8-10 6-9 3-10 1z"/>
<path class="c32" d="M2689 3123l9 8 8 21-10-10z"/>
<path class="c44" d="M2602 3057l10 5 7 10-10-6z"/>
<path class="c45" d="M2592 3052l10 5 7 9-9-5z"/>
<path class="c46" d="M2583 3047l9 5 8 9-10-5z"/>
<path class="c47" d="M2573 3043l10 4 7 9-9-5z"/>
<path class="c49" d="M2550 3035l23 8 8 8-23-8z"/>
<path class="c51" d="M2528 3030l22 5 8 8-23-6z"/>
<path class="c52" d="M2505 3027l23 3 7 7-23-4z"/>
<path class="c53" d="M2482 3025l23 2 7 6-23-2z"/>
<path class="c55" d="M2459 3025l23 0 7 6-23 0z"/>
<path class="c56" d="M2436 3026l23-1 7 6-22 1z"/>
<path class="c57" d="M2391 3030l22-2 23-2 8 6-23 1-23 3z"/>
<path class="c58" d="M2368 3034l23-4 7 6-23 3z"/>
<path class="c59" d="M2322 3042l23-4 23-4 7 5-23 4-23 5z"/>
<path class="c43" d="M3027 2913l21-15 20-15 8 4-21 15-21 16z"/>
<path class="c42" d="M3006 2929l21-16 7 5-20 16zM2619 3072l10 7 7 11-10-7z"/>
<path class="c41" d="M2986 2947l20-18 8 5-21 18zM2629 3079l9 8 8 12-10-9z"/>
<path class="c40" d="M2965 2965l21-18 7 5-21 20zM2638 3087l10 8 7 13-9-9z"/>
<path class="c39" d="M2955 2975l10-10 7 7-9 10z"/>
<path class="c38" d="M2946 2985l9-10 8 7-10 10zM2648 3095l9 9 8 14-10-10z"/>
<path class="c37" d="M2926 3006l10-11 10-10 7 7-10 11-9 12zM2657 3104l10 9 7 15-9-10z"/>
<path class="c36" d="M2917 3017l9-11 8 9-10 12z"/>
<path class="c35" d="M2907 3029l10-12 7 10-9 13zM2667 3113l10 9 7 17-10-11z"/>
<path class="c34" d="M2898 3042l9-13 8 11-10 14z"/>
<path class="c33" d="M2888 3055l10-13 7 12-10 14zM2677 3122l9 10 8 19-10-12z"/>
<path class="c32" d="M2878 3069l10-14 7 13-9 15zM2686 3132l10 10 7 20-9-11z"/>
<path class="c30" d="M2869 3082l9-13 8 14-10 15zM2696 3142l10 10 7 22-10-12z"/>
<path class="c29" d="M2859 3096l10-14 7 16-9 16z"/>
<path class="c28" d="M2850 3111l9-15 8 18-10 16zM2706 3152l9 10 8 23-10-11z"/>
<path class="c27" d="M2840 3124l10-13 7 19-10 16zM2715 3162l10 8 7 25-9-10z"/>
<path class="c25" d="M2830 3138l10-14 7 22-9 15zM2725 3170l9 7 8 27-10-9z"/>
<path class="c24" d="M2821 3150l9-12 8 23-10 14zM2734 3177l10 6 7 28-9-7z"/>
<path class="c23" d="M2811 3162l10-12 7 25-9 13zM2744 3183l10 4 7 29-10-5z"/>
<path class="c22" d="M2782 3185l10-6 10-8 9-9 8 26-10 11-10 9-9 6zM2754 3187l9 2 10-1 7 30-9 0-10-2z"/>
<path class="c21" d="M2773 3188l9-3 8 29-10 4z"/>
<path class="c44" d="M2609 3066l10 6 7 11-9-7z"/>
<path class="c45" d="M2600 3061l9 5 8 10-10-6z"/>
<path class="c46" d="M2590 3056l10 5 7 9-9-6z"/>
<path class="c47" d="M2581 3051l9 5 8 8-10-5z"/>
<path class="c48" d="M2558 3043l23 8 7 8-23-9z"/>
<path class="c50" d="M2535 3037l23 6 7 7-23-6z"/>
<path class="c52" d="M2512 3033l23 4 7 7-23-4z"/>
<path class="c53" d="M2489 3031l23 2 7 7-22-3z"/>
<path class="c55" d="M2466 3031l23 0 8 6-23 0z"/>
<path class="c56" d="M2444 3032l22-1 8 6-23 0z"/>
<path class="c57" d="M2398 3036l23-3 23-1 7 5-23 2-23 3z"/>
<path class="c58" d="M2375 3039l23-3 7 6-23 3z"/>
<path class="c59" d="M2329 3048l23-5 23-4 7 6-22 4-23 4z"/>
<path class="c43" d="M3034 2918l21-16 21-15 7 4-21 16-20 16zM2617 3076l9 7 8 10-10-8z"/>
<path class="c42" d="M3014 2934l20-16 8 5-21 17zM2626 3083l10 7 7 11-9-8z"/>
<path class="c41" d="M2993 2952l21-18 7 6-21 18z"/>
<path class="c40" d="M2972 2972l21-20 7 6-20 21zM2636 3090l10 9 7 11-10-9z"/>
<path class="c39" d="M2963 2982l9-10 8 7-10 10zM2646 3099l9 9 8 12-10-10z"/>
<path class="c38" d="M2953 2992l10-10 7 7-10 11z"/>
<path class="c37" d="M2943 3003l10-11 7 8-9 12zM2655 3108l10 10 7 13-9-11z"/>
<path class="c36" d="M2934 3015l9-12 8 9-10 12zM2665 3118l9 10 8 15-10-12z"/>
<path class="c35" d="M2924 3027l10-12 7 9-9 13z"/>
<path class="c34" d="M2915 3040l9-13 8 10-10 14zM2674 3128l10 11 7 17-9-13z"/>
<path class="c33" d="M2905 3054l10-14 7 11-10 15z"/>
<path class="c32" d="M2895 3068l10-14 7 12-9 15zM2684 3139l10 12 7 18-10-13z"/>
<path class="c31" d="M2886 3083l9-15 8 13-10 16z"/>
<path class="c29" d="M2876 3098l10-15 7 14-9 17z"/>
<path class="c28" d="M2867 3114l9-16 8 16-10 18zM2703 3162l10 12 7 22-9-14z"/>
<path class="c26" d="M2857 3130l10-16 7 18-10 17zM2713 3174l10 11 7 24-10-13z"/>
<path class="c25" d="M2847 3146l10-16 7 19-9 18zM2723 3185l9 10 7 26-9-12z"/>
<path class="c24" d="M2838 3161l9-15 8 21-10 17z"/>
<path class="c22" d="M2828 3175l10-14 7 23-9 17zM2742 3204l9 7 8 29-10-8z"/>
<path class="c21" d="M2819 3188l9-13 8 26-10 14z"/>
<path class="c20" d="M2809 3199l10-11 7 27-10 13zM2751 3211l10 5 7 30-9-6z"/>
<path class="c19" d="M2761 3216l10 2 9 0 10-4 9-6 10-9 7 29-9 10-10 7-9 4-10 0-10-3z"/>
<path class="c23" d="M2732 3195l10 9 7 28-10-11z"/>
<path class="c30" d="M2694 3151l9 11 8 20-10-13z"/>
<path class="c44" d="M2607 3070l10 6 7 9-9-7z"/>
<path class="c45" d="M2598 3064l9 6 8 8-10-6z"/>
<path class="c47" d="M2588 3059l10 5 7 8-10-5z"/>
<path class="c48" d="M2565 3050l23 9 7 8-22-10z"/>
<path class="c50" d="M2542 3044l23 6 8 7-23-7z"/>
<path class="c52" d="M2519 3040l23 4 8 6-23-4z"/>
<path class="c53" d="M2497 3037l22 3 8 6-23-3z"/>
<path class="c55" d="M2474 3037l23 0 7 6-23-1z"/>
<path class="c56" d="M2451 3037l23 0 7 5-23 1z"/>
<path class="c57" d="M2405 3042l23-3 23-2 7 6-23 2-22 2z"/>
<path class="c58" d="M2382 3045l23-3 8 5-23 3z"/>
<path class="c59" d="M2337 3053l23-4 22-4 8 5-23 4-23 4z"/>
<path class="c44" d="M3062 2907l21-16 8 5-21 15zM2615 3078l9 7 8 9-10-7z"/>
<path class="c43" d="M3042 2923l20-16 8 4-21 16zM2624 3085l10 8 7 9-9-8z"/>
<path class="c42" d="M3021 2940l21-17 7 4-21 18z"/>
<path class="c41" d="M3000 2958l21-18 7 5-20 19zM2634 3093l9 8 8 11-10-10z"/>
<path class="c40" d="M2980 2979l20-21 8 6-21 21zM2643 3101l10 9 7 12-9-10z"/>
<path class="c38" d="M2960 3000l10-11 10-10 7 6-10 11-9 11zM2653 3110l10 10 7 13-10-11z"/>
<path class="c37" d="M2951 3012l9-12 8 7-10 13z"/>
<path class="c36" d="M2941 3024l10-12 7 8-9 13zM2663 3120l9 11 8 14-10-12z"/>
<path class="c35" d="M2932 3037l9-13 8 9-10 13zM2672 3131l10 12 7 15-9-13z"/>
<path class="c34" d="M2922 3051l10-14 7 9-10 15z"/>
<path class="c32" d="M2912 3066l10-15 7 10-9 16z"/>
<path class="c31" d="M2903 3081l9-15 8 11-10 17zM2691 3156l10 13 7 18-9-15z"/>
<path class="c30" d="M2893 3097l10-16 7 13-9 18z"/>
<path class="c28" d="M2884 3114l9-17 8 15-10 18z"/>
<path class="c27" d="M2874 3132l10-18 7 16-10 19z"/>
<path class="c25" d="M2864 3149l10-17 7 17-9 20z"/>
<path class="c23" d="M2855 3167l9-18 8 20-10 20z"/>
<path class="c22" d="M2845 3184l10-17 7 22-9 19zM2730 3209l9 12 8 26-10-14z"/>
<path class="c20" d="M2836 3201l9-17 8 24-10 18z"/>
<path class="c19" d="M2826 3215l10-14 7 25-10 17zM2749 3232l10 8 7 30-10-10z"/>
<path class="c17" d="M2816 3228l10-13 7 28-9 15zM2759 3240l9 6 8 32-10-8z"/>
<path class="c16" d="M2768 3246l10 3 10 0 9-4 10-7 9-10 8 30-10 11-9 8-10 4-10 0-9-3z"/>
<path class="c21" d="M2739 3221l10 11 7 28-9-13z"/>
<path class="c24" d="M2720 3196l10 13 7 24-9-15z"/>
<path class="c26" d="M2711 3182l9 14 8 22-10-16z"/>
<path class="c29" d="M2701 3169l10 13 7 20-10-15z"/>
<path class="c33" d="M2682 3143l9 13 8 16-10-14z"/>
<path class="c45" d="M2605 3072l10 6 7 9-10-6z"/>
<path class="c46" d="M2595 3067l10 5 7 9-9-6z"/>
<path class="c48" d="M2573 3057l22 10 8 8-23-11z"/>
<path class="c50" d="M2550 3050l23 7 7 7-23-7z"/>
<path class="c52" d="M2527 3046l23 4 7 7-23-5z"/>
<path class="c53" d="M2504 3043l23 3 7 6-23-3z"/>
<path class="c55" d="M2481 3042l23 1 7 6-22-1z"/>
<path class="c56" d="M2458 3043l23-1 8 6-23 1z"/>
<path class="c57" d="M2413 3047l22-2 23-2 8 6-23 1-23 2z"/>
<path class="c58" d="M2390 3050l23-3 7 5-23 4z"/>
<path class="c59" d="M2344 3058l23-4 23-4 7 6-23 3-22 5z"/>
<path class="c44" d="M3070 2911l21-15 7 3-21 16zM2622 3087l10 7 7 9-10-8z"/>
<path class="c43" d="M3049 2927l21-16 7 4-20 17z"/>
<path class="c42" d="M3028 2945l21-18 8 5-21 17zM2632 3094l9 8 8 10-10-9z"/>
<path class="c41" d="M3008 2964l20-19 8 4-21 20zM2641 3102l10 10 7 10-9-10z"/>
<path class="c40" d="M2987 2985l21-21 7 5-21 22z"/>
<path class="c38" d="M2968 3007l9-11 10-11 7 6-9 11-10 12z"/>
<path class="c37" d="M2958 3020l10-13 7 7-9 13zM2660 3122l10 11 7 12-9-12z"/>
<path class="c36" d="M2949 3033l9-13 8 7-10 14zM2670 3133l10 12 7 13-10-13z"/>
<path class="c34" d="M2939 3046l10-13 7 8-10 14zM2680 3145l9 13 8 15-10-15z"/>
<path class="c33" d="M2929 3061l10-15 7 9-9 16z"/>
<path class="c32" d="M2920 3077l9-16 8 10-10 17zM2689 3158l10 14 7 16-9-15z"/>
<path class="c30" d="M2910 3094l10-17 7 11-9 18z"/>
<path class="c29" d="M2901 3112l9-18 8 12-10 19zM2699 3172l9 15 8 18-10-17z"/>
<path class="c27" d="M2891 3130l10-18 7 13-10 20zM2708 3187l10 15 7 20-9-17z"/>
<path class="c25" d="M2881 3149l10-19 7 15-9 21zM2718 3202l10 16 7 22-10-18z"/>
<path class="c23" d="M2872 3169l9-20 8 17-10 22z"/>
<path class="c22" d="M2862 3189l10-20 7 19-9 22zM2728 3218l9 15 8 24-10-17z"/>
<path class="c20" d="M2853 3208l9-19 8 21-10 21zM2737 3233l10 14 7 26-9-16z"/>
<path class="c18" d="M2843 3226l10-18 7 23-10 21zM2747 3247l9 13 8 28-10-15z"/>
<path class="c16" d="M2833 3243l10-17 7 26-9 19zM2756 3260l10 10 7 30-9-12z"/>
<path class="c15" d="M2824 3258l9-15 8 28-10 17zM2766 3270l10 8 7 31-10-9z"/>
<path class="c13" d="M2805 3277l9-8 10-11 7 30-9 13-10 9zM2776 3278l9 3 10 0 7 33-9 0-10-5z"/>
<path class="c12" d="M2795 3281l10-4 7 33-10 4z"/>
<path class="c39" d="M2651 3112l9 10 8 11-10-11z"/>
<path class="c45" d="M2612 3081l10 6 7 8-9-7z"/>
<path class="c46" d="M2603 3075l9 6 8 7-10-6z"/>
<path class="c48" d="M2580 3064l23 11 7 7-23-11z"/>
<path class="c50" d="M2557 3057l23 7 7 7-23-8z"/>
<path class="c52" d="M2534 3052l23 5 7 6-22-5z"/>
<path class="c53" d="M2511 3049l23 3 8 6-23-3z"/>
<path class="c54" d="M2489 3048l22 1 8 6-23-1z"/>
<path class="c56" d="M2466 3049l23-1 7 6-23 0z"/>
<path class="c57" d="M2420 3052l23-2 23-1 7 5-23 1-23 3z"/>
<path class="c58" d="M2397 3056l23-4 7 6-22 3z"/>
<path class="c59" d="M2352 3064l22-5 23-3 8 5-23 4-23 4z"/>
<path class="c44" d="M3077 2915l21-16 7 4-20 16z"/>
<path class="c43" d="M3057 2932l20-17 8 4-21 17zM2629 3095l10 8 7 8-9-8z"/>
<path class="c42" d="M3036 2949l21-17 7 4-21 18zM2639 3103l10 9 7 9-10-10z"/>
<path class="c41" d="M3015 2969l21-20 7 5-20 20z"/>
<path class="c40" d="M2994 2991l21-22 8 5-21 23zM2649 3112l9 10 8 9-10-10z"/>
<path class="c38" d="M2985 3002l9-11 8 6-10 11z"/>
<path class="c37" d="M2975 3014l10-12 7 6-9 13zM2668 3133l9 12 8 11-10-13z"/>
<path class="c36" d="M2966 3027l9-13 8 7-10 13z"/>
<path class="c35" d="M2956 3041l10-14 7 7-10 14zM2677 3145l10 13 7 12-9-14z"/>
<path class="c34" d="M2946 3055l10-14 7 7-9 16z"/>
<path class="c33" d="M2937 3071l9-16 8 9-10 16zM2687 3158l10 15 7 13-10-16z"/>
<path class="c31" d="M2927 3088l10-17 7 9-9 18z"/>
<path class="c30" d="M2918 3106l9-18 8 10-10 19zM2697 3173l9 15 8 15-10-17z"/>
<path class="c28" d="M2908 3125l10-19 7 11-10 21zM2706 3188l10 17 7 17-9-19z"/>
<path class="c26" d="M2898 3145l10-20 7 13-9 22zM2716 3205l9 17 8 19-10-19z"/>
<path class="c24" d="M2889 3166l9-21 8 15-10 22z"/>
<path class="c22" d="M2879 3188l10-22 7 16-9 24z"/>
<path class="c20" d="M2870 3210l9-22 8 18-10 24zM2735 3240l10 17 7 23-10-20z"/>
<path class="c18" d="M2860 3231l10-21 7 20-10 24zM2745 3257l9 16 8 26-10-19z"/>
<path class="c16" d="M2850 3252l10-21 7 23-9 23zM2754 3273l10 15 7 27-9-16z"/>
<path class="c14" d="M2841 3271l9-19 8 25-10 21z"/>
<path class="c12" d="M2831 3288l10-17 7 27-9 19zM2773 3300l10 9 7 31-9-11z"/>
<path class="c11" d="M2822 3301l9-13 8 29-10 14z"/>
<path class="c10" d="M2812 3310l10-9 7 30-10 10zM2783 3309l10 5 9 0 8 32-10-1-10-5z"/>
<path class="c9" d="M2802 3314l10-4 7 31-9 5z"/>
<path class="c13" d="M2764 3288l9 12 8 29-10-14z"/>
<path class="c23" d="M2725 3222l10 18 7 20-9-19z"/>
<path class="c39" d="M2658 3122l10 11 7 10-9-12z"/>
<path class="c45" d="M2620 3088l9 7 8 8-10-7z"/>
<path class="c46" d="M2610 3082l10 6 7 8-9-7z"/>
<path class="c48" d="M2587 3071l23 11 8 7-23-12z"/>
<path class="c50" d="M2564 3063l23 8 8 6-23-8z"/>
<path class="c52" d="M2542 3058l22 5 8 6-23-5z"/>
<path class="c53" d="M2519 3055l23 3 7 6-23-3z"/>
<path class="c54" d="M2496 3054l23 1 7 6-23-2z"/>
<path class="c56" d="M2473 3054l23 0 7 5-23 0z"/>
<path class="c57" d="M2427 3058l23-3 23-1 7 5-22 2-23 2z"/>
<path class="c58" d="M2405 3061l22-3 8 5-23 3z"/>
<path class="c59" d="M2382 3065l23-4 7 5-23 4z"/>
<path class="c60" d="M2359 3069l23-4 7 5-23 4z"/>
<path class="c44" d="M3085 2919l20-16 8 4-21 16zM2627 3096l10 7 7 7-9-7z"/>
<path class="c43" d="M3064 2936l21-17 7 4-21 17zM2637 3103l9 8 8 8-10-9z"/>
<path class="c42" d="M3043 2954l21-18 7 4-20 18zM2646 3111l10 10 7 8-9-10z"/>
<path class="c41" d="M3023 2974l20-20 8 4-21 21z"/>
<path class="c40" d="M3002 2997l21-23 7 5-21 23zM2656 3121l10 10 7 9-10-11z"/>
<path class="c38" d="M2992 3008l10-11 7 5-9 12zM2666 3131l9 12 8 9-10-12z"/>
<path class="c37" d="M2983 3021l9-13 8 6-10 13z"/>
<path class="c36" d="M2973 3034l10-13 7 6-10 14zM2675 3143l10 13 7 10-9-14z"/>
<path class="c35" d="M2963 3048l10-14 7 7-9 14z"/>
<path class="c34" d="M2954 3064l9-16 8 7-10 16zM2685 3156l9 14 8 12-10-16z"/>
<path class="c32" d="M2944 3080l10-16 7 7-9 18zM2694 3170l10 16 7 13-9-17z"/>
<path class="c31" d="M2935 3098l9-18 8 9-10 19z"/>
<path class="c29" d="M2925 3117l10-19 7 10-10 20zM2704 3186l10 17 7 14-10-18z"/>
<path class="c27" d="M2915 3138l10-21 7 11-9 22zM2714 3203l9 19 8 15-10-20z"/>
<path class="c25" d="M2906 3160l9-22 8 12-10 23z"/>
<path class="c23" d="M2896 3182l10-22 7 13-9 24z"/>
<path class="c21" d="M2887 3206l9-24 8 15-10 26zM2733 3241l9 19 8 20-10-22z"/>
<path class="c18" d="M2877 3230l10-24 7 17-10 26z"/>
<path class="c16" d="M2867 3254l10-24 7 19-9 26zM2752 3280l10 19 7 23-10-21z"/>
<path class="c14" d="M2858 3277l9-23 8 21-10 25z"/>
<path class="c11" d="M2848 3298l10-21 7 23-10 23zM2771 3315l10 14 7 28-9-16z"/>
<path class="c10" d="M2839 3317l9-19 7 25-9 21z"/>
<path class="c8" d="M2829 3331l10-14 7 27-10 16zM2790 3340l10 5 7 30-9-6z"/>
<path class="c7" d="M2819 3341l10-10 7 29-9 11zM2800 3345l10 1 7 30-10-1z"/>
<path class="c6" d="M2810 3346l9-5 8 30-10 5z"/>
<path class="c9" d="M2781 3329l9 11 8 29-10-12z"/>
<path class="c13" d="M2762 3299l9 16 8 26-10-19z"/>
<path class="c19" d="M2742 3260l10 20 7 21-9-21z"/>
<path class="c24" d="M2723 3222l10 19 7 17-9-21z"/>
<path class="c46" d="M2618 3089l9 7 8 7-10-7z"/>
<path class="c47" d="M2595 3077l23 12 7 7-23-12z"/>
<path class="c50" d="M2572 3069l23 8 7 7-23-9z"/>
<path class="c52" d="M2549 3064l23 5 7 6-23-6z"/>
<path class="c53" d="M2526 3061l23 3 7 5-22-3z"/>
<path class="c54" d="M2503 3059l23 2 8 5-23-1z"/>
<path class="c56" d="M2480 3059l23 0 8 6-23 0z"/>
<path class="c57" d="M2435 3063l23-2 22-2 8 6-23 1-23 2z"/>
<path class="c58" d="M2412 3066l23-3 7 5-23 3z"/>
<path class="c59" d="M2389 3070l23-4 7 5-22 4z"/>
<path class="c60" d="M2366 3074l23-4 8 5-23 5z"/>
<path class="c44" d="M3092 2923l21-16 7 4-21 16zM2635 3103l9 7 8 7-10-8z"/>
<path class="c43" d="M3071 2940l21-17 7 4-20 17zM2644 3110l10 9 7 7-9-9z"/>
<path class="c42" d="M3051 2958l20-18 8 4-21 18z"/>
<path class="c41" d="M3030 2979l21-21 7 4-21 21zM2654 3119l9 10 8 7-10-10z"/>
<path class="c40" d="M3009 3002l21-23 7 4-20 24zM2663 3129l10 11 7 8-9-12z"/>
<path class="c38" d="M3000 3014l9-12 8 5-10 12zM2673 3140l10 12 7 9-10-13z"/>
<path class="c37" d="M2990 3027l10-13 7 5-10 13z"/>
<path class="c36" d="M2980 3041l10-14 7 5-9 14zM2683 3152l9 14 8 10-10-15z"/>
<path class="c35" d="M2971 3055l9-14 8 5-10 16z"/>
<path class="c34" d="M2961 3071l10-16 7 7-9 16zM2692 3166l10 16 7 10-9-16z"/>
<path class="c32" d="M2952 3089l9-18 8 7-10 18z"/>
<path class="c31" d="M2942 3108l10-19 7 7-10 20zM2702 3182l9 17 8 11-10-18z"/>
<path class="c29" d="M2932 3128l10-20 7 8-9 21zM2711 3199l10 18 7 12-9-19z"/>
<path class="c27" d="M2923 3150l9-22 8 9-10 23z"/>
<path class="c25" d="M2913 3173l10-23 7 10-9 24z"/>
<path class="c22" d="M2904 3197l9-24 8 11-10 26z"/>
<path class="c20" d="M2894 3223l10-26 7 13-10 27zM2740 3258l10 22 7 16-9-23z"/>
<path class="c17" d="M2884 3249l10-26 7 14-9 28zM2750 3280l9 21 8 19-10-24z"/>
<path class="c15" d="M2875 3275l9-26 8 16-10 28z"/>
<path class="c12" d="M2865 3300l10-25 7 18-10 27z"/>
<path class="c9" d="M2855 3323l10-23 7 20-9 25zM2779 3341l9 16 8 24-10-18z"/>
<path class="c7" d="M2846 3344l9-21 8 22-10 22zM2788 3357l10 12 7 25-9-13z"/>
<path class="c6" d="M2836 3360l10-16 7 23-9 18z"/>
<path class="c4" d="M2807 3375l10 1 10-5 9-11 8 25-10 12-10 6-9-1z"/>
<path class="c5" d="M2798 3369l9 6 8 27-10-8z"/>
<path class="c11" d="M2769 3322l10 19 7 22-10-21z"/>
<path class="c14" d="M2759 3301l10 21 7 20-9-22z"/>
<path class="c23" d="M2731 3237l9 21 8 15-10-22z"/>
<path class="c26" d="M2721 3217l10 20 7 14-10-22z"/>
<path class="c45" d="M2625 3096l10 7 7 6-10-7z"/>
<path class="c47" d="M2602 3084l23 12 7 6-23-13z"/>
<path class="c50" d="M2579 3075l23 9 7 5-22-8z"/>
<path class="c52" d="M2556 3069l23 6 8 6-23-6z"/>
<path class="c53" d="M2534 3066l22 3 8 6-23-4z"/>
<path class="c54" d="M2511 3065l23 1 7 5-23-1z"/>
<path class="c56" d="M2488 3065l23 0 7 5-23 0z"/>
<path class="c57" d="M2442 3068l23-2 23-1 7 5-23 1-22 3z"/>
<path class="c58" d="M2419 3071l23-3 8 6-23 3z"/>
<path class="c59" d="M2397 3075l22-4 8 6-23 3z"/>
<path class="c60" d="M2374 3080l23-5 7 5-23 5z"/>
<path class="c45" d="M3099 2927l21-16 7 3-20 16zM2632 3102l10 7 7 6-9-7z"/>
<path class="c44" d="M3079 2944l20-17 8 3-21 17zM2642 3109l10 8 7 6-10-8z"/>
<path class="c43" d="M3058 2962l21-18 7 3-21 19zM2652 3117l9 9 8 6-10-9z"/>
<path class="c41" d="M3037 2983l21-21 7 4-20 21zM2661 3126l10 10 7 7-9-11z"/>
<path class="c40" d="M3017 3007l20-24 8 4-21 24z"/>
<path class="c38" d="M3007 3019l10-12 7 4-10 13z"/>
<path class="c37" d="M2997 3032l10-13 7 5-9 13zM2680 3148l10 13 7 7-9-13z"/>
<path class="c36" d="M2988 3046l9-14 8 5-10 15z"/>
<path class="c35" d="M2978 3062l10-16 7 6-9 15zM2690 3161l10 15 7 8-10-16z"/>
<path class="c34" d="M2969 3078l9-16 8 5-10 17z"/>
<path class="c32" d="M2959 3096l10-18 7 6-10 19z"/>
<path class="c30" d="M2949 3116l10-20 7 7-9 20z"/>
<path class="c28" d="M2940 3137l9-21 8 7-10 22zM2719 3210l9 19 8 11-10-21z"/>
<path class="c26" d="M2930 3160l10-23 7 8-9 23z"/>
<path class="c24" d="M2921 3184l9-24 8 8-10 26z"/>
<path class="c22" d="M2911 3210l10-26 7 10-10 27zM2738 3251l10 22 7 13-10-24z"/>
<path class="c19" d="M2901 3237l10-27 7 11-9 28zM2748 3273l9 23 8 14-10-24z"/>
<path class="c16" d="M2892 3265l9-28 8 12-10 29zM2757 3296l10 24 7 15-9-25z"/>
<path class="c13" d="M2882 3293l10-28 7 13-10 30zM2767 3320l9 22 8 17-10-24z"/>
<path class="c11" d="M2872 3320l10-27 7 15-9 29z"/>
<path class="c8" d="M2863 3345l9-25 8 17-10 26z"/>
<path class="c6" d="M2853 3367l10-22 7 18-9 24z"/>
<path class="c4" d="M2844 3385l9-18 8 20-10 19z"/>
<path class="c2" d="M2815 3402l9 1 10-6 10-12 7 21-10 12-9 6-10-1z"/>
<path class="c3" d="M2805 3394l10 8 7 21-9-8z"/>
<path class="c5" d="M2796 3381l9 13 8 21-10-15z"/>
<path class="c7" d="M2786 3363l10 18 7 19-10-18z"/>
<path class="c10" d="M2776 3342l10 21 7 19-9-23z"/>
<path class="c25" d="M2728 3229l10 22 7 11-9-22z"/>
<path class="c31" d="M2709 3192l10 18 7 9-9-19z"/>
<path class="c33" d="M2700 3176l9 16 8 8-10-16z"/>
<path class="c39" d="M2671 3136l9 12 8 7-10-12z"/>
<path class="c47" d="M2609 3089l23 13 8 6-23-13z"/>
<path class="c50" d="M2587 3081l22 8 8 6-23-9z"/>
<path class="c52" d="M2564 3075l23 6 7 5-23-6z"/>
<path class="c53" d="M2541 3071l23 4 7 5-23-3z"/>
<path class="c54" d="M2518 3070l23 1 7 6-23-2z"/>
<path class="c56" d="M2495 3070l23 0 7 5-22 0z"/>
<path class="c57" d="M2472 3071l23-1 8 5-23 1z"/>
<path class="c58" d="M2427 3077l23-3 22-3 8 5-23 3-23 3z"/>
<path class="c59" d="M2404 3080l23-3 7 5-23 4z"/>
<path class="c60" d="M2381 3085l23-5 7 6-23 4z"/>
<path class="c45" d="M3107 2930l20-16 8 3-21 17zM2640 3108l9 7 8 6-10-7z"/>
<path class="c44" d="M3086 2947l21-17 7 4-21 17zM2649 3115l10 8 7 6-9-8z"/>
<path class="c43" d="M3065 2966l21-19 7 4-20 19zM2659 3123l10 9 7 6-10-9z"/>
<path class="c41" d="M3045 2987l20-21 8 4-21 21zM2669 3132l9 11 8 6-10-11z"/>
<path class="c40" d="M3024 3011l21-24 7 4-21 24z"/>
<path class="c38" d="M3014 3024l10-13 7 4-9 13z"/>
<path class="c37" d="M3005 3037l9-13 8 4-10 14zM2688 3155l9 13 8 7-10-14z"/>
<path class="c36" d="M2995 3052l10-15 7 5-9 14z"/>
<path class="c35" d="M2986 3067l9-15 8 4-10 16zM2697 3168l10 16 7 6-9-15z"/>
<path class="c34" d="M2976 3084l10-17 7 5-10 17z"/>
<path class="c32" d="M2966 3103l10-19 7 5-9 19z"/>
<path class="c30" d="M2957 3123l9-20 8 5-10 21zM2717 3200l9 19 8 8-10-19z"/>
<path class="c28" d="M2947 3145l10-22 7 6-10 22zM2726 3219l10 21 7 8-9-21z"/>
<path class="c26" d="M2938 3168l9-23 7 6-9 24z"/>
<path class="c24" d="M2928 3194l10-26 7 7-10 26z"/>
<path class="c21" d="M2918 3221l10-27 7 7-9 28z"/>
<path class="c18" d="M2909 3249l9-28 8 8-10 29zM2755 3286l10 24 7 10-10-25z"/>
<path class="c16" d="M2899 3278l10-29 7 9-10 30z"/>
<path class="c13" d="M2889 3308l10-30 7 10-9 30z"/>
<path class="c10" d="M2880 3337l9-29 8 10-10 30z"/>
<path class="c7" d="M2870 3363l10-26 7 11-9 28z"/>
<path class="c4" d="M2861 3387l9-24 8 13-10 25z"/>
<path class="c2" d="M2851 3406l10-19 7 14-10 19z"/>
<path class="c1" d="M2841 3418l10-12 7 14-9 13zM2813 3415l9 8 8 15-10-9z"/>
<path class="c0" d="M2822 3423l10 1 9-6 8 15-10 6-9-1z"/>
<path class="c3" d="M2803 3400l10 15 7 14-10-15z"/>
<path class="c6" d="M2793 3382l10 18 7 14-9-19z"/>
<path class="c9" d="M2784 3359l9 23 8 13-10-24z"/>
<path class="c12" d="M2774 3335l10 24 7 12-9-25z"/>
<path class="c15" d="M2765 3310l9 25 8 11-10-26z"/>
<path class="c22" d="M2745 3262l10 24 7 9-9-24z"/>
<path class="c25" d="M2736 3240l9 22 8 9-10-23z"/>
<path class="c33" d="M2707 3184l10 16 7 8-10-18z"/>
<path class="c39" d="M2678 3143l10 12 7 6-9-12z"/>
<path class="c47" d="M2617 3095l23 13 7 6-23-14z"/>
<path class="c50" d="M2594 3086l23 9 7 5-23-9z"/>
<path class="c52" d="M2571 3080l23 6 7 5-22-6z"/>
<path class="c53" d="M2548 3077l23 3 8 5-23-3z"/>
<path class="c55" d="M2525 3075l23 2 8 5-23-2z"/>
<path class="c56" d="M2503 3075l22 0 8 5-23 0z"/>
<path class="c57" d="M2480 3076l23-1 7 5-23 2z"/>
<path class="c58" d="M2434 3082l23-3 23-3 7 6-23 2-23 3z"/>
<path class="c59" d="M2411 3086l23-4 7 5-22 4z"/>
<path class="c60" d="M2388 3090l23-4 8 5-23 4z"/>
<path class="c45" d="M3114 2934l21-17 7 4-20 16zM2647 3114l10 7 7 5-10-8z"/>
<path class="c44" d="M3093 2951l21-17 8 3-21 17zM2657 3121l9 8 8 5-10-8z"/>
<path class="c43" d="M3073 2970l20-19 8 3-21 19zM2666 3129l10 9 7 5-9-9z"/>
<path class="c42" d="M3052 2991l21-21 7 3-21 22z"/>
<path class="c40" d="M3031 3015l21-24 7 4-20 24z"/>
<path class="c39" d="M3022 3028l9-13 8 4-10 13zM2686 3149l9 12 7 5-9-12z"/>
<path class="c38" d="M3012 3042l10-14 7 4-9 13z"/>
<path class="c36" d="M3003 3056l9-14 8 3-10 15z"/>
<path class="c35" d="M2993 3072l10-16 7 4-10 16zM2705 3175l9 15 8 6-10-16z"/>
<path class="c34" d="M2983 3089l10-17 7 4-9 17z"/>
<path class="c32" d="M2974 3108l9-19 8 4-10 19z"/>
<path class="c30" d="M2964 3129l10-21 7 4-10 21zM2724 3208l10 19 7 5-10-19z"/>
<path class="c28" d="M2954 3151l10-22 7 4-9 22zM2734 3227l9 21 8 5-10-21z"/>
<path class="c26" d="M2945 3175l9-24 8 4-10 25z"/>
<path class="c24" d="M2935 3201l10-26 7 5-9 26z"/>
<path class="c21" d="M2926 3229l9-28 8 5-10 28zM2753 3271l9 24 8 6-10-24z"/>
<path class="c18" d="M2916 3258l10-29 7 5-10 29zM2762 3295l10 25 7 7-9-26z"/>
<path class="c15" d="M2906 3288l10-30 7 5-9 31zM2772 3320l10 26 7 7-10-26z"/>
<path class="c12" d="M2897 3318l9-30 8 6-10 31z"/>
<path class="c9" d="M2887 3348l10-30 7 7-9 30z"/>
<path class="c6" d="M2878 3376l9-28 8 7-10 28z"/>
<path class="c4" d="M2868 3401l10-25 7 7-10 25z"/>
<path class="c2" d="M2858 3420l10-19 7 7-9 20z"/>
<path class="c0" d="M2830 3438l9 1 10-6 9-13 8 8-10 13-9 6-10-1z"/>
<path class="c1" d="M2820 3429l10 9 7 8-10-9z"/>
<path class="c3" d="M2810 3414l10 15 7 8-9-15z"/>
<path class="c5" d="M2801 3395l9 19 8 8-10-20z"/>
<path class="c8" d="M2791 3371l10 24 7 7-9-24z"/>
<path class="c11" d="M2782 3346l9 25 8 7-10-25z"/>
<path class="c25" d="M2743 3248l10 23 7 6-9-24z"/>
<path class="c33" d="M2714 3190l10 18 7 5-9-17z"/>
<path class="c37" d="M2695 3161l10 14 7 5-10-14z"/>
<path class="c41" d="M2676 3138l10 11 7 5-10-11z"/>
<path class="c47" d="M2624 3100l23 14 7 4-22-13z"/>
<path class="c50" d="M2601 3091l23 9 8 5-23-9z"/>
<path class="c52" d="M2579 3085l22 6 8 5-23-6z"/>
<path class="c53" d="M2556 3082l23 3 7 5-23-3z"/>
<path class="c55" d="M2533 3080l23 2 7 5-23-2z"/>
<path class="c56" d="M2510 3080l23 0 7 5-23 0z"/>
<path class="c57" d="M2487 3082l23-2 7 5-22 2z"/>
<path class="c58" d="M2441 3087l23-3 23-2 8 5-23 2-23 3z"/>
<path class="c59" d="M2419 3091l22-4 8 5-23 4z"/>
<path class="c60" d="M2396 3095l23-4 7 5-23 4z"/>
<path class="c45" d="M3122 2937l20-16 8 3-21 16zM2654 3118l10 8 7 4-9-7z"/>
<path class="c44" d="M3101 2954l21-17 7 3-21 17zM2664 3126l10 8 7 4-10-8z"/>
<path class="c43" d="M3080 2973l21-19 7 3-20 19zM2674 3134l9 9 8 4-10-9z"/>
<path class="c42" d="M3059 2995l21-22 8 3-21 22z"/>
<path class="c40" d="M3039 3019l20-24 8 3-21 24z"/>
<path class="c39" d="M3029 3032l10-13 7 3-9 13zM2693 3154l9 12 8 4-10-12z"/>
<path class="c38" d="M3020 3045l9-13 8 3-10 13z"/>
<path class="c37" d="M3010 3060l10-15 7 3-10 15zM2702 3166l10 14 7 4-9-14z"/>
<path class="c35" d="M3000 3076l10-16 7 3-9 16zM2712 3180l10 16 7 3-10-15z"/>
<path class="c34" d="M2991 3093l9-17 8 3-10 17z"/>
<path class="c32" d="M2981 3112l10-19 7 3-10 19z"/>
<path class="c31" d="M2971 3133l10-21 7 3-9 21z"/>
<path class="c29" d="M2962 3155l9-22 8 3-10 22z"/>
<path class="c26" d="M2952 3180l10-25 7 3-9 24z"/>
<path class="c24" d="M2943 3206l9-26 8 2-10 26z"/>
<path class="c21" d="M2933 3234l10-28 7 2-10 28z"/>
<path class="c18" d="M2923 3263l10-29 7 2-9 29zM2770 3301l9 26 8 2-10-25z"/>
<path class="c15" d="M2914 3294l9-31 8 2-10 31zM2779 3327l10 26 7 2-9-26z"/>
<path class="c12" d="M2904 3325l10-31 7 2-9 30z"/>
<path class="c9" d="M2895 3355l9-30 8 1-10 30z"/>
<path class="c7" d="M2885 3383l10-28 7 1-10 28z"/>
<path class="c4" d="M2875 3408l10-25 7 1-9 25z"/>
<path class="c2" d="M2866 3428l9-20 8 1-10 19z"/>
<path class="c0" d="M2837 3446l10 1 9-6 10-13 7 0-9 13-10 7-10-2z"/>
<path class="c1" d="M2827 3437l10 9 7 0-9-8z"/>
<path class="c3" d="M2818 3422l9 15 8 1-10-15z"/>
<path class="c5" d="M2808 3402l10 20 7 1-9-20z"/>
<path class="c8" d="M2799 3378l9 24 8 1-10-23z"/>
<path class="c11" d="M2789 3353l10 25 7 2-10-25z"/>
<path class="c22" d="M2760 3277l10 24 7 3-9-25z"/>
<path class="c25" d="M2751 3253l9 24 8 2-10-22z"/>
<path class="c28" d="M2741 3232l10 21 7 4-10-21z"/>
<path class="c30" d="M2731 3213l10 19 7 4-9-19z"/>
<path class="c33" d="M2722 3196l9 17 8 4-10-18z"/>
<path class="c41" d="M2683 3143l10 11 7 4-9-11z"/>
<path class="c47" d="M2632 3105l22 13 8 5-23-13z"/>
<path class="c50" d="M2609 3096l23 9 7 5-23-9z"/>
<path class="c52" d="M2586 3090l23 6 7 5-23-6z"/>
<path class="c53" d="M2563 3087l23 3 7 5-23-3z"/>
<path class="c55" d="M2540 3085l23 2 7 5-22-2z"/>
<path class="c56" d="M2517 3085l23 0 8 5-23 0z"/>
<path class="c57" d="M2495 3087l22-2 8 5-23 2z"/>
<path class="c58" d="M2449 3092l23-3 23-2 7 5-23 2-23 3z"/>
<path class="c59" d="M2426 3096l23-4 7 5-23 4z"/>
<path class="c60" d="M2403 3100l23-4 7 5-22 4z"/>
<path class="c46" d="M3129 2940l21-16 7 3-21 16zM2662 3123l9 7 8 4-10-7z"/>
<path class="c45" d="M3108 2957l21-17 7 3-20 17z"/>
<path class="c44" d="M3088 2976l20-19 8 3-21 19zM2671 3130l10 8 7 4-9-8z"/>
<path class="c42" d="M3067 2998l21-22 7 3-21 21z"/>
<path class="c41" d="M3046 3022l21-24 7 2-20 25zM2691 3147l9 11 8 3-10-10z"/>
<path class="c39" d="M3037 3035l9-13 8 3-10 12z"/>
<path class="c38" d="M3027 3048l10-13 7 2-10 14zM2710 3170l9 14 8 3-10-14z"/>
<path class="c37" d="M3017 3063l10-15 7 3-9 14z"/>
<path class="c36" d="M3008 3079l9-16 8 2-10 16zM2719 3184l10 15 7 3-9-15z"/>
<path class="c34" d="M2998 3096l10-17 7 2-10 17z"/>
<path class="c33" d="M2988 3115l10-19 7 2-9 19zM2729 3199l10 18 7 1-10-16z"/>
<path class="c31" d="M2979 3136l9-21 8 2-10 20zM2739 3217l9 19 8 1-10-19z"/>
<path class="c29" d="M2969 3158l10-22 7 1-9 22z"/>
<path class="c27" d="M2960 3182l9-24 8 1-10 24z"/>
<path class="c24" d="M2950 3208l10-26 7 1-10 25z"/>
<path class="c22" d="M2940 3236l10-28 7 0-9 27zM2768 3279l9 25 8-1-10-23z"/>
<path class="c19" d="M2931 3265l9-29 8-1-10 29zM2777 3304l10 25 7-1-9-25z"/>
<path class="c16" d="M2921 3296l10-31 7-1-9 29z"/>
<path class="c13" d="M2912 3326l9-30 8-3-10 30z"/>
<path class="c10" d="M2902 3356l10-30 7-3-10 29z"/>
<path class="c7" d="M2892 3384l10-28 7-4-9 27z"/>
<path class="c5" d="M2883 3409l9-25 8-5-10 24z"/>
<path class="c3" d="M2873 3428l10-19 7-6-9 19z"/>
<path class="c1" d="M2844 3446l10 2 10-7 9-13 8-6-10 13-10 6-9-2z"/>
<path class="c2" d="M2835 3438l9 8 8-7-10-8z"/>
<path class="c4" d="M2825 3423l10 15 7-7-9-14z"/>
<path class="c6" d="M2816 3403l9 20 8-6-10-19z"/>
<path class="c9" d="M2806 3380l10 23 7-5-10-22z"/>
<path class="c12" d="M2796 3355l10 25 7-4-9-24z"/>
<path class="c15" d="M2787 3329l9 26 8-3-10-24z"/>
<path class="c25" d="M2758 3257l10 22 7 1-10-23z"/>
<path class="c28" d="M2748 3236l10 21 7 0-9-20z"/>
<path class="c40" d="M2700 3158l10 12 7 3-9-12z"/>
<path class="c43" d="M2681 3138l10 9 7 4-10-9z"/>
<path class="c48" d="M2639 3110l23 13 7 4-23-13z"/>
<path class="c50" d="M2616 3101l23 9 7 4-22-9z"/>
<path class="c52" d="M2593 3095l23 6 8 4-23-6z"/>
<path class="c53" d="M2570 3092l23 3 8 4-23-3z"/>
<path class="c55" d="M2548 3090l22 2 8 4-23-1z"/>
<path class="c56" d="M2525 3090l23 0 7 5-23 0z"/>
<path class="c57" d="M2502 3092l23-2 7 5-23 1z"/>
<path class="c58" d="M2456 3097l23-3 23-2 7 4-23 3-22 3z"/>
<path class="c59" d="M2433 3101l23-4 8 5-23 4z"/>
<path class="c60" d="M2411 3105l22-4 8 5-23 4z"/>
<path class="c46" d="M3136 2943l21-16 7 3-20 16zM2669 3127l10 7 7 3-9-7z"/>
<path class="c45" d="M3116 2960l20-17 8 3-21 17z"/>
<path class="c44" d="M3095 2979l21-19 7 3-21 19zM2679 3134l9 8 8 3-10-8z"/>
<path class="c43" d="M3074 3000l21-21 7 3-20 21zM2688 3142l10 9 7 3-9-9z"/>
<path class="c41" d="M3054 3025l20-25 8 3-21 24z"/>
<path class="c40" d="M3044 3037l10-12 7 2-10 12zM2708 3161l9 12 8 2-10-11z"/>
<path class="c38" d="M3034 3051l10-14 7 2-9 14zM2717 3173l10 14 7 1-9-13z"/>
<path class="c37" d="M3025 3065l9-14 8 2-10 14z"/>
<path class="c36" d="M3015 3081l10-16 7 2-10 15zM2727 3187l9 15 8 1-10-15z"/>
<path class="c35" d="M3005 3098l10-17 7 1-9 17z"/>
<path class="c33" d="M2996 3117l9-19 8 1-10 19z"/>
<path class="c31" d="M2986 3137l10-20 7 1-9 19zM2746 3218l10 19 7 0-10-18z"/>
<path class="c29" d="M2977 3159l9-22 8 0-10 22zM2756 3237l9 20 8-1-10-19z"/>
<path class="c27" d="M2967 3183l10-24 7 0-10 23z"/>
<path class="c25" d="M2957 3208l10-25 7-1-9 24z"/>
<path class="c23" d="M2948 3235l9-27 8-2-10 26zM2775 3280l10 23 7-4-10-22z"/>
<path class="c20" d="M2938 3264l10-29 7-3-9 28zM2785 3303l9 25 8-6-10-23z"/>
<path class="c17" d="M2929 3293l9-29 8-4-10 28zM2794 3328l10 24 7-6-9-24z"/>
<path class="c14" d="M2919 3323l10-30 7-5-10 28z"/>
<path class="c11" d="M2909 3352l10-29 7-7-9 27z"/>
<path class="c9" d="M2900 3379l9-27 8-9-10 26z"/>
<path class="c6" d="M2890 3403l10-24 7-10-9 22z"/>
<path class="c4" d="M2881 3422l9-19 8-12-10 18zM2842 3431l10 8 7-13-9-7z"/>
<path class="c3" d="M2852 3439l9 2 10-6 10-13 7-13-10 12-9 6-10-1z"/>
<path class="c5" d="M2833 3417l9 14 8-12-10-13z"/>
<path class="c8" d="M2823 3398l10 19 7-11-10-17z"/>
<path class="c10" d="M2813 3376l10 22 7-9-9-21z"/>
<path class="c13" d="M2804 3352l9 24 8-8-10-22z"/>
<path class="c26" d="M2765 3257l10 23 7-3-9-21z"/>
<path class="c34" d="M2736 3202l10 16 7 1-9-16z"/>
<path class="c42" d="M2698 3151l10 10 7 3-10-10z"/>
<path class="c48" d="M2646 3114l23 13 8 3-23-12z"/>
<path class="c50" d="M2624 3105l22 9 8 4-23-9z"/>
<path class="c52" d="M2601 3099l23 6 7 4-23-5z"/>
<path class="c53" d="M2578 3096l23 3 7 5-23-3z"/>
<path class="c55" d="M2555 3095l23 1 7 5-23-1z"/>
<path class="c56" d="M2532 3095l23 0 7 5-22 0z"/>
<path class="c57" d="M2509 3096l23-1 8 5-23 1z"/>
<path class="c58" d="M2464 3102l22-3 23-3 8 5-23 3-23 3z"/>
<path class="c59" d="M2441 3106l23-4 7 5-23 4z"/>
<path class="c60" d="M2418 3110l23-4 7 5-23 4z"/>
<path class="c46" d="M3144 2946l20-16 8 3-21 15zM2677 3130l9 7 8 3-10-6z"/>
<path class="c45" d="M3123 2963l21-17 7 2-21 17zM2686 3137l10 8 7 2-9-7z"/>
<path class="c44" d="M3102 2982l21-19 7 2-20 19z"/>
<path class="c43" d="M3082 3003l20-21 8 2-21 21zM2696 3145l9 9 8 2-10-9z"/>
<path class="c41" d="M3061 3027l21-24 7 2-21 24z"/>
<path class="c40" d="M3051 3039l10-12 7 2-9 12zM2715 3164l10 11 7 1-10-10z"/>
<path class="c39" d="M3042 3053l9-14 8 2-10 13z"/>
<path class="c38" d="M3032 3067l10-14 7 1-10 14zM2725 3175l9 13 8 1-10-13z"/>
<path class="c37" d="M3022 3082l10-15 7 1-9 15z"/>
<path class="c35" d="M3013 3099l9-17 8 1-10 16z"/>
<path class="c34" d="M3003 3118l10-19 7 0-9 18zM2744 3203l9 16 8-1-10-16z"/>
<path class="c32" d="M2994 3137l9-19 8-1-10 19zM2753 3219l10 18 7-3-9-16z"/>
<path class="c30" d="M2984 3159l10-22 7-1-10 21z"/>
<path class="c28" d="M2974 3182l10-23 7-2-9 22z"/>
<path class="c26" d="M2965 3206l9-24 8-3-10 23z"/>
<path class="c24" d="M2955 3232l10-26 7-4-9 25zM2782 3277l10 22 7-6-9-21z"/>
<path class="c21" d="M2946 3260l9-28 8-5-10 26zM2792 3299l10 23 7-8-10-21z"/>
<path class="c18" d="M2936 3288l10-28 7-7-10 26zM2802 3322l9 24 7-10-9-22z"/>
<path class="c16" d="M2926 3316l10-28 7-9-9 26z"/>
<path class="c13" d="M2917 3343l9-27 8-11-10 26z"/>
<path class="c11" d="M2907 3369l10-26 7-12-9 24z"/>
<path class="c8" d="M2898 3391l9-22 8-14-10 20zM2840 3406l10 13 7-17-10-12z"/>
<path class="c7" d="M2888 3409l10-18 7-16-10 17z"/>
<path class="c6" d="M2878 3421l10-12 7-17-9 11zM2850 3419l9 7 8-18-10-6z"/>
<path class="c5" d="M2859 3426l10 1 9-6 8-18-10 6-9-1z"/>
<path class="c10" d="M2830 3389l10 17 7-16-9-15z"/>
<path class="c12" d="M2821 3368l9 21 8-14-10-19z"/>
<path class="c15" d="M2811 3346l10 22 7-12-10-20z"/>
<path class="c27" d="M2773 3256l9 21 8-5-10-19z"/>
<path class="c29" d="M2763 3237l10 19 7-3-10-19z"/>
<path class="c36" d="M2734 3188l10 15 7-1-9-13z"/>
<path class="c42" d="M2705 3154l10 10 7 2-9-10z"/>
<path class="c48" d="M2654 3118l23 12 7 4-23-12z"/>
<path class="c50" d="M2631 3109l23 9 7 4-23-9z"/>
<path class="c52" d="M2608 3104l23 5 7 4-23-5z"/>
<path class="c54" d="M2585 3101l23 3 7 4-22-3z"/>
<path class="c55" d="M2562 3100l23 1 8 4-23-1z"/>
<path class="c56" d="M2540 3100l22 0 8 4-23 0z"/>
<path class="c57" d="M2517 3101l23-1 7 4-23 2z"/>
<path class="c58" d="M2494 3104l23-3 7 5-23 3z"/>
<path class="c59" d="M2448 3111l23-4 23-3 7 5-23 3-22 4z"/>
<path class="c60" d="M2425 3115l23-4 8 5-23 4z"/>
<path class="c46" d="M3130 2965l21-17 21-15 7 2-21 16-20 17zM2684 3134l10 6 7 2-10-6z"/>
<path class="c44" d="M3110 2984l20-19 8 3-21 18zM2703 3147l10 9 7 2-9-9z"/>
<path class="c43" d="M3089 3005l21-21 7 2-21 21z"/>
<path class="c42" d="M3068 3029l21-24 7 2-20 23zM2713 3156l9 10 8 1-10-9z"/>
<path class="c40" d="M3059 3041l9-12 8 1-10 12z"/>
<path class="c39" d="M3049 3054l10-13 7 1-10 13zM2732 3176l10 13 7-1-10-11z"/>
<path class="c38" d="M3039 3068l10-14 7 1-9 13z"/>
<path class="c37" d="M3030 3083l9-15 8 0-10 15zM2742 3189l9 13 8-1-10-13z"/>
<path class="c36" d="M3020 3099l10-16 7 0-9 16z"/>
<path class="c34" d="M3011 3117l9-18 8 0-10 17z"/>
<path class="c33" d="M3001 3136l10-19 7-1-10 18zM2761 3218l9 16 8-3-10-16z"/>
<path class="c31" d="M2991 3157l10-21 7-2-9 19z"/>
<path class="c29" d="M2982 3179l9-22 8-4-10 21z"/>
<path class="c27" d="M2972 3202l10-23 7-5-9 22z"/>
<path class="c25" d="M2963 3227l9-25 8-6-10 24zM2790 3272l9 21 8-8-10-19z"/>
<path class="c23" d="M2953 3253l10-26 7-7-10 24zM2799 3293l10 21 7-10-9-19z"/>
<path class="c20" d="M2943 3279l10-26 7-9-9 24zM2809 3314l9 22 8-13-10-19z"/>
<path class="c18" d="M2934 3305l9-26 8-11-10 24z"/>
<path class="c15" d="M2924 3331l10-26 7-13-9 24z"/>
<path class="c13" d="M2915 3355l9-24 8-15-10 21z"/>
<path class="c11" d="M2905 3375l10-20 7-18-10 19z"/>
<path class="c9" d="M2895 3392l10-17 7-19-9 15zM2857 3402l10 6 7-21-10-6z"/>
<path class="c8" d="M2867 3408l9 1 10-6 9-11 8-21-10 11-9 5-10 0z"/>
<path class="c10" d="M2847 3390l10 12 7-21-9-10z"/>
<path class="c12" d="M2838 3375l9 15 8-19-10-13z"/>
<path class="c14" d="M2828 3356l10 19 7-17-10-17z"/>
<path class="c17" d="M2818 3336l10 20 7-15-9-18z"/>
<path class="c28" d="M2780 3253l10 19 7-6-10-18z"/>
<path class="c30" d="M2770 3234l10 19 7-5-9-17z"/>
<path class="c35" d="M2751 3202l10 16 7-3-9-14z"/>
<path class="c41" d="M2722 3166l10 10 7 1-9-10z"/>
<path class="c45" d="M2694 3140l9 7 8 2-10-7z"/>
<path class="c48" d="M2661 3122l23 12 7 2-22-11z"/>
<path class="c50" d="M2638 3113l23 9 8 3-23-8z"/>
<path class="c52" d="M2615 3108l23 5 8 4-23-5z"/>
<path class="c54" d="M2593 3105l22 3 8 4-23-3z"/>
<path class="c55" d="M2570 3104l23 1 7 4-23 0z"/>
<path class="c56" d="M2547 3104l23 0 7 5-23 0z"/>
<path class="c57" d="M2524 3106l23-2 7 5-23 2z"/>
<path class="c58" d="M2501 3109l23-3 7 5-22 2z"/>
<path class="c59" d="M2456 3116l22-4 23-3 8 4-23 4-23 4z"/>
<path class="c60" d="M2433 3120l23-4 7 5-23 4z"/>
<path class="c47" d="M3158 2951l21-16 8 3-21 15zM2691 3136l10 6 7 2-9-5z"/>
<path class="c46" d="M3138 2968l20-17 8 2-21 17zM2701 3142l10 7 7 2-10-7z"/>
<path class="c45" d="M3117 2986l21-18 7 2-21 18z"/>
<path class="c44" d="M3096 3007l21-21 7 2-20 20zM2711 3149l9 9 8 1-10-8z"/>
<path class="c42" d="M3076 3030l20-23 8 1-21 23z"/>
<path class="c41" d="M3066 3042l10-12 7 1-10 12zM2730 3167l9 10 8 0-10-10z"/>
<path class="c40" d="M3056 3055l10-13 7 1-9 12zM2739 3177l10 11 7-1-9-10z"/>
<path class="c39" d="M3047 3068l9-13 8 0-10 13z"/>
<path class="c38" d="M3037 3083l10-15 7 0-9 14zM2749 3188l10 13 7-2-10-12z"/>
<path class="c37" d="M3028 3099l9-16 8-1-10 15z"/>
<path class="c35" d="M3018 3116l10-17 7-2-10 17z"/>
<path class="c34" d="M3008 3134l10-18 7-2-9 17zM2768 3215l10 16 7-5-9-14z"/>
<path class="c32" d="M2999 3153l9-19 8-3-10 18zM2778 3231l9 17 8-6-10-16z"/>
<path class="c30" d="M2989 3174l10-21 7-4-9 20z"/>
<path class="c28" d="M2980 3196l9-22 8-5-10 21z"/>
<path class="c26" d="M2970 3220l10-24 7-6-10 21z"/>
<path class="c24" d="M2960 3244l10-24 7-9-9 22zM2807 3285l9 19 8-12-10-17z"/>
<path class="c22" d="M2951 3268l9-24 8-11-10 23zM2816 3304l10 19 7-14-9-17z"/>
<path class="c20" d="M2941 3292l10-24 7-12-9 22z"/>
<path class="c18" d="M2932 3316l9-24 8-14-10 21z"/>
<path class="c16" d="M2922 3337l10-21 7-17-10 19z"/>
<path class="c14" d="M2912 3356l10-19 7-19-9 17z"/>
<path class="c12" d="M2893 3382l10-11 9-15 8-21-10 14-9 9zM2864 3381l10 6 7-24-9-4z"/>
<path class="c11" d="M2874 3387l10 0 9-5 8-24-10 5-10 0z"/>
<path class="c13" d="M2855 3371l9 10 8-22-10-8z"/>
<path class="c15" d="M2845 3358l10 13 7-20-10-12z"/>
<path class="c17" d="M2835 3341l10 17 7-19-9-14z"/>
<path class="c19" d="M2826 3323l9 18 8-16-10-16z"/>
<path class="c27" d="M2797 3266l10 19 7-10-10-17z"/>
<path class="c29" d="M2787 3248l10 18 7-8-9-16z"/>
<path class="c36" d="M2759 3201l9 14 8-3-10-13z"/>
<path class="c43" d="M2720 3158l10 9 7 0-9-8z"/>
<path class="c48" d="M2669 3125l22 11 8 3-23-11z"/>
<path class="c51" d="M2646 3117l23 8 7 3-23-7z"/>
<path class="c52" d="M2623 3112l23 5 7 4-23-5z"/>
<path class="c54" d="M2600 3109l23 3 7 4-23-2z"/>
<path class="c55" d="M2577 3109l23 0 7 5-22-1z"/>
<path class="c56" d="M2554 3109l23 0 8 4-23 1z"/>
<path class="c57" d="M2531 3111l23-2 8 5-23 1z"/>
<path class="c58" d="M2509 3113l22-2 8 4-23 3z"/>
<path class="c59" d="M2463 3121l23-4 23-4 7 5-23 4-23 4z"/>
<path class="c60" d="M2440 3125l23-4 7 5-22 4z"/>
<path class="c47" d="M3166 2953l21-15 7 3-21 15zM2699 3139l9 5 8 2-10-5z"/>
<path class="c46" d="M3145 2970l21-17 7 3-20 16zM2708 3144l10 7 7 1-9-6z"/>
<path class="c45" d="M3124 2988l21-18 8 2-21 18zM2718 3151l10 8 7 0-10-7z"/>
<path class="c44" d="M3104 3008l20-20 8 2-21 20z"/>
<path class="c43" d="M3083 3031l21-23 7 2-21 22zM2728 3159l9 8 8 0-10-8z"/>
<path class="c41" d="M3064 3055l9-12 10-12 7 1-9 11-10 12z"/>
<path class="c40" d="M3054 3068l10-13 7 0-9 13zM2747 3177l9 10 8-2-10-9z"/>
<path class="c38" d="M3045 3082l9-14 8 0-10 13z"/>
<path class="c37" d="M3035 3097l10-15 7-1-10 15zM2766 3199l10 13 7-4-10-12z"/>
<path class="c36" d="M3025 3114l10-17 7-1-9 15z"/>
<path class="c35" d="M3016 3131l9-17 8-3-10 16zM2776 3212l9 14 8-5-10-13z"/>
<path class="c33" d="M3006 3149l10-18 7-4-9 17zM2785 3226l10 16 7-7-9-14z"/>
<path class="c31" d="M2997 3169l9-20 8-5-10 19zM2795 3242l9 16 8-9-10-14z"/>
<path class="c30" d="M2987 3190l10-21 7-6-10 19z"/>
<path class="c28" d="M2977 3211l10-21 7-8-9 20z"/>
<path class="c26" d="M2968 3233l9-22 8-9-10 20zM2814 3275l10 17 7-13-10-15z"/>
<path class="c24" d="M2958 3256l10-23 7-11-9 20zM2824 3292l9 17 8-16-10-14z"/>
<path class="c22" d="M2949 3278l9-22 8-14-10 20zM2833 3309l10 16 7-18-9-14z"/>
<path class="c20" d="M2939 3299l10-21 7-16-10 19zM2843 3325l9 14 8-20-10-12z"/>
<path class="c18" d="M2929 3318l10-19 7-18-9 17zM2852 3339l10 12 7-22-9-10z"/>
<path class="c17" d="M2920 3335l9-17 8-20-10 15z"/>
<path class="c16" d="M2910 3349l10-14 7-22-9 13zM2862 3351l10 8 7-23-10-7z"/>
<path class="c15" d="M2901 3358l9-9 8-23-10 8zM2872 3359l9 4 10 0 7-24-9 0-10-3z"/>
<path class="c14" d="M2891 3363l10-5 7-24-10 5z"/>
<path class="c29" d="M2804 3258l10 17 7-11-9-15z"/>
<path class="c39" d="M2756 3187l10 12 7-3-9-11z"/>
<path class="c42" d="M2737 3167l10 10 7-1-9-9z"/>
<path class="c49" d="M2676 3128l23 11 7 2-23-10z"/>
<path class="c51" d="M2653 3121l23 7 7 3-23-7z"/>
<path class="c53" d="M2630 3116l23 5 7 3-22-4z"/>
<path class="c54" d="M2607 3114l23 2 8 4-23-2z"/>
<path class="c55" d="M2585 3113l22 1 8 4-23-1z"/>
<path class="c56" d="M2562 3114l23-1 7 4-23 1z"/>
<path class="c57" d="M2539 3115l23-1 7 4-23 2z"/>
<path class="c58" d="M2516 3118l23-3 7 5-23 3z"/>
<path class="c59" d="M2470 3126l23-4 23-4 7 5-22 3-23 5z"/>
<path class="c60" d="M2448 3130l22-4 8 5-23 4z"/>
<path class="c47" d="M3153 2972l20-16 21-15 7 2-20 15-21 16zM2706 3141l10 5 7 1-9-4z"/>
<path class="c46" d="M3132 2990l21-18 7 2-21 18zM2716 3146l9 6 8 1-10-6z"/>
<path class="c44" d="M3111 3010l21-20 7 2-20 19zM2735 3159l10 8 7 0-10-8z"/>
<path class="c43" d="M3090 3032l21-22 8 1-21 21zM2745 3167l9 9 8-2-10-7z"/>
<path class="c42" d="M3081 3043l9-11 8 0-10 11z"/>
<path class="c41" d="M3071 3055l10-12 7 0-9 12zM2754 3176l10 9 7-2-9-9z"/>
<path class="c40" d="M3062 3068l9-13 8 0-10 12zM2764 3185l9 11 8-3-10-10z"/>
<path class="c39" d="M3052 3081l10-13 7-1-10 13z"/>
<path class="c38" d="M3042 3096l10-15 7-1-9 13zM2773 3196l10 12 7-4-9-11z"/>
<path class="c37" d="M3033 3111l9-15 8-3-10 15z"/>
<path class="c36" d="M3023 3127l10-16 7-3-9 15zM2783 3208l10 13 7-6-10-11z"/>
<path class="c34" d="M3014 3144l9-17 8-4-10 16zM2793 3221l9 14 8-8-10-12z"/>
<path class="c33" d="M3004 3163l10-19 7-5-10 17z"/>
<path class="c31" d="M2994 3182l10-19 7-7-9 18z"/>
<path class="c29" d="M2985 3202l9-20 8-8-10 18z"/>
<path class="c28" d="M2975 3222l10-20 7-10-9 18zM2821 3264l10 15 7-14-9-12z"/>
<path class="c26" d="M2966 3242l9-20 8-12-10 18zM2831 3279l10 14 7-15-10-13z"/>
<path class="c24" d="M2956 3262l10-20 7-14-10 18zM2841 3293l9 14 8-17-10-12z"/>
<path class="c23" d="M2946 3281l10-19 7-16-9 17z"/>
<path class="c21" d="M2937 3298l9-17 8-18-10 15zM2860 3319l9 10 8-21-10-8z"/>
<path class="c20" d="M2927 3313l10-15 7-20-10 14zM2869 3329l10 7 7-23-9-5z"/>
<path class="c19" d="M2918 3326l9-13 7-21-9 11zM2879 3336l10 3 7-23-10-3z"/>
<path class="c18" d="M2889 3339l9 0 10-5 10-8 7-23-10 7-9 5-10 1z"/>
<path class="c22" d="M2850 3307l10 12 7-19-9-10z"/>
<path class="c30" d="M2812 3249l9 15 8-11-10-13z"/>
<path class="c32" d="M2802 3235l10 14 7-9-9-13z"/>
<path class="c45" d="M2725 3152l10 7 7 0-9-6z"/>
<path class="c49" d="M2683 3131l23 10 8 2-23-10z"/>
<path class="c51" d="M2660 3124l23 7 8 2-23-6z"/>
<path class="c53" d="M2638 3120l22 4 8 3-23-4z"/>
<path class="c54" d="M2615 3118l23 2 7 3-23-1z"/>
<path class="c55" d="M2592 3117l23 1 7 4-23-1z"/>
<path class="c56" d="M2569 3118l23-1 7 4-23 1z"/>
<path class="c57" d="M2546 3120l23-2 7 4-22 2z"/>
<path class="c58" d="M2523 3123l23-3 8 4-23 3z"/>
<path class="c59" d="M2478 3131l23-5 22-3 8 4-23 4-23 4z"/>
<path class="c60" d="M2455 3135l23-4 7 4-23 5z"/>
<path class="c48" d="M3181 2958l20-15 8 2-21 15zM2714 3143l9 4 8 2-10-5z"/>
<path class="c47" d="M3160 2974l21-16 7 2-21 16zM2723 3147l10 6 7 1-9-5z"/>
<path class="c46" d="M3139 2992l21-18 7 2-20 17zM2733 3153l9 6 8 0-10-5z"/>
<path class="c45" d="M3119 3011l20-19 8 1-21 19zM2742 3159l10 8 7-1-9-7z"/>
<path class="c44" d="M3098 3032l21-21 7 1-21 21z"/>
<path class="c43" d="M3088 3043l10-11 7 1-9 10zM2752 3167l10 7 7-1-10-7z"/>
<path class="c42" d="M3079 3055l9-12 8 0-10 11zM2762 3174l9 9 8-2-10-8z"/>
<path class="c41" d="M3069 3067l10-12 7-1-10 12zM2771 3183l10 10 7-4-9-8z"/>
<path class="c40" d="M3059 3080l10-13 7-1-9 12z"/>
<path class="c39" d="M3050 3093l9-13 8-2-10 13zM2781 3193l9 11 8-5-10-10z"/>
<path class="c38" d="M3040 3108l10-15 7-2-9 13z"/>
<path class="c37" d="M3031 3123l9-15 8-4-10 15zM2790 3204l10 11 7-6-9-10z"/>
<path class="c35" d="M3021 3139l10-16 7-4-10 15z"/>
<path class="c34" d="M3011 3156l10-17 7-5-9 15zM2810 3227l9 13 8-10-10-11z"/>
<path class="c33" d="M3002 3174l9-18 8-7-10 16z"/>
<path class="c31" d="M2992 3192l10-18 7-9-9 17z"/>
<path class="c30" d="M2983 3210l9-18 8-10-10 16zM2829 3253l9 12 8-13-10-11z"/>
<path class="c28" d="M2973 3228l10-18 7-12-10 17z"/>
<path class="c27" d="M2963 3246l10-18 7-13-9 15zM2848 3278l10 12 7-18-10-9z"/>
<path class="c25" d="M2954 3263l9-17 8-16-10 15zM2858 3290l9 10 8-19-10-9z"/>
<path class="c24" d="M2944 3278l10-15 7-18-10 14zM2867 3300l10 8 7-21-9-6z"/>
<path class="c23" d="M2934 3292l10-14 7-19-9 12zM2877 3308l9 5 8-22-10-4z"/>
<path class="c22" d="M2925 3303l9-11 8-21-10 10zM2886 3313l10 3 7-23-9-2z"/>
<path class="c21" d="M2896 3316l10-1 9-5 10-7 7-22-9 6-10 5-10 1z"/>
<path class="c29" d="M2838 3265l10 13 7-15-9-11z"/>
<path class="c32" d="M2819 3240l10 13 7-12-9-11z"/>
<path class="c36" d="M2800 3215l10 12 7-8-10-10z"/>
<path class="c50" d="M2691 3133l23 10 7 1-23-8z"/>
<path class="c51" d="M2668 3127l23 6 7 3-23-6z"/>
<path class="c53" d="M2645 3123l23 4 7 3-23-3z"/>
<path class="c54" d="M2622 3122l23 1 7 4-22-1z"/>
<path class="c56" d="M2599 3121l23 1 8 4-23 0z"/>
<path class="c57" d="M2554 3124l22-2 23-1 8 5-23 1-23 2z"/>
<path class="c58" d="M2531 3127l23-3 7 5-23 3z"/>
<path class="c59" d="M2508 3131l23-4 7 5-23 4z"/>
<path class="c60" d="M2462 3140l23-5 23-4 7 5-23 4-22 5z"/>
<path class="c48" d="M3188 2960l21-15 7 3-21 14zM2721 3144l10 5 7 1-10-4z"/>
<path class="c47" d="M3167 2976l21-16 7 2-20 16zM2731 3149l9 5 8 0-10-4z"/>
<path class="c46" d="M3147 2993l20-17 8 2-21 17zM2740 3154l10 5 7 0-9-5z"/>
<path class="c45" d="M3126 3012l21-19 7 2-21 18zM2750 3159l9 7 8-1-10-6z"/>
<path class="c44" d="M3105 3033l21-21 7 1-20 20zM2759 3166l10 7 7-2-9-6z"/>
<path class="c43" d="M3096 3043l9-10 8 0-10 10zM2769 3173l10 8 7-3-10-7z"/>
<path class="c42" d="M3076 3066l10-12 10-11 7 0-10 10-9 11zM2779 3181l9 8 8-3-10-8z"/>
<path class="c41" d="M3067 3078l9-12 8-2-10 12z"/>
<path class="c40" d="M3057 3091l10-13 7-2-9 12zM2788 3189l10 10 7-5-9-8z"/>
<path class="c39" d="M3048 3104l9-13 8-3-10 13zM2798 3199l9 10 8-6-10-9z"/>
<path class="c38" d="M3038 3119l10-15 7-3-10 13z"/>
<path class="c37" d="M3028 3134l10-15 7-5-9 14zM2807 3209l10 10 7-7-9-9z"/>
<path class="c35" d="M3019 3149l9-15 8-6-10 14z"/>
<path class="c34" d="M3009 3165l10-16 7-7-9 15zM2827 3230l9 11 8-11-10-9z"/>
<path class="c33" d="M3000 3182l9-17 8-8-10 15z"/>
<path class="c31" d="M2990 3198l10-16 7-10-10 15zM2846 3252l9 11 8-15-10-9z"/>
<path class="c30" d="M2980 3215l10-17 7-11-9 14z"/>
<path class="c29" d="M2971 3230l9-15 8-14-10 14zM2855 3263l10 9 7-16-9-8z"/>
<path class="c28" d="M2961 3245l10-15 7-15-10 14zM2865 3272l10 9 7-18-10-7z"/>
<path class="c27" d="M2951 3259l10-14 7-16-9 12zM2875 3281l9 6 8-19-10-5z"/>
<path class="c26" d="M2942 3271l9-12 8-18-10 10zM2884 3287l10 4 7-20-9-3z"/>
<path class="c25" d="M2932 3281l10-10 7-20-9 9zM2894 3291l9 2 8-21-10-1z"/>
<path class="c24" d="M2903 3293l10-1 10-5 9-6 8-21-10 6-10 4-9 2z"/>
<path class="c32" d="M2836 3241l10 11 7-13-9-9z"/>
<path class="c36" d="M2817 3219l10 11 7-9-10-9z"/>
<path class="c50" d="M2698 3136l23 8 7 2-23-8z"/>
<path class="c52" d="M2675 3130l23 6 7 2-22-5z"/>
<path class="c53" d="M2652 3127l23 3 8 3-23-3z"/>
<path class="c55" d="M2630 3126l22 1 8 3-23-1z"/>
<path class="c56" d="M2607 3126l23 0 7 3-23 1z"/>
<path class="c57" d="M2584 3127l23-1 7 4-23 1z"/>
<path class="c58" d="M2538 3132l23-3 23-2 7 4-23 2-22 4z"/>
<path class="c59" d="M2515 3136l23-4 8 5-23 3z"/>
<path class="c60" d="M2470 3145l22-5 23-4 8 4-23 5-23 5z"/>
<path class="c48" d="M3175 2978l20-16 21-14 7 2-20 15-21 15zM2738 3150l10 4 7 0-10-4z"/>
<path class="c47" d="M3154 2995l21-17 7 2-21 16zM2748 3154l9 5 8 0-10-5z"/>
<path class="c46" d="M3133 3013l21-18 7 1-20 18zM2757 3159l10 6 7-1-9-5z"/>
<path class="c45" d="M3113 3033l20-20 8 1-21 19zM2767 3165l9 6 8-2-10-5z"/>
<path class="c44" d="M3103 3043l10-10 7 0-10 10zM2776 3171l10 7 7-3-9-6z"/>
<path class="c43" d="M3093 3053l10-10 7 0-9 10zM2786 3178l10 8 7-4-10-7z"/>
<path class="c42" d="M3074 3076l10-12 9-11 8 0-10 10-9 11z"/>
<path class="c41" d="M3065 3088l9-12 8-2-10 11zM2796 3186l9 8 8-5-10-7z"/>
<path class="c40" d="M3055 3101l10-13 7-3-10 12zM2805 3194l10 9 7-7-9-7z"/>
<path class="c39" d="M3045 3114l10-13 7-4-9 12zM2815 3203l9 9 8-8-10-8z"/>
<path class="c38" d="M3036 3128l9-14 8-5-10 13z"/>
<path class="c37" d="M3026 3142l10-14 7-6-9 13zM2824 3212l10 9 7-9-9-8z"/>
<path class="c36" d="M3017 3157l9-15 8-7-10 14zM2834 3221l10 9 7-10-10-8z"/>
<path class="c34" d="M3007 3172l10-15 7-8-10 13zM2844 3230l9 9 8-12-10-7z"/>
<path class="c33" d="M2997 3187l10-15 7-10-9 14zM2853 3239l10 9 7-14-9-7z"/>
<path class="c32" d="M2988 3201l9-14 8-11-10 13zM2863 3248l9 8 8-15-10-7z"/>
<path class="c31" d="M2978 3215l10-14 7-12-10 12z"/>
<path class="c30" d="M2968 3229l10-14 7-14-9 12zM2872 3256l10 7 7-17-9-5z"/>
<path class="c29" d="M2959 3241l9-12 8-16-10 11zM2882 3263l10 5 7-18-10-4z"/>
<path class="c28" d="M2940 3260l9-9 10-10 7-17-9 9-10 8zM2892 3268l9 3 10 1 7-20-9 0-10-2z"/>
<path class="c27" d="M2911 3272l9-2 10-4 10-6 7-19-10 6-9 4-10 1z"/>
<path class="c49" d="M2728 3146l10 4 7 0-9-3z"/>
<path class="c50" d="M2705 3138l23 8 8 1-23-7z"/>
<path class="c52" d="M2683 3133l22 5 8 2-23-4z"/>
<path class="c54" d="M2660 3130l23 3 7 3-23-2z"/>
<path class="c55" d="M2637 3129l23 1 7 4-23-1z"/>
<path class="c56" d="M2614 3130l23-1 7 4-23 1z"/>
<path class="c57" d="M2591 3131l23-1 7 4-22 1z"/>
<path class="c58" d="M2546 3137l22-4 23-2 8 4-23 3-23 3z"/>
<path class="c59" d="M2523 3140l23-3 7 4-23 4z"/>
<path class="c60" d="M2477 3150l23-5 23-5 7 5-23 5-23 5z"/>
<path class="c49" d="M3203 2965l20-15 8 2-21 15zM2736 3147l9 3 10 4 7 1-9-4-10-3z"/>
<path class="c48" d="M3182 2980l21-15 7 2-21 15zM2755 3154l10 5 7-1-10-3z"/>
<path class="c47" d="M3161 2996l21-16 7 2-20 15zM2765 3159l9 5 7-1-9-5z"/>
<path class="c46" d="M3141 3014l20-18 8 1-21 18zM2774 3164l10 5 7-1-10-5z"/>
<path class="c45" d="M3120 3033l21-19 7 1-21 18zM2784 3169l9 6 8-2-10-5z"/>
<path class="c44" d="M3101 3053l9-10 10-10 7 0-9 9-10 10z"/>
<path class="c43" d="M3091 3063l10-10 7-1-9 10zM2793 3175l10 7 7-4-9-5z"/>
<path class="c42" d="M3072 3085l10-11 9-11 8-1-10 10-10 11zM2803 3182l10 7 7-5-10-6z"/>
<path class="c41" d="M3062 3097l10-12 7-2-9 11zM2813 3189l9 7 8-5-10-7z"/>
<path class="c40" d="M3053 3109l9-12 8-3-10 11zM2822 3196l10 8 7-7-9-6z"/>
<path class="c39" d="M3043 3122l10-13 7-4-10 12zM2832 3204l9 8 8-8-10-7z"/>
<path class="c38" d="M3034 3135l9-13 7-5-9 12z"/>
<path class="c37" d="M3024 3149l10-14 7-6-10 12zM2841 3212l10 8 7-10-9-6z"/>
<path class="c36" d="M3014 3162l10-13 7-8-9 12zM2851 3220l10 7 7-11-10-6z"/>
<path class="c35" d="M3005 3176l9-14 8-9-10 12zM2861 3227l9 7 8-12-10-6z"/>
<path class="c34" d="M2995 3189l10-13 7-11-10 12zM2870 3234l10 7 7-14-9-5z"/>
<path class="c33" d="M2985 3201l10-12 7-12-9 11zM2880 3241l9 5 8-15-10-4z"/>
<path class="c32" d="M2976 3213l9-12 8-13-10 11zM2889 3246l10 4 7-16-9-3z"/>
<path class="c31" d="M2957 3233l9-9 10-11 7-14-9 10-10 8zM2899 3250l10 2 7-17-10-1z"/>
<path class="c30" d="M2909 3252l9 0 10-1 9-4 10-6 10-8 7-16-10 7-9 5-10 4-9 2-10 0z"/>
<path class="c51" d="M2713 3140l23 7 7 1-23-6z"/>
<path class="c52" d="M2690 3136l23 4 7 2-23-3z"/>
<path class="c54" d="M2667 3134l23 2 7 3-22-2z"/>
<path class="c55" d="M2644 3133l23 1 8 3-23 0z"/>
<path class="c56" d="M2621 3134l23-1 8 4-23 1z"/>
<path class="c57" d="M2599 3135l22-1 8 4-23 1z"/>
<path class="c58" d="M2576 3138l23-3 7 4-23 3z"/>
<path class="c59" d="M2530 3145l23-4 23-3 7 4-23 4-23 4z"/>
<path class="c60" d="M2484 3155l23-5 23-5 7 5-22 4-23 5z"/>
<path class="c49" d="M3189 2982l21-15 21-15 7 3-20 14-21 14zM2753 3151l9 4 8 0-10-3z"/>
<path class="c48" d="M3169 2997l20-15 8 1-21 16zM2762 3155l10 3 7 0-9-3z"/>
<path class="c47" d="M3148 3015l21-18 7 2-21 16zM2772 3158l9 5 8-1-10-4z"/>
<path class="c46" d="M3127 3033l21-18 7 0-20 18zM2781 3163l10 5 7-2-9-4z"/>
<path class="c45" d="M3118 3042l9-9 8 0-10 9zM2791 3168l10 5 7-3-10-4z"/>
<path class="c44" d="M3099 3062l9-10 10-10 7 0-9 9-10 9zM2801 3173l9 5 8-3-10-5z"/>
<path class="c43" d="M3089 3072l10-10 7-2-10 10zM2810 3178l10 6 7-4-9-5z"/>
<path class="c42" d="M3070 3094l9-11 10-11 7-2-9 10-10 10zM2820 3184l10 7 7-6-10-5z"/>
<path class="c41" d="M3060 3105l10-11 7-4-10 11zM2830 3191l9 6 8-6-10-6z"/>
<path class="c40" d="M3050 3117l10-12 7-4-9 11zM2839 3197l10 7 7-8-9-5z"/>
<path class="c39" d="M3041 3129l9-12 8-5-10 11zM2849 3204l9 6 8-9-10-5z"/>
<path class="c38" d="M3022 3153l9-12 10-12 7-6-9 11-10 11zM2858 3210l10 6 7-10-9-5z"/>
<path class="c37" d="M3012 3165l10-12 7-8-10 11zM2868 3216l10 6 7-12-10-4z"/>
<path class="c36" d="M3002 3177l10-12 7-9-9 10zM2878 3222l9 5 8-13-10-4z"/>
<path class="c35" d="M2993 3188l9-11 8-11-10 11zM2887 3227l10 4 7-14-9-3z"/>
<path class="c34" d="M2974 3209l9-10 10-11 7-11-9 9-10 9zM2897 3231l9 3 8-15-10-2z"/>
<path class="c33" d="M2906 3234l10 1 10 0 9-2 10-4 9-5 10-7 10-8 7-14-10 7-9 6-10 5-9 4-10 2-10 1-9-1z"/>
<path class="c50" d="M2743 3148l10 3 7 1-10-3z"/>
<path class="c51" d="M2720 3142l23 6 7 1-22-4z"/>
<path class="c53" d="M2697 3139l23 3 8 3-23-3z"/>
<path class="c54" d="M2675 3137l22 2 8 3-23-2z"/>
<path class="c55" d="M2652 3137l23 0 7 3-23 0z"/>
<path class="c56" d="M2629 3138l23-1 7 3-23 1z"/>
<path class="c57" d="M2606 3139l23-1 7 3-23 3z"/>
<path class="c58" d="M2583 3142l23-3 7 5-22 2z"/>
<path class="c59" d="M2537 3150l23-4 23-4 8 4-23 4-23 4z"/>
<path class="c60" d="M2492 3159l23-5 22-4 8 4-23 5-23 5z"/>
<path class="c50" d="M3218 2969l20-14 8 2-21 14zM2750 3149l10 3 10 3 7 0-10-2-9-3z"/>
<path class="c49" d="M3197 2983l21-14 7 2-21 14zM2770 3155l9 3 8 0-10-3z"/>
<path class="c48" d="M3176 2999l21-16 7 2-21 15zM2779 3158l10 4 7-1-9-3z"/>
<path class="c47" d="M3155 3015l21-16 7 1-20 16zM2789 3162l9 4 8-2-10-3z"/>
<path class="c46" d="M3125 3042l10-9 20-18 8 1-21 17-9 8zM2798 3166l10 4 7-2-9-4z"/>
<path class="c45" d="M3106 3060l10-9 9-9 8-1-10 9-10 9zM2808 3170l10 5 7-3-10-4z"/>
<path class="c44" d="M3096 3070l10-10 7-1-9 9zM2818 3175l9 5 8-4-10-4z"/>
<path class="c43" d="M3077 3090l10-10 9-10 8-2-10 9-10 10zM2827 3180l10 5 7-5-9-4z"/>
<path class="c42" d="M3067 3101l10-11 7-3-9 10zM2837 3185l10 6 7-6-10-5z"/>
<path class="c41" d="M3048 3123l10-11 9-11 8-4-10 10-9 10zM2847 3191l9 5 8-7-10-4z"/>
<path class="c40" d="M3039 3134l9-11 8-6-10 10zM2856 3196l10 5 7-8-9-4z"/>
<path class="c39" d="M3029 3145l10-11 7-7-10 10zM2866 3201l9 5 10 4 7-10-9-3-10-4z"/>
<path class="c38" d="M3010 3166l9-10 10-11 7-8-9 10-10 10zM2885 3210l10 4 7-11-10-3z"/>
<path class="c37" d="M3000 3177l10-11 7-9-9 9zM2895 3214l9 3 8-12-10-2z"/>
<path class="c36" d="M2981 3195l10-9 9-9 8-11-10 9-10 7zM2904 3217l10 2 9 1 8-14-10 0-9-1z"/>
<path class="c35" d="M2923 3220l10-1 10-2 9-4 10-5 9-6 10-7 7-13-9 7-10 6-9 5-10 3-10 2-9 1z"/>
<path class="c52" d="M2728 3145l22 4 8 1-23-3z"/>
<path class="c53" d="M2705 3142l23 3 7 2-23-3z"/>
<path class="c54" d="M2682 3140l23 2 7 2-23-1z"/>
<path class="c55" d="M2659 3140l23 0 7 3-23 1z"/>
<path class="c56" d="M2636 3141l23-1 7 4-22 1z"/>
<path class="c57" d="M2613 3144l23-3 8 4-23 3z"/>
<path class="c58" d="M2591 3146l22-2 8 4-23 3z"/>
<path class="c59" d="M2545 3154l23-4 23-4 7 5-23 4-23 4z"/>
<path class="c60" d="M2499 3164l23-5 23-5 7 5-23 5-22 5z"/>
<path class="c50" d="M3225 2971l21-14 7 2-21 14zM2767 3153l10 2 10 3 7 0-10-3-9-2z"/>
<path class="c49" d="M3183 3000l21-15 21-14 7 2-20 14-21 14zM2787 3158l9 3 8-1-10-2z"/>
<path class="c48" d="M3163 3016l20-16 8 1-21 16zM2796 3161l10 3 7-1-9-3z"/>
<path class="c47" d="M3142 3033l21-17 7 1-20 16zM2806 3164l9 4 8-2-10-3z"/>
<path class="c46" d="M3123 3050l10-9 9-8 8 0-10 8-10 8zM2815 3168l10 4 7-3-9-3z"/>
<path class="c45" d="M3104 3068l9-9 10-9 7-1-9 9-10 8zM2825 3172l10 4 9 4 8-4-10-4-10-3z"/>
<path class="c44" d="M3084 3087l10-10 10-9 7-2-10 9-9 9zM2844 3180l10 5 7-6-9-3z"/>
<path class="c43" d="M3075 3097l9-10 8-3-10 9zM2854 3185l10 4 7-6-10-4z"/>
<path class="c42" d="M3056 3117l9-10 10-10 7-4-9 10-10 9zM2864 3189l9 4 8-7-10-3z"/>
<path class="c41" d="M3046 3127l10-10 7-5-10 9zM2873 3193l10 4 7-8-9-3z"/>
<path class="c40" d="M3027 3147l9-10 10-10 7-6-9 9-10 10zM2883 3197l9 3 8-9-10-2z"/>
<path class="c39" d="M3008 3166l9-9 10-10 7-7-9 8-10 9zM2892 3200l10 3 10 2 7-11-10-1-9-2z"/>
<path class="c38" d="M2988 3182l10-7 10-9 7-9-10 7-9 7zM2912 3205l9 1 10 0 7-12-9 1-10-1z"/>
<path class="c37" d="M2931 3206l9-1 10-2 10-3 9-5 10-6 9-7 8-11-10 7-9 5-10 4-10 4-9 2-10 1z"/>
<path class="c51" d="M2758 3150l9 3 8 0-10-1z"/>
<path class="c52" d="M2735 3147l23 3 7 2-23-3z"/>
<path class="c53" d="M2712 3144l23 3 7 2-22-2z"/>
<path class="c55" d="M2689 3143l23 1 8 3-23 0z"/>
<path class="c56" d="M2666 3144l23-1 8 4-23 0z"/>
<path class="c57" d="M2621 3148l23-3 22-1 8 3-23 2-23 3z"/>
<path class="c58" d="M2598 3151l23-3 7 4-23 3z"/>
<path class="c59" d="M2575 3155l23-4 7 4-23 4z"/>
<path class="c60" d="M2529 3164l23-5 23-4 7 4-22 4-23 5z"/>
<path class="c61" d="M2507 3169l22-5 8 4-23 6z"/>
<path class="c50" d="M3212 2987l20-14 21-14 7 2-20 14-21 13zM2784 3155l10 3 7 0-9-2z"/>
<path class="c49" d="M3191 3001l21-14 7 1-21 15zM2794 3158l10 2 9 3 8-1-10-2-10-2z"/>
<path class="c48" d="M3150 3033l20-16 21-16 7 2-20 15-21 15zM2813 3163l10 3 7-2-9-2z"/>
<path class="c47" d="M3130 3049l10-8 10-8 7 0-10 8-9 8zM2823 3166l9 3 8-2-10-3z"/>
<path class="c46" d="M3111 3066l10-8 9-9 8 0-10 8-10 8zM2832 3169l10 3 10 4 7-4-10-3-9-2z"/>
<path class="c45" d="M3092 3084l9-9 10-9 7-1-9 8-10 9zM2852 3176l9 3 8-5-10-2z"/>
<path class="c44" d="M3082 3093l10-9 7-2-9 8zM2861 3179l10 4 7-6-9-3z"/>
<path class="c43" d="M3063 3112l10-9 9-10 8-3-10 9-10 8zM2871 3183l10 3 7-7-10-2z"/>
<path class="c42" d="M3044 3130l9-9 10-9 7-5-9 9-10 8zM2881 3186l9 3 10 2 7-8-10-2-9-2z"/>
<path class="c41" d="M3025 3148l9-8 10-10 7-6-9 9-10 8zM2900 3191l9 2 10 1 7-9-9-1-10-1z"/>
<path class="c40" d="M3005 3164l10-7 10-9 7-7-10 7-9 7zM2919 3194l10 1 9-1 8-10-10 1-10 0z"/>
<path class="c39" d="M2938 3194l10-1 9-2 10-4 10-4 9-5 10-7 9-7 8-9-10 7-9 6-10 5-10 4-9 3-10 3-9 1z"/>
<path class="c51" d="M2765 3152l10 1 9 2 8 1-10-2-9-1z"/>
<path class="c52" d="M2742 3149l23 3 8 1-23-2z"/>
<path class="c54" d="M2720 3147l22 2 8 2-23-1z"/>
<path class="c55" d="M2697 3147l23 0 7 3-23 0z"/>
<path class="c56" d="M2674 3147l23 0 7 3-23 1z"/>
<path class="c57" d="M2651 3149l23-2 7 4-23 2z"/>
<path class="c58" d="M2605 3155l23-3 23-3 7 4-22 3-23 3z"/>
<path class="c59" d="M2582 3159l23-4 8 4-23 4z"/>
<path class="c60" d="M2537 3168l23-5 22-4 8 4-23 5-23 5z"/>
<path class="c61" d="M2514 3174l23-6 7 5-23 5z"/>
<path class="c51" d="M3240 2975l20-14 8 3-21 13zM2782 3154l10 2 9 2 8 0-10-2-9-1z"/>
<path class="c50" d="M3198 3003l21-15 21-13 7 2-21 13-20 14zM2801 3158l10 2 7-1-9-1z"/>
<path class="c49" d="M3178 3018l20-15 8 1-21 14zM2811 3160l10 2 9 2 8-1-10-2-10-2z"/>
<path class="c48" d="M3147 3041l10-8 21-15 7 0-21 16-9 7zM2830 3164l10 3 7-3-9-1z"/>
<path class="c47" d="M3128 3057l10-8 9-8 8 0-10 7-10 8zM2840 3167l9 2 10 3 7-4-9-2-10-2z"/>
<path class="c46" d="M3109 3073l9-8 10-8 7-1-9 7-10 8zM2859 3172l10 2 7-4-10-2z"/>
<path class="c45" d="M3090 3090l9-8 10-9 7-2-9 8-10 8zM2869 3174l9 3 8-5-10-2z"/>
<path class="c44" d="M3070 3107l10-8 10-9 7-3-10 8-9 8zM2878 3177l10 2 9 2 8-6-10-1-9-2z"/>
<path class="c43" d="M3051 3124l10-8 9-9 8-4-10 8-9 8zM2897 3181l10 2 10 1 7-7-10-1-9-1z"/>
<path class="c42" d="M3022 3148l10-7 10-8 9-9 8-5-10 8-10 7-9 7zM2917 3184l9 1 10 0 7-9-9 1-10 0z"/>
<path class="c41" d="M2936 3185l10-1 9-1 10-3 9-3 10-4 10-5 9-6 10-7 9-7 8-7-10 6-9 6-10 6-10 5-9 4-10 3-9 3-10 1-10 1z"/>
<path class="c52" d="M2773 3153l9 1 8 1-10-1z"/>
<path class="c53" d="M2750 3151l23 2 7 1-23-1z"/>
<path class="c54" d="M2727 3150l23 1 7 2-23-1z"/>
<path class="c55" d="M2704 3150l23 0 7 2-23 1z"/>
<path class="c56" d="M2681 3151l23-1 7 3-22 1z"/>
<path class="c57" d="M2658 3153l23-2 8 3-23 3z"/>
<path class="c58" d="M2636 3156l22-3 8 4-23 3z"/>
<path class="c59" d="M2590 3163l23-4 23-3 7 4-23 3-23 5z"/>
<path class="c60" d="M2544 3173l23-5 23-5 7 5-23 4-22 6z"/>
<path class="c61" d="M2521 3178l23-5 8 5-23 5z"/>
<path class="c51" d="M3226 2990l21-13 21-13 7 2-21 13-20 13zM2799 3156l10 2 9 1 8 0-10-1-9-1z"/>
<path class="c50" d="M3206 3004l20-14 8 2-21 13zM2818 3159l10 2 7-1-9-1z"/>
<path class="c49" d="M3164 3034l21-16 21-14 7 1-21 14-20 15zM2828 3161l10 2 9 1 8-1-10-2-10-1z"/>
<path class="c48" d="M3145 3048l10-7 9-7 8 0-10 7-10 7zM2847 3164l10 2 9 2 8-3-10-1-9-1z"/>
<path class="c47" d="M3116 3071l10-8 9-7 10-8 7 0-9 7-10 7-9 8zM2866 3168l10 2 7-3-9-2z"/>
<path class="c46" d="M3097 3087l10-8 9-8 8-1-10 7-10 8zM2876 3170l10 2 9 2 8-5-10-1-10-1z"/>
<path class="c45" d="M3068 3111l10-8 9-8 10-8 7-2-9 7-10 8-9 7zM2895 3174l10 1 9 1 8-6-10 0-9-1z"/>
<path class="c44" d="M3049 3127l10-8 9-8 8-4-10 7-10 7zM2914 3176l10 1 10 0 7-7-10 0-9 0z"/>
<path class="c43" d="M3020 3147l10-6 9-7 10-7 7-6-9 7-10 7-9 6zM2934 3177l9-1 10-1 10-1 7-8-10 2-9 1-10 1z"/>
<path class="c42" d="M2963 3174l9-3 10-3 9-4 10-5 10-6 9-6 8-6-10 5-10 5-9 5-10 4-9 3-10 3z"/>
<path class="c52" d="M2780 3154l10 1 9 1 8 1-10-1-10 0z"/>
<path class="c53" d="M2757 3153l23 1 7 2-22-1z"/>
<path class="c54" d="M2734 3152l23 1 8 2-23 0z"/>
<path class="c55" d="M2711 3153l23-1 8 3-23 1z"/>
<path class="c56" d="M2689 3154l22-1 8 3-23 2z"/>
<path class="c57" d="M2666 3157l23-3 7 4-23 2z"/>
<path class="c58" d="M2643 3160l23-3 7 3-23 4z"/>
<path class="c59" d="M2597 3168l23-5 23-3 7 4-23 4-22 4z"/>
<path class="c60" d="M2552 3178l22-6 23-4 8 4-23 5-23 5z"/>
<path class="c61" d="M2529 3183l23-5 7 4-23 6z"/>
<path class="c51" d="M3234 2992l20-13 21-13 7 2-20 13-21 12zM2816 3158l10 1 9 1 8 0-10-1-9-1z"/>
<path class="c50" d="M3192 3019l21-14 21-13 7 1-21 14-20 13zM2835 3160l10 1 10 2 7-2-10-1-9 0z"/>
<path class="c49" d="M3162 3041l10-7 20-15 8 1-21 14-10 7zM2855 3163l9 1 8-2-10-1z"/>
<path class="c48" d="M3133 3062l10-7 9-7 10-7 7 0-9 7-10 7-9 7zM2864 3164l10 1 9 2 8-3-10-1-9-1z"/>
<path class="c47" d="M3104 3085l10-8 10-7 9-8 8 0-10 7-10 7-9 7zM2883 3167l10 1 10 1 7-4-10-1-9 0z"/>
<path class="c46" d="M3076 3107l9-7 10-8 9-7 8-2-10 7-9 7-10 7zM2903 3169l9 1 10 0 7-5-9 0-10 0z"/>
<path class="c45" d="M3047 3128l9-7 10-7 10-7 7-3-10 6-9 7-10 6zM2922 3170l9 0 10 0 7-6-9 1-10 0z"/>
<path class="c44" d="M2941 3170l10-1 9-1 10-2 10-3 9-3 10-4 9-5 10-5 10-5 9-6 10-7 7-5-9 6-10 6-10 5-9 5-10 4-9 4-10 3-10 3-9 2-10 2-10 1z"/>
<path class="c52" d="M2797 3156l10 1 9 1 8 0-10 0-10-1z"/>
<path class="c53" d="M2787 3156l10 0 7 1-9 0z"/>
<path class="c54" d="M2765 3155l22 1 8 1-23 0z"/>
<path class="c55" d="M2742 3155l23 0 7 2-23 1z"/>
<path class="c56" d="M2719 3156l23-1 7 3-23 1z"/>
<path class="c57" d="M2673 3160l23-2 23-2 7 3-23 2-22 3z"/>
<path class="c58" d="M2650 3164l23-4 8 4-23 4z"/>
<path class="c59" d="M2605 3172l22-4 23-4 8 4-23 4-23 4z"/>
<path class="c60" d="M2559 3182l23-5 23-5 7 4-23 5-23 6z"/>
<path class="c61" d="M2536 3188l23-6 7 5-23 5z"/>
<path class="c52" d="M3262 2981l20-13 8 3-21 12zM2814 3158l10 0 9 1 8 0-10 0-10 0z"/>
<path class="c51" d="M3220 3007l21-14 21-12 7 2-21 12-20 13zM2833 3159l10 1 9 0 8 0-10-1-9 0z"/>
<path class="c50" d="M3179 3034l21-14 20-13 8 1-21 13-21 14zM2852 3160l10 1 10 1 7-1-10-1-9 0z"/>
<path class="c49" d="M3150 3055l10-7 9-7 10-7 7 1-9 6-10 7-9 6zM2872 3162l9 1 10 1 7-3-9 0-10 0z"/>
<path class="c48" d="M3121 3076l10-7 10-7 9-7 8-1-10 7-10 7-9 6zM2891 3164l9 0 10 1 7-3-9 0-10-1z"/>
<path class="c47" d="M3093 3097l9-7 10-7 9-7 8-2-10 7-9 7-10 6zM2910 3165l10 0 9 0 8-4-10 0-10 1z"/>
<path class="c46" d="M3054 3123l10-6 9-7 10-6 10-7 7-3-10 7-9 6-10 6-9 6zM2929 3165l10 0 9-1 10-1 7-5-9 1-10 1-9 1z"/>
<path class="c45" d="M2958 3163l10-2 9-2 10-3 10-3 9-4 10-4 9-5 10-5 10-6 9-6 8-4-10 6-10 5-9 5-10 5-10 4-9 4-10 3-9 3-10 2-10 2z"/>
<path class="c53" d="M2795 3157l9 0 10 1 7 1-9 0-10 0z"/>
<path class="c54" d="M2772 3157l23 0 7 2-23 0z"/>
<path class="c55" d="M2749 3158l23-1 7 2-23 1z"/>
<path class="c56" d="M2726 3159l23-1 7 2-22 2z"/>
<path class="c57" d="M2703 3161l23-2 8 3-23 3z"/>
<path class="c58" d="M2658 3168l23-4 22-3 8 4-23 3-23 4z"/>
<path class="c59" d="M2635 3172l23-4 7 4-23 4z"/>
<path class="c60" d="M2589 3181l23-5 23-4 7 4-23 5-22 5z"/>
<path class="c61" d="M2543 3192l23-5 23-6 8 5-23 5-23 6z"/>
<path class="c52" d="M3228 3008l20-13 21-12 21-12 17 5-20 12-21 12-21 12zM2841 3159l9 0 10 1 17 0-9 0-10 1z"/>
<path class="c51" d="M3186 3035l21-14 21-13 17 4-20 12-21 13zM2860 3160l9 0 10 1 10 0 17-3-9 1-10 0-10 1z"/>
<path class="c50" d="M3148 3061l10-7 9-6 10-7 9-6 18 2-10 6-9 6-10 6-9 5zM2889 3161l9 0 10 1 17-5-9 1-10 0z"/>
<path class="c49" d="M3119 3081l10-7 9-6 10-7 18-1-10 6-10 6-9 6zM2908 3162l9 0 10-1 10 0 17-7-9 1-10 1-10 1z"/>
<path class="c48" d="M3071 3113l10-6 9-6 10-7 10-6 9-7 18-3-10 6-9 6-10 6-10 5-9 6zM2937 3161l9-1 10-1 9-1 18-9-10 2-9 1-10 2z"/>
<path class="c47" d="M2965 3158l10-2 10-2 9-3 10-3 9-4 10-4 10-5 9-5 10-5 10-6 9-6 18-6-10 5-10 5-9 5-10 4-9 4-10 4-10 4-9 3-10 3-9 3-10 2z"/>
<path class="c53" d="M2821 3159l10 0 10 0 17 2-9 0-10 1z"/>
<path class="c54" d="M2802 3159l10 0 9 0 18 3-10 0-9 1z"/>
<path class="c55" d="M2779 3159l23 0 18 4-23 2z"/>
<path class="c56" d="M2756 3160l23-1 18 6-23 2z"/>
<path class="c57" d="M2711 3165l23-3 22-2 18 7-23 3-23 3z"/>
<path class="c58" d="M2688 3168l23-3 17 8-23 4z"/>
<path class="c59" d="M2642 3176l23-4 23-4 17 9-22 4-23 5z"/>
<path class="c60" d="M2597 3186l22-5 23-5 18 10-23 5-23 5z"/>
<path class="c61" d="M2551 3197l23-6 23-5 17 10-23 6-23 6z"/>
<path class="c53" d="M3245 3012l21-12 21-12 20-12 18 6-21 11-20 12-21 11zM2868 3160l9 0 10-1 10 0 17 0-9 1-10 1-10 1z"/>
<path class="c52" d="M3194 3043l10-6 21-13 20-12 18 4-21 12-20 11-10 6zM2897 3159l9-1 10 0 9-1 18-2-10 1-9 2-10 1z"/>
<path class="c51" d="M3146 3072l10-6 10-6 9-5 10-6 9-6 18 2-10 5-9 6-10 5-10 6-9 5zM2925 3157l10-1 10-1 9-1 18-4-10 2-9 2-10 1z"/>
<path class="c50" d="M3089 3107l9-6 10-5 10-6 9-6 10-6 9-6 18 0-10 5-9 6-10 5-10 5-9 5-10 5zM2954 3154l10-2 9-1 10-2 10-2 17-6-9 3-10 2-10 2-9 2z"/>
<path class="c49" d="M2993 3147l9-3 10-3 9-3 10-4 10-4 9-4 10-4 9-5 10-5 10-5 17-4-9 5-10 4-10 5-9 4-10 4-9 4-10 3-10 3-9 3-10 3z"/>
<path class="c54" d="M2839 3162l10-1 9 0 10-1 17 2-9 1-10 1-10 1z"/>
<path class="c55" d="M2820 3163l9-1 10 0 17 3-9 1-10 2z"/>
<path class="c56" d="M2774 3167l23-2 23-2 17 5-23 3-22 3z"/>
<path class="c57" d="M2751 3170l23-3 18 7-23 4z"/>
<path class="c58" d="M2705 3177l23-4 23-3 18 8-23 4-23 4z"/>
<path class="c59" d="M2683 3181l22-4 18 9-23 5z"/>
<path class="c60" d="M2637 3191l23-5 23-5 17 10-23 5-22 5z"/>
<path class="c61" d="M2568 3208l23-6 23-6 23-5 18 10-23 6-23 6-23 6z"/>
<path class="c54" d="M3284 3005l20-12 21-11 18 6-21 11-21 11zM2885 3162l10-1 10-1 9-1 10-1 17 1-9 2-10 1-10 2-9 1z"/>
<path class="c53" d="M3202 3050l10-5 10-6 20-11 21-12 21-11 17 5-21 11-20 11-21 11-10 5-9 5zM2924 3158l9-2 10-1 10-1 9-2 18-1-10 2-10 2-9 2-10 2z"/>
<path class="c52" d="M3135 3088l10-5 9-6 10-5 9-5 10-6 10-5 9-6 18 3-10 5-9 5-10 5-10 5-9 5-10 5-9 5zM2962 3152l10-2 9-2 10-2 10-2 9-3 18-2-10 3-9 2-10 3-10 2-9 2z"/>
<path class="c51" d="M3010 3141l10-3 9-3 10-3 10-3 9-4 10-4 9-4 10-5 10-4 9-5 10-5 9-5 10-5 18 0-10 5-10 4-9 5-10 4-9 5-10 4-10 4-9 4-10 3-9 4-10 3-10 3-9 3z"/>
<path class="c55" d="M2856 3165l10-1 10-1 9-1 18 3-10 2-9 1-10 2z"/>
<path class="c56" d="M2814 3171l23-3 10-2 9-1 18 5-10 2-9 1-23 4z"/>
<path class="c57" d="M2792 3174l22-3 18 6-23 4z"/>
<path class="c58" d="M2746 3182l23-4 23-4 17 7-23 5-23 4z"/>
<path class="c59" d="M2700 3191l23-5 23-4 17 8-22 5-23 5z"/>
<path class="c60" d="M2655 3201l22-5 23-5 18 9-23 6-23 6z"/>
<path class="c61" d="M2609 3213l23-6 23-6 17 11-23 6-23 6z"/>
<path class="c62" d="M2586 3219l23-6 17 11-22 6z"/>
<path class="c55" d="M3301 3010l21-11 21-11 17 7-21 10-20 11zM2912 3164l10-2 10-1 9-2 10-2 17 3-9 2-10 2-9 2-10 2z"/>
<path class="c54" d="M3220 3053l9-5 10-5 21-11 20-11 21-11 18 6-21 10-21 11-20 10-10 5-10 5zM2951 3157l9-2 10-2 10-2 9-2 10-2 17 1-9 2-10 3-9 2-10 2-10 3z"/>
<path class="c53" d="M2999 3147l10-3 9-2 10-3 9-3 10-3 10-3 9-4 10-3 9-4 10-4 10-4 9-5 10-4 9-5 10-4 10-5 9-5 10-5 9-5 10-5 10-5 9-5 10-5 17 4-9 5-10 4-9 5-10 5-10 5-9 4-10 5-9 4-10 5-10 4-9 4-10 4-9 4-10 4-10 4-9 3-10 4-9 3-10 3-10 3-9 3-10 3-10 3z"/>
<path class="c56" d="M2874 3170l10-2 9-1 10-2 9-1 18 4-10 2-9 2-10 2-9 1z"/>
<path class="c57" d="M2832 3177l23-4 9-1 10-2 18 5-10 2-10 2-22 5z"/>
<path class="c58" d="M2786 3186l23-5 23-4 18 7-23 5-23 5z"/>
<path class="c59" d="M2741 3195l22-5 23-4 18 8-23 5-23 5z"/>
<path class="c60" d="M2695 3206l23-6 23-5 17 9-23 6-23 6z"/>
<path class="c61" d="M2626 3224l23-6 23-6 23-6 17 10-22 6-23 6-23 7z"/>
<path class="c62" d="M2604 3230l22-6 18 11-23 6z"/>
<path class="c56" d="M3339 3005l21-10 18 6-21 11zM2920 3170l10-2 10-2 9-2 10-2 9-2 18 3-10 3-9 2-10 2-9 3-10 2z"/>
<path class="c55" d="M3237 3057l10-5 10-5 20-10 21-11 21-10 20-11 18 7-21 10-20 10-21 10-21 10-9 5-10 4zM2968 3160l10-3 10-2 9-2 10-3 9-2 10-3 10-3 17 2-9 3-10 3-10 3-9 3-10 2-9 3-10 2z"/>
<path class="c54" d="M3036 3142l9-3 10-3 10-3 9-3 10-4 9-3 10-4 10-4 9-4 10-4 9-4 10-4 10-5 9-4 10-5 9-4 10-5 10-5 9-5 10-4 9-5 18 4-10 5-9 5-10 4-9 5-10 4-10 4-9 5-10 4-9 4-10 4-10 4-9 4-10 4-10 4-9 4-10 3-9 4-10 3-10 3-9 3-10 3z"/>
<path class="c57" d="M2882 3177l10-2 9-1 10-2 9-2 18 5-10 2-9 2-10 3-9 2z"/>
<path class="c58" d="M2827 3189l23-5 22-5 10-2 18 7-10 2-23 5-23 6z"/>
<path class="c59" d="M2781 3199l23-5 23-5 17 8-23 5-22 6z"/>
<path class="c60" d="M2735 3210l23-6 23-5 18 9-23 6-23 6z"/>
<path class="c61" d="M2667 3228l23-6 22-6 23-6 18 10-23 6-23 6-23 7z"/>
<path class="c62" d="M2621 3241l23-6 23-7 17 11-22 6-23 7z"/>
<path class="c56" d="M3265 3057l9-5 21-10 21-10 20-10 21-10 21-11 17 8-20 10-21 9-21 10-21 10-20 10-10 4zM2986 3163l10-2 9-3 10-2 9-3 10-3 10-3 9-3 10-3 17 4-9 3-10 3-9 3-10 3-10 3-9 3-10 3-9 2z"/>
<path class="c55" d="M3063 3141l9-3 10-3 10-3 9-4 10-3 9-4 10-4 10-4 9-4 10-4 10-4 9-4 10-4 9-5 10-4 10-4 9-5 10-4 9-5 10-5 10-4 17 5-9 5-10 4-10 5-9 4-10 4-9 5-10 4-10 4-9 4-10 4-10 4-9 4-10 4-9 4-10 3-10 4-9 4-10 3-9 3-10 4-10 3z"/>
<path class="c57" d="M2928 3177l10-2 10-2 9-3 10-2 9-2 10-3 18 5-10 3-10 2-9 3-10 3-9 2-10 3z"/>
<path class="c58" d="M2890 3186l10-2 9-2 10-3 9-2 18 7-10 2-9 3-10 2-10 2z"/>
<path class="c59" d="M2821 3202l23-5 23-6 23-5 17 7-22 6-23 6-23 6z"/>
<path class="c60" d="M2776 3214l23-6 22-6 18 9-23 6-23 6z"/>
<path class="c61" d="M2707 3232l23-6 23-6 23-6 17 9-23 7-22 6-23 7z"/>
<path class="c62" d="M2639 3252l23-7 22-6 23-7 18 11-23 6-23 7-23 7z"/>
<path class="c57" d="M3312 3048l21-10 21-10 21-9 20-10 18 7-21 10-21 9-20 10-21 10zM2994 3171l10-3 9-2 10-3 9-3 10-3 10-3 9-3 10-3 9-3 18 5-10 3-9 3-10 3-9 3-10 3-10 3-9 3-10 3-10 3z"/>
<path class="c56" d="M3080 3145l10-3 10-4 9-3 10-3 9-4 10-4 10-3 9-4 10-4 9-4 10-4 10-4 9-4 10-4 10-4 9-5 10-4 9-4 10-5 10-4 9-5 10-4 20-10 18 7-21 9-9 4-10 5-10 4-9 4-10 4-9 5-10 4-10 4-9 4-10 4-9 4-10 4-10 4-9 4-10 3-9 4-10 4-10 3-9 4-10 3-9 4-10 3z"/>
<path class="c58" d="M2936 3186l10-2 10-3 9-2 10-3 9-3 10-2 17 6-9 3-10 2-9 3-10 3-10 3-9 2z"/>
<path class="c59" d="M2885 3199l22-6 10-2 10-2 9-3 18 7-10 3-9 3-10 2-23 6z"/>
<path class="c60" d="M2816 3217l23-6 23-6 23-6 17 8-23 7-22 6-23 7z"/>
<path class="c61" d="M2748 3236l22-6 23-7 23-6 18 10-23 6-23 7-23 6z"/>
<path class="c62" d="M2656 3263l23-7 23-7 23-6 23-7 17 10-23 7-23 7-22 7-23 7z"/>
<path class="c58" d="M3392 3026l21-10 17 8-20 9zM2992 3182l10-2 9-3 10-3 10-3 9-3 10-3 10-3 9-3 10-3 17 6-9 3-10 4-10 3-9 3-10 3-9 3-10 3-10 3-9 3z"/>
<path class="c57" d="M3079 3156l9-3 10-3 10-3 9-4 10-3 9-4 10-3 10-4 9-4 10-3 9-4 10-4 10-4 9-4 10-4 9-4 10-4 10-4 9-5 10-4 9-4 10-4 10-5 9-4 21-9 21-10 20-10 21-9 18 7-21 10-21 9-20 10-21 9-10 4-9 4-10 4-10 5-9 4-10 4-9 4-10 4-10 4-9 4-10 4-9 4-10 4-10 3-9 4-10 4-9 3-10 4-10 3-9 4-10 3-9 4-10 3-10 3z"/>
<path class="c59" d="M2925 3201l10-2 9-3 10-3 9-2 10-3 10-3 9-3 18 8-10 2-9 3-10 3-10 3-9 3-10 3-9 2z"/>
<path class="c60" d="M2857 3220l22-6 23-7 23-6 18 8-23 7-23 7-23 6z"/>
<path class="c61" d="M2788 3240l23-7 23-6 23-7 17 9-23 7-23 7-22 7z"/>
<path class="c62" d="M2697 3267l22-7 23-7 23-7 23-6 18 10-23 7-23 7-23 7-23 7z"/>
<path class="c63" d="M2674 3274l23-7 17 11-23 8z"/>
<path class="c58" d="M3067 3172l10-3 10-4 9-3 10-3 10-3 9-4 10-3 9-4 10-3 10-4 9-3 10-4 9-4 10-3 10-4 9-4 10-4 9-4 10-4 10-4 9-4 10-4 9-4 10-5 10-4 9-4 10-4 21-9 20-10 21-9 21-10 20-9 18 8-21 9-20 10-21 9-21 9-21 9-9 4-10 4-9 4-10 5-10 4-9 4-10 4-9 4-10 4-10 4-9 3-10 4-9 4-10 4-10 3-9 4-10 4-9 3-10 4-10 3-9 4-10 3-10 4-9 3-10 3-9 3-10 4z"/>
<path class="c59" d="M2981 3198l10-3 9-3 10-2 9-3 10-3 10-3 9-3 10-3 9-3 18 7-10 3-9 3-10 3-9 3-10 3-10 3-9 3-10 3-9 3z"/>
<path class="c60" d="M2897 3223l23-7 23-7 9-2 10-3 9-3 10-3 18 8-10 3-10 3-9 3-10 3-23 7-23 7z"/>
<path class="c61" d="M2828 3243l23-7 23-7 23-6 17 9-22 7-23 7-23 7z"/>
<path class="c62" d="M2737 3271l23-7 23-7 23-7 22-7 18 10-23 7-23 7-23 7-22 8z"/>
<path class="c63" d="M2691 3286l23-8 23-7 18 11-23 7-23 8z"/>
<path class="c59" d="M3386 3060l21-9 20-10 21-9 17 8-20 9-21 10-21 9zM3047 3191l9-3 10-3 9-3 10-3 10-4 9-3 10-3 9-3 10-4 10-3 9-4 10-3 10-4 9-3 18 7-10 3-10 4-9 4-10 3-9 3-10 4-10 3-9 4-10 3-9 3-10 4-10 3-9 3-10 3z"/>
<path class="c58" d="M3181 3145l10-4 9-4 10-3 10-4 9-4 10-4 9-3 10-4 10-4 9-4 10-4 9-4 10-4 10-5 9-4 10-4 9-4 21-9 21-9 17 8-20 9-21 9-10 4-9 4-10 4-9 4-10 4-10 4-9 4-10 4-9 4-10 4-10 4-9 3-10 4-10 4-9 4-10 3-9 4z"/>
<path class="c60" d="M2960 3218l10-3 9-3 10-3 10-3 9-3 10-3 9-3 10-3 10-3 17 8-9 3-10 3-10 4-9 3-10 3-9 3-10 3-10 3-9 3z"/>
<path class="c61" d="M2869 3246l23-7 22-7 23-7 23-7 18 9-23 7-23 7-23 8-23 7z"/>
<path class="c62" d="M2777 3274l23-7 23-7 23-7 23-7 17 10-23 7-22 7-23 8-23 7z"/>
<path class="c63" d="M2709 3297l23-8 23-7 22-8 18 11-23 8-23 7-23 8z"/>
<path class="c59" d="M3131 3176l10-3 10-4 9-3 10-3 9-4 10-4 10-3 9-4 10-3 9-4 10-4 10-4 9-3 10-4 10-4 9-4 10-4 9-4 10-4 10-4 9-4 10-4 9-4 10-4 21-9 20-9 21-9 21-10 20-9 18 9-21 9-20 9-21 9-21 9-20 9-10 4-10 4-9 4-10 4-9 4-10 4-10 4-9 4-10 4-10 3-9 4-10 4-9 4-10 4-10 3-9 4-10 4-9 3-10 4-10 3-9 4-10 3-9 4-10 3z"/>
<path class="c60" d="M3016 3215l10-3 9-3 10-4 10-3 9-3 10-3 9-3 10-3 10-4 9-3 10-3 9-4 18 8-10 4-9 3-10 3-9 4-10 3-10 3-9 4-10 3-9 3-10 3-10 3-9 4z"/>
<path class="c61" d="M2909 3249l23-8 23-7 23-7 9-3 10-3 10-3 9-3 18 9-10 3-10 3-9 3-10 3-23 8-22 7-23 8z"/>
<path class="c62" d="M2818 3278l23-8 22-7 23-7 23-7 18 10-23 7-23 7-23 8-23 8z"/>
<path class="c63" d="M2726 3308l23-8 23-7 23-8 23-7 17 11-22 7-23 8-23 7-23 8z"/></g></g>
<g class="axes"><path class="a" d="M217.6 373.2L217.6 285"/>
<path class="a" d="M217.6 373.2L274.4 414.9"/>
<path class="a" d="M274.4 414.9L348.3 384.3"/>
<path class="a" d="M217.6 285L219.4 284.2"/>
<path class="a" d="M217.6 307L219.4 306.3"/>
<path class="a" d="M217.6 329.1L219.4 328.3"/>
<path class="a" d="M217.6 351.1L219.4 350.4"/>
<path class="a" d="M217.6 373.2L219.4 372.4"/>
<path class="a" d="M217.6 373.2L219.4 372.4"/>
<path class="a" d="M246 394.1L247.8 393.3"/>
<path class="a" d="M274.4 414.9L276.2 414.1"/>
<path class="a" d="M274.4 414.9L273 413.9"/>
<path class="a" d="M311.4 399.6L309.9 398.6"/>
<path class="a" d="M348.3 384.3L346.9 383.3"/></g>
<text font-size="10.7" text-anchor="end" transform="matrix(0.7 0 0 1 213.1 287.2)">0</text>
<text font-size="10.7" text-anchor="end" transform="matrix(0.7 0 0 1 213.1 309.3)">-0.2</text>
<text font-size="10.7" text-anchor="end" transform="matrix(0.7 0 0 1 213.1 331.3)">-0.4</text>
<text font-size="10.7" text-anchor="end" transform="matrix(0.7 0 0 1 213.1 353.4)">-0.6</text>
<text font-size="10.7" text-anchor="end" transform="matrix(0.7 0 0 1 213.1 375.4)">-0.8</text>
<text font-size="10.7" text-anchor="end" transform="matrix(0.7 0 0 1 212.8 384.5)">5</text>
<text font-size="10.7" text-anchor="end" transform="matrix(0.7 0 0 1 241.2 405.4)">0</text>
<text font-size="10.7" text-anchor="end" transform="matrix(0.7 0 0 1 269.6 426.2)">-5</text>
<text font-size="10.7" transform="matrix(0.7 0 0 1 277.3 426.1)">-5</text>
<text font-size="10.7" transform="matrix(0.7 0 0 1 314.2 410.8)">0</text>
<text font-size="10.7" transform="matrix(0.7 0 0 1 351.2 395.5)">5</text>
<text font-size="10.7" text-anchor="middle" transform="matrix(0.7 0 0 1 238.6 426)">x<tspan font-size="7.7" dy="3.4">2</tspan></text>
<text font-size="10.7" text-anchor="middle" transform="matrix(0.7 0 0 1 313.3 428.1)">x<tspan font-size="7.7" dy="3.4">1</tspan></text>
<text font-size="10.7" text-anchor="middle" textLength="56.5" lengthAdjust="spacingAndGlyphs" transform="matrix(0 -1 0.7 0 189 330)">F23 ( x<tspan font-size="7.7" dy="3.4">1</tspan><tspan dy="-3.4"> , </tspan>x<tspan font-size="7.7" dy="3.4">2</tspan><tspan dy="-3.4"> )</tspan></text>
<text x="282" y="246.7" font-size="10.7" text-anchor="middle" textLength="59.5" lengthAdjust="spacingAndGlyphs">Parameter space</text>
<path class="g" d="M227.5 15.8L227.5 179.4"/>
<path class="g" d="M253 15.8L253 179.4"/>
<path class="g" d="M278.5 15.8L278.5 179.4"/>
<path class="g" d="M304 15.8L304 179.4"/>
<path class="g2" d="M202 123.3L329.5 123.3"/>
<path class="a" d="M202 15.8L329.5 15.8L329.5 179.4L202 179.4Z"/>
<path class="cv" d="M202.2 148.2L204.3 149.3L205.2 160L206.4 177.8L218 177.8"/>
<path class="cvb" d="M218 178.9L329.5 178.9"/>
<path class="a" d="M227.5 179.4L227.5 177.9M227.5 15.8L227.5 17.3"/>
<text font-size="10.4" text-anchor="middle" transform="matrix(0.7 0 0 1 227.5 190.6)">100</text>
<path class="a" d="M253 179.4L253 177.9M253 15.8L253 17.3"/>
<text font-size="10.4" text-anchor="middle" transform="matrix(0.7 0 0 1 253 190.6)">200</text>
<path class="a" d="M278.5 179.4L278.5 177.9M278.5 15.8L278.5 17.3"/>
<text font-size="10.4" text-anchor="middle" transform="matrix(0.7 0 0 1 278.5 190.6)">300</text>
<path class="a" d="M304 179.4L304 177.9M304 15.8L304 17.3"/>
<text font-size="10.4" text-anchor="middle" transform="matrix(0.7 0 0 1 304 190.6)">400</text>
<path class="a" d="M329.5 179.4L329.5 177.9M329.5 15.8L329.5 17.3"/>
<text font-size="10.4" text-anchor="middle" transform="matrix(0.7 0 0 1 329.5 190.6)">500</text>
<path class="a" d="M202 123.3L203.5 123.3M329.5 123.3L328 123.3"/>
<text font-size="10.4" text-anchor="end" transform="matrix(0.7 0 0 1 198.8 126.8)">-10<tspan font-size="6.4" dy="-6.6">1</tspan></text>
<rect x="271.5" y="20.4" width="54.3" height="16.8" class="a"/>
<path class="cv" d="M275.8 28.8L299.7 28.8"/>
<text x="301.9" y="32.1" font-size="10.4" textLength="20.6" lengthAdjust="spacingAndGlyphs">CZOA</text>
<text x="265" y="9" font-size="10.4" text-anchor="middle" textLength="62.4" lengthAdjust="spacingAndGlyphs">Convergence curve</text>
<text font-size="10.4" text-anchor="middle" textLength="108.5" lengthAdjust="spacingAndGlyphs" transform="matrix(0 -1 0.7 0 180.4 97.2)">Best score obtained so far</text>
<text x="264.8" y="202.2" font-size="10.4" text-anchor="middle" textLength="26.5" lengthAdjust="spacingAndGlyphs">Iteration</text>
<path class="g" d="M587.5 34.1L587.5 180.7"/>
<path class="g" d="M610.5 34.1L610.5 180.7"/>
<path class="g" d="M633.6 34.1L633.6 180.7"/>
<path class="g" d="M656.7 34.1L656.7 180.7"/>
<path class="g2" d="M565.2 47.7L680 47.7"/>
<path class="a" d="M565.2 34.1L680 34.1L680 180.7L565.2 180.7Z"/>
<path class="cv" d="M565.6 157L566 157L566.2 165.5L567.4 166L567.8 179.2L578 179.2"/>
<path class="cvb" d="M578 180.1L661.6 180.1"/>
<path class="a" d="M587.5 180.7L587.5 179.3M587.5 34.1L587.5 35.5"/>
<text font-size="9.4" text-anchor="middle" transform="matrix(0.7 0 0 1 587.5 191.5)">100</text>
<path class="a" d="M610.5 180.7L610.5 179.3M610.5 34.1L610.5 35.5"/>
<text font-size="9.4" text-anchor="middle" transform="matrix(0.7 0 0 1 610.5 191.5)">200</text>
<path class="a" d="M633.6 180.7L633.6 179.3M633.6 34.1L633.6 35.5"/>
<text font-size="9.4" text-anchor="middle" transform="matrix(0.7 0 0 1 633.6 191.5)">300</text>
<path class="a" d="M656.7 180.7L656.7 179.3M656.7 34.1L656.7 35.5"/>
<text font-size="9.4" text-anchor="middle" transform="matrix(0.7 0 0 1 656.7 191.5)">400</text>
<path class="a" d="M679.8 180.7L679.8 179.3M679.8 34.1L679.8 35.5"/>
<text font-size="9.4" text-anchor="middle" transform="matrix(0.7 0 0 1 679.8 191.5)">500</text>
<path class="a" d="M565.2 47.7L566.6 47.7M680 47.7L678.6 47.7"/>
<text font-size="9.4" text-anchor="end" transform="matrix(0.7 0 0 1 562.3 50.9)">-10<tspan font-size="5.8" dy="-5.9">1</tspan></text>
<rect x="627.4" y="39.1" width="49.5" height="14.7" class="a"/>
<path class="cv" d="M631.4 46.5L653.1 46.5"/>
<text x="655.1" y="49.4" font-size="9.4" textLength="18.8" lengthAdjust="spacingAndGlyphs">CZOA</text>
<text x="622" y="29.3" font-size="9.4" text-anchor="middle" textLength="56.3" lengthAdjust="spacingAndGlyphs">Convergence curve</text>
<text font-size="9.4" text-anchor="middle" textLength="98.5" lengthAdjust="spacingAndGlyphs" transform="matrix(0 -1 0.7 0 545.3 107.6)">Best score obtained so far</text>
<text x="621.5" y="202.6" font-size="9.4" text-anchor="middle" textLength="24" lengthAdjust="spacingAndGlyphs">Iteration</text>
<path class="g" d="M422.8 254.5L422.8 414.4"/>
<path class="g" d="M448.6 254.5L448.6 414.4"/>
<path class="g" d="M474.5 254.5L474.5 414.4"/>
<path class="g" d="M500.3 254.5L500.3 414.4"/>
<path class="g2" d="M396.8 305.4L526.5 305.4"/>
<path class="g2" d="M396.8 391.4L526.5 391.4"/>
<path class="a" d="M396.8 254.5L526.5 254.5L526.5 414.4L396.8 414.4Z"/>
<path class="cv" d="M397.5 370.3L397.5 408L399.3 408.5L399.8 413.4"/>
<path class="cvb" d="M399.8 413.9L526.5 413.9"/>
<path class="a" d="M422.8 414.4L422.8 412.8M422.8 254.5L422.8 256.1"/>
<text font-size="11" text-anchor="middle" transform="matrix(0.7 0 0 1 422.8 426)">100</text>
<path class="a" d="M448.6 414.4L448.6 412.8M448.6 254.5L448.6 256.1"/>
<text font-size="11" text-anchor="middle" transform="matrix(0.7 0 0 1 448.6 426)">200</text>
<path class="a" d="M474.5 414.4L474.5 412.8M474.5 254.5L474.5 256.1"/>
<text font-size="11" text-anchor="middle" transform="matrix(0.7 0 0 1 474.5 426)">300</text>
<path class="a" d="M500.3 414.4L500.3 412.8M500.3 254.5L500.3 256.1"/>
<text font-size="11" text-anchor="middle" transform="matrix(0.7 0 0 1 500.3 426)">400</text>
<path class="a" d="M526.2 414.4L526.2 412.8M526.2 254.5L526.2 256.1"/>
<text font-size="11" text-anchor="middle" transform="matrix(0.7 0 0 1 526.2 426)">500</text>
<path class="a" d="M396.8 305.4L398.4 305.4M526.5 305.4L524.9 305.4"/>
<text font-size="11" text-anchor="end" transform="matrix(0.7 0 0 1 393.4 309.1)">-10<tspan font-size="6.8" dy="-7">1.01</tspan></text>
<path class="a" d="M396.8 391.4L398.4 391.4M526.5 391.4L524.9 391.4"/>
<text font-size="11" text-anchor="end" transform="matrix(0.7 0 0 1 393.4 395.1)">-10<tspan font-size="6.8" dy="-7">1.02</tspan></text>
<rect x="465.3" y="259.9" width="57.2" height="16.4" class="a"/>
<path class="cv" d="M469.9 268.1L495 268.1"/>
<text x="497.3" y="271.6" font-size="11" textLength="21.7" lengthAdjust="spacingAndGlyphs">CZOA</text>
<text x="461" y="247.7" font-size="11" text-anchor="middle" textLength="66.5" lengthAdjust="spacingAndGlyphs">Convergence curve</text>
<text font-size="11" text-anchor="middle" textLength="107.5" lengthAdjust="spacingAndGlyphs" transform="matrix(0 -1 0.7 0 366.2 334.5)">Best score obtained so far</text>
<text x="460.8" y="437.5" font-size="11" text-anchor="middle" textLength="27" lengthAdjust="spacingAndGlyphs">Iteration</text>
</svg>
</body></html>
